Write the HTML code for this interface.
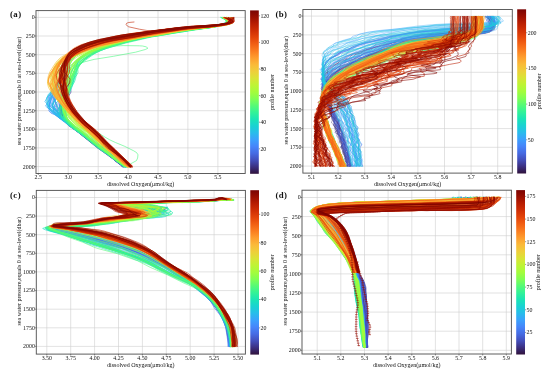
<!DOCTYPE html>
<html><head><meta charset="utf-8"><title>Dissolved oxygen profiles</title>
<style>
html,body{margin:0;padding:0;background:#fff}
body{width:550px;height:376px;overflow:hidden}
svg{display:block}
text{font-family:"Liberation Serif",serif;font-size:5.9px;fill:#111}
text.al{font-size:6px}
text.lt{font-size:8.8px;font-weight:bold;fill:#111;letter-spacing:.4px}
</style></head><body>
<svg width="550" height="376" viewBox="0 0 550 376">
<defs><linearGradient id="tb" x1="0" y1="0" x2="0" y2="1"><stop offset="0.000" stop-color="#7a0403"/><stop offset="0.042" stop-color="#9b0f01"/><stop offset="0.083" stop-color="#b91e02"/><stop offset="0.125" stop-color="#d02f05"/><stop offset="0.167" stop-color="#e4450a"/><stop offset="0.208" stop-color="#f26014"/><stop offset="0.250" stop-color="#fb7e21"/><stop offset="0.292" stop-color="#fe9e2f"/><stop offset="0.333" stop-color="#faba39"/><stop offset="0.375" stop-color="#eecf3a"/><stop offset="0.417" stop-color="#d9e436"/><stop offset="0.458" stop-color="#bef434"/><stop offset="0.500" stop-color="#a4fc3c"/><stop offset="0.542" stop-color="#80ff53"/><stop offset="0.583" stop-color="#55fa76"/><stop offset="0.625" stop-color="#32f298"/><stop offset="0.667" stop-color="#1ae4b6"/><stop offset="0.708" stop-color="#1ad2d2"/><stop offset="0.750" stop-color="#28bceb"/><stop offset="0.792" stop-color="#3ba0fd"/><stop offset="0.833" stop-color="#4685fa"/><stop offset="0.875" stop-color="#466be3"/><stop offset="0.917" stop-color="#434eba"/><stop offset="0.958" stop-color="#3b2f80"/><stop offset="1.000" stop-color="#30123b"/></linearGradient>
<clipPath id="ca"><rect x="36.0" y="10.6" width="209.2" height="162.9"/></clipPath>
<clipPath id="cb"><rect x="302.9" y="9.5" width="209.4" height="163.6"/></clipPath>
<clipPath id="cc"><rect x="36.3" y="190.4" width="209.1" height="163.7"/></clipPath>
<clipPath id="cd"><rect x="302.0" y="190.2" width="209.4" height="163.8"/></clipPath>
</defs>
<rect width="550" height="376" fill="#fff"/>
<path d="M38.3 10.6V173.5M68.2 10.6V173.5M98.2 10.6V173.5M128.1 10.6V173.5M158.0 10.6V173.5M187.9 10.6V173.5M217.9 10.6V173.5M36.0 17.4H245.2M36.0 36.0H245.2M36.0 54.7H245.2M36.0 73.3H245.2M36.0 92.0H245.2M36.0 110.7H245.2M36.0 129.3H245.2M36.0 147.9H245.2M36.0 166.6H245.2" stroke="#cfcfcf" stroke-width=".6" fill="none"/>
<g clip-path="url(#ca)" fill="none" stroke-width=".7" stroke-linejoin="round" stroke-linecap="round">
<path d="M229.3 17.7l-.7 3.9l-3.2 2.2l-3.9 1l-11.3 1.6l-19 1.2l-32 4.1l-23 4.2l-15.7 2.2l-8 1.6l-7.8 1.9l-10.9 3.2l-7.1 2.4l-11.4 4.8l-3.7 2.2l-3 2.5l-2.4 3.1l-1.3 3.6l-1.2 19.1l.9 3.7l1.5 3.6l.7 3.6l-2.8 7.2l-1.1 3.9l-.4 4.1l.4 4.1l1 3.9l2.2 3.5l5.7 5.5l9.1 6.5l16 13.2l12.4 8.9l8.7 7.7l5.4 5.2" stroke="#30123b"/>
<path d="M227.4 17.9l1.5 3.8l-2.7 2.5l-4 1.1l-7.9 1.1l-23.4 2.2l-22.9 3.4l-19.5 2.5l-35 6.4l-7.7 1.8l-18.4 5.9l-7.4 3.2l-6.6 4.2l-6.3 5.5l-3 3.2l-1.7 3.4l0 3.7l1.5 3.8l.9 3.8l.6 3.8l1.9 7.4l-.6 3.6l-2.5 3.5l-1.7 3.7l-1 3.9l-.1 4l.6 3.9l1.1 3.5l2.4 3.2l5.8 5.4l6.2 4.8l9.3 7.8l6.7 4.9l10.1 6.5l2.9 2.5l7.7 8.1l2.8 2.4l3.2 2.1l3.7 1.8" stroke="#33184a"/>
<path d="M229.7 17.8l-.5 3.6l-2.6 2.5l-3.6 1.2l-8.3 1.5l-24 2.3l-35 4.4l-23 4.6l-19.6 3.4l-7.6 1.7l-14.5 4.7l-11.3 4.7l-6.9 3.9l-3 2.4l-2.5 3l-2 3.3l-3.6 7.1l-.4 3.6l1.2 3.7l2 3.8l1.7 3.9l.9 3.9l-.3 3.8l-1.8 3.6l-2.5 7.1l-.5 3.7l.3 3.9l1 3.8l2.3 3.5l5.9 5.8l9.3 6.8l14.9 12.7l28.2 20.6" stroke="#351e58"/>
<path d="M224.5 17.9l4.8 2.3l.5 2l-4.2 1.7l-3.9 1l-8 1.4l-20 1.6l-12 1.8l-15 1.6l-36.6 5.7l-7.4 1.3l-28.3 6.9l-6.9 2.3l-3.2 1.4l-6.4 3.4l-3.2 2.1l-3.1 2.4l-2.8 2.9l-2.6 3.3l-3.9 7.1l-.9 3.6l.1 3.6l1.3 3.7l4.4 7.9l.6 4l-3.4 7.5l-.8 3.8l-.2 3.9l.4 4l.5 3.8l1.5 3.5l2.6 3.1l2.8 2.7l9.6 6.9l12.1 10.3l12.9 9.6l12.7 10.2l6.2 4.5" stroke="#372466"/>
<path d="M224.3 18.3l4.9 1.9l1.5 1.6l-2.9 1.6l-4.6 1l-11.2 1.6l-19.9 1.6l-32.6 4.8l-19.8 2.5l-16.4 2.7l-14.8 3.3l-19.5 5.6l-8 2.9l-7.2 3.9l-3.2 2.3l-3.1 2.8l-3 3.3l-2.1 3.5l-1.3 3.7l-.1 7.7l.5 3.9l1.5 4l2 3.9l.9 3.8l-1.7 3.7l-2.3 3.8l-1.2 3.9l-.4 4l.5 4l1.1 4l2 3.4l5.6 6l2.7 2.6l9.4 7.5l10.4 7.9l12.8 9.1l12.1 9.7l6.8 4.4" stroke="#392a73"/>
<path d="M226.3 17.4l1.3 3.8l-2.6 2.5l-7.2 2l-7.5 1.2l-3.8 .3l-15.9 .8l-15.8 2.7l-27.1 3.4l-27.5 4.8l-22 5.3l-12.3 3.7l-7.3 3.2l-3.2 1.9l-2.9 2.1l-2.5 2.5l-2.3 3l-5.2 10.7l-1.2 3.7l.2 3.8l1.6 3.8l2.2 3.9l1.7 3.8l.1 3.7l-1.9 3.7l-1.4 3.8l-.9 3.9l-.2 3.9l.8 7.4l1.8 3.1l3 2.9l3.3 2.7l7.6 4.9l3.2 2.5l7.8 7.4l3 2.4l10.3 7l3 2.4l8 7.8l2.8 2.4l3.3 2.2l3.9 2.1" stroke="#3b2f80"/>
<path d="M230.9 17.5l-2.5 3.9l-3.4 2.1l-3.5 1l-6.5 .9l-19.8 1.4l-19.6 2.9l-27.5 3.3l-26.5 4.1l-21.1 4.6l-7.5 2l-7.3 2.6l-11.1 4.9l-3.5 2.1l-2.8 2.4l-2.2 3.1l-4.7 11.1l-.8 4l1.6 3.9l3 3.9l2.5 3.9l.9 3.7l-.3 3.7l-4 7.3l-1 4l-.4 4l.3 4.2l.7 3.9l1.9 3.4l3 3.1l3.2 2.7l7 4.4l2.9 2.2l7.2 7.5l3.1 2.6l14.3 9.6l11.2 9.7l7.6 4.8" stroke="#3d358b"/>
<path d="M228.8 18.1l-.3 3.7l-2.8 2.1l-3.6 .9l-7.5 1.1l-51.8 5.6l-26.5 3.9l-15.7 2.9l-23.8 5.5l-3.9 1.1l-6.9 2.5l-10.2 5.2l-3.2 2.2l-2.7 2.4l-2.5 3.1l-1.8 3.3l-1.3 3.5l-.7 3.8l.5 3.9l3.4 7.8l1 3.8l-.1 3.9l-1.1 3.7l-2.3 3.5l-1.4 3.7l-.5 3.9l.1 3.9l1.3 7.7l1.7 3.4l4.8 5.8l2.7 2.3l16.6 11.9l11.6 9.7l22.2 16.4" stroke="#3f3b97"/>
<path d="M225.4 17.6l4.6 2.8l.4 2.1l-4.1 1.5l-8.1 1.3l-39.2 4l-12.9 1.7l-30.5 5.5l-24.5 3.8l-7.1 1.6l-14.6 4.9l-11.2 4.6l-3.5 1.8l-3.1 2.1l-2.7 2.7l-2.4 3.3l-1.7 3.7l-1 3.9l-.2 4l1.2 4l4.5 7.8l1.5 3.8l.1 3.7l-4.2 7.2l-1 3.7l-.4 3.9l.1 3.9l.4 3.9l1 3.4l2.3 3.2l2.7 2.8l3 2.5l6.8 4.8l15.5 13.1l12.8 9.3l15.6 12.8" stroke="#4040a2"/>
<path d="M230.4 17.9l1.7 3.8l-2.3 1.7l-4.7 1l-12.1 1.6l-24.5 2.4l-35.2 4.5l-11.9 2.1l-35.9 7.4l-13.7 4.2l-11.7 4.3l-3.6 1.7l-3.2 2l-2.9 2.3l-2.6 3l-2.4 3.4l-1.8 3.7l-1.2 3.8l.1 3.7l.5 3.7l2.6 11.5l-.5 3.8l-2.5 3.6l-1.8 3.7l-.8 3.9l-.1 3.9l1.1 7.9l1.9 3.4l5.7 5.8l10.1 7l18 14.7l10.2 7l7 5.1l6.1 5.2l2.4 2.5" stroke="#4146ac"/>
<path d="M230.4 18.2l1.3 3.7l-2.6 1.5l-12.7 1.7l-23.7 1.8l-43.4 5.9l-26.7 4.5l-23.6 5l-11.5 3.5l-11 5l-3.5 2.1l-2.9 2.4l-2.5 3.2l-1.7 3.7l-2.1 7.7l-.4 3.7l1.6 3.6l2.4 3.6l1.4 3.7l.2 3.9l-.4 3.8l-3.4 7.3l-1 3.8l-.5 3.9l.2 4.1l.8 4.1l1.5 3.6l5.1 6l2.8 2.3l9.4 6.9l16 12.9l9.7 7l14.9 12.3" stroke="#424bb5"/>
<path d="M222.8 17.6l5.3 2.3l.9 2.2l-4 2l-3.9 .9l-12.2 1.5l-16 .7l-27.7 3.5l-19.4 3.5l-32.4 5.1l-7.5 1.6l-19.3 5.8l-8 2.9l-3.6 1.8l-3.3 2.1l-2.7 2.5l-2.4 3.2l-1.7 3.6l-3.7 11.1l-.2 3.6l.7 3.8l3 8l.4 4l-3.1 7.4l-.8 3.8l-.3 3.8l1 8l1.7 3.6l2.7 3.2l2.9 2.7l9.9 6.8l18.1 14.9l16.6 12.2l10 6.9" stroke="#4451bf"/>
<path d="M226.8 18.0l2.7 3.2l-2.2 2l-8 1.8l-12.2 1.6l-15.6 1l-7.7 .7l-39.3 5.4l-19.8 3.1l-19.8 4.3l-10.4 3.1l-19.3 7.6l-4 2l-3.2 2.5l-2.6 3.2l-1.9 3.6l-3.2 7.9l-.4 3.8l2.1 3.8l2.8 3.8l1.7 3.8l.4 3.7l0 3.8l-1.7 3.5l-3.2 3.5l-1.5 3.5l2.9 8.6l.6 3.8l1.8 3.4l2.7 3l2.9 2.5l9.9 6.8l15.1 12.6l16.2 12l6 4.9l4.8 4.6" stroke="#4456c7"/>
<path d="M227.9 18.1l1.4 3.8l-2.5 2l-3.9 .9l-7.9 1.2l-24.7 2.1l-23.6 2.6l-15.2 2.5l-16 2.3l-22.9 4.4l-8.5 2l-18.8 5.8l-7.1 2.8l-3.8 1.9l-3.5 2.3l-3.1 2.6l-2.8 3.2l-2.2 3.5l-1.3 3.7l0 3.9l2.2 7.9l2.2 11.8l-2.7 7.8l-.7 4l-.7 7.6l-.6 3.1l1 3.1l2.7 3.2l2.9 2.7l10.7 7l3.2 2.5l8.5 7.6l6 5l29.5 21.4" stroke="#455ed3"/>
<path d="M224.1 17.9l5.3 2.3l1.6 2l-3 1.9l-4.6 1.2l-8.1 1.1l-32.1 3l-19.9 3.7l-23.8 3.3l-11 2.1l-13.1 1.9l-4.3 .8l-7.5 2.1l-18.9 7.3l-7.2 3.3l-3.2 1.9l-2.9 2.2l-2.7 2.8l-5 6.8l-2.1 3.8l-.1 3.9l3.5 7.9l.6 3.9l-.9 3.8l-3.6 3.6l-4.3 3.2l-1.9 3.7l1.8 5.8l.6 3.7l.2 2.6l2.9 3.5l3.5 3l6.6 4.7l8.6 7.8l19.8 14.8l17.5 14.4l7.3 5" stroke="#4664da"/>
<path d="M224.6 17.6l4.9 2.7l.2 2.1l-4.4 1.6l-8.3 1.4l-27.8 2.8l-35.4 4.8l-28.3 4.3l-4 .7l-26.9 6.7l-3.9 1.4l-7.4 3.1l-7 3.5l-3.3 2l-2.8 2.4l-2.8 3.2l-2.5 3.7l-1.6 3.8l-.1 4l1.9 3.9l2.8 3.9l1.2 3.8l-1.4 3.9l-5.8 7.4l-1.7 6.7l-.8 4.7l-.5 4.8l1.1 3.4l5.7 5.3l6.3 4.8l10 8.1l19.1 14.4l24.3 20" stroke="#4669e0"/>
<path d="M230.7 17.9l-.9 3.5l-2.8 2.1l-3.7 .9l-8.3 1.1l-21.1 2l-23.7 2.7l-27.3 3.8l-15.2 2.6l-31.3 6.7l-3.7 1.2l-7.8 3.1l-7.7 3.7l-3.4 2l-2.9 2.3l-5 6l-4.4 7.4l-.9 4l.3 4.1l1.9 8.2l.1 3.7l-2.2 3.4l-1 3.6l-.3 2.3l-.9 2l-.8 6.3l.2 4.8l3.3 5.7l2.5 2.7l17.4 12.7l8.9 7.2l12.8 9.4l22 17" stroke="#476ee6"/>
<path d="M229.7 17.6l0 4l-3 2l-4.1 1.1l-10.6 1.6l-37.3 4.1l-31.6 5.3l-18.7 3.6l-16.7 2.8l-7.9 1.7l-3.8 1.1l-7.4 2.9l-10.6 5.4l-3.5 2l-3.1 2.3l-2.8 2.7l-2.6 3.2l-1.9 3.6l-.8 3.8l.7 7.9l-1.4 3.9l-3.6 7.4l-2.1 3.2l-2.8 2.9l.4 3.9l2.4 5l-3.9 3.4l1 3.3l3.8 3.5l2.8 3l9.3 7.5l19.6 14.3l12.2 9.4l13.8 9.7l6.2 5.1l2.5 2.6" stroke="#4773eb"/>
<path d="M227.7 17.8l1.9 4l-2.7 2.3l-4.3 1.1l-8.2 1l-35.7 3.5l-18.6 3.4l-37.3 5.1l-7.4 1.4l-7.7 1.9l-12.1 3.5l-11.5 4.5l-7 3.5l-3.3 2l-2.9 2.2l-2.4 2.9l-2 3.4l-1.3 3.7l-.8 4l-.8 7.9l-.8 3.9l-1.4 3.6l-6 6.5l-1.8 3.9l-.9 4.7l.2 4.6l3.1 3.4l2 2.7l1.1 2.6l8.7 7.8l12.7 9.3l9.3 7.7l6.4 4.9l20.1 13.8l5.7 5l2.4 2.8" stroke="#4778f0"/>
<path d="M223.3 17.7l4.9 2.2l.8 2l-4 2l-3.9 .9l-8 1.2l-21 1.7l-11.4 2.1l-16.1 1.8l-15.5 2.6l-12.9 1.8l-7.3 1.3l-31.6 7l-7.8 2.4l-11.4 5.1l-3.6 1.9l-3 2.3l-2.4 2.8l-1.7 3.6l-1.2 8l-2 8l-.7 3.8l-1.1 3.6l-5.5 6.3l-1.6 3.9l-1.1 4.8l-2.2 4.5l1.1 3.1l3.4 2.8l8.2 7.9l3.1 2.6l10.3 7.6l12.7 10.4l13.5 8.7l7 5.1l6.6 5.5l8.5 7.7" stroke="#467df4"/>
<path d="M229.5 18.0l2.1 3.4l-2.4 1.9l-5 1.2l-12.2 1.8l-19.3 1.2l-16.4 2.9l-20.9 3l-35.7 6.2l-11.9 2.4l-7.8 2l-12.2 4.2l-11.4 5.2l-3.5 2l-3 2.3l-2.9 2.9l-2.5 3.5l-2.1 3.8l-1.5 4l-2.8 11.3l-3.7 6.9l-1.5 3.7l-2.6 8.2l-1.2 4.4l2.2 3.7l2.6 2.9l9 7.2l13.7 9l16 12.4l14.3 9.5l19.7 15.5" stroke="#4682f8"/>
<path d="M225.3 17.6l4.3 2.8l-.2 2.3l-4.8 1.8l-8.6 1.2l-19.8 1.7l-41.4 5.6l-19.4 3.6l-20.2 3.3l-13 3l-18.5 6.4l-4 1.6l-3.6 2l-3.1 2.4l-2.4 2.7l-2.3 3.1l-2 3.3l-3.7 7.4l-2.4 3.8l-1.7 3.9l-.8 3.9l-1.5 3.7l-2.4 3.5l-5.4 6.1l1.1 9.4l-.6 4.8l2.1 2.2l4 1.7l9.4 7.3l20.5 14.6l12.3 9.7l3.4 2.5l15.2 9.6l3.3 2.6l2.7 2.6l2 2.7" stroke="#4687fb"/>
<path d="M229.5 17.8l-.1 3.8l-3 2.1l-8.1 1.9l-12.3 1.7l-16 1l-15.9 2.4l-24.5 3.2l-31 5.5l-23.3 5.9l-7.4 2.9l-14.7 7.8l-3 2.2l-2.5 3l-1.7 3.5l-2.1 8.1l-1.5 4l-1.9 3.7l-2.2 3.5l-4.6 6.3l-1.4 3.1l.2 3.1l-3.3 9l4.7 3.5l3 3.4l2 3l8.7 7.3l23.1 16.8l22 16.6l13.1 10.6" stroke="#458cfd"/>
<path d="M225.9 17.9l2.6 3.7l-2.3 2.5l-4 1l-7.6 .8l-17.1 1.3l-40.1 4.7l-39.5 6.6l-12.4 2.5l-7.6 1.9l-7.6 2.3l-8 2.9l-7.7 3.9l-3.4 2.4l-2.8 2.8l-2.6 3.4l-1.8 3.6l-1.8 7.6l-3 7.6l-2.2 7.5l-1.9 3.6l-4.2 6.4l-1.7 3.9l.6 4l4.9 3.7l2.8 3l1.7 2.7l2.5 2.6l8.8 7.9l6.5 5l13.5 8.9l13.3 10.7l13 8.5l6.5 5.5l3.2 3.7" stroke="#4391fe"/>
<path d="M226.8 17.9l4.1 2.6l0 2l-4.6 1.4l-12.5 2l-20 1.8l-25.1 2.8l-16 2.9l-3.9 .5l-12.3 .9l-8 1.5l-31.7 7.1l-12 3.8l-7.6 3.7l-3.5 2.4l-3 2.8l-2.6 3.2l-2.1 3.6l-.9 3.6l-.7 3.9l-1.3 3.9l-2.3 4.1l-3 4.1l-2.3 3.8l-1.3 3.5l-.6 3.4l-1.7 3.2l1.7 2.8l2.6 3.3l-2.6 4.9l0 3.7l3.7 2.6l9.6 8.1l14.6 9.8l15 12.2l20.8 14.8l6 5.3l2.2 2.7" stroke="#4196ff"/>
<path d="M224.7 17.5l5.5 2.1l2 1.8l-2.3 1.7l-5.1 1.3l-4.1 .8l-8 .9l-15.8 .9l-16.5 2.5l-37.5 5l-20.8 4l-16.3 2.7l-8.2 2l-3.9 1.3l-7.3 2.9l-11.1 5.7l-3.6 2.5l-3.2 2.9l-3 3.5l-2.3 3.8l-1.2 4.1l-.8 8l-1.3 3.9l-6.8 10.9l-2.5 5.9l-3.8 5l1 4.3l17.6 13.5l10.8 7.2l12.9 10l13 9.4l6.5 5.1l16.1 13.7" stroke="#3d9efe"/>
<path d="M229.9 17.9l1.3 3.5l-2.8 1.6l-8.8 2l-12.4 2l-15.6 .6l-29 3.8l-16.3 3.2l-11.9 1.3l-8.5 1.4l-23.3 5l-8.4 2l-7.7 2.9l-10.6 5.7l-3.6 2.4l-3.3 2.7l-2.8 3.2l-1.6 3.4l-.3 7.6l-.8 3.9l-1.9 3.8l-2.8 3.8l-6.4 6.9l-2 3.5l-1 3.7l1 3.3l-.3 3.1l-1.1 4.6l2.5 3.7l4.5 2.7l10 7.2l19.6 14.8l26.8 18.9l6.1 5.2l5 5.1" stroke="#3aa3fc"/>
<path d="M222.7 17.9l6 2.1l2.2 1.8l-2.3 1.7l-4.7 1.2l-12 1.7l-20.9 1.7l-24.7 3.2l-40.4 6.5l-16.7 3.1l-11.9 2.7l-3.8 1.2l-7.5 3l-11.4 5.5l-3.5 2.3l-3.1 2.9l-2.7 3.6l-1.8 3.9l-1.6 8.2l-1.2 3.7l-6.4 10.3l-3.4 7.4l-.2 4.7l1.1 4.9l2.2 3l1.1 2.8l1.7 3l3.2 2.9l10.4 6.9l31.9 24.9l17.1 12.3l6.7 5.8" stroke="#37a8fa"/>
<path d="M226.6 17.5l4.1 3l0 2.2l-4.4 1.6l-4.1 .8l-24.8 3.4l-19.2 1.6l-24.3 4.2l-20.7 2.5l-31.4 7.2l-11.3 3.6l-8.3 3.4l-3.9 1.9l-3.5 2.2l-2.9 2.3l-2.4 2.8l-2.1 3.4l-1.4 3.6l-1.8 7.8l-1.4 3.9l-2 3.8l-4.6 6.7l-2 3.5l-1.3 3.9l1.1 8.2l2 4.3l1 2.8l1.6 2.2l6 4.9l21 14.9l25.4 19.4l9.9 8.4l5.2 5" stroke="#33adf7"/>
<path d="M229.8 18.1l1.9 3.9l-2.9 1.7l-4.7 .8l-17.9 1.5l-15.1 2l-21.6 2.1l-19.3 3.4l-16.2 2.1l-16.3 3.2l-12.9 2.1l-7.4 2.2l-19.3 7.7l-3.4 1.9l-2.8 2.2l-2.3 2.5l-2.3 3.2l-1.8 3.6l-3.1 7.9l-2 3.8l-1.5 3.8l-.9 3.6l-1.3 3.5l-5.5 6.7l-3.2 8.8l-2.4 3.8l13.2 11.4l43.8 31l6.2 4.7l6 5l9.5 8.9" stroke="#2fb2f4"/>
<path d="M222.8 18.3l5.9 2l1.5 1.9l-4 2l-4.6 .9l-8.9 1.1l-31 2.8l-38.2 5.5l-8.1 1.4l-15.7 3.3l-12.7 2l-7.5 1.8l-11.4 4.1l-11.7 5.3l-3.4 2l-2.9 2.2l-2.6 2.9l-2.5 3.5l-1.8 3.7l-.5 4.1l.4 4l-.6 4l-3.1 3.8l-3.9 3.5l-2.5 3.3l-1.4 3.5l-4.2 4.2l-2.5 4.5l3.7 3.7l3.9 3.4l1.6 3.1l1.9 2.8l2.6 2.6l23.5 17.4l20.7 14.2l14.8 12.3l7.7 5.7" stroke="#2cb7f0"/>
<path d="M222.5 17.8l4.6 2.4l.4 2.1l-4.1 1.8l-3.6 .8l-7.3 1.2l-11.7 1.4l-26.2 2.2l-23.1 3.9l-20.9 2.6l-20.4 3.7l-8.5 1.9l-7.7 2.4l-7.6 3l-11.4 5.2l-3.5 2.2l-3 2.6l-2.6 3.1l-1.6 3.5l-1.3 7.8l-1.5 3.9l-2.3 3.9l-12.1 18.4l-.4 4.6l1.1 3.6l3 4.8l3.5 3.4l24.1 17.7l13.9 9.7l18.8 14.3l13 10.6" stroke="#28bceb"/>
<path d="M223.1 17.7l5.3 2.8l.7 2.3l-4.3 1.9l-4 .8l-8.4 1l-20.3 1.2l-12.1 1.2l-16.1 2.9l-16.8 1.7l-20.1 4l-16.8 2.4l-7.6 1.6l-14.8 5.2l-7.7 3.1l-4 1.9l-3.8 2.3l-3.4 2.6l-2.8 3.2l-1.8 3.6l-.8 7.9l-3.6 8l-6.1 14.7l-3.1 4.2l-1.8 3.8l-.5 2.4l.1 2.5l4.1 4l5.3 3.8l18 14.6l13.9 9.5l13.5 10.3l12.9 9.1l6.2 5.2l3.1 3.1" stroke="#25c0e7"/>
<path d="M225.3 17.3l2.8 3.9l-2 2.9l-3.7 1.4l-3.6 .8l-7.8 1l-17.1 1.4l-14.8 2.4l-20.9 2.5l-40.5 7.2l-15 3.6l-11.4 3.8l-7.6 3.1l-3.6 1.8l-3.4 2.1l-3 2.4l-2.8 2.6l-2.5 3.1l-2 3.4l-2.8 7.3l-2 3.7l-10 13.6l-3.2 2.9l-1.4 3.4l.5 4.8l1.4 4.8l8.3 7.8l12 10.7l16.1 11.7l17.3 11.3l6.3 5.2l8.7 8l6.7 4.8" stroke="#22c5e2"/>
<path d="M226.5 18.0l4.1 2.3l.2 1.6l-4.2 1.4l-8.2 1.9l-7.9 1.2l-16.2 1.1l-11.7 1.8l-20.9 2.4l-27.7 4.4l-27.6 5.5l-8.4 1.9l-7.8 2.7l-10.8 5.3l-3.7 2.1l-3.4 2.4l-2.5 2.9l-1.7 3.8l-.9 8l-1.9 3.9l-2.3 3.6l-1 3.5l-.5 3.4l-1.3 3.4l-1.8 3.5l-5.9 13.9l1.3 3.4l2.6 2.2l1.8 2.6l2.8 2.8l10.7 7.4l18.4 15.4l22.8 16.3l6.2 5.1l6.4 5.8" stroke="#1fc9dd"/>
<path d="M229.3 18.0l-1.2 3.5l-3.3 2.2l-7.6 1.9l-11.6 1.9l-16 .9l-23.4 2.6l-19.5 4.1l-12 1.6l-7.2 1.3l-23.4 5.2l-10.5 3.6l-12 5.4l-7.1 4.3l-2.7 2.5l-2.2 3.1l-1.6 3.6l-1.8 7.8l-3.5 11l-1.3 3.3l-2.2 3.3l-1.7 3.8l-1.3 4.1l-2.6 3.1l-1.6 2.9l3.5 4.1l2.8 4.1l1.5 3.2l2.6 2.4l5.7 4.6l9.9 7.2l11.5 9.9l13.6 8.9l6.3 4.9l9.1 7.6l6.6 4.7" stroke="#1ccdd8"/>
<path d="M224.6 17.5l2.2 3.2l-2.1 2.3l-7.4 2l-7.2 1.2l-15.8 1.4l-15.6 2.3l-14.9 1.7l-23.3 3.7l-7.5 1.5l-12 3l-12.2 2.3l-3.8 1l-17.4 6.4l-7.2 3.5l-3.6 2.4l-3 2.8l-2.2 3.2l-1.9 3.6l-1.4 3.5l-.4 3.7l.3 3.8l-.3 3.8l-1.6 3.8l-4.5 7.2l-1.7 3.4l-.3 3.5l.5 3.4l-.1 3.7l-1.9 4.2l-.5 3.2l2.2 3.1l2.9 2.9l25.1 19.4l12.8 9.4l14.2 11.9l6.7 4.9l4.2 2.4" stroke="#1ad2d2"/>
<path d="M227.1 18.2l.1 3.9l-2.7 2.4l-7.2 2l-7.2 1.2l-15.3 .9l-19 3.3l-15.8 1.7l-7.4 1.4l-13.8 3.3l-12.7 1.8l-7.9 1.7l-20.9 6.8l-7.3 3.1l-3.4 1.8l-6.6 4.1l-3.3 2.6l-3 2.8l-2.7 3.4l-2.1 3.7l-1.4 3.8l-.8 3.7l-.1 7.1l-.5 3.4l-1.9 3.3l-2.7 3.6l-.7 4.7l.6 3.8l-.6 2.7l-1.8 4.2l.7 3.6l5.1 5.4l9.2 6.8l11.7 9.9l6 4.6l12.5 8.9l14.5 12l6.8 5" stroke="#18d7ca"/>
<path d="M221.4 17.4l5.9 2.2l2.9 1.9l-.3 1.4l-4.1 1.3l-7.9 1.3l-36.1 4.5l-46.6 7.8l-8.2 1.7l-13.8 4.4l-15.2 4.1l-7.6 3l-7.3 4.2l-3.3 2.6l-2.7 2.8l-2.1 3.1l-9.4 21.9l-1.3 7.1l-.9 3.1l-7.6 7.4l3.9 7.7l.4 3.6l2.4 3.4l2.8 3.2l11.8 10l13.3 9.4l10.8 9.3l16.8 11.1l3.3 2.6l3.1 3" stroke="#18dbc5"/>
<path d="M227.9 17.3l-1.3 3.9l-2.4 2.8l-3.3 1.5l-7.1 1.2l-11.3 1.3l-34.1 5.3l-36.2 6.7l-11.1 2.5l-10.8 3l-10.9 3.8l-6.8 3.4l-9.2 5.9l-2.9 2.5l-2.6 2.8l-1.8 3.2l-4.6 11.1l-5.3 10.3l-3.8 10.4l-.8 3.6l-.3 3.7l1.3 7.4l1.2 3.3l4.3 5.9l2.5 2.4l8.9 6.6l11.7 9.6l15.4 10.9l17.1 14.7" stroke="#18dec0"/>
<path d="M224.8 18.0l2.2 3.7l-1.7 2.2l-3.7 1.2l-11.7 2.1l-19.6 1.7l-21.4 3.5l-15.6 1.8l-32.8 7.3l-7.1 1.9l-18.1 6.3l-7.2 3.2l-3.1 1.9l-2.7 2.1l-2.5 2.5l-2 3l-2.9 7.1l-3.5 7.6l-1 3.7l-.2 3.5l-.5 3.4l-1.4 3.4l-3.4 6.9l-.9 3.6l-.6 3.6l.1 3.7l1.2 7.5l1.6 3.3l4.8 5.7l2.9 2.3l6.4 4.3l6 4.5l17.5 14.1l10.9 9.4l6.4 4.3l3.7 2.1" stroke="#19e2bb"/>
<path d="M222.1 18.3l5.6 1.8l2.1 1.7l-1.7 1.5l-4.7 1.2l-11.6 1.9l-14.6 1.4l-12.1 1.9l-19.7 2.2l-18.6 3.9l-19.5 3.6l-7.7 2l-20 6.4l-8 3l-3.7 1.8l-3.1 2.1l-2.9 2.5l-2.7 2.9l-2 3.1l-3.5 11l-.7 3.9l0 3.8l-.5 3.8l-1.6 3.7l-4.1 7.1l-1.6 3.5l-1 3.5l-.7 3.6l.1 3.7l.5 3.7l1 3.4l2.3 3.2l5.4 5.4l6.3 4.5l15.2 12.1l16.3 11.5l14.7 12.1" stroke="#1ae4b6"/>
<path d="M225.5 18.1l2.5 2.9l-1.3 1.8l-11.9 3.3l-7.8 1.7l-14.6 2.2l-10.8 2l-22 2.7l-7.5 1.3l-32.3 7.6l-11.8 3.3l-10.7 4.3l-6.5 3.7l-6 4.3l-2.9 2.6l-2.6 2.9l-2 3.1l-1.3 3.4l-2.9 10.1l-1.7 3.3l-4.3 6.9l-3.6 7.4l-.9 3.7l-.5 3.5l.3 3.4l1.6 6.9l1.7 3.3l4.8 5.7l11.8 8.7l11.6 10.3l15.6 10.9l14.7 11.3" stroke="#1de7b2"/>
<path d="M225.1 17.7l2 3.3l-1.6 2.4l-3.9 1.6l-3.5 1l-10.9 2.2l-14.6 1.4l-7.4 1l-18.7 3.5l-15.6 2.5l-24.6 5.7l-21 6.6l-7.2 2.6l-6.8 3.5l-5.8 4.2l-2.8 2.6l-2.6 2.9l-2 3.1l-1.2 3.4l-1.3 7.2l-1.2 3.6l-6.2 10.2l-3.2 6.7l-2 7.3l-.4 3.8l.3 3.7l.9 3.3l2.3 2.8l12.1 9.5l19.4 17l18.3 13.2l9.4 7.5" stroke="#20eaac"/>
<path d="M221.9 17.9l4.5 2.2l1.4 1.9l-2.7 1.9l-7.2 2.2l-7.2 1.3l-15.6 2l-48.6 8.2l-26 5.6l-7.7 2.1l-16.8 7.2l-6.9 3.7l-6.3 4.5l-2.9 2.8l-2.1 3l-1.2 3.4l-1.7 7.3l-1.3 3.6l-1.8 3.6l-6.7 10l-1.8 3.3l-1.2 3.5l-1 3.8l-.2 3.9l.5 3.9l1 3.7l2.1 3.2l8.5 7.6l18.4 14l23.7 18.7l8.9 6.4" stroke="#25eca7"/>
<path d="M220.5 17.3l5.4 2.1l2.8 1.8l.2 1.6l-3.5 1.5l-7 1.6l-20.8 2.8l-10.1 2l-15 2l-23.9 3.9l-32.1 7.8l-11.5 3.4l-7.1 2.7l-6.7 3.5l-2.8 2l-2.5 2.2l-8.6 8.9l-2.2 3.6l-.7 3.8l-.1 3.7l-1 3.7l-2.8 7.2l-1 3.6l-2.9 7.1l-.8 3.6l-.3 3.7l.3 3.8l1.2 7.1l2 3.2l2.6 2.8l3.1 2.5l7.1 4.5l3.1 2.3l13.3 12.1l12.6 9.4l15 12" stroke="#2aefa1"/>
<path d="M224.9 17.4l3 3.4l-.7 2.3l-4.1 1.6l-3.6 .9l-7 1.4l-48.9 7.1l-18.3 3.2l-18.2 4.1l-14.7 3.9l-7.3 2.2l-7 3l-16.4 9.7l-3.4 2.6l-3.2 3.1l-2.6 3.5l-1.7 3.8l-.5 3.8l.3 3.7l-.1 3.6l-.9 3.4l-5.1 10.2l-1.2 3.5l-.8 3.6l-.1 3.6l.6 3.8l.7 3.6l1.6 3.2l5.3 5.8l3.1 2.3l6.9 4.4l2.9 2.3l10.7 9.5l12.8 9.2l11 9.3l6 4.5" stroke="#2ff19b"/>
<path d="M223.4 18.1l3.1 3.3l-1.1 2.6l-3.6 1.6l-7.7 1.5l-33.7 5.1l-29 4.8l-24.9 5.8l-19.3 5.4l-6.5 2.3l-6.4 3.3l-13.2 9.5l-2.6 2.9l-.7 3.1l.2 3.2l-1.7 3.3l-3.5 3.3l-2.9 3.4l-1.8 6.6l-1.6 3.4l-4 7l-1.9 7.2l-.1 3.6l.5 3.7l1 3.5l2.3 3.3l5.5 5.4l11.5 8.1l17.6 14.6l20.2 12.8l2.9 2.3l2.3 2.3" stroke="#35f394"/>
<path d="M224.6 18.1l2.1 3.3l-1.3 2l-4 1.2l-9.6 1.8l-34.3 4.4l-15.7 2.6l-21.6 4.5l-14.9 2.8l-10.4 2.7l-25 9.3l-3.3 1.9l-2.9 2.3l-5.8 5.9l-2.1 3.4l-1.5 3.7l-.8 3.7l-1.1 7.4l-1.2 3.5l-6.4 9.8l-1.6 3.3l-.9 3.4l-.4 3.7l.2 3.7l1.4 7.6l1.5 3.4l4.7 5.9l2.9 2.4l9.4 6.5l11.5 9.6l20.9 15.8l9.8 6.5" stroke="#3cf58e"/>
<path d="M224.0 18.0l3.8 2.7l.7 2.1l-3.3 1.6l-4.1 1.1l-10.3 2l-41.7 5.5l-26.4 4.9l-26.2 6.3l-14.1 4.6l-7.1 2.8l-3.4 1.7l-3.1 2l-2.6 2.3l-8.1 8.7l-2.8 3.4l-2.4 3.6l-1.5 3.4l-1 7l-.9 3.3l-5.2 10.3l-1.3 3.7l-.7 3.8l0 3.9l.6 3.9l.8 3.6l1.5 3.1l4.8 5.4l2.7 2.3l18.4 14.1l8.9 7.3l11.6 9.1l6.2 4.5l6.9 4.5" stroke="#43f787"/>
<path d="M223.5 17.9l4.5 2l1.6 1.8l-2.2 1.6l-8.3 2.5l-7.1 1.6l-19 2l-18.5 2.8l-15.2 3.1l-14.9 2.1l-7.4 1.8l-33.2 9.4l-3.7 1.4l-7.1 3.3l-5.9 3.7l-4.8 4.7l-4.6 6.5l-4.4 7.3l-1.5 3.6l-2.2 6.9l-4.8 10.7l-1.3 3.6l-.6 3.8l-.1 3.8l1.4 7.4l1.3 3.3l4.9 5.7l2.9 2.5l6.3 4.7l14.6 12l12 8.9l11.6 9.5l6.2 4.3" stroke="#4ef97d"/>
<path d="M221.5 17.6l5.4 2.1l1.9 2l-2.2 1.8l-4.3 1.4l-7.6 1.7l-7.8 1.4l-26 3.5l-18.5 3.8l-18.4 2.2l-7.8 1.7l-18.5 4.6l-14.3 4.9l-10.3 4.4l-6.9 4l-3.2 2.3l-2.8 2.8l-1.8 3.1l-2.5 7l-3.9 7.4l-1.2 3.7l-2.2 10.3l-2.1 6.9l-.8 3.6l-.5 3.7l.2 3.9l.6 3.7l1.4 3.3l5.3 5.7l8.8 6.8l10.8 9.8l15.6 11.4l11 9.6l6.6 4.2" stroke="#55fa76"/>
<path d="M225.1 17.5l2.4 3.2l-1.5 2.4l-4 1.6l-3.6 1l-7.6 1.7l-3.8 .5l-10.9 .8l-3.8 .5l-12 2.4l-14 1.4l-15.2 3l-11.5 1.7l-25.3 6.3l-7.2 2.3l-13.7 5.6l-6.2 3.7l-5.3 4.6l-5 6l-2.4 3.5l-1.8 3.7l-.7 3.7l-.3 3.8l-.6 3.7l-1.3 3.4l-5 9.9l-1 3.5l-.6 3.8l0 3.8l.8 4l1.1 3.6l2 3.1l5.4 5.4l8.9 6.6l11.3 10.2l14.2 10.2l11.6 10l6.3 4" stroke="#5dfc6f"/>
<path d="M222.3 17.6l3.8 2.6l.8 2.2l-3.3 1.8l-6.1 1.7l-7 1.2l-24.7 2.5l-18.3 3.4l-14.3 1.8l-24 4.6l-3.6 .9l-9.3 3.1l-11.7 2.5l-3.8 1.2l-3.5 1.5l-3.4 1.8l-13.1 8.1l-3 2.5l-2.2 2.8l-4.9 10.7l-1 3.8l.1 7.5l-.9 3.8l-2.6 7.4l-.7 3.7l-.6 7.3l.2 3.6l.6 3.6l1.2 3.1l2.2 3l2.6 2.6l2.9 2.4l6.7 4.6l3 2.5l8.2 7.8l2.9 2.3l12.3 8.5l11.6 10.2l6.3 4.3" stroke="#65fd69"/>
<path d="M225.2 18.0l1.8 3.2l-1.9 2.3l-7.5 2.3l-11.2 2.1l-25.8 2.9l-30.5 4.9l-32.9 7.2l-7.1 1.8l-10.1 3.7l-6.8 3.2l-10.3 5.9l-3.4 2.4l-2.7 2.8l-1.4 3l-1.4 7l-3.3 7.2l-1.7 7.1l-4.6 10.9l-.8 3.7l-.3 7l1.6 7.2l1.6 3.3l4.9 6l2.8 2.3l9.3 6.3l14.7 12.6l26.6 20.4" stroke="#6dfe62"/>
<path d="M224.0 24.0l-69.7 10.3l-22.1 3.9l-12.5 2.9l-7.5 2.7l-6 2.7l16.9-.9l16.2 .2l3.2 .2l3.6 .8l1.8 1.4l-2.6 1.3l-9.8 2.7l-22.1 4.1l-19.3 3.1l-9.1 2.3l-2.9 1l-5.8 3.4l-2.5 2l-4 4.7l-1.8 2.9l-1.4 3.1l-.6 3.1l0 12.8l.4 3l1.1 2.9l1.8 2.9l5.8 8l6.3 7.2l7.2 6.5l7.5 6l8 5.4l5.6 3.2l5.7 2.7l9 3.7l9.3 4.6l2.9 1.8l1.4 2.2l-.4 3.2l-1.1 2.6l-5.8 3.2l-1.7 2.8" stroke="#4af880" stroke-width="0.6"/>
<path d="M228.0 17.6l.4 4.3l-2.4 2.1l-4.2 1.2l-7.1 1.1l-34.2 3.7l-7.5 1.1l-32.6 5.8l-11.2 2.3l-11.1 2.7l-22.3 7.1l-7 2.8l-3.2 1.7l-2.9 2l-2.9 2.5l-2.6 2.8l-2 3l-3 7.1l-1.2 3.7l-.5 3.9l.3 4l-.4 3.8l-1.9 3.6l-4.2 7.1l-.8 3.6l0 7.3l.8 3.8l1.2 3.6l1.6 3.3l2.3 3.1l2.6 2.7l2.6 2.3l12.3 9l14.6 12.2l23.8 18.5" stroke="#75fe5c"/>
<path d="M226.9 18.2l4.5 3l0 2l-4.3 1.4l-8.6 1.5l-26.7 3l-53.2 9l-11.4 2.6l-25.3 7.1l-7.2 2.8l-3.6 1.7l-6.6 3.8l-3.2 2.3l-3 2.5l-2 2.7l-1.6 6.4l-1.9 3.5l-5.4 7.6l-1.6 3.8l-.3 3.6l.3 3.6l-1.4 14.8l.1 3.8l1 3.7l1.4 3.2l2.4 3l2.7 2.8l12 9.4l8.7 7.9l15 11.5l8.3 7.5l3 2.4l7 4.2" stroke="#7dff56"/>
<path d="M223.8 17.5l4.8 2.1l2.1 1.8l-.8 1.6l-4.2 1.4l-11.5 2l-23.5 2.5l-41.9 6.7l-29.2 6.3l-7.7 2.1l-15.2 5l-7 2.8l-3.2 1.6l-2.9 1.8l-3.1 2.3l-3.2 2.9l-2.8 3.2l-2.2 3.6l-1.4 3.8l-.6 11l-3.5 14.7l-.6 4l-.7 8l.8 3.9l1.6 3.6l2.3 3.2l5.4 5.8l2.9 2.4l15.6 12l22.8 20.1l3.1 2.4l7.2 4.8" stroke="#84ff51"/>
<path d="M230.6 17.7l-.2 4l-2.6 1.9l-4.7 1.2l-7.3 1.4l-14 2.1l-23.6 2.7l-10.7 2.1l-22.1 3.7l-26.2 5.7l-7.4 2l-18.4 6.5l-6.8 3.2l-3.2 2l-3 2.4l-8.4 8.5l-2.3 3.2l-1.2 3.3l-.5 7.1l-.7 3.7l-3.3 11.5l-1.1 11.1l.2 3.6l1.3 3.7l2.1 3.4l2.9 3.2l5.9 5.4l11.6 9.1l14.7 12.4l24.5 19.3" stroke="#8bff4b"/>
<path d="M227.5 17.4l1.1 4.1l-2.1 2.3l-4 1.4l-6.7 1.2l-19.7 2.3l-44.6 6.8l-15.4 3l-21.9 5l-7.5 2l-14.3 5.1l-7 3.4l-3.3 2l-6.6 5.1l-3.3 2.7l-3 3l-1.8 3.3l-.1 3.4l1 3.6l.5 3.8l-1.1 3.8l-3.9 7.5l-1.1 3.8l-.4 3.8l.4 7.6l.8 3.7l1.5 3.5l2 3.2l2.6 2.9l8.1 7.9l15 11.7l23.1 19.6l6.4 4.3l3.4 1.9" stroke="#92ff47"/>
<path d="M224.2 17.9l3.9 2.1l.8 1.9l-3.1 1.8l-3.8 1.1l-10.5 2.1l-31 4.1l-22.6 4.2l-18.7 2.9l-15.2 3.4l-21.5 5.8l-11.1 4l-6.8 3.2l-3.2 1.9l-3.2 2.3l-2.9 2.6l-2.4 2.9l-2.2 3.4l-1.9 3.8l-1.1 3.9l.3 8l-.4 3.8l-1.5 7.3l-.5 3.7l-.2 3.9l.5 7.7l1.2 3.8l1.7 3.3l2.4 3.1l2.9 2.8l3 2.5l9.7 6.9l13.6 12.9l15.1 11.5l6 5l5.6 5.4" stroke="#99fe42"/>
<path d="M225.1 17.9l3.5 2.7l-.2 2.3l-3.9 1.7l-6.8 1.4l-35.3 4.9l-29.9 4.6l-26.3 5.2l-21.7 5.7l-10.9 3.7l-7.1 2.9l-3.3 1.7l-3.2 2l-2.9 2.4l-2.4 2.7l-1.8 3.1l-5.2 10.9l-1 3.8l-1.7 15.1l-.4 3.6l.2 3.6l.6 3.7l.8 3.6l3.2 7.3l2.1 3.3l4.9 5.4l8.6 6.5l12.6 11.2l12.3 9.1l11 10l6.3 4.4" stroke="#9ffd3f"/>
<path d="M224.9 17.9l3.3 2.7l-.8 2.3l-4.1 1.5l-3.4 .8l-11.1 1.7l-20 1.5l-22.4 3.4l-15.4 1.9l-7.4 1.3l-33.8 7.2l-18.8 5.9l-6.7 2.6l-6.8 3.8l-3.2 2.4l-2.3 2.8l-1.6 3.4l-4.1 11.4l-.8 3.9l-.1 3.8l1.1 11.3l.2 11.4l.4 3.7l1.2 3.7l1.9 3.4l2.3 3.2l5.3 5.8l2.7 2.4l9.4 6.9l6.3 5.1l8 7.5l12.2 9.8l5.9 5.1l4.9 4.9" stroke="#a7fc3a"/>
<path d="M222.9 18.0l5.1 1.9l1.9 1.8l-2.3 1.6l-4.2 1.2l-11.1 1.9l-27.5 2.8l-31.3 4.9l-18.5 3.3l-11.9 2.4l-30.1 8.4l-7.5 2.6l-3.4 1.5l-3.5 1.8l-3.4 2.3l-3 2.6l-2.4 3l-4.7 7.3l-1.9 3.7l-.5 3.8l.3 3.8l-.4 11.7l.5 4l.7 4l1.4 3.9l1.5 3.7l3.8 6.7l4.3 6l4.9 5.4l18.6 15.1l23.1 21.2l6.4 4.5" stroke="#acfb38"/>
<path d="M223.4 17.8l5.5 1.6l2.3 1.6l-1.5 1.7l-8.2 2.6l-7.4 1.4l-15.2 1.3l-16.3 2.7l-15.8 2l-19 2.9l-7.8 1.6l-15.5 4l-16.1 3.1l-7.9 1.8l-3.6 1.3l-6.9 3l-10 4.8l-3.4 2l-3.2 2.3l-2.7 2.6l-2.1 3.2l-3 7.1l-5 7.7l-.5 3.9l2.5 7.8l.4 4l.1 3.9l.7 4l1.1 3.7l1.9 3.6l2.7 3.3l2.9 3.1l13.9 12.7l8.2 8.6l3.1 2.8l12.6 9.7l10.9 10.1l6.9 5.2" stroke="#b1f936"/>
<path d="M226.5 17.6l2.7 3.2l-1.9 2.4l-4.1 1.3l-3.8 .8l-11.5 1.7l-23.5 2.4l-30.7 4.5l-15.6 3.5l-15.2 2.3l-11 2.7l-18.9 5.4l-6.9 2.4l-7.5 3.5l-3.8 2.2l-3.5 2.4l-2.6 2.6l-1.8 3.1l-1 3.3l-.6 3.5l-1.2 3.6l-4.5 7.5l-1.2 3.8l.5 3.8l2.9 11.5l3 7.1l2.1 3.3l2.5 3l11.3 11.6l17.4 15.3l15.3 12.4l14.2 13" stroke="#b7f735"/>
<path d="M230.1 17.9l-.8 3.7l-3 2l-7.3 1.8l-11.7 1.6l-16.6 1.2l-7.9 1.1l-18.7 3.2l-27.8 3.2l-15 3.5l-11.7 2.4l-7.3 2l-19.4 6.2l-6.9 3.2l-3 1.8l-2.7 2.2l-2.5 2.6l-8 10.1l-2.5 3.9l-.9 3.9l.6 11.9l.8 3.9l1.2 3.7l1.7 3.5l9.6 16.7l2.6 3.2l3.1 2.9l10.3 7.2l2.6 2.5l7.4 8.2l2.9 2.6l12.5 9.9l15.6 12.9" stroke="#bcf534"/>
<path d="M231.4 18.1l1.4 3.9l-2.4 1.5l-13.2 2l-23.7 2l-31.6 4.1l-23.2 3.7l-24.6 4.6l-7.6 1.7l-17.9 5.7l-15 5.7l-3.7 2l-3.3 2.5l-2.8 3.3l-2.1 3.7l-.9 3.7l-1.6 19.2l.7 4.1l1.2 4l1.5 3.7l5.6 10.4l4.2 6.3l2.5 2.9l3.1 2.6l10.4 7.3l3.1 2.7l8.4 8.9l11.3 10.6l7.7 8.1l5.8 4.9l3.4 2.1" stroke="#c1f334"/>
<path d="M227.4 18.1l3.5 3.3l-1.2 2.3l-4.5 1.5l-12.3 1.9l-32 3.2l-15 3.1l-16.4 2.6l-27.6 5.2l-22.7 5.2l-11.4 4l-7.2 3.2l-7 3.6l-6.6 4l-3.1 2.5l-2.8 2.8l-1.9 3.2l-1.3 3.7l-1 8l-2.2 7.9l.3 3.8l1.2 3.6l2.3 3.6l12.5 15.9l5.1 5.8l9.2 8l11.6 10.8l12.5 10.3l10.9 10.1l7.1 5.6" stroke="#c6f034"/>
<path d="M224.3 17.3l5.8 2.2l1.5 2l-3.7 1.7l-4.6 1.1l-12.3 2.2l-19.2 1.5l-8.7 1l-32.5 4.7l-23.8 4.7l-16.3 2.8l-11.3 2.8l-12 3.7l-3.9 1.5l-7.1 3.1l-10.1 5.7l-3.3 2.5l-2.7 3l-1.3 3.4l-1 3.8l-4.2 8.2l-.5 4.1l1.5 3.9l1.9 3.9l2.2 7.3l1.9 3.4l2.4 3.3l12.2 12.4l6.9 8.5l3 2.6l10.6 7.9l2.9 2.8l7.6 8.2l3 2.8l20 16.6" stroke="#cbed34"/>
<path d="M231.6 17.8l.9 3.6l-2.9 1.6l-8.8 2l-11.6 2l-16.3 1.4l-11.8 1.5l-47.7 7.6l-7.7 1.5l-15.6 3.9l-15.7 3.6l-18.9 6.7l-7.5 3.2l-3.2 2l-3.1 2.8l-2.5 3.3l-1.6 3.5l-2.9 8.2l-.7 4.1l.3 3.9l1.4 3.8l3.2 7.2l2.1 3.4l15.9 18.6l5.4 5.7l32.4 30l8.7 8.5l6.1 5.1" stroke="#d0ea34"/>
<path d="M230.6 17.7l2.7 4.2l-2 1.9l-4.6 1.1l-8.5 1.3l-25.4 2.2l-23.4 4l-17 2.3l-15.3 3.3l-16.1 3l-27.4 6.2l-22.9 8.6l-3.7 1.7l-3.7 2l-3.6 2.7l-3 3l-1.8 3.3l-1.2 3.8l-2 12l.4 4l1.5 3.8l1.9 3.5l2.6 3.2l5.6 6.2l9.4 8.9l10.5 11.4l12.3 11l11.3 11.3l21.1 19.2" stroke="#d4e735"/>
<path d="M231.4 17.9l1.8 3.9l-2.3 1.9l-4.9 1.2l-12.1 2l-19.6 2l-8.8 1.3l-59.5 10.3l-31 7.7l-11.3 4.1l-14.9 6.5l-3.5 1.9l-3.3 2.4l-2.8 2.7l-2.1 3l-2 3.5l-1.4 3.9l-.6 4l0 4.2l1.2 4.1l3.3 7.4l2.1 3.2l5 6.2l8.8 8.9l9.7 11.6l2.9 2.6l10 7.8l10.7 11.5l16.4 14l5.5 5.5" stroke="#d9e436"/>
<path d="M226.2 17.9l5.1 2.3l1.4 1.9l-3.2 1.4l-12.9 2l-32 3.4l-33.5 5.2l-41.3 7.8l-11.5 2.7l-23.2 7.8l-7.4 3l-3.6 2.1l-3.7 2.7l-3.3 3.2l-2.4 3.4l-1.8 3.6l-1 3.9l-1.5 8.1l-.4 4.1l1.5 3.9l2.4 3.7l8.9 9.6l9.4 12.6l2.9 3.1l12.8 11.3l8.6 8.4l12.8 11l12.2 11.4l6.1 5.3" stroke="#dde037"/>
<path d="M226.9 17.2l4.7 2.4l1.4 2l-3.2 1.6l-8.3 2l-7.5 1l-17 .7l-17.4 3l-16.2 1.9l-20.2 2.9l-20.2 4.2l-15.8 2.9l-16.5 4.2l-16.2 5.2l-7.3 3.2l-3.1 2.2l-2.9 2.7l-2.7 3.2l-2.3 3.4l-2 3.7l-1 3.9l.2 3.9l-1 8.5l1.1 4.1l2.2 3.8l2.6 3.3l16.6 18.3l11.8 11.5l8.3 9l3.1 2.8l10 7.9l5.8 5.5l8.1 9l3.2 2.9l3.7 2.8" stroke="#e3db38"/>
<path d="M232.4 17.7l-.9 3.9l-3.3 1.8l-4.5 1.1l-11.5 1.9l-20.7 2.1l-31.6 5l-31.9 5.6l-11.9 2.4l-26.6 7.1l-12.1 3.9l-7.2 3.3l-6.5 3.9l-3.1 2.6l-2.4 2.9l-1.2 3.2l-.4 3.8l.1 3.9l-.5 4.1l-1.4 4.1l-.3 3.9l1.1 3.7l1.8 3.5l7.5 9.4l16.9 17.2l8.6 8.3l11.7 11.9l15 13.3l11.7 11.2" stroke="#e7d739"/>
<path d="M222.9 17.4l6 2.1l2.1 1.9l-2.7 1.8l-4.4 1.2l-12 1.8l-16.8 1.5l-12.5 1.5l-60.6 9.5l-12.8 2.6l-39 12.6l-4 1.7l-3.6 2l-3.4 2.6l-2.7 3.1l-2.2 7.2l-2.4 4.1l-2.9 4l-1.1 4.1l1.8 3.9l2.8 3.8l4.2 7.2l5.8 6.8l12.3 11.6l7.3 8.7l2.9 2.9l27.5 24.9l14.4 13.7" stroke="#ebd339"/>
<path d="M231.3 17.8l.4 4l-3.1 1.5l-8.6 1.3l-44.5 5.2l-11.5 2.1l-11.1 1.6l-15.9 2.9l-16.9 2.5l-23.5 5.5l-11.3 3.8l-15.6 6.2l-3.9 1.8l-3.5 2.1l-3.4 2.7l-2.9 3.1l-2.1 3.3l-1.3 3.8l.9 4l1.5 4.1l.1 4.2l-.5 4.2l.8 4.1l2.1 3.6l11.2 12.2l6.8 9l4.9 5.8l2.9 2.8l13.4 11.2l14.2 13.8l12.2 11.2l6.3 5.4" stroke="#eecf3a"/>
<path d="M230.6 18.1l-.3 3.8l-3.5 2.1l-4.1 1.1l-11.8 2l-19.5 1.9l-24.8 3.4l-31.7 5.3l-27.8 5.8l-14.1 4.4l-8.3 2.2l-4.2 1.3l-3.8 1.6l-7.1 3.9l-5.8 4.2l-9.9 8.1l-3.7 3.8l-.2 4l2.1 4.3l2.7 8l1.5 3.7l1.8 3.2l2.5 3l10.6 11.5l10.7 12.6l2.7 2.7l11.8 9.9l11.7 11.9l11.8 10.4l8.5 8.3" stroke="#f1cb3a"/>
<path d="M224.5 17.7l5.4 1.9l1.6 1.8l-3.1 1.7l-4.5 1.1l-11.7 1.9l-15.9 1.5l-17.2 2.9l-13.2 1.3l-7.9 1.1l-36.4 6.3l-12.5 2.5l-11.7 2.7l-7.9 2.3l-8.1 2.7l-11.1 4.8l-6.9 4l-3.3 2.6l-2.8 3l-3.7 6.8l-4.9 8l-.7 4.2l1.8 4.1l6.2 11.1l5.5 6.2l14.7 14.7l15 14.1l10.2 11.6l2.9 2.8l17.2 14l5.6 5.5" stroke="#f4c73a"/>
<path d="M228.7 17.6l3 3.6l-1.9 1.9l-5.1 1.1l-8.4 1.2l-20.4 1.7l-14.9 2.3l-25.5 3l-19.8 3.8l-16.8 2.7l-23.4 5.2l-7.9 2.5l-15.9 5.6l-4.2 1.6l-3.9 1.9l-3.4 2.3l-3 2.9l-2.5 3.3l-4.6 7.3l-1.6 3.8l-.8 4.1l-.2 4.1l1.1 4.1l4.6 7.7l8 9.7l5.6 6l9 8.8l9.2 8.3l11.1 11.2l21.8 20.1l6.5 5.1l3.4 2" stroke="#f6c33a"/>
<path d="M231.3 17.9l-1.6 3.5l-3.3 2.3l-3.9 1.1l-12 2l-19.6 2.2l-12.7 1.8l-26.1 4.9l-18.3 1.9l-4 .8l-10.8 3.2l-18.7 3.8l-7.7 2.5l-22.7 8.9l-3.5 1.7l-3.3 2.1l-3.1 2.5l-2.5 2.9l-1.9 3.2l-1.5 3.6l-1.7 8l-.2 4l1.3 4l2.1 3.8l2 3.5l4.5 6.5l5.1 6.1l16 17.1l12.5 10.7l8.2 8.8l2.9 2.8l16.6 13l6 5.9" stroke="#f8be39"/>
<path d="M228.8 17.6l.2 3.7l-3.3 2.3l-7.6 2.1l-11.6 1.9l-16.2 1.4l-18.7 3.4l-24.9 3.8l-43.5 8.7l-8 1.9l-3.9 1.2l-7.3 2.8l-15 6.3l-3.8 1.9l-3.6 2.2l-3.3 2.5l-2 2.9l-.4 3.3l-.2 3.6l-1 3.8l-2.3 4.1l-1.6 4l1 3.8l4.6 7.1l7.8 9.3l19.1 19.8l12.7 11.6l10.4 10.6l21.9 18.6" stroke="#faba39"/>
<path d="M224.4 18.0l5.7 1.8l2.5 1.6l-1.2 1.5l-4.6 1.4l-12 2.1l-41.5 5.1l-16.5 3.5l-20.3 3l-13 2.8l-11.1 2.1l-11.8 3.1l-16.6 5.3l-7.6 3l-7.2 3.3l-7 3.9l-3.1 2.5l-2.2 2.9l-3.5 7.3l-2.9 8.4l-.1 4.1l1.6 3.9l2.1 3.6l7.6 9.7l16.6 18.5l34.4 30.4l14.5 13.9" stroke="#fbb637"/>
<path d="M230.8 17.9l-1.6 3.9l-3.1 2.6l-3.6 1l-3.7 .5l-16.3 1.4l-28 3.9l-36.3 5.8l-18.8 3.9l-11.6 2l-8.1 2l-8 2.5l-22.9 8.4l-3.6 1.7l-3.1 2.2l-2.5 2.6l-1.7 3.1l-3 7.4l-1.5 4.1l-1.1 4.1l.2 4l5.8 11l2 3.2l4.8 6.3l15.8 17.3l15.5 13.7l11.7 11.4l21.4 18.6" stroke="#fcb136"/>
<path d="M225.9 18.0l4.6 2l1.6 1.8l-2.4 1.4l-4.8 1.2l-11.3 1.7l-41.4 5.3l-16.8 3.3l-19.7 3.2l-19.9 3.8l-8.4 1.9l-7.9 2.3l-23.6 7.5l-7.6 3.2l-3.5 2l-6.9 5.4l-3.2 3.1l-2.5 3.5l-.5 3.8l.9 3.9l-.5 4.1l-1.5 4l.4 4l2.1 3.6l18.9 22.3l5.7 5.9l16.2 13.9l32.9 30.7" stroke="#fdac34"/>
<path d="M225.2 18.1l3.3 3l-1.5 2.4l-4.1 1.2l-19.4 1.8l-35.9 5.5l-16.1 2.9l-19.9 3.1l-20.7 3.7l-7.4 1.7l-7.3 2.2l-20.4 7.1l-7.2 3l-3.1 1.8l-2.9 2.3l-2.6 2.7l-8.1 9.8l-2.5 3.8l-1.3 3.9l.8 4.1l5.3 8l4.1 6.7l4.5 6.1l14.4 15.3l13.9 13.6l6.4 5.7l9.9 8l2.9 2.8l10.4 11.6l2.8 2.4l3.3 2" stroke="#fea732"/>
<path d="M229.6 17.8l2.6 3.6l-1.8 1.9l-4.7 1.2l-11.6 2l-40.5 4.7l-8.1 1.2l-15.8 3.2l-15.7 2.4l-8 1.6l-31.7 7.9l-11.8 3.7l-10.8 4.5l-7.1 3.9l-3.6 2.6l-2.9 2.9l-1.3 3.2l-1.9 11.2l-.9 4.1l.1 4.1l1.5 4.1l1.7 3.6l2.4 3.2l12.9 15.5l5.4 5.8l12.3 10.6l8.8 8.8l11.6 10.7l11.4 11.6l6 4.8" stroke="#fe9e2f"/>
<path d="M223.7 17.8l5.2 2.3l2.3 1.7l-1.4 1.4l-4.4 .9l-24.6 3.2l-20 2.2l-17 2.5l-48.4 8.4l-16.4 3.6l-12 3.2l-7.5 2.8l-7.4 3.4l-7.2 4l-3.6 2.5l-3.3 2.9l-2.5 3.1l-5 7.5l-1.8 4.1l.1 4.4l4 8.6l1.2 3.8l1.6 3.2l16.5 18.6l5.9 6.2l21.3 19.9l28.2 24.2" stroke="#fe992c"/>
<path d="M229.9 17.8l2.3 3.7l-2.4 1.7l-4.7 1l-12.1 1.8l-28.2 2.5l-8.4 1l-11.4 2l-16.3 2.4l-22.5 4.8l-16.8 2.2l-7.9 1.6l-14.7 4.7l-15.6 5.9l-3.7 1.8l-3.2 2.2l-2.9 2.9l-2.1 3.4l-2.6 7.5l-.9 4.1l-.5 4.1l.1 4.2l1 4l3.5 7.6l2.2 3.2l4.8 6.1l22.4 23l10.9 11.9l15.4 13.5l8.4 8l6.9 5.6" stroke="#fe932a"/>
<path d="M229.3 18.0l1.1 3.7l-3 2.3l-3.9 1l-8.2 1.2l-24.5 2.7l-39.3 5.5l-15.5 3.4l-19.8 3.2l-19.4 4.7l-11.3 3.9l-15 6.3l-3.3 1.9l-3 2.3l-2.9 2.7l-2.4 3.1l-2.2 3.3l-1.2 3.7l1.4 7.7l-.2 8.1l.7 3.8l1.7 3.6l4.4 6.5l7.4 9.2l11.3 12.1l14.8 12.6l11.2 11.1l20.3 19.3" stroke="#fd8d27"/>
<path d="M225.2 17.9l4 3l-.5 2.4l-4.3 1.4l-23.2 2.1l-20.4 2.8l-26.7 3.1l-28.7 4.9l-27.4 5.7l-7.8 2.2l-18.7 7.4l-3.5 1.9l-2.9 2.4l-2.9 3.1l-2 3.5l-1 3.6l-.3 3.9l0 3.9l-.9 7.9l.4 4l1.6 3.9l1.9 3.8l4.4 7.1l2.2 3.2l4.7 6.1l10.4 11.6l15 13.2l22.2 22.3l9.8 8.6" stroke="#fc8725"/>
<path d="M232.4 18.2l.9 3.6l-2.9 1.3l-12.5 1.7l-17.3 1.9l-23.3 1.2l-39.4 6.5l-15.6 2.2l-24.3 4.8l-12.4 3.6l-11.4 4.3l-3.4 1.7l-3.1 2.1l-3.1 2.8l-2.9 3.4l-2.2 3.7l-1.7 3.7l-2.9 7.4l-1 3.7l.3 3.9l3.6 8.1l1.1 4l1.6 4l2.1 3.8l4.9 6.9l7.6 8.8l5.7 5.4l9.5 8.3l14.2 14.4l15.5 13.3l8.3 7.8" stroke="#fb8122"/>
<path d="M225.5 17.8l5.9 1.8l2.4 1.7l-1.7 1.6l-5 1.4l-15.7 2.6l-24.1 2.3l-17.2 2.2l-39.2 7.4l-13.7 3.2l-17.5 3.4l-7.5 2.5l-11 4.5l-7.8 3.8l-3.5 2.3l-3.2 2.6l-2.7 3l-1.6 3.2l-1.8 7.1l-1.6 3.8l-2.2 4.1l-1.2 4l.8 4l8 14.4l2.5 3.2l9.3 9.4l7.7 8.8l12.4 10.2l11.7 11.5l20.9 19.1" stroke="#fa7b1f"/>
<path d="M225.1 17.7l5 2.2l1.3 1.9l-3.3 1.7l-3.9 1l-7.5 1l-20.9 1.6l-15.1 2.7l-27 3.2l-21.1 3.6l-33.8 7l-11.4 3.8l-11.1 5.3l-3.4 2.1l-3 2.2l-2.7 2.7l-2.3 3.2l-1.7 3.4l-1.5 3.9l-.4 4l.3 4.1l3.5 19.5l1.3 3.4l3.7 6.9l4.8 6.7l5.4 6l2.8 2.6l12.8 10.2l34.7 33.2" stroke="#f9751d"/>
<path d="M233.3 17.5l-.4 4l-3 1.8l-4.3 1l-12.1 1.6l-27 2.1l-8.3 1.1l-16.4 2.9l-41.4 6.6l-8.4 1.7l-11.8 2.8l-10.5 3l-7.1 2.8l-3.8 1.8l-3.8 2.1l-3.5 2.4l-3.1 2.6l-2.7 3.1l-1.9 3.4l-.8 3.6l-.2 3.9l-.9 4l-1.3 4.1l-.2 3.9l2.7 7.7l2.1 7.3l1.4 3.4l1.8 3.4l4 6.3l2.4 3.1l5.7 6l12.6 10.7l13.1 13.6l16.4 12.9l2.9 2.7l2.6 2.9l2.2 3.1" stroke="#f76f1a"/>
<path d="M232.4 17.4l.2 3.9l-2.9 1.6l-4.5 .9l-10.8 1.4l-16.4 1.1l-8.3 .8l-66.1 9.4l-8.4 1.5l-7.7 1.7l-17.5 4.9l-7.5 2.8l-7.6 3.8l-3.2 2.4l-2.3 2.8l-3 6.9l-4.9 7.7l-.8 3.8l1.6 8l.3 7.9l1 3.8l3.5 7.1l6.3 10.3l2.4 3.2l2.6 3l3 2.7l9.7 7.2l3 2.8l8.2 8.9l11.2 10.4l10.7 11.5l6 5.2" stroke="#f56918"/>
<path d="M228.0 18.3l.8 3.4l-3.2 1.8l-3.7 .7l-10.7 1.5l-19.4 .7l-15.4 2.1l-16.4 1.8l-23 3.6l-15.2 1.8l-24.3 5.1l-3.7 .9l-7 2.4l-10.3 5.1l-3.5 2.2l-2.8 2.5l-2.5 3.1l-2.3 3.4l-1.8 3.6l-1.1 3.8l-.2 3.9l.2 4l-.4 3.9l-2.3 7.6l.6 3.9l4.1 7.6l3 7.4l1.9 3.3l2.2 3l5.4 5.8l6.2 5.6l9.3 7.6l14.2 14.2l15.4 12.4l5.3 5.6l2.4 3.3" stroke="#f36315"/>
<path d="M232.8 18.2l-1.9 3.7l-3.8 1.7l-8 .9l-43.8 3.3l-42.7 5.5l-18.8 3.2l-23.6 5.7l-8 2.2l-3.7 1.5l-3.6 1.8l-3.3 2.2l-2.6 2.6l-2 3.2l-1.6 3.7l-2.5 7.6l-1.9 4l-1.5 4l-.3 4.1l1 4.1l3.1 8.1l2.2 7.3l1.5 3.4l1.9 3.2l4.6 6.6l8.1 9.1l11.5 10.2l13.6 14.2l15.4 12.6l2.9 2.8l2.6 2.9l2.2 3.2" stroke="#f15d13"/>
<path d="M232.2 18.1l0 4l-2.9 2.2l-4.1 1.1l-7.9 1l-23.3 1.8l-20.1 2.7l-34.7 5.5l-10.9 2.5l-16.4 2.3l-8.1 1.8l-10.6 3.6l-14.2 6.4l-3.9 2.1l-3.5 2.3l-3 2.6l-2.9 2.9l-1.5 3.2l.4 6.9l-2.5 3.7l-3.9 3.9l-1 3.8l5.2 7.8l5.3 11l5.6 9.9l4.3 5.8l2.5 2.8l2.9 2.5l13.3 10.2l3 2.7l10 10.9l15.1 13.3l5.4 5.5" stroke="#ed5510"/>
<path d="M232.1 17.9l.3 3.8l-2.7 1.9l-4.3 .9l-23.3 2.4l-35.7 4.3l-42.1 7.5l-27.3 5.9l-10.6 3.6l-6.9 3.3l-3.3 2.1l-2.9 2.4l-2.5 2.8l-2.1 3.2l-1.3 3.3l-.2 3.6l.3 3.6l-.7 3.7l-1.7 3.8l-1.2 4l.2 4l1.6 8l2.5 7.2l1.6 3.4l3.7 6.2l2.2 2.9l2.6 2.7l12.5 10.4l7.6 9.3l2.8 2.8l9.7 7.3l6.2 5.1l5.6 5.4l7.7 8.4" stroke="#eb500e"/>
<path d="M233.0 18.1l-1.5 3.3l-3 2.1l-3.8 1l-11.6 1.9l-19 1.3l-16.8 1.8l-29.9 4.6l-16.1 2.2l-7.4 1.4l-14 3.7l-12 2.3l-7.8 2.1l-7.3 2.8l-7 3.8l-3.1 2.3l-2.6 2.7l-2 3.2l-1.6 3.4l-4.6 7.6l-1.2 4l.3 4.2l2.2 8.2l1.4 7.7l1.1 3.5l1.5 3.3l6.5 9.7l5.3 6.1l3 2.7l9.8 7.4l3 2.8l10 11.8l2.5 2.5l15.5 13l5.5 5.6l2.1 2.9" stroke="#e84b0c"/>
<path d="M228.1 17.8l2.4 3.3l-2.4 2.2l-7.9 1.7l-11.6 1.5l-19.7 1l-23.3 2.8l-12.7 1.8l-13.9 2.7l-20.4 2.7l-11.7 2.4l-22.2 6.8l-3.5 1.5l-3.3 1.7l-3.2 2.2l-6.2 5.6l-3.4 3.6l-2.7 3.6l-1.2 3.7l.5 3.6l.9 3.6l.4 3.7l-.4 12l.3 3.8l.9 3.7l1.3 3.4l1.9 3.2l5.1 6.5l17.2 17l8.1 8.4l11.8 10.2l13.9 13.8l3.3 2.7l3.6 2.6" stroke="#e5470b"/>
<path d="M231.0 17.9l-.5 3.7l-3 2.1l-3.7 .8l-11.5 1.8l-32 2.7l-15.4 1.9l-26.3 4.2l-42.4 8.2l-6.8 2.2l-10.6 4.6l-3.8 2.1l-3.2 2.4l-2.2 2.9l-3.3 7.2l-4.9 7.7l.1 3.8l1.8 3.8l1.3 3.9l.5 3.8l1 3.9l5.6 14.4l2 3.3l2.4 3.1l5.5 5.8l5.5 5.4l11.7 10.1l2.7 2.8l6.6 8.4l2.6 2.7l15.9 13.5l2.8 2.8l2.3 2.8" stroke="#e2430a"/>
<path d="M232.8 18.1l.1 3.8l-2.8 1.8l-4.6 1l-8.1 1.2l-15.5 1.6l-18.8 1.6l-15.9 2.4l-15.8 1.9l-34.5 6.2l-7.4 1.7l-19.1 5.8l-7.8 2.9l-6.7 3.7l-3 2.3l-2.5 2.6l-8.5 13.7l-.8 3.8l.4 3.9l2 7.8l.6 7.7l.8 3.7l1.3 3.6l1.9 3.4l4.5 6.5l5.4 5.9l3 2.7l12.6 10.2l15.7 16.5l15.6 13.3l5.3 5.2" stroke="#df3f08"/>
<path d="M223.4 17.5l5.6 2.5l1.5 2.1l-3.5 2l-3.4 .7l-7.5 1l-21.5 1.3l-7.7 .7l-18.7 3l-19.9 2.2l-34.6 6.1l-15.4 3.5l-11 3.5l-7.1 3.1l-3.8 2l-3.5 2.2l-2.7 2.6l-2 3.3l-.6 3.7l.3 3.7l-.1 4l-1.7 3.9l-2.6 4l-1.3 4l1.2 4l5.3 11.3l1.9 3.4l4.1 6.8l3.6 6.6l2.2 3.1l2.8 2.7l9.8 7.3l3 2.7l10.8 11.6l25.7 24" stroke="#dc3b07"/>
<path d="M228.3 17.8l4.4 2.3l.8 1.9l-3.8 1.5l-4.7 .9l-11.6 1.6l-15.2 1.2l-31.8 3.4l-24.1 3.8l-14.7 3.1l-15.5 2.7l-11.6 2.8l-11.8 3.8l-7.1 2.7l-3.6 1.7l-3.4 2.1l-3.2 2.5l-2.9 3.2l-2.6 3.7l-1.9 3.8l-1.2 4l.3 3.8l2.1 7.7l1.8 11.5l1.1 4l1.4 3.8l1.8 3.7l2.1 3.4l2.1 3l4.9 5.5l5.5 5.5l8.7 8l11 11.6l26.5 24.1" stroke="#d83706"/>
<path d="M230.2 17.5l.9 3.8l-3.1 1.8l-3.8 .7l-11.8 1.5l-24.2 1.2l-24.5 3.3l-14.7 1.4l-27.4 3.8l-23.9 4.8l-7.5 2.2l-14.7 6.6l-3.7 2.2l-3 2.3l-2.3 3l-3.1 6.9l-2.4 3.9l-3 4.2l-1.7 4.2l.9 4.2l5.3 7.9l1.9 3.7l2.7 10.9l1.5 3.4l1.9 3.4l4.7 6.4l5.7 5.8l12.6 10.2l5.6 5.5l7 8.1l2.7 2.6l16.4 13.5l5.3 5.7" stroke="#d43305"/>
<path d="M230.6 18.0l2.2 3.5l-1.8 1.4l-8.6 1.2l-23.1 2.2l-30.7 2.5l-16.5 2.5l-19.8 2.6l-24.3 4.3l-14.2 3.6l-11.9 4l-7.5 3.5l-3.3 2.3l-2.5 2.7l-1.9 3.4l-.8 3.7l-.2 3.8l.1 4.1l1.3 8.1l-.1 4.2l-1.8 8.1l-.5 3.9l.6 3.7l1.3 3.5l2 3.4l2.6 3.4l13.9 15.4l11.9 10.3l2.9 2.9l7.6 8.7l2.7 2.7l15.4 13.1l2.7 2.8l2.2 3" stroke="#d02f05"/>
<path d="M228.6 17.7l3.9 2.9l-.6 1.8l-4.8 1.1l-12.4 1.6l-20.1 1.3l-22.8 2.3l-29.1 3.7l-30.2 5.1l-19.4 4.4l-8.2 2.3l-3.7 1.3l-6.6 3.5l-2.9 2.2l-2.5 2.7l-2.4 3.5l-1.6 3.8l-.7 4l-.3 4.3l-1.1 4.3l-1.7 4.2l-.3 4l3.6 7.6l2.2 7.5l1.6 3.7l1.9 3.6l4.3 6.7l5 6l11.9 10.7l10.5 11.9l11.6 10l11.2 11.4l6 5.5" stroke="#cc2b04"/>
<path d="M134.0 22.0l-5.4 .5l-2 .8l-.5 1.1l1.2 1.6l1.4 .8l10.7 2.4l10.6 1.8" stroke="#c32503" stroke-width="0.6"/>
<path d="M224.8 17.9l6.7 1.8l2.8 1.7l-1.2 1.6l-4.9 1.4l-13 1.9l-19.4 1.2l-7.2 .7l-15.4 2.9l-16.9 2l-11.8 1.7l-34.5 6.2l-8.2 1.7l-11.9 3.8l-10.6 4.5l-3.4 2l-3 2.5l-2.3 2.9l-1.5 3.6l.1 3.7l.6 3.8l-.8 3.9l-2.4 4l-1.5 4l.8 4.1l1.6 4l1.7 7.7l1.1 3.5l1.5 3.5l1.9 3.4l4.6 6.4l5.2 5.9l11.8 10.3l11.4 11.3l8.8 8.2l11.2 11.6l5.6 5.3" stroke="#c82803"/>
<path d="M233.2 17.5l-1 4.1l-3.3 1.7l-4.4 .8l-27.5 2.7l-15.6 1l-15.1 2.2l-20.5 2.3l-11.3 1.7l-31.1 5.7l-7.8 1.7l-11.8 3.7l-7.4 3.2l-3.5 2.1l-2.9 2.4l-2.5 3.1l-2 3.7l-1 3.8l-.4 7.9l-2.3 3.8l-2.8 3.9l.1 3.9l6.4 7.8l2.3 7.6l1.4 3.6l1.9 3.5l4.4 6.4l2.4 3l7.6 8.5l12.2 10.5l15.8 16.2l18.5 16.7" stroke="#c12302"/>
<path d="M226.1 18.2l5.8 1.9l1.8 1.6l-3.1 1.4l-4.9 .9l-8.5 1.1l-19.9 1l-11.3 1.4l-17 1.3l-15.2 2.4l-16.4 2l-39.8 7.2l-7.9 2.2l-3.8 1.3l-7 3.1l-3.5 2.1l-3.2 2.3l-2.8 2.6l-2.6 3.3l-1.8 3.6l-.2 3.8l.9 4l0 4l-1.9 4.1l-2.5 4l-1.1 4l.6 4l1.3 4l3.5 7.8l1.9 3.7l4.9 7l5.4 6.2l5.7 5.3l8.9 7.7l13.7 14.4l18.1 15.9l6 5.7" stroke="#bc2002"/>
<path d="M233.6 17.7l-1.6 3.1l-3 2.5l-3.9 1.3l-4.1 .8l-8.6 1.3l-8.1 .7l-11 .5l-15.5 1.9l-43 6.9l-23.2 4.2l-11.1 2.5l-10.8 3.5l-7.2 2.9l-3.7 1.8l-3.5 2.1l-3.2 2.4l-2.7 2.7l-2.3 3.1l-1.3 3.4l-.4 3.6l.8 7.7l-2.5 11.7l0 3.8l.9 3.7l1.3 3.7l3.6 7l4.4 6.5l5 5.8l2.8 2.8l8.9 7.4l13 13.6l18.5 15.5l5.2 5.3l2.3 2.7" stroke="#b71d02"/>
<path d="M233.9 17.3l.4 3.8l-2.9 1.4l-17.7 2.8l-22.4 1.7l-16.3 1.8l-24 3.7l-23.1 2.6l-12.5 2.3l-17.7 4l-11.6 3.7l-7.7 3.3l-3.7 2.2l-3.3 2.4l-3 2.8l-3 3.4l-2.5 3.6l-1.6 3.7l-.5 3.9l.3 3.8l1 4l3.7 8l.7 4l-.1 3.9l.3 3.7l1.1 3.6l1.7 3.4l2.2 3.5l5 6.5l7.7 8.4l11.9 10.6l7.8 8.5l5.5 5.3l13.8 10.9l3 2.7l2.6 2.7l1.8 2.7" stroke="#b21a01"/>
<path d="M228.3 17.7l4.5 3.1l.1 2l-4.4 1.2l-8.4 1l-27.6 2l-11.5 1.3l-16.2 2.6l-19.2 2.5l-15.5 2.4l-19.9 3.6l-11.8 2.7l-10.8 3.6l-9.9 4.8l-3.4 2.2l-3.1 2.6l-3.3 3.3l-2.7 3.7l-1.5 3.7l-.2 3.9l1.1 7.6l-1.4 8l.5 4.1l1.5 3.8l5.1 10.7l4.2 6.9l2.4 3.4l5.3 6.2l2.9 2.7l12.6 10.2l11.3 11.4l17.7 16.5l5.1 5.4" stroke="#ac1701"/>
<path d="M224.5 17.5l5.7 2.8l1.3 2.1l-4.1 1.6l-8.1 1l-28.5 1.7l-31.8 3.4l-7.8 1.1l-16 3l-22.5 3.5l-12.2 2.6l-8.2 2.1l-11.4 3.8l-6.8 3.5l-3 2.3l-2.3 2.8l-3.6 7.4l-5.4 7.8l-.3 3.9l4.6 7.9l-.1 8.1l.4 3.8l1.2 3.8l3.4 7l4.5 7l5.4 6.4l5.9 5.3l9.6 7.4l2.9 2.9l10.1 11.5l2.8 2.6l12.5 10.5l5.7 5.7l2.2 3" stroke="#a71401"/>
<path d="M226.9 18.1l4.9 2.5l.2 1.7l-4.5 1.1l-12.9 1.6l-22.7 1.2l-8.6 .8l-54.4 7.3l-7.7 1.3l-20.3 4.3l-10.9 2.8l-11.2 4.2l-4.1 1.9l-3.5 2.3l-2.3 2.6l-1.5 3.4l-.5 3.8l.6 8.2l-.9 4.2l-1.6 4.2l-.6 3.9l2.3 7.6l.8 7.5l1.6 3.7l2.2 3.7l5.1 7l7.6 9.1l5.1 5l6.1 4.9l6 5.6l7.9 8.7l14 13.8l5.2 5.9l2.2 3.1" stroke="#a11201"/>
<path d="M228.7 17.6l2.6 3.3l-1.5 2.2l-4.5 1.4l-3.6 .7l-14.9 2l-24.3 1.9l-26.8 3.8l-21.9 4.5l-19.9 2.7l-6.9 1.5l-14.9 4.5l-8.1 2.9l-3.8 1.7l-3.6 1.9l-3.2 2.3l-2.6 2.7l-2.1 3.2l-7.3 14.9l-1.3 4l.2 3.9l3.6 8l2.8 7.6l1.6 3.5l1.9 3.3l4.6 6.2l8.1 8.7l15 13l12.7 13.5l15.9 13.8l5.8 5.6" stroke="#9b0f01"/>
<path d="M225.8 17.9l4.3 2.5l0 2.1l-4 1.6l-3.5 .8l-11.2 1.6l-21 1.2l-19.4 2.9l-14.9 1.2l-3.8 .6l-15.4 3.5l-11.4 1.4l-19.4 3.4l-12 2.9l-8.3 2.8l-3.4 1.5l-5.7 3.2l-2.8 2.2l-2.8 2.7l-3 3.5l-2.8 3.9l-1.9 3.8l.1 3.9l6.5 7.8l-.3 4l-3 4.1l-1.5 4l.9 3.9l5 10.3l2.1 3.3l4.7 6.4l2.7 3.1l3 2.8l9.5 7.7l3 2.8l10.3 11.1l17.9 16l5 5.4l1.9 2.4" stroke="#950d01"/>
<path d="M232.7 17.7l-2.2 3.3l-3.2 2.3l-3.6 1l-11.4 1.4l-21 1.6l-9.9 1.5l-20.6 2.1l-22.3 3.4l-15.7 3.1l-16 2.6l-7.7 1.6l-11.3 3.7l-10.6 4.7l-3.3 2l-2.9 2.3l-2.6 3l-2.3 3.5l-4.3 7.5l-1.7 3.8l-.4 3.9l1.3 11.7l.9 3.9l4.5 10.8l1.8 3.4l4.5 6.7l8 9.2l2.8 2.7l9.1 7.4l5.9 5.2l10.8 11.1l15.2 13.2l5.1 5.9" stroke="#8e0a01"/>
<path d="M231.6 17.6l-2.2 3.6l-3.3 2.1l-6.9 1.5l-6.9 .9l-19.9 1.3l-11.6 1.7l-15.3 1.1l-19.9 3.5l-34.4 5.4l-11.5 2.4l-10.6 3.3l-11.2 4.8l-4 2.1l-3.4 2.5l-2.4 3l-1.4 3.5l-.7 3.6l-1.4 3.8l-2.4 3.9l-1.9 3.9l-.7 4l.4 3.9l1.4 4l4.7 11.2l3.5 6.8l4.5 6.4l5.5 5.9l12.4 10.5l2.7 2.6l7.7 8.5l11.7 11.1l17 16.8" stroke="#880802"/>
<path d="M227.4 17.9l2 2.9l-2.5 2l-14.2 3.3l-7.9 .6l-12.7 .1l-7.8 .8l-19 2.8l-23.4 2.8l-36 6.1l-18.8 5.4l-7.2 2.9l-3.4 2l-3.3 2.3l-2.8 2.5l-5.2 6.1l-2 3.4l-1.6 3.7l-.3 4.1l2.7 8.2l-.4 4l-1.5 3.8l-.5 3.7l.9 3.8l4.1 7.7l2.3 3.6l4.6 6.2l9.9 11.2l15 13.5l6.7 8.2l2.8 2.6l14.4 10l3.3 2.6l2.6 2.9l1.7 3" stroke="#810602"/>
<path d="M233.7 18.2l-1.3 3.8l-3.3 1.4l-4.2 .6l-15.6 1.1l-10.8 1.1l-21.3 1.4l-11.2 1.8l-16.2 1.6l-11.7 2l-15.8 1.9l-23.1 4.6l-11.3 3.1l-7.1 2.8l-7.2 4l-3.2 2.4l-2.5 3l-2.1 3.7l-1.1 3.7l-.4 3.9l.5 12l-1.4 8.1l0 4l.8 3.9l1.5 3.7l2 3.6l4.9 6.6l15.5 17.3l12.3 11.1l8.5 8.6l11.2 10.7l5.3 5.5l4.8 5.6" stroke="#7a0403"/>
</g>
<g class="t">
<rect x="36.0" y="10.6" width="209.2" height="162.9" fill="none" stroke="#555" stroke-width=".95"/>
<path d="M38.3 173.5v1.5M68.2 173.5v1.5M98.2 173.5v1.5M128.1 173.5v1.5M158.0 173.5v1.5M187.9 173.5v1.5M217.9 173.5v1.5M36.0 17.4h-1.5M36.0 36.0h-1.5M36.0 54.7h-1.5M36.0 73.3h-1.5M36.0 92.0h-1.5M36.0 110.7h-1.5M36.0 129.3h-1.5M36.0 147.9h-1.5M36.0 166.6h-1.5M258.8 15.8h1.2M258.8 42.4h1.2M258.8 69.0h1.2M258.8 95.6h1.2M258.8 122.2h1.2M258.8 148.8h1.2" stroke="#333" stroke-width=".5" fill="none"/>
<text x="38.3" y="179.2" text-anchor="middle">2.5</text>
<text x="68.2" y="179.2" text-anchor="middle">3.0</text>
<text x="98.2" y="179.2" text-anchor="middle">3.5</text>
<text x="128.1" y="179.2" text-anchor="middle">4.0</text>
<text x="158.0" y="179.2" text-anchor="middle">4.5</text>
<text x="187.9" y="179.2" text-anchor="middle">5.0</text>
<text x="217.9" y="179.2" text-anchor="middle">5.5</text>
<text x="34.6" y="19.3" text-anchor="end">0</text>
<text x="34.6" y="37.9" text-anchor="end">250</text>
<text x="34.6" y="56.6" text-anchor="end">500</text>
<text x="34.6" y="75.2" text-anchor="end">750</text>
<text x="34.6" y="93.9" text-anchor="end">1000</text>
<text x="34.6" y="112.6" text-anchor="end">1250</text>
<text x="34.6" y="131.2" text-anchor="end">1500</text>
<text x="34.6" y="149.8" text-anchor="end">1750</text>
<text x="34.6" y="168.5" text-anchor="end">2000</text>
<text x="260.4" y="17.7">120</text>
<text x="260.4" y="44.3">100</text>
<text x="260.4" y="70.9">80</text>
<text x="260.4" y="97.5">60</text>
<text x="260.4" y="124.1">40</text>
<text x="260.4" y="150.7">20</text>
<rect x="250.1" y="10.4" width="8.7" height="163.4" fill="url(#tb)"/>
<text class="al" x="140.6" y="186.0" text-anchor="middle">dissolved Oxygen(μmol/kg)</text>
<text class="al" transform="translate(20.8 91.0) rotate(-90)" text-anchor="middle">sea water pressure,equals 0 at sea-level(dbar)</text>
<text class="al" transform="translate(274.1 92.1) rotate(-90)" text-anchor="middle">profile number</text>
<text x="10.0" y="16.5" class="lt">(a)</text>
</g>
<path d="M311.5 9.5V173.1M338.1 9.5V173.1M364.7 9.5V173.1M391.3 9.5V173.1M417.9 9.5V173.1M444.5 9.5V173.1M471.1 9.5V173.1M497.7 9.5V173.1M302.9 16.1H512.3M302.9 34.9H512.3M302.9 53.6H512.3M302.9 72.3H512.3M302.9 91.1H512.3M302.9 109.8H512.3M302.9 128.6H512.3M302.9 147.3H512.3M302.9 166.1H512.3" stroke="#cfcfcf" stroke-width=".6" fill="none"/>
<g clip-path="url(#cb)" fill="none" stroke-width=".7" stroke-linejoin="round" stroke-linecap="round">
<path d="M490.4 16.5l-.1 .4l.3 .7l2.2 2.8l.6 4l1.1 2.8l.1 1.4l-.2 .8l-2.1 1l-3.9 1.1l-4 .4l-40.4 2.1l-12.6 1.1l-3.9 .7l-4.1 1.8l-5.2 1.4l-15.8 2.9l-2.9 1l-7.7 1.8l-1 .7l.3 1.5l-1.2 .7l-8.2 2.1l-6.5 2.9l-8.5 2.5l-4.1 2.1l-5.1 1.5l-6.5 2.5l-4 2.5l-9 3.5l-2.7 2.5l-3.9 2.5l-1.1 1.1l-3.2 3.6l-1.6 2.5l-.6 2.8l-2.7 3.6l0 1.1l1.1 2.1l-.8 2.5l1.4 2.2l-.6 2.5l1.3 2.5l-.3 2.5l3 2.8l.5 1.8l1.3 2.5l.3 2.2l2.1 2.5l0 2.1l.6 1.4l2.1 3.3l2.7 2.1l.5 .7l-.2 .7l-1.1 1.5l-.2 .7l1.4 2.1l.3 2.9l1.5 2.1l.3 1.8l1.2 2.9l.1 2.1l2.3 2.1l.6 1.1l0 1.4l-1.8 2.2l-.2 .7l.4 .7l2.3 1.8l.6 1.1l-.1 1.1l-1.2 1.7l-.2 1.1l1.9 2.5l1 4.3l1.8 2.9l-.2 1l-1 1.1" stroke="#30123b" stroke-width="0.4"/>
<path d="M492.0 16.5l1.2 1.4l-.3 2.2l.1 1l1.7 2.2l.3 1.1l-1.7 2.8l-2.7 2.2l-1.5 .7l-1.3 .3l-4.7 .4l-25.2 1.4l-23.2 2.2l-4 .7l-2.2 1.1l-1.7 .3l-18.8 2.9l-5.4 1l-8.3 2.5l-.4 .4l.4 1.1l-.7 .3l-9.7 2.5l-8.8 3.6l-10.9 2.5l-2.9 2.1l-5 1.8l-2.9 2.2l-8.5 2.5l-3.6 1.4l-1 .7l.2 1.4l-2.2 1.5l-1.8 1.8l-9.1 3.5l-.3 .8l1.1 1.4l-.1 1.1l-1 1l-3.9 2.2l-.8 .7l0 .7l1 1.8l-.2 2.1l1 2.2l-.3 .7l-1.4 1.4l-.2 .7l1.4 2.2l1.8 3.9l.6 3.6l2.9 2.8l.7 1.1l.1 .7l-.6 1.8l0 .7l3.2 2.9l-.5 2.1l.2 .7l3.4 3.6l.9 3.2l1.8 2.2l1 2.1l.3 2.9l-.1 3.2l.4 1.1l2.3 2.5l1 1.7l.8 5.4l1.3 2.9l-.4 4.2l2.2 2.9l.6 2.5l.9 1.8l-.6 4.3l1.8 3.6l.1 3.2l.6 1.4" stroke="#321543" stroke-width="0.4"/>
<path d="M489.9 16.5l-.7 1.1l0 .7l.3 .7l2.4 2.5l.4 2.1l-1 3.3l.2 2.8l-.7 1.4l-1 .8l-4.6 1l-33.1 2.2l-10.3 1.1l-12.4 2.5l-2.8 1.4l-1.5 .3l-9.8 1.5l-6.8 1.4l-6.9 2.5l-8.2 1.8l-6 2.5l-4.5 2.5l-6.9 2.8l-8.7 2.9l-2 1.1l-3.3 2.5l-9.5 3.2l-3 2.1l-4.9 2.5l-3.2 2.2l-6.8 2.1l-2.4 2.2l-.8 1.8l-1.9 1.7l-1.4 2.9l-2.8 3.2l-.2 .7l.4 2.2l-1.7 3.2l-.3 4.3l1.9 2.5l.8 1.8l1.3 1.7l.9 2.2l.9 3.2l2.6 2.9l0 1l-1 2.5l-.1 1.1l.7 1.1l2.6 1.8l.5 .7l.5 5.3l.8 1.1l2.8 1.8l.5 .7l-.3 .7l-1.8 1.8l-.2 1.1l1.2 2.5l2.7 3.9l.2 3.2l1.7 2.9l.6 3.9l1.5 2.9l-.1 3.6l1.4 2.5l-.3 2.1l2.4 2.9l-.1 .7l-1.3 2.5l.2 .7l1 .7" stroke="#33184a" stroke-width="0.4"/>
<path d="M485.8 16.5l.9 .4l2.1 2.1l1.6 2.5l-.1 2.5l.4 2.9l-.1 1.4l-.6 1.4l-1.9 1.1l-6 1.8l-8.2 1l-10.5 1.8l-39.2 3.6l-7.9 1.1l-4.6 1.1l-19.5 6.7l-7.6 2.2l-9.5 4.3l-7 2.5l-2.4 1.8l-5.1 2.5l-4.7 1.4l-1.9 1.4l-8.3 2.9l-2.7 1.8l-1.9 2.5l-5.9 3.5l-1.3 2.5l-5 2.5l-2.8 2.2l-1.5 3.9l.1 2.9l-2.3 2.8l2.9 3.2l.2 1.1l-.5 1.8l.1 .7l2.3 2.5l.6 3.2l2.3 2.9l1.6 3.2l-.3 2.9l2.8 2.5l-.7 2.5l2.3 2.5l.5 2.1l2.7 2.2l.4 .7l-.3 5l.2 1.8l1.9 2.1l.4 2.5l3.1 2.5l-.4 .7l-2.3 1.4l-.4 .8l2.2 1.7l.5 .8l-1.1 1.4l-.2 .7l3.6 2.5l-1 2.2l.4 .7l2 1.8l-.1 .7l-.8 1.8l1.9 2.5l-.2 2.5l1.6 3.2l-.2 .7l-.6 .7" stroke="#341b51" stroke-width="0.4"/>
<path d="M488.5 16.5l1.5 .7l.5 .7l-.2 1.1l-1.3 2.1l-.2 1.1l.6 1.1l1.9 2.5l.2 1.4l-1 2.2l-4.5 2.1l-3.6 1.1l-3.1 .3l-52.7 4.3l-1.6 .4l-.4 1.1l-10.3 1.4l-1.8 .3l-3.7 1.5l-7.4 1.4l-10.2 3.9l-6.4 3.2l-8.6 2.5l-3.1 1.5l-4.2 1.4l-10.7 5l-6.5 2.1l-2.8 2.2l-7.9 3.9l-2.8 2.9l-6.5 4.3l-.6 .7l-.6 1.8l-.7 .7l-5 3.2l-.8 1.4l.2 2.5l-1.7 2.2l-.2 .7l.2 .7l2 2.1l.5 1.1l-.7 2.5l.2 1.4l.5 .8l3.5 2.8l.1 .7l-.6 1.8l.2 .7l2.2 3.6l1.7 4.7l.5 .7l2.5 1.8l.4 .7l.1 2.8l1.6 2.2l.2 2.1l1.1 2.5l-.3 2.5l2.8 2.5l.1 2.5l1.6 1.8l0 .7l-.9 1.8l-.1 .7l3 4.7l.5 4.2l1 2.6l-.2 2.5l1.5 1.7l.3 .8l-1.5 2.5l.4 .7l2.3 1.8l.8 1l1.3 6.1" stroke="#351e58" stroke-width="0.4"/>
<path d="M490.8 16.5l1.3 2.1l-.2 2.2l.4 2.1l-1.4 2.9l1.5 2.5l-.4 .7l-1.4 .7l-5.6 1.4l-39.7 4l-3.8 .7l-2.9 1.1l-3.6 .7l-22.4 2.5l-7.3 1.1l-3 .7l-7.1 2.8l-.8 .7l-.4 1.1l-1 .7l-9.7 2.5l-5.7 2.5l-7.5 2.2l-2 1.4l-2.7 1.1l-2.5 1.4l-6.5 2.1l-4.7 2.5l-11.6 5l-.9 .8l-.6 1l-1.2 1.1l-1 1.4l-3.6 1.8l-2.7 2.2l-3.5 1.8l-.9 .7l-.3 1l.7 2.2l-2.5 2.1l-.3 .7l.1 .8l1.3 2.1l.1 .7l-.4 .7l-2.1 1.8l-.4 1.1l1.7 2.1l-.5 2.2l1.4 2.5l-.1 2.5l3.1 2.8l1.1 2.5l2.1 2.5l.6 1.8l-.4 2.9l.2 1.1l.4 .7l2.8 2.5l0 .7l-.9 1.4l-.1 .7l1.3 2.5l.4 2.5l1.9 4l.1 3.2l4.2 5l-.1 4.3l.7 1.7l.5 2.9l1.3 2.5l-.4 2.5l1.5 2.5l.3 3.6l1.7 3.9l.7 4.3" stroke="#36215f" stroke-width="0.4"/>
<path d="M488.1 16.5l4.7 5l.5 1.1l.1 1l-1.7 4l-1 1.4l-3.5 2.5l-1.3 .4l-4.1 .3l-18.4 1.1l-10.6 1.4l-17.4 1.5l-8 1.4l-14.3 1.8l-10.4 2.1l-2.4 1.4l-5.5 1.8l-1.2 1.1l-1.5 .7l-11.4 3.6l-2 1.4l-4 1.4l-2 1.1l-7 1.8l-1.5 1.1l-5.2 1.8l-2.1 1.4l-6.1 2.8l-6.7 2.5l-4.5 2.5l-.2 .4l.6 1.1l-.2 .3l-8.7 4l-2.3 1.8l-1.7 2.1l-.9 3.2l-2.9 3.6l.3 2.5l-.5 3.9l-1.6 2.9l1.3 2.8l-.5 2.2l.4 .7l4.2 3.6l1.3 2.5l-.2 2.8l.9 2.9l2.9 4.6l-.4 2.2l.9 2.5l-.7 1.8l0 .7l2.9 2.8l.5 1.1l.1 2.1l2.7 3.3l0 .7l-1 1.8l0 1l.6 1.1l2.4 2.5l0 .7l-.5 2.2l2.2 2.8l1.2 2.5l0 4.3l3 3.6l.1 1.1l-1.1 1.7l-.3 1.1l.5 1.1l1.9 2.1l.9 1.5l.1 1l-.7 1.1" stroke="#372466" stroke-width="0.4"/>
<path d="M488.3 16.5l2.6 2.1l2.2 4.3l.4 1.8l.1 1.8l-.2 .7l-.9 .7l-4.9 1.1l-18.2 1.4l-9.7 1.5l-33.9 2.5l-2.6 .3l-4.4 1.5l-11 1.4l-3.4 .7l-5.5 1.8l-6.8 2.8l-16.7 4.3l-3.2 1.5l-5.7 1.7l-4.9 2.2l-5.8 1.8l-1.2 .7l-.7 1.4l-1.2 .7l-4.3 1.5l-2.2 1l-6.8 2.2l-5.5 3.9l-1.9 1.8l-4.1 2.1l-.3 .7l.4 1.1l-.2 .7l-2.8 1.8l-.6 .7l.8 2.5l-1.9 2.2l-.5 1.4l-.2 5.4l1.4 4.6l.8 5l0 1.8l.7 1.1l3 1.8l.7 .7l-.1 1l-1.1 1.8l0 .7l4.3 3.3l0 .7l-.7 1.8l.1 .7l3.4 2.1l.9 1.1l.7 3.2l1.5 2.9l-.7 2.1l-.1 .7l3.3 4.7l1.2 4.3l.9 1.7l-.2 5.4l2.7 2.5l.4 1.1l-.1 2.1l3.1 4l-.1 .7l-.9 1.8l1 2.8l-.4 2.2l1.9 2.5l.1 3.5l1.3 3.6" stroke="#38276d" stroke-width="0.4"/>
<path d="M488.6 16.5l.3 1.8l2.1 3.6l.7 3.5l-.7 4.3l-.7 1.8l-.8 .7l-3.8 1.1l-2.7 .3l-35.9 2.6l-29 3.2l-6 1l-2 1.5l-2.6 1l-1.1 1.5l-9.2 2.5l-10.7 3.9l-2.9 1.8l-3.5 1.4l-1.7 1.4l-6.8 1.8l-2.5 1.8l-5.7 2.2l-2.2 1.4l-6.3 2.8l-6.5 2.5l-5.4 3.3l-3.5 2.8l-4.6 2.9l-2.1 2.5l-4.4 2.1l-.5 .7l-.2 2.2l-2.5 2.1l-.7 2.2l-1.4 2.8l0 1.8l.9 2.9l-.7 1.8l.1 .7l.9 1.8l2.7 2.8l.5 2.5l3 2.2l-.2 .7l-1.6 1.4l0 .7l3.3 1.8l.8 .7l-.4 .7l-1.1 1.1l-.2 .7l2.3 2.5l.6 1.1l.7 2.5l-.8 2.9l.1 .7l2.2 2.5l1 2.8l2 4l.6 2.1l1.1 1.8l.1 1.1l-.8 2.1l1.9 2.1l.2 .8l-1.4 2.1l.4 .7l1.9 1.5l.5 .7l0 .7l-1 2.1l.1 1.1l2.8 2.5l.4 .7l-.1 2.2l1.3 1.7l.1 .8l-1.5 2.1l-.2 1.1l.3 .7l1 .7" stroke="#392a73" stroke-width="0.4"/>
<path d="M485.8 16.5l.4 .7l4.1 2.9l.9 1l-.3 .8l-1.7 2.1l.7 2.9l-.9 3.2l-1.1 1l-1.6 .8l-3.4 1l-2.2 .4l-9.8 1.1l-25 1.4l-13.4 1.1l-4.8 .7l-4.5 1.1l-10.1 1.4l-1.2 .3l-1.1 1.1l-9.3 1.8l-11 3.6l-6.5 3.5l-12.7 4.3l-2 1.1l-2.1 1.8l-2.1 1.1l-12.2 3.5l-1.3 .7l-.3 1.1l-.4 .4l-4.6 2.5l-7.7 3.2l-2.6 2.1l-5.2 2.5l-.4 .8l0 1.7l-.3 .8l-1.6 1.4l-1 2.1l-2.8 2.5l-1.2 1.8l-.2 1.1l.3 1.8l-1.4 2.5l.9 2.5l-.5 2.1l.4 .7l2.3 2.2l.9 2.1l2.5 2.5l.2 .7l-.1 2.9l.4 1.4l1.3 2.2l0 2.1l3.3 3.6l1.4 3.6l1.8 2.5l-.1 .7l-1.3 1.8l-.1 .7l3.2 2.8l.3 1.5l-.3 2.5l3.4 2.5l-.1 .7l-1.3 1.4l.4 .7l2.2 1.4l.8 1.1l-1 2.5l1.2 2.2l0 2.1l1.3 2.2l-.1 .7l-.8 1.8l.8 2.5l-.6 2.1l.5 .7l2.5 2.2l-.4 2.8l2.3 2.9l.2 .7l-.4 .7" stroke="#3a2d79" stroke-width="0.4"/>
<path d="M490.0 16.5l1.3 .7l3 3.2l.8 1.5l.2 1l-.2 .7l-1.7 1.8l-1.6 2.2l-1.8 1l-2.4 .8l-3 .3l-26.6 1.8l-12 1.8l-24.5 1.8l-5 .7l-13.7 3.2l-9.2 3.6l-7.4 1.8l-4 1.4l-8.3 1.8l-9 2.5l-2.5 1.1l-1 1.4l-1.3 .7l-11.4 2.9l-2.5 1.7l-.3 .8l.1 1l-.3 .4l-4.6 2.5l-4.2 1.4l-1.9 1.4l-2.8 1.5l-1 1.4l-2.7 2.9l-4.6 3.2l-.3 .7l1 1.8l-2.1 2.1l-.2 .7l.7 2.2l-.4 2.1l.5 2.5l-.3 2.2l.8 2.5l-1.3 2.1l-.1 .7l1.8 2.5l0 2.2l.7 1.8l-.2 2.1l.8 1.1l3 2.5l.6 2.1l1.3 2.5l.1 2.5l.9 2.5l1.5 2.9l1.3 3.6l2 2.1l.1 .7l-1.2 1.8l.1 .7l3 2.2l-.5 .7l-2.5 1.4l-.1 .7l3.9 2.2l.2 .7l-.6 1l0 .8l2.6 1.7l.5 .8l-1.6 2.1l.3 .7l1.8 1.4l.4 .8l-1.1 2.5l0 1.4l.7 1.1l2.1 1.8l.8 1l.2 1.1l-.9 2.5l.6 .7l2.6 1.8l.1 .7l-1.3 1.4l-.2 .8l2.5 2.8l-.1 .7l-.4 .4l-1.8 .7" stroke="#3c3286" stroke-width="0.4"/>
<path d="M488.2 16.5l2.2 3.9l2 5.4l-.9 3.6l-1.2 1l-5.1 1.8l-3.3 .7l-21.8 1.8l-15.5 2.2l-16.7 1.8l-22.6 3.9l-6.1 1.4l-5.8 2.2l-5.1 2.5l-4.2 1.4l-2.3 1.4l-5.8 1.4l-2.6 1.5l-4.3 1.4l-4.4 2.5l-5.5 1.8l-1.1 1.1l-2.9 1.4l-3.1 2.1l-9.4 3.6l-3.5 2.1l-.3 .8l.1 1l-.4 .4l-4.2 1.8l-1 .7l-2.6 3.9l-4.8 2.5l-.5 1.1l.6 2.1l-2 2.2l-.7 1.4l.4 3.6l-.6 3.6l.6 .7l3.5 1.8l.9 .7l.1 .7l-.5 1.4l.1 .7l2.5 2.2l.7 1.8l.2 2.1l.3 1.1l2.9 4.3l2.2 2.5l-.4 2.1l2.2 2.9l.1 .7l-.4 1.8l.2 1l3.9 8.3l1.6 2.5l.2 1l-.3 3.2l2.2 2.5l.3 .8l-.3 2.8l1.3 4.7l.1 1.8l-.3 2.1l1.8 3.6l.3 3.9l1.8 3.6l0 .7l-.3 .7" stroke="#3d358b" stroke-width="0.4"/>
<path d="M487.8 16.5l1.3 .4l.8 .7l0 .7l-.6 2.1l.1 .7l2.4 2.5l-.3 .8l-1.6 1.4l-.3 1.4l-1.7 .7l-5.2 1.1l-18.7 1.4l-1.8 .4l-.2 .3l.3 .4l-.2 .4l-1.6 .3l-30.4 2.5l-21.2 2.9l-12.5 2.5l-.9 .3l-.9 1.1l-1.7 .7l-11.6 2.9l-18.5 6.1l-9.5 2.5l-1.1 .7l-.8 1.4l-2.5 2.1l-8.4 2.5l-3.4 3.3l-4.6 2.1l-3.9 2.5l-.7 1.1l-.4 2.1l-4.3 6.5l-.8 3.2l.9 2.5l0 1l-1.8 2.9l-.3 1.1l1.9 2.8l-.4 2.9l.3 2.1l3.3 5.4l1.1 2.8l.1 1.1l-1 1.4l-.1 .8l.4 .7l2.6 2.1l.8 2.5l2.2 2.9l.3 3.6l1.6 2.8l-.6 2.9l1.4 2.5l0 2.5l1.2 2.5l3 3.9l.2 .7l-.4 2.2l.2 .7l3.2 2.8l.4 .7l-.2 .8l-1.8 1.7l-.2 .8l1.9 2.5l.9 2.1l2.8 4.7l0 2.1l-.6 5l.5 1.4l.8 1.1" stroke="#3e3891" stroke-width="0.4"/>
<path d="M488.4 16.5l1.3 .4l1.7 1.7l.1 2.5l1.3 2.5l-.8 2.5l1.5 2.5l-1.5 1.8l-1.1 .7l-5.5 1.5l-14.7 1l-20.2 2.2l-31.2 4.3l-13.5 2.8l-2.2 .8l-1.9 1.4l-2.7 1.1l-16.6 3.9l-.8 .3l-2.1 1.8l-9.2 4.7l-3.4 2.5l-14.3 4.6l-2 1.4l-4 2.2l-2.2 2.1l-7.7 3.6l-3.7 2.9l-3.6 4.6l-3.7 2.9l-.5 .7l-.6 2.1l-1.9 2.5l1 2.9l-.1 2.8l.9 1.1l3.8 3.2l.2 4.3l.8 1.1l2.5 1.8l-.1 1.8l.6 2.1l2.3 2.9l-.6 1.8l.1 .7l1.4 2.1l.7 2.5l2.1 2.5l.1 .7l-.6 1.8l.2 .7l3 4l.1 2.8l.6 1.8l2.5 2.5l0 .7l-1.1 1.8l.4 .7l1.7 1.4l.3 .8l-1.1 2.1l-.2 1.1l.9 1.8l2.6 3.5l0 .8l-.7 2.8l1.3 3.9l.3 2.9l1.5 3.6l-.1 1.4" stroke="#3f3b97" stroke-width="0.4"/>
<path d="M489.3 16.5l1.3 .4l1.4 1l.1 4l1.7 3.2l0 1l-.4 .8l-2.8 1.4l-3.2 2.1l-2.6 .7l-10.3 1.1l-9.7 1.4l-27.2 2.2l-17.9 2.5l-3.5 .7l-2.7 1.4l-9.9 2.2l-4.9 1.8l-9 2.1l-1.5 .7l-1.1 1.1l-.9 .4l-7 1.4l-1 .3l-2.1 1.5l-6.9 2.1l-.4 .4l.5 1l-.2 .4l-3.8 1.4l-2 1.1l-13.4 4.3l-.4 .3l0 1.1l-.3 .4l-10.6 5.3l-1.8 1.8l-5.5 4l-6.7 6l-.4 .7l0 1.5l-.7 1.8l0 3.2l-.6 1.4l.4 1.4l1.5 3.2l.1 3.3l2.5 3.2l.4 2.1l1.5 3.2l2.8 2.5l.7 1.1l-.3 2.9l1.3 3.2l1.1 1.1l4.1 2.1l.8 .7l-.1 .7l-1.5 1.5l-.2 .7l1.4 2.1l.1 2.5l3.6 4.3l0 .7l-.8 1.8l1.9 2.9l-.9 2.5l1.7 2.1l-.7 2.5l1.9 2.5l.2 2.5l1.3 2.2l-.5 2.8l1.9 2.9l.1 4.6l.6 4.3" stroke="#3f3e9c" stroke-width="0.4"/>
<path d="M493.0 16.5l1 .7l.5 1.1l-.1 2.8l.4 2.2l-.4 1.8l.2 1l-.9 1.1l-2.5 1.1l-5.9 .7l-37.2 2.1l-7.3 .8l-7.5 1.4l-12.1 1.4l-4.5 1.5l-13 1.7l-3 .8l-3.3 1.4l-11.2 1.8l-2.9 1l-8.3 1.8l-1.1 1.8l-2.3 1.1l-13.8 5l-9.9 2.8l-6.8 2.9l-1.8 1.1l-3.1 3.5l-6.2 3.3l-1.6 1l-3.2 5l-2.1 2.2l-.3 .7l.1 1.1l1.5 2.8l-1.2 2.9l.3 2.5l-1.7 2.5l-.4 1.4l.3 2.5l1.9 2.2l.3 .7l-1 2.1l-.2 1.4l.9 1.5l3.1 2.1l0 3.6l2 3.2l.7 2.1l.1 2.2l2.4 3.9l.2 2.2l1.8 3.9l.1 1.1l-.3 2.1l1.8 2.5l.8 2.9l1.9 2.1l.4 2.9l1.5 2.5l1.4 3.2l.5 2.5l-.4 1.8l0 1l.4 .8l1.9 2.1l-.9 1.8l0 .7l2.8 1.8l.6 .7l-1 2.2l.8 2.1l-.9 2.9l3.1 2.8l.3 1.1l-.4 .7" stroke="#4040a2" stroke-width="0.4"/>
<path d="M487.6 16.5l-.5 .4l.3 .7l2.9 2.8l.7 1.1l-.5 2.1l.6 2.2l-.1 .7l-1.3 1.8l-3.2 1.8l-3.4 1l-4.4 .8l-.4 .3l1 .7l-6.4 .7l-26 1.5l-12.8 1.8l-3.8 .7l-1.9 1.1l-2.3 .7l-9.5 2.1l-14.9 2.5l-9.7 2.5l-2.9 1.1l-11.3 5l-9.3 2.5l-1.1 .7l-.3 1.1l-1.3 .7l-6.6 1.8l-3 1l-4.8 3.3l-4 1.7l-1.9 1.5l-4.5 1.8l-1.2 1l-3 1.8l-2.6 2.2l-2.9 1.4l-1.3 1.4l-2.9 2.2l-1.3 2.1l-.5 2.5l.2 1.4l-.2 .8l-.8 1l-2.3 2.2l-.2 1l2.8 5l.3 3.3l3.3 2.8l0 .7l-.8 1.8l2.3 2.5l0 1.8l1.5 2.9l-.4 1.8l.2 .7l4.3 2.8l.1 .7l-.7 2.2l.1 1.1l2.8 2.1l.8 1.1l.1 1l-.4 1.5l.5 3.5l.9 1.5l2.3 2.1l.5 8.2l1.8 2.5l1.1 2.5l-.1 1.1l-1 1.8l.1 1.1l1.7 2.1l1 1.8l2.7 2.1l.3 .8l-.3 .7l-2.4 2.1l-.5 1.1l.4 1.1l2.7 2.1l.8 1.1l-.1 .7l-.9 .7" stroke="#4143a7" stroke-width="0.4"/>
<path d="M489.6 16.5l-.4 .4l3.2 2.1l1.3 1.4l.4 1.1l-.2 2.1l1.3 2.2l-.4 1.1l-2 1.7l-1 1.5l-.7 .3l-3.7 .7l-33.2 1.5l-10.3 .7l-1.6 .3l-.8 .8l-1.2 .3l-11.9 1.5l-6.9 1.4l-16.2 1.8l-8.2 1.8l-4.3 1.4l-12.4 5.3l-14.9 4.7l-2.2 1.4l-5.2 1.8l-2.3 1.4l-10.4 2.9l-.3 .3l.1 1.1l-.3 .7l-1.2 .7l-5.3 1.8l-1.3 .7l-1.2 1.5l-3 1.8l-.3 2.1l-.6 .7l-4.8 2.5l-1.3 1.1l-2.5 2.9l-.3 .7l.1 .7l1.1 2.5l-1.6 2.8l-.3 4.3l1.7 4.3l2.6 2.5l0 .7l-1.3 1.5l0 .7l3.4 2.5l.1 .7l-.5 1.4l.1 .7l5.6 8.3l.8 2.1l.1 3.2l2.9 2.9l.8 2.1l1.2 1.8l.7 5l2.2 2.5l0 .7l-1 2.2l.7 .7l3 1.8l0 .7l-1.8 1.8l-.1 1l.5 1.1l2.3 2.5l.9 2.1l1.4 5.4l.2 4.3l1.1 3.2l-.1 4.3l.9 1.4l1.5 1.1" stroke="#4146ac" stroke-width="0.4"/>
<path d="M488.1 16.5l-.1 .4l1.6 1.7l.6 1.1l0 3.9l1.5 2.2l.1 .7l-.8 1.8l0 1.1l-3.5 2.8l-5 1.4l-7.5 1.1l-3 1.1l-2.6 .4l-25.3 1.7l-29.1 3.3l-10.1 1.7l-2.5 1.1l-2.7 2.9l-2.1 1l-8.7 2.2l-9.9 2.8l-1.3 1.5l-4.2 1.4l-.6 1.4l-1.2 .7l-4.6 1.8l-5.4 2.5l-10.1 2.9l-1.1 .7l.4 1.1l-.2 .7l-4.2 2.8l-1.5 .8l-8.9 2.8l-2.6 1.5l-.6 1.4l-.9 1.1l-1 1.7l-1.6 1.8l-3.1 2.5l-.1 .7l.7 1.8l-2.4 2.9l-.3 1.8l.1 .7l-.2 1.8l1.7 2.5l.5 2.1l1.8 2.5l.3 .7l-.2 1.8l2.9 2.5l.3 .7l.3 2.2l3.5 5.3l.2 1.1l-.5 2.2l0 .7l3.2 2.1l.5 .7l-.3 3.2l.6 2.9l3.5 7.5l.2 2.9l2.2 3.2l.3 1.4l-.4 2.1l3 2.9l-.2 .7l-1 1.8l1.5 3.2l.1 2.5l.5 1.8l1.6 2.9l.5 1.4l0 1.1l-1 2.5l.3 1.4" stroke="#4249b1" stroke-width="0.4"/>
<path d="M485.4 16.5l.5 2.5l2.5 4.3l.5 2.1l-.3 1.1l-1.5 2.5l-.4 1.4l-1.3 .7l-7.2 1.8l-26.1 1.8l-25.1 2.9l-3.5 .7l-5.2 1.8l-7.7 1.4l-4.5 1.4l-8.8 1.8l-7.6 2.2l-4 1.8l-6.4 1.7l-.6 .8l.8 1l.1 .4l-.5 .3l-8.2 2.2l-4.1 1.8l-6.3 1.8l-2.8 1.4l-4.9 1.8l-2.1 1.4l-2.5 2.1l-4.7 1.8l-6.1 3.2l-2 1.8l-3.3 2.2l-3.5 3.6l-.9 1.4l-2.2 1.8l-1.2 1.8l-.1 .7l2 2.1l.2 .7l-.3 .7l-2.3 1.8l-.8 1.1l-.1 1.1l1.2 2.5l-.7 2.1l0 .7l.7 1.1l2.1 2.1l.4 1.5l-.3 2.1l2.8 3.6l.8 2.1l1.3 1.8l1.6 3.6l1.6 2.5l.5 2.1l2.3 4l.3 2.1l-.1 2.2l1.7 2.5l.3 2.5l1.4 2.8l-.3 3.2l.7 1.1l2.2 1.8l.5 .7l0 1.1l-1 2.1l-.2 1.1l.5 1.1l2.2 2.5l.3 1l0 3.6l2.6 4.3l0 .7l-.7 2.2l1.3 3.2l-.3 1.4" stroke="#434eba" stroke-width="0.4"/>
<path d="M488.0 16.5l.6 1.1l2.9 2.5l.7 1l-.5 2.9l.5 3.9l-.5 .7l-4.4 2.5l-1.7 1.8l-4.9 .7l-44.6 2.6l-9.6 1l-1.8 .7l-.2 .8l-.9 .7l-5.4 1.8l-4.7 1l-12.4 2.2l-5.9 2.1l-8.1 2.2l-4.7 1.7l-2.4 1.1l-2.2 1.4l-5.7 1.8l-5.4 2.9l-19.1 7.1l-.9 .7l1 1.8l-.6 .7l-11.3 4l-4.7 2.8l-.1 .8l1 1l0 .7l-6 3.6l-1.5 2.5l-.9 3.2l-.2 2.5l-1 2.5l.1 1.1l.4 1.1l1.5 2.1l.6 2.5l3 2.9l0 .7l-1 1.8l.6 1l3.2 3.3l-.3 2.8l3.1 3.2l-.1 3.6l.3 .7l1.7 1.8l0 .7l-.8 1.8l1.6 2.5l.2 2.9l2.8 3.9l.4 2.9l1.7 2.5l-.4 1.7l.1 .8l2.6 2.5l0 .7l-.9 1.8l-.2 1l.6 1.1l2.5 2.5l.1 .7l-.4 1.8l1.2 2.2l.2 2.5l1.1 3.5l-.4 4l.4 1l.9 1.1" stroke="#4451bf" stroke-width="0.4"/>
<path d="M488.9 16.5l.9 .4l1.2 1.4l.3 .7l.2 1.8l1.2 2.1l0 .7l-1.5 1.8l-.2 .7l2 2.5l-1.1 1.1l-3.2 1.8l-4.1 1.1l-9 .7l-9.7 1.4l-21 1.5l-25.3 2.8l-19.8 5.4l-3.8 1.8l-16.6 6l-4.7 2.2l-11.8 3.9l-3 1.8l-6.7 2.5l-3.7 2.8l-10.1 4.3l-1.2 1.1l-.9 2.5l-.7 .7l-6.9 3.2l-1.7 1.1l-1 2.5l0 1.8l-.3 1.1l-.9 1l-2.5 2.2l-.6 1.1l.1 1l1.4 2.2l-.6 2.8l2.6 4l-.4 2.5l.3 1l2.2 2.5l1 2.9l2.4 2.5l1 1.4l-.2 2.2l1.6 2.5l0 2.5l2.5 2.8l.3 2.2l.8 2.1l-.2 2.2l1.8 2.5l-.1 2.5l2.4 2.1l.5 .7l-.7 2.5l1.3 2.5l.7 2.2l1.3 2.1l.2 2.5l1 2.2l-.5 2.5l2.2 2.5l-.1 .7l-.8 1.8l.3 .7l1.4 1.8l.5 2.8l1.3 2.2l0 1l-.7 1.1" stroke="#4454c3" stroke-width="0.4"/>
<path d="M488.0 16.5l.5 .4l-.4 2.1l.4 2.5l1.2 2.5l.1 1.1l-1.4 3.2l.3 1.8l-1 .7l-4.5 1.1l-10.1 1.4l-28.6 2.5l-9 1.8l-11.5 1.4l-15.1 2.9l-8.1 2.1l-7.4 1.4l-1.5 .8l.4 1l-.7 .4l-10.5 2.5l-1.9 .7l-2.2 1.8l-2.3 1.1l-15.1 4.2l-.9 .8l-.2 1l-.7 .7l-5 2.5l-5.9 3.6l-8.4 4.3l-5.9 3.6l-.5 1.1l0 1.7l-.4 .8l-4 2.1l-1.3 1.1l-.7 1l-1.7 4l-.9 3.9l.1 1.4l.6 2.2l-.8 2.1l.8 .7l3.5 1.8l.2 .7l-1 1.8l3.3 2.9l.1 2.1l1.9 2.5l.1 2.2l1.1 1.4l2 3.9l1.1 1.5l.7 1.7l2 3.3l0 .7l-1 1.8l0 .7l2.6 2.8l1.2 2.5l.3 1.5l-.8 2.5l.3 .7l1.5 1.8l.3 2.1l1 2.1l-.2 .8l-1 1.4l-.1 .7l3.2 2.5l-.2 .7l-1 1.1l0 .7l3.4 2.2l.4 .7l-.8 2.1l-.1 1.1l1.5 3.6l-.1 5l.9 2.1" stroke="#4456c7" stroke-width="0.4"/>
<path d="M486.5 16.5l.6 1.4l2.9 2.5l.5 .7l.2 .8l-.7 1.7l-.1 2.5l-1.7 3.6l-1.3 1.1l-4.1 1.1l-38.6 3.9l-2 .4l-3.1 1l-4.6 .7l-21.7 2.2l-3.7 .7l-4.8 1.8l-9.3 2.5l-9.8 3.6l-4.5 3.9l-1.5 .7l-10.5 2.5l-9.4 2.9l-1.6 1.4l-3.4 2.1l-5.6 2.2l-3.2 1.8l-1 .7l-.9 1.8l-5.5 2.5l-.8 1l-3.3 1.8l-.9 1.1l-2.5 1.4l-1.3 1.5l-1.9 1.4l-.4 2.1l-1.6 2.2l-1.9 4.3l-.3 4.2l.8 3.3l-1.7 2.5l1 1l3.9 1.8l1 .7l.1 .7l-1 1.8l.2 1.5l3.3 2.8l-.9 2.2l2.7 2.1l.4 .7l-.3 2.2l1.7 2.5l0 2.5l1.1 1.8l1.1 2.8l1.4 2.2l1.2 5l-.3 1.7l3.3 3.6l0 .7l-.8 1.8l1 3.2l.2 3.2l1.1 2.6l0 2.1l2.3 3.2l.1 2.2l1 1.7l.1 .8l-.5 2.5l.5 1.4l1.2 2.1l-.3 1.1" stroke="#4559cb" stroke-width="0.4"/>
<path d="M488.0 16.5l.2 .4l-.8 1l.1 1.5l.7 1.4l2.2 3.2l.3 1.4l-.5 1.1l-2.4 1.4l-7.7 1.8l-12.2 1.8l-23.8 1.8l.1 .3l3.6 .8l.7 .3l-1.7 .4l-19.1 2.5l-20.8 2.1l-4.3 .7l-1.7 .8l-1.1 1l-1.3 .7l-9.7 2.5l-8.8 3.3l-5.5 2.5l-7.5 1.7l-3.4 1.1l-2.2 1.1l-4.4 2.8l-5 1.8l-3.1 1.5l-5.4 1.7l-5.7 4.7l-5.2 1.8l-1.1 .7l-.5 1.4l-3.5 3.6l.2 1.4l-.3 .7l-3.6 2.5l-.9 1.1l-.2 .7l.8 2.5l-1.4 3.6l.3 4.6l-.7 3.3l.4 .7l4 2.5l0 .7l-.9 1.8l.2 1.4l1 1.4l3.6 3.6l.1 .7l-1.2 2.2l.1 .7l2.6 2.1l1 1.8l.1 2.9l1.6 2.5l-.1 2.5l2.2 3.5l1.5 3.6l.4 2.2l-.1 1.7l1.3 2.9l-.3 2.5l3.9 2.1l.6 .8l-.2 .7l-1.3 1.8l0 .7l1.9 3.6l1.3 3.5l.2 1.8l-.5 4.3l2.3 3.2l-.3 2.9l.8 1.4" stroke="#455ccf" stroke-width="0.4"/>
<path d="M491.5 16.5l.8 .4l.3 .7l.3 2.1l-.2 1.8l1 2.1l.3 1.8l-1.3 1.5l0 1.7l-2.3 1.1l-5.9 .7l-41.8 2.2l-18.9 1.4l-8.8 1.1l-15.7 5l-9.1 1.8l-7.7 2.1l-3.9 1.8l-13.8 2.9l-2.1 1.4l-1.6 .7l-7.9 2.1l-2.4 1.5l-4.1 1.8l-3.3 3.2l-7.1 2.1l-4.8 2.5l-1.6 4.3l-4.4 3.2l-1.3 1.5l-.4 1.4l.5 2.1l-.1 .7l-1.6 2.2l-.4 1.1l-.1 1l.8 2.5l-.7 2.9l.5 1.8l.2 2.8l2.2 4.3l-1.2 3.6l.7 1.1l4.2 2.8l.1 .7l-1 2.2l.8 2.1l.3 1.8l3 3.6l.3 1.4l.1 2.9l1.5 2.1l.6 2.2l3.3 3.2l-.2 2.1l.4 2.2l0 2.5l.6 1.4l1.9 2.5l1 3.2l1.4 2.5l.2 2.5l1.9 3.9l-.5 3.3l2.4 2.8l-.2 2.2l1.2 2.5l-1 2.1l0 1.4l1.6 3.6" stroke="#455ed3" stroke-width="0.4"/>
<path d="M490.2 16.5l1.6 .4l1.7 1.4l.4 1.1l.1 1.7l1.1 2.9l-.5 1.4l-1.1 1.8l-2.1 2.2l-1.4 .7l-2.9 .7l-45.2 3.9l-23.2 2.5l-3.2 .7l-4 1.5l-18.8 3.5l-3 1.5l-7.9 1.8l-6.1 2.1l-1 .7l-.2 1.4l-1.1 .8l-9.2 1.7l-2 .8l-.7 .7l-.4 1.4l-1 .7l-12.8 4.7l-1.6 1l-1.5 2.5l-1.5 .7l-6.1 1.8l-3.2 1.5l-1.5 1l-.9 1.8l-.6 .7l-4.1 1.8l-1.1 .7l-.4 .8l0 1.4l-1.4 4.6l-1.9 2.5l.3 .7l1.8 1.8l.3 .7l-.7 4l.3 2.5l-.3 2.1l2.7 2.5l.5 2.9l2.5 2.1l1.4 2.5l.1 1.4l-.9 2.9l.2 .7l1.7 1.8l3.7 2.5l.4 .7l.2 2.2l1.6 1.8l-.1 .7l-2.1 1.8l-.2 .7l3.3 2.8l.2 .7l-.5 2.2l.1 1.4l.6 1.1l3.3 3.9l.4 1.1l-.2 2.5l.4 1.8l2.6 3.5l0 .8l-1 2.1l.3 .7l1.9 2.2l.7 1.4l0 .7l-.7 2.2l2.3 2.5l0 .7l-.6 1.8l1.6 2.8l.3 4.3" stroke="#4661d6" stroke-width="0.4"/>
<path d="M493.1 16.5l.8 .4l.9 1.4l-.3 2.8l.7 2.5l-.1 .8l-2.1 1l-3.1 .7l-7.5 .8l-40.5 2.1l-17.5 1.4l-17.1 2.5l-8.7 2.5l-15.3 2.2l-12.6 2.5l-9.3 3.9l-6.9 1.8l-4.4 2.5l-9.5 3.2l-1 .7l-1.4 1.8l-1.4 1.1l-7 2.8l-.6 1.8l-3 1.8l-.8 1.4l-.2 2.2l-2 2.1l-.8 1.8l1.2 5.4l1.2 2.5l-1.1 3.2l.1 1.4l.7 1.8l2 3.2l3 1.5l2.3 1.4l4 1.8l.7 .7l.3 1.1l.6 .7l7 3.2l2.5 1.8l.1 2.5l1.7 2.1l.2 2.5l1.4 2.2l0 .7l-.9 1.8l.2 1l4.3 4.7l.8 1.4l0 1.4l-.6 2.9l.7 2.1l2.1 2.9l.3 1.1l-.4 2.1l1.5 3.2l-.6 2.9l0 1.4l1.2 3.9l2.6 2.9l-.1 1.1l-1.1 1.8l-.3 1.4l.9 3.6l-.4 4.3l.5 2.5l.1 2.5l1.4 3.5l.1 1.1" stroke="#4664da" stroke-width="0.4"/>
<path d="M491.6 16.5l2.6 2.1l-.1 2.2l1.6 2.5l-.1 .7l-1.3 .7l-7.6 1.4l-20.7 2.2l-31.1 2.1l-24.6 2.5l-4.8 .7l-25 5.1l-5.9 2.1l-8.7 2.1l-.7 .4l-1 1.4l-1.7 .7l-19 4.7l-.8 .3l-2.5 2.2l-.6 1.8l-7.7 3.2l-3 1.8l-.4 .7l0 1.4l-3.1 2.9l-1.5 1.8l-1.3 3.2l-.2 2.1l1.2 2.9l.2 1.1l-.5 1l-2.3 1.8l-.5 .7l.4 .7l2.3 1.5l.4 .7l-2.4 2.1l-.2 .7l2.8 3.3l.4 1l.2 2.9l4 5.7l.1 .7l-.7 1.8l0 .7l.5 .7l2.5 2.2l.1 4.6l.9 1.1l2.7 2.1l2.4 2.9l.1 2.5l.6 1.1l2.2 2.1l.2 2.5l1.4 2.5l.3 2.2l1.8 2.5l-.8 1.7l0 1.1l3.1 3.6l.1 1.1l-1.1 2.1l.3 .7l1.6 1.8l-.1 .7l-.9 1.8l.3 .7l2 2.2l.4 1l-1 5.4l2.5 3.2l.1 2.5l.8 1.8l.7 3.6l.9 1.4" stroke="#4669e0" stroke-width="0.4"/>
<path d="M493.1 16.5l1 .4l1.4 1l1.3 1.8l.6 1.4l.2 1.5l-.3 1l-1.9 1.1l-6.2 1.1l-18.1 1.1l-22.8 2.1l-22.6 2.5l-9.2 1.8l-17.1 1.8l-8.7 1.8l-2.3 .7l-1.4 1.1l-1.3 .3l-7.9 1.4l-6.7 1.8l-12.1 2.5l-7.2 4l-7.9 2.1l-6.1 2.9l-1.1 .7l-1 1.4l-4.7 2.1l-4.6 3.3l-.6 1l-1.2 4.3l-1.7 3.2l.3 2.2l0 4.6l-1.1 2.9l.2 .7l1.8 2.5l.4 1.1l-1.1 2.1l0 .7l.6 .7l3.7 2.2l.9 1.4l1.2 1.1l.5 1.8l2.6 1.8l.7 .7l.1 1l-.7 1.5l.3 1l2.6 3.6l.7 1.8l4.1 3.2l.2 .7l-.3 1.8l1.2 4l.4 .7l2.2 1.8l.4 .7l-.1 3.2l.2 1.8l1.1 2.1l1.6 2.2l-.1 2.5l2.1 2.8l-.5 2.5l.3 1.8l.8 2.1l1.9 2.5l-.1 .8l-1.1 2.1l.3 .7l1.5 1.4l.3 .8l-.1 5.3l1.6 4.7l0 3.2l.7 3.6l-.1 1l-.6 1.1" stroke="#466be3" stroke-width="0.4"/>
<path d="M490.9 16.5l1.5 1.4l2 2.5l-.1 1.1l-1 3.2l-.9 .7l-3.5 1.1l-1.4 .7l-4.2 .7l-4.9 .4l-36.4 1.8l-19.1 1.4l-13.7 1.4l-10.2 1.8l-10.4 1.5l-1.2 .3l-2.4 1.4l-4.3 1.5l-10.3 2.1l-10.9 2.9l-7.1 2.5l-1.4 .7l-.8 1.1l-3.3 2.1l-7.1 2.5l-2.8 2.1l-3 1.5l-5.6 3.5l-2.7 3.6l.1 2.9l-2.8 2.5l0 .7l1.1 1.4l.1 .7l-2 2.2l-.2 2.5l-1.1 2.1l.6 1.1l2.5 2.1l.4 1.1l-.5 1.1l-1.5 1.8l-.1 1l2.8 3.6l-.2 2.5l.4 .7l3.4 2.5l.9 1.1l.3 1.1l.2 2.5l.7 1.8l1.5 2.1l2.3 2.5l.1 .7l-.5 1.8l.3 1.1l3.8 3.6l0 .7l-1.2 1.8l-.2 .7l.7 .7l3.6 2.1l1.4 1.5l.1 .7l-1.1 1.8l.3 .7l1.7 1.4l.4 .7l-.7 2.5l1.7 3.2l.2 2.9l-.5 2.8l.6 .8l3.4 1.7l.5 .8l-2.3 2.1l-.1 .7l3.5 4l-.3 2.5l.5 2.1l-1.1 2.9l1.5 2.8l-.2 2.9l.3 1.4l.8 1.4l1.2 1.1" stroke="#476ee6" stroke-width="0.4"/>
<path d="M490.2 16.5l2.9 .7l1.1 .7l.3 .7l-.2 2.5l1 2.5l-.7 1.1l-2.1 .7l-4.6 .7l-5.3 .4l-31.9 1.4l-8.2 .7l-8 1.8l-21.4 2.2l-9.3 2.5l-10.4 1.8l-9.7 2.1l-12.9 2.2l-5.7 1.4l-4.3 1.8l-9.2 2.8l-1.5 1.1l-.7 1.4l-1 .7l-9.1 2.5l-4.3 2.2l-2.3 2.1l-7.1 4.7l-.4 .7l.1 1.8l-1.4 2.8l.5 2.5l-1.4 2.9l.1 1.1l1.1 2.1l0 .7l-2.3 2.5l-.1 1.1l2.4 3.6l2 5.3l5 2.5l.9 1.5l.4 1.7l3.6 2.2l1.8 2.1l.3 2.2l3.3 2.5l0 .7l-1.2 2.1l-.3 1.1l.6 1.1l2.7 2.1l1.3 2.2l.9 5.3l.6 1.5l1.6 2.5l0 .7l-1 1.4l-.1 .7l.7 .7l2.9 1.8l.9 1.1l-.5 3.6l1.5 2.1l.3 1.1l-.8 3.5l.5 1.1l1.9 2.2l.3 1l-.1 1.5l-.8 2.5l.1 3.2l.5 1.1l2.5 2.5l-.1 .7l-.7 1l-.1 .8l2.4 1.7l.4 .8l-2.6 2.5l.2 1l1.9 2.2l0 .7l-.9 .7" stroke="#4771e9" stroke-width="0.4"/>
<path d="M491.8 16.5l2.2 2.5l1.2 2.5l0 2.9l.5 2.1l0 .4l-1.8 1l-.9 1.1l-.9 .4l-14.7 2.5l-25.4 1.4l-31.5 2.9l-4.2 .7l-24.4 6l-7 2.2l-11.8 2.8l-1.4 .8l-.1 1l-1.1 .7l-9.3 2.5l-1.1 1.5l-1.1 .7l-10.2 3.9l-8.5 3.9l-6.9 5.4l-5.3 3.6l-.9 2.5l-3.9 2.8l.1 1.1l1.3 3.2l-.1 2.5l1 2.5l2 2.2l3.7 2.5l2 2.5l4.2 2.5l.3 .7l.4 2.8l.7 1.1l3.6 2.2l.7 .7l0 .7l-.6 1.1l0 .7l2.2 2.5l.4 1.8l1.1 1.4l.8 1.8l0 2.1l.3 1.1l1.8 2.9l.6 1.4l.1 1.4l-1.1 1.8l0 1.1l.8 1.4l2.8 2.5l.6 1.1l.1 2.1l-.8 4.3l.2 1.4l.7 1.1l2.4 1.8l.8 1.1l-.5 2.1l.5 2.5l-1.5 2.2l-.3 1l1.4 3.6l-.2 2.9l1.4 2.5l-.6 2.5l1.9 3.2l-.1 .7l-.7 .7" stroke="#4773eb" stroke-width="0.4"/>
<path d="M491.4 16.5l1.8 1.8l0 2.8l1.7 2.2l.2 .7l-.5 2.1l.6 2.2l-.8 .7l-1.8 .7l-5.6 1.8l-2.1 .4l-40.2 2.5l-11.2 1.8l-20.3 2.1l-7.5 1.4l-14.4 5.7l-5.9 1.8l-7.5 2.9l-9.9 2.8l-4.3 2.5l-5.9 1.8l-3.2 1.8l-8.1 2.9l-1.4 .7l-.6 1.4l-.6 .7l-10.4 5l-3.8 2.5l-.8 2.9l-4.6 6.1l.1 1.4l.9 2.1l1.4 1.8l1.6 1.5l4.5 2.5l2 1.7l3.8 1.8l4.1 3.6l1.8 2.5l-.1 2.5l.4 1.1l1.9 2.1l1.4 2.2l2.2 2.1l.6 1.1l-.7 3.6l.1 1.4l1.5 3.2l1.8 2.9l-.2 2.8l1.7 2.5l-.8 2.2l.1 .7l2.9 3.5l-.3 1.1l-1.7 1.4l-.4 .8l.4 .7l2.1 1.8l.4 .7l0 1.8l.8 2.5l0 4.6l.8 3.2l-.1 3.2l1.7 3.3l-.2 5.3l-1.1 1.8" stroke="#4776ee" stroke-width="0.4"/>
<path d="M491.7 16.5l.1 1.4l2.3 2.9l-.1 .7l-1.1 2.1l.2 .8l1.2 1.7l.1 .8l-.3 1.7l-1.4 1.8l-1.4 .7l-4.2 1.1l-3 .4l-19 1.4l-17.3 2.5l-31.6 3.6l-14.7 2.8l-4.3 1.1l-9.6 4.3l-2.6 1.8l-16.6 4.6l-3.7 2.2l-4.9 1.8l-4.4 2.5l-2.4 1.7l-2.8 1.1l-4.1 2.2l-8 2.8l-6.1 5l-.2 .7l0 1.8l-1 1.5l-4.8 2.8l-2.5 1.8l.1 .4l1.5 1.7l4.1 2.5l3.1 4.3l4.5 2.2l4.4 2.5l1.2 1l1 1.5l-.1 1.4l.2 .7l3.3 3.6l.5 2.5l.7 1.4l1.6 2.2l.4 2.1l2.7 2.5l.1 1.1l-.8 2.5l.1 1.8l1.4 3.5l2.5 3.6l-.3 2.5l.8 2.9l-.2 3.9l.9 2.5l-.5 2.5l2 2.5l.3 .7l-.2 1.8l.1 2.2l-.6 2.8l.8 2.2l-.1 2.5l1 2.5l-.2 2.8l.9 2.9l.2 1.4" stroke="#4778f0" stroke-width="0.4"/>
<path d="M491.2 16.5l.2 .4l1.7 1l.6 1.1l.6 2.1l-.2 2.9l-.1 .4l-.7 .3l-4.3 1.1l-5.5 .7l-36.5 2.5l-6.6 1.4l-22.5 1.8l-8.7 1.1l-7.4 1.4l-8.6 2.5l-9.5 1.8l-3.5 1.1l-6.9 1.4l-5.2 1.8l-6.9 1.4l-3 1.1l-5.9 3.2l-8.9 2.9l-4.5 2.5l-6.1 2.8l-1.8 1.1l-2.9 2.5l-1.4 1.8l-1.7 1.4l-.4 .7l-.2 1.5l.6 1.7l-.1 .8l-2.7 2.8l-.3 .7l1.5 2.5l0 2.9l.8 8.2l.7 1.1l2.8 2.1l.4 2.2l3.8 2.5l1.1 1l1.8 4.3l4.4 5.7l.3 1.1l-.8 2.2l.1 .7l2 3.9l2.5 2.9l.7 2.8l1.6 2.5l.7 2.2l1.4 1.8l.1 .7l-.6 2.8l.7 1.8l.5 2.5l2.2 5l.5 4.3l-.2 2.1l1.6 2.5l.3 1.1l-.2 3.6l1.7 5l2.1 3.6l-.2 1.4l-1.7 3.2l.1 1.1l.6 .7" stroke="#477bf2" stroke-width="0.4"/>
<path d="M484.0 16.5l2.4 1.1l.7 1l-1.1 3.3l.8 2.8l.7 5.4l-.6 1l-2.1 1.1l-3.9 1.1l-2.9 .3l-38.1 3.6l-1.7 .4l-.8 .3l-.4 .8l-.5 .3l-1.3 .4l-26.8 4.3l-7.7 2.1l-7.1 1.4l-1.9 .7l-3.5 2.2l-5.9 2.5l-1.7 1.8l-1.3 .7l-7.8 2.5l-3.2 2.5l-9.6 3.2l-6 3.9l-7.2 2.5l-8.5 3.6l-2.5 1.4l-2.7 2.2l-2.7 3.9l-.2 1.4l-.5 .8l-3 2.1l-1.1 1.4l5.3 2.5l.6 .7l.4 1.5l.4 .7l6.5 4.3l1.5 2.5l.1 2.1l2.2 3.6l.5 1.4l2 2.2l.3 2.1l3.8 2.9l-.2 .7l-1.7 1.4l-.4 .7l.4 .7l2.6 2.2l2.8 5.7l0 .7l-.9 1.8l0 .7l1.8 1.8l.3 .7l-2 1.8l-.2 .7l.5 .7l2.9 2.2l1.1 2.8l0 1.1l-1.4 2.5l1 2.5l-.4 2.5l1.3 2.5l-.1 2.5l1.6 2.2l-.5 2.5l1.5 2.8l-.6 2.9l.2 1.4l.7 1.4l1.1 1.1" stroke="#467df4" stroke-width="0.4"/>
<path d="M488.6 16.5l1.8 .7l1.3 1.1l.2 2.8l1.7 1.8l.4 .7l-.4 .8l-2.9 2.5l-1.9 .7l-3.9 .7l-10.4 .7l-13.7 1.4l-24.8 1.5l-2.6 .3l-1.2 .4l-1.2 .7l-2.6 .7l-27 3.6l-5.4 1.1l-4.9 1.4l-10.2 1.8l-14.9 3.9l-5.2 2.1l-13.1 4.7l-1.3 .7l-1.2 1.1l-4.8 2.5l-3.2 1.4l-2.4 1.4l-5.8 2.5l-.4 .7l.5 1.8l-.2 .7l-1.6 1.5l-3.5 2.1l-.6 .7l1.1 2.2l-2.7 2.5l.3 .7l1.5 1.8l-.2 .7l-1.2 1.4l-.1 .7l1.6 1.8l.5 1.1l-.3 3.9l.7 1.5l1.8 1.4l5.4 2.5l1 1.8l3.9 2.5l0 2.5l2.9 2.1l.2 .7l-1.2 1.8l2.9 3.2l.1 .7l-.2 1.8l2 3.6l.1 3.9l.9 1.1l2.5 1.8l.8 1.1l.1 1l-1.2 2.2l-.1 1.1l2.3 2.8l-.3 2.9l2.5 3.5l2.2 5.4l-.1 3.9l1 4.7l-.2 2.8l.3 .8l1.8 1.7l.4 .8l-1.5 2.5l1.8 2.5l-1 2.5l1.2 2.1l.2 .7l-1 1.1l-2 .7" stroke="#4682f8" stroke-width="0.4"/>
<path d="M489.7 16.5l.9 .4l.8 1l.1 1.1l-.5 1.4l0 .7l2 2.5l.2 1.1l-.2 .7l-4.2 2.5l-2.8 .7l-16.4 1.8l-28.4 2.2l-29 3.6l-8.5 1.7l-6.2 2.5l-15.7 2.5l-5.1 1.1l-3.7 1.4l-1.9 1.8l-4.2 2.9l-8 2.5l-8.4 1.8l-.6 .3l-.5 1.1l-4 2.1l-9.9 3.3l-1.4 1l-.5 1.1l.3 .7l1.1 1.1l-.1 .3l-7.9 3.6l-2 1.4l-.7 1.1l-.4 1.8l.4 3.2l-2.2 2.5l.3 .7l2.5 2.2l-.1 .7l-.7 1.1l0 .7l2 2.1l.6 1.5l2.5 2.5l6.2 4.6l1.3 1.8l-.1 1.4l.3 .7l2.9 1.8l.1 .4l-1 1.4l-.1 .7l2.8 2.9l.9 3.9l2 2.9l0 .7l-.6 1.4l-.1 .7l2.8 2.9l.9 1.4l.3 1.8l-.2 2.9l2.3 4.2l-.3 3.3l2.3 2.1l.4 .7l-1 3.2l1.6 3.6l.2 2.9l1.5 3.9l-.3 2.9l1.2 2.5l.3 2.5l1 2.1l-1.5 2.9l.4 1l1.4 2.2l.1 .7l-.4 .7" stroke="#4685fa" stroke-width="0.4"/>
<path d="M486.1 16.5l1.2 .7l.6 1.1l.1 5l-.3 2.5l2.2 2.5l-.5 .7l-.7 .4l-6.9 1.7l-14.8 2.2l-33.1 3.9l-18.5 1.8l-7.2 1.1l-5.6 1.4l-4 1.4l-.9 1.1l-1.6 .7l-7.6 1.8l-2 .7l-.9 .7l-.8 1.5l-1.5 .7l-9.8 2.1l-3.5 1.1l-5 2.1l-1.3 1.5l-.7 .3l-4.5 1.5l-1.3 1.4l-1.1 .7l-9.4 3.2l-1.6 1.1l-1.2 1.8l-.9 .7l-6.6 2.8l-6.4 4.3l-.5 .8l-.2 1.4l-3.4 2.5l-.4 .7l-.3 2.9l.3 1l-.8 1.8l.1 .7l2.2 1.8l2.8 2.9l6.8 3.2l.6 .7l.1 2.1l.6 1.1l4.6 2.2l1.1 1l-1.4 2.5l-.1 1.1l.3 .7l2.1 2.2l.6 2.8l1.9 2.2l-.9 1.8l0 .7l3.1 2.5l0 .7l-1.1 1.8l-.1 .7l1.4 1.8l.3 2.5l.5 1l2.9 3.6l0 .7l-1.2 2.2l0 1l1.5 3.3l.6 2.1l1.2 2.5l-.5 3.6l.5 1l2.8 2.6l-.1 .7l-2.1 2.1l.7 2.2l-.7 2.1l.3 .7l1.8 2.2l-1 2.1l.2 .7l2.6 2.9l-.1 .7l-.8 .7" stroke="#4687fb" stroke-width="0.4"/>
<path d="M491.5 16.5l1.7 1.4l-.1 .7l-1.2 1.8l0 .7l2.1 2.5l0 1.1l-.8 1.1l-1.1 .7l-4.3 1.4l-4.2 .7l-39 1.8l-8.1 .7l-12.5 2.2l-13.7 1.8l-11.2 2.5l-17.7 2.8l-14.1 4.7l-6.7 2.8l-11.3 2.5l-1.8 2.2l-2.4 1.8l-11.4 4.3l-2.1 1l-.8 .7l-.4 .8l0 2.1l-.2 .7l-3.2 2.5l-2.9 2.9l-.3 .7l.2 1.8l-1.5 2.5l.7 3.6l-1.3 6l.7 2.5l.2 4l.6 1l2.6 2.2l0 2.5l2 4.3l2.5 3.2l.5 2.5l.5 1l3.2 4.3l1 5.8l3.4 2.5l.5 .7l-.4 2.1l2.4 2.9l.8 6l2.5 3.3l-.1 .7l-1.2 1.8l1.2 2.5l.3 2.1l1.3 2.1l.1 2.9l1.2 2.2l-.3 2.5l2.2 2.8l.9 4.3l-.2 2.9l2.5 3.2l.4 .7l-.1 .7" stroke="#458afc" stroke-width="0.4"/>
<path d="M490.3 16.5l-.9 .7l0 .7l2.7 3.6l.6 3.9l-.3 1.1l-1.9 1.1l-4.9 1l-4.2 .4l-26.6 1.4l-18.6 2.5l-1.6 .4l-.1 .3l.5 .4l0 .4l-1.6 .3l-19.8 1.8l-7.6 1.8l-12.9 2.1l-9.9 2.2l-2.1 .7l-1.6 1.1l-5.8 1.4l-.7 .4l-.3 .7l-.5 .3l-9.3 2.2l-2.2 1l-2.8 2.2l-1.5 .7l-12.5 3.9l-1.2 .7l-.8 1.5l-.7 .7l-7.4 2.5l-.5 .7l.1 1.1l-.6 .7l-4.5 2.1l-2.2 2.9l-2.6 5.7l0 1.4l.7 1.8l.2 2.2l1.5 3.5l1 1.1l3 2.2l4.1 2.5l3.6 1.7l3 2.2l3.3 1.8l.8 2.1l3 2.5l1.1 2.9l2.3 2.5l0 1.8l1 2.1l.3 1.8l-.1 1.1l-.7 1.8l2.4 3.9l1.4 2.8l.7 3.6l1.6 1.8l.3 .7l-.3 .7l-1.7 1.8l-.1 1.4l2.3 3.3l.1 2.5l1.5 4.2l2.2 2.5l-.1 .8l-2.8 2.1l-.4 .7l.2 .7l1.7 2.9l-.1 1.1l-.8 1.8l.1 1l2.5 4l-1.1 3.2l1.2 3.9" stroke="#458cfd" stroke-width="0.4"/>
<path d="M487.8 16.5l1.7 1.4l1.1 1.8l.2 1.4l-.6 2.9l1.4 3.6l.1 1l-3.4 2.2l-2 1.8l-1.6 .7l-6.2 .7l-30.2 2.2l-6 .7l-3.2 .7l-3.2 1.4l-2.6 .7l-17.2 2.2l-12.4 2.1l-3.1 .7l-2.9 1.1l-6.8 1.4l-.7 .4l-.1 .3l.6 .8l-.1 .7l-1.6 1l-13.4 5l-5.1 2.9l-9.6 3.2l-7.4 2.9l-1.9 1l-1.4 1.5l-2.7 1.4l-.8 1.1l-1 .7l-7 2.5l-4.1 2.1l-.3 .4l.1 1.4l-.3 .4l-2.8 1.8l-1.8 1.8l-.6 2.1l-.6 1.1l-3.5 2.5l-1.1 1l-.3 .8l.4 2.5l1.6 2.8l0 2.5l1.4 2.5l-.1 .7l-.8 1.5l.7 .7l3 1.4l.9 .7l.1 .7l-.8 1.5l.1 .7l3 2.8l.2 3.3l.3 .7l4 3.9l.3 .7l.1 2.9l4.3 8.2l.2 1.4l-.7 2.9l1.7 3.9l-.8 2.9l.5 1l1.7 1.8l.9 1.8l.7 4.7l2.3 2.8l.1 2.2l1 2.5l-.3 2.5l.7 2.5l0 2.1l1.2 2.5" stroke="#448ffe" stroke-width="0.4"/>
<path d="M488.0 16.5l2.8 .7l.7 .4l.5 .7l-.4 .7l-2 1.8l0 .7l2 1.8l.3 .7l-1.4 2.1l.3 2.2l-.6 .7l-.9 .4l-4.5 1l-4.6 .7l-26.3 2.2l-16.6 2.5l-26.2 2.9l-9.5 1.4l-8.9 1.8l-2.8 1l-2.9 2.5l-4.5 1.8l-1.5 1.5l-.8 .3l-7.1 2.2l-8.4 2.1l-3.3 1.8l-6.8 2.1l-11.1 5l-.7 .7l.2 1.1l-.3 .4l-10.1 5.3l-1.9 2.2l-3.7 3.2l-.7 1.1l-.2 2.5l-3.4 3.2l-.4 1.4l2.8 3.2l-.2 3.6l.3 .7l5.7 3.6l1.4 1.4l-.2 2.2l.5 3.2l2.3 2.5l1.2 1.8l.9 1.7l.7 2.9l2.9 3.9l.6 2.5l.1 2.5l2.7 6.1l1.5 2.5l.7 2.2l2.2 2.5l-.4 2.5l1.2 2.1l-.3 .7l-1.2 1.8l-.1 .7l.7 1.4l2.6 2.5l-.1 .8l-1.1 1.4l-.2 .7l2.9 2.9l-.3 2.8l.7 3.6l-.6 3.6l1.4 4.6l.3 1.8" stroke="#4391fe" stroke-width="0.4"/>
<path d="M489.7 16.5l-.6 .4l2.2 1.4l.9 1.1l.1 2.1l-.3 1.8l.8 1.8l-.9 .7l-2.3 .7l-6 .7l-15.6 1.1l-41.1 3.6l-2.1 .3l-3.7 1.4l-5.6 1.5l-8.9 1.8l-14.6 2.1l-16.2 3.9l-4 1.8l-10.9 3.2l-1.7 .8l-2.1 1.4l-8.3 2.8l-1.9 1.1l-1.5 1.8l-2.7 1.8l-8.7 3.2l-4.9 4.3l-1.1 1.8l-1.8 1.4l-2.3 2.5l-.5 1.4l.4 2.5l-1.3 2.2l-.2 1.1l.4 1l1.9 2.5l.1 1.8l.3 .7l3.6 2.5l-.2 1.5l.5 .7l6.1 3.2l3.9 2.5l1.8 1.8l2.4 1.8l1.4 2.8l2.2 2.5l.8 1.4l.3 1.1l-.2 2.2l.3 .7l2 1.8l.7 1l.8 3.3l-.1 3.2l2.3 2.8l.5 1.5l0 1.4l-.9 3.6l2.2 4.2l2.4 4l.1 3.2l-.7 3.2l1.4 2.1l.3 1.1l-.6 3.6l-.8 2.5l.4 .7l2.2 2.2l-.2 .7l-1.4 1.4l0 .7l2.7 2.5l.6 1.4l-.3 1.1l-1.9 2.9l0 1.4" stroke="#4294ff" stroke-width="0.4"/>
<path d="M491.7 16.5l.9 .4l.3 .7l1.6 1.4l.9 2.1l-.2 1.8l-1.3 .7l-1.5 .4l-12.5 1.1l-8.3 1l-44.5 2.2l-18 1.4l-22.9 3.2l-7.5 2.2l-17 3.6l-13.3 3.9l-2.3 1.1l-2.8 2.1l-5 2.5l-6.3 2.1l-3.7 2.2l-.6 .7l.1 1.1l-.4 .7l-3.9 2.8l-.7 1.5l-.7 3.5l.1 1.5l.7 1.8l0 .7l-2.4 2.1l-.3 .7l.4 .7l2.5 2.2l1 1.4l.3 4l-.3 3.5l.3 .7l2.3 2.2l.2 3.6l.6 .7l1.3 .7l9.7 3.9l6.8 7.2l1.2 3.9l1.6 2.1l-.1 1.1l-.7 1.8l.1 1.1l.7 1l2.4 1.8l.8 1.1l.3 1.1l-.4 2.8l2.4 3.6l-.1 .7l-1.9 1.8l-.2 .7l1 .7l3.6 1.5l.8 .7l-.1 .7l-1.3 2.1l0 2.9l-.7 2.5l.8 1.1l3.5 1.7l.7 .8l-2.5 2.5l1.5 2.5l-1.1 2.8l1.8 4l-1 2.8l1 2.5l.1 2.5l1.1 3.6l0 1.4l-.7 1.8" stroke="#4196ff" stroke-width="0.4"/>
<path d="M491.3 16.5l1.5 .7l1.1 1.1l.9 1.8l.8 2.8l0 .7l-.7 1.1l.2 1.4l-1.8 .8l-5.4 .7l-58.7 2.8l-6.8 .7l-14.6 2.5l-32.7 3.6l-2.8 .7l-7.3 3.6l-15.8 4.3l-4.4 2.5l-.4 .4l-.4 1l-.8 .7l-6.7 2.5l-7 2.2l-1.3 .7l-.4 1.4l-2.6 2.2l-1.2 1.8l-.4 1l-.1 5l-1.3 4l.7 2.8l-.6 2.2l.2 .7l2.1 1.8l.3 .7l-1.9 1.8l-.2 .7l.7 .7l3.3 2.1l.6 2.2l2.3 2.1l1.1 1.8l3.2 2.5l3.1 1.8l3 2.9l2.9 4.2l.9 3.6l2.3 2.5l1.3 1.8l-.3 2.9l2.1 2.8l.2 1.1l-.1 2.9l2.9 5l-.1 1.7l-1 2.5l0 .8l3.1 2.8l.9 1.4l-1.1 3.6l.4 1.1l1.6 2.1l.1 .7l-1.8 2.2l-.3 .7l.5 .7l2.6 1.8l.5 .7l0 2.9l1.3 3.2l-.3 .7l-1.5 1.8l-.1 .7l.4 .7l2.4 2.2l.5 1l-.7 1.1l-3.6 2.5l.1 .7l.4 .4l1.9 .7" stroke="#4099ff" stroke-width="0.4"/>
<path d="M494.0 16.5l0 .7l3 1.8l1.1 1.1l.5 1l-.2 1.1l-2.9 .7l-3.2 .4l-46.4 1.8l-35 2.5l-30.4 2.8l-19.1 3.2l-8.3 2.6l-1 .7l-.9 1.4l-.7 .4l-15.4 4.6l-1.4 1.1l-.6 2.1l-.8 .7l-5.4 2.2l-2.6 1.4l-.6 1.4l.7 2.9l-1.2 2.5l.5 2.5l-1.5 3.6l0 1l.6 2.2l-1 2.8l1.1 2.5l-.6 2.9l.4 3.6l-.7 2.5l.3 .7l2.3 2.1l-1.3 2.5l2.2 2.5l-.8 1.5l0 .7l4.6 2.8l.2 2.2l2.5 3.2l2.1 3.9l1.5 4.3l2.4 3.2l.9 3.2l1.2 1.8l1.1 2.9l.7 3.2l2.7 2.9l-.1 .7l-1.2 1.4l0 .7l3.1 2.5l-.9 2.5l1.9 2.5l.4 3.9l1.1 2.9l1.6 2.5l-.8 2.5l.9 2.2l-.2 2.5l2.8 2.8l-.3 2.5l.5 3.2l-1.3 2.9l-.2 1.1l.5 1l1.5 1.1" stroke="#3d9efe" stroke-width="0.4"/>
<path d="M487.8 16.5l1.6 1.4l.7 1.1l.3 1.8l-.4 2.5l1.8 2.1l.3 1.1l-.6 .7l-4.4 1.8l-2 1.4l-3.4 .7l-58.2 5.8l-8.2 1.8l-9.9 3.2l-12.5 2.5l-22.8 7.1l-4.2 2.5l-7.1 2.5l-4 2.5l-4.6 1.8l-6.8 2.1l-3.9 1.8l-1.6 1.1l-1.3 2.5l-3.1 2.5l-1.1 1.4l-3.3 2.2l-3.3 2.8l-2.5 4.3l1 1.8l2.9 2.5l1.5 2.2l4.7 2.8l.5 .7l-.1 1.1l.4 .7l1.4 .7l6.1 1.8l2 1.1l.2 .7l-.3 1.1l.3 .7l3.5 4.3l1.4 3.2l2.2 3.2l-.2 1.1l-1.9 1.8l-.2 .7l.8 1.1l3.5 2.5l.9 1l0 .7l-.8 2.5l.2 1.8l1.7 3.6l1.9 2.9l-.7 2.5l.8 2.5l-.7 2.1l.4 .7l2.3 1.8l.4 .7l0 .7l-1.6 5.7l4.1 8.3l-.1 1.4l-1.5 2.1l-.4 1.1l.2 2.2l-.3 2.8l.5 1.1l.7 .7" stroke="#3ba0fd" stroke-width="0.4"/>
<path d="M492.4 16.5l-.2 .7l2.3 2.5l.9 3.6l-.6 3.6l-1.1 1l-1.4 .7l-2.9 .8l-3.9 .3l-18.9 1.1l-42.6 3.6l-5 .7l-7.3 1.8l-19.6 3.9l-15.6 4.3l-4.3 2.1l-10.4 2.5l-5.3 1.8l-1.3 .7l-2.4 2.2l-8.3 2.8l-.4 .7l.9 1.5l-.6 .7l-8 2.1l-2.7 1.1l-2.2 1.8l-2.8 1.8l-1.3 2.5l-3.2 2.1l-.2 .7l1.7 1.8l.1 .7l-1 1.1l-2.6 1.8l-.4 .7l-.1 .7l3.6 3.2l.6 2.2l1.2 1.8l0 2.5l.8 1.4l1 .7l4.5 1.8l3.2 1.8l1.2 1.1l1.4 2.1l1.5 1.4l1 3.2l3.3 3.3l.1 .7l-.6 1.8l.1 .7l2.6 3.6l0 2.8l2.1 2.2l0 .7l-1.2 1.8l0 .7l3.2 2.5l-1.1 2.5l1.5 2.1l.3 2.5l1.4 2.5l0 2.5l.5 1.8l1.1 2.1l1.8 2.5l-.1 .8l-1.3 1.7l-.3 1.1l.9 2.9l-.2 5l.8 2.5l1.8 3.2l-1 4.3l.9 3.2" stroke="#3aa3fc" stroke-width="0.4"/>
<path d="M495.5 16.5l1.2 1.4l-.5 2.9l1.8 2.5l.3 1.1l-1.4 4.6l-.9 .7l-1.8 .7l-4.3 1.5l-5.1 1l-52.5 3.6l-8.2 1.1l-14.3 2.8l-12.2 3.6l-2.1 1.4l-1.7 .8l-8.9 2.1l-8.7 2.9l-8.2 3.5l-3.8 2.2l-6.2 2.8l-9.3 3.2l-10.4 5.4l-2.8 2.5l-4 1.8l-3 2.1l-.2 .8l.3 1.4l-2.2 2.5l1.1 2.1l-.1 .7l-2.5 2.5l-.5 1.1l-.1 1.8l.5 3.6l.7 1l4.5 4l.3 .7l.4 1.8l2.5 2.1l1.3 1.8l.3 1.1l-.2 2.1l1.4 2.2l.2 2.5l2.7 2.1l.5 .7l-.5 2.5l1.2 1.8l.3 3.2l1.3 1.8l.6 2.2l3.1 2.5l.9 1l-.1 1.1l-1.4 2.5l-.1 .7l2.7 4.3l.8 2.5l-.4 1.8l.1 .7l2.6 2.5l-.2 2.5l1.9 2.2l-.4 .7l-2.8 1.8l-.3 .7l.4 .7l2.4 2.1l1.1 1.5l.2 4.2l-.4 3.3l.3 1l1.2 1.1" stroke="#38a5fb" stroke-width="0.4"/>
<path d="M496.1 16.5l1.2 .4l1.9 1.4l1.2 1.1l.5 1l-.2 2.5l-3.3 .7l-5.8 .4l-44.9 1.1l-11 .7l-40.8 4.6l-17.8 2.9l-16.5 3.9l-3.1 1.8l-7.1 2.5l-10.4 2.9l-6.8 3.2l-3.2 2.5l-1.2 1.4l-2.9 1.8l-.6 2.1l-1.8 2.5l-.6 1.5l.1 .7l1 2.5l-.8 2.1l.2 2.5l-1.2 1.8l-.2 .7l1.5 2.5l-.6 2.9l0 5.4l1.5 3.9l2.3 2.1l.6 1.5l3.3 1.7l5.1 3.6l.2 1.4l1.7 1.8l2.7 4.7l.3 2.1l2.2 2.2l-.3 2.8l.8 .7l3.4 1.8l1 1.1l-.2 1.1l-1.9 2.5l.4 .7l2.9 2.1l.4 1.8l1 2.2l.5 2.8l1.4 2.2l0 .7l-1.2 2.5l.3 1l1.8 2.5l.5 1.5l.1 1.4l-.8 2.1l0 .8l2.3 2.5l.5 1l-.7 3.6l1.8 4.3l-.3 .7l-1.9 2.2l1.8 2.8l-.1 2.2l.9 2.5l-.8 3.2l.3 1.4" stroke="#37a8fa" stroke-width="0.4"/>
<path d="M498.0 16.5l1.6 .4l2.7 2.5l1.1 1.7l-1.6 .8l-2.4 .3l-49.4 1.4l-18 1.1l-14.9 1.4l-25.8 3.6l-15.9 1.4l-7.7 1.1l-8.3 2.2l-1.6 .7l-1.4 1.4l-1.6 .7l-10.8 2.9l-9.1 3.2l-6.1 3.9l-1.1 1.8l-1.6 1.8l-3.2 2.5l-1 1.8l1.4 2.8l-.3 2.2l.1 2.1l-1.3 2.5l.9 2.5l-.9 2.5l1.3 2.9l-.2 3.6l.7 2.8l-.3 2.5l.6 1.1l3.9 5l1.8 1.4l1.6 1.8l3.2 2.2l1.2 2.5l1.4 2.1l4 2.5l.3 .7l-1.1 1.8l0 .7l3 3.9l.8 1.5l1.9 1.8l-.3 .7l-1.9 1.4l-.3 .7l2 2.2l.3 1.8l.4 .7l2.6 1.8l.8 1l-.3 2.2l1.5 2.8l.7 4.3l.9 3.6l-1 3.2l.4 .7l2.4 2.5l.2 5.7l.4 1.1l1.7 2.5l-.1 .7l-1.2 2.2l-.1 1l3.1 5l-.4 1.1l-1.5 1.8l-.3 .7l1 2.9l-.3 1.4" stroke="#35abf8" stroke-width="0.4"/>
<path d="M493.5 16.5l2.4 2.9l.6 1.4l-.9 2.5l.2 1.1l-1.2 .7l-3.4 .7l-29.7 1.4l-9 .7l-17.4 3.2l-22.2 2.2l-19.2 2.9l-4.2 1.4l-7.6 1.4l-5.2 1.4l-11.7 2.5l-9 2.9l-.9 1.4l-.8 .4l-16.6 4.6l-2 1.1l-1 2.1l-.9 1.1l-4 3.2l-2.3 1.5l-.9 1.4l-2.1 2.1l-1 1.8l-.1 2.9l-.7 2.8l.2 2.5l-.5 2.5l.1 1.5l2.1 4.3l.6 3.2l3.9 2.8l.1 1.5l.5 .7l6.3 2.8l1.7 1.1l.5 .7l.1 1.4l.3 .8l4.5 5l.5 1.4l0 2.5l.3 .7l3.7 2.9l-.1 .7l-1.7 1.8l-.1 .7l1.9 2.5l1.2 2.1l.2 1.1l-.4 2.1l.1 1.1l2.2 4.3l1.5 5l1.9 2.9l-.4 2.5l0 1.7l1.5 2.9l.6 1.8l-1.1 3.2l.7 2.5l0 2.2l.3 1l1.8 2.9l.1 1.1l-.6 2.1l1.4 2.9l-1.6 3.2l.1 .7l.7 .7" stroke="#33adf7" stroke-width="0.4"/>
<path d="M492.0 16.5l-.4 .4l1.8 1l.6 1.1l-1.3 3.9l.7 3.2l-.3 .8l-1.6 1.7l-2.2 1.1l-2.9 .7l-18.3 1.8l-31.4 2.2l-16.4 1.4l-9.4 1.1l-8 1.4l-6.7 2.5l-8.1 2.1l-2.9 1.5l-6.4 2.1l-1.9 1.4l-1.5 .8l-11.8 2.5l-.7 .3l-1.3 1.4l-3.7 1.5l-4.4 2.5l-12.4 5l-4.5 3.2l-2.2 2.1l-5.8 2.9l-.4 .7l.2 2.2l-.6 1.4l-3.3 2.5l-1.2 1.8l.1 1.4l1.4 2.5l-.5 3.6l1.5 1.8l.4 1.7l.9 1.5l.8 .7l3.5 1.8l.3 .7l-.2 1.4l3.7 2.5l.3 3.2l1.8 2.5l-.2 1.8l.3 .7l3.6 4l.6 1l.3 1.5l-.5 2.1l.2 .7l1.9 2.2l.8 2.1l2.1 2.5l0 .7l-.6 1.8l.1 1.1l.7 1.8l.7 3.2l2.2 3.2l-.8 2.5l.4 .7l2.6 2.5l.4 2.5l.1 3.6l2.4 2.9l-.3 .7l-2 1.8l-.4 1l.5 1.1l3.1 2.5l-.2 .7l-2.2 2.2l.2 .7l1.8 2.1l0 1.1l-.8 2.1l.1 1.1" stroke="#31aff5" stroke-width="0.4"/>
<path d="M493.8 16.5l2.1 1.1l.6 .7l.3 1.1l-.6 4.6l-.5 .7l-1.6 .7l-3.3 .7l-47.6 2.5l-21.5 1.8l-12.5 2.5l-11.5 1.8l-9 2.2l-17.1 2.5l-2.7 .7l-3.2 1.4l-5.3 1.4l-2.9 1.5l-5.5 1.4l-3.5 1.4l-6.8 2.2l-3.9 1.8l-1.7 1l-1.9 1.8l0 1.4l-.4 .4l-6 2.5l-1.7 1.1l-.3 .7l.8 1.8l-.7 1l-2.5 2.5l-.2 1.1l.5 3.6l-1.8 3.9l.2 1.1l1.3 2.9l.4 3.9l1.3 2.5l1.2 2.8l3.6 4.3l1.9 1.5l5.5 2.8l0 .7l-1.1 1.1l-.2 .7l.6 .7l2.7 1.5l.8 .7l.2 1l-.6 2.2l.2 .7l3.2 3.2l.8 1.4l0 .8l-1.1 1.8l0 .7l.8 1l2.6 2.2l.8 1.1l.1 .7l-.6 2.1l.1 .7l3 3.6l.4 1.1l-.1 1l-.8 2.5l.5 5l.7 1.1l2.5 2.2l.1 .7l-.5 2.1l1.2 3.2l-.3 3.2l2.6 2.9l-.5 2.2l1 1.7l.1 .8l-1.9 2.5l.2 .7l1.7 1.8l.5 1l-.2 1.5l-1.3 2.8l.2 1.1l.4 .7" stroke="#2fb2f4" stroke-width="0.4"/>
<path d="M491.4 16.5l1.9 1.8l.7 2.5l2.3 2.1l.4 .7l-.2 .8l-1.5 1.7l-.2 1.8l-1.4 .7l-5.7 1.5l-5.6 .7l-16.8 1.8l-26.6 2.1l-23.7 2.5l-4.3 .7l-7.3 1.8l-1.9 .7l-1.4 1.5l-5.9 2.5l-20.3 4.3l-3.3 1l-3 1.5l0 .3l2 1.4l-1.4 .8l-16.8 3.9l-2.3 2.1l-4.1 1.8l-2.8 2.2l-2.7 1.4l-1.5 1.8l-4.3 1.4l-2.3 1.1l-.9 1l.1 1.8l-.5 .8l-4.8 3.2l-.7 1l.2 2.2l-.6 .7l-.7 1.8l1.6 3.9l1.1 1.1l4.4 2.1l2.2 1.8l2 1.1l1.3 1.4l2.2 1.4l1.4 1.8l4.7 3.6l.7 1.1l-.3 1.8l.2 .7l3.2 3.2l.7 1.1l.2 2.5l-1.2 2.1l-.1 .7l1.7 2.2l.9 2.5l2 2.1l.1 .7l-.5 1.8l1.9 3.2l.2 2.2l1.1 3.2l-.2 3.2l2.5 2.9l-.5 2.5l1.3 2.5l-2.2 3.5l.5 1.1l2.4 1.8l.3 .7l-1.7 2.5l1.4 2.9l-.3 2.1l.6 3.6l-.6 4.3l.1 1.4" stroke="#2cb7f0" stroke-width="0.4"/>
<path d="M487.5 16.5l2.6 2.1l1 1.8l.2 2.2l-.4 2.8l.3 1.8l-1 1.1l-4.4 2.1l-3.3 .7l-16.1 1.5l-25.2 1.4l-8.3 .7l-6.2 1.5l-13.2 1.4l-2.4 1.4l-13.2 2.5l-11.3 1.8l-2.1 .7l-1 .7l-.7 .7l-.4 1.5l-.8 .7l-4.2 1.8l-8.9 2.1l-10.1 2.9l-.4 1l-.6 .4l-4.7 1.4l-2.7 2.2l-4.9 1.8l-2.3 1.4l-4.2 1.8l-3.8 3.5l-4.6 1.8l-1.1 .7l-.3 .8l.2 1.4l-3.8 3.9l-1.9 3.2l-.2 1.5l4.1 2.8l.5 .7l.3 1.8l3 2.2l1.7 2.5l8.5 4.6l3.5 2.5l.6 .7l.9 2.2l2.4 2.8l1.6 4l-.3 2.8l.2 1.8l2.4 2.9l-1 2.5l1.9 2.5l-.2 3.5l.3 1.1l1.6 2.5l-.1 3.2l2.4 3.2l.2 1.1l-.2 2.2l1.4 2.5l-.9 2.1l1.1 2.5l-.9 2.1l.3 .8l1.6 1.4l.2 .7l-2 1.8l-.4 .7l.4 .7l2 1.8l.5 1.1l-.4 1.1l-1.7 1.7l-.5 1.1l1.2 2.5l.2 2.9l1 1.4" stroke="#2ab9ee" stroke-width="0.4"/>
<path d="M493.5 16.5l2.3 .4l1.1 .7l1 1.8l.2 1l-1.2 2.2l-5.4 1.8l-2.5 .3l-8.8 .4l-36.4 1l-10.3 .8l-12.8 1.7l-18.7 2.2l-10.1 2.1l-5 1.5l-14.4 1.8l-5.5 1l-5.3 1.5l-6.1 2.5l-9 2.1l-4.8 2.5l-7.2 2.1l-1 .8l-1.1 1.7l-4 2.5l-1.7 1.5l-.8 1l-.6 1.5l.2 2.5l-.3 .7l-2.7 2.1l-.4 .7l.7 2.5l-.7 4.3l.8 6.1l-1.2 3.2l1.8 2.9l-.8 2.5l1.2 1.4l3.6 2.5l1.7 3.2l4.7 4.7l1.7 2.5l2.2 4.6l1.8 2.2l.3 3.2l1.6 1.8l1.4 2.1l.2 1.1l-.4 2.5l.4 1.4l2.7 2.5l.4 .7l1.4 4.7l.4 3.9l2.3 2.9l.5 1l.5 4l-.5 2.5l1.1 2.5l-.4 3.2l2.2 4.6l.7 3.6l-.2 2.5l2.1 2.5l-.2 .7l-1.3 1.4l-.3 .8l.4 .7l2 1.8l.4 .7l-.4 .7l-1.4 .7" stroke="#28bceb" stroke-width="0.4"/>
<path d="M493.9 16.5l.6 .4l-1 .7l.5 .7l4.2 1.8l.9 .7l0 .3l-1.1 .8l-4.2 .7l-3.4 .3l-52.8 1.8l-3.6 .4l-7.1 1.4l-42.5 4.3l-20.1 3.6l-2.5 .7l-1.7 1.8l-1.6 .7l-7.9 2.5l-7.4 1.8l-8.2 3.2l-2 1.1l-5.2 3.9l-.8 1.8l-2.5 2.8l-.5 2.9l-1.9 2.5l1.2 2.1l.1 .7l-2 6.1l.1 .7l1.2 2.2l-.7 2.5l1.7 2.8l.1 1.1l-.5 1.8l.1 1.1l.9 1l2.3 1.8l.5 1.1l-.4 1.1l-2.1 2.5l.5 .7l5.7 2.5l4.2 3.9l1.4 2.9l1.7 2.1l-.1 .7l-1.3 1.8l.2 .7l4.5 3.6l1.1 3.2l1.7 2.5l.8 5l2.2 3.2l-.1 1.1l-.9 1.8l.1 .7l3 2.5l-.9 2.5l2.3 2.5l.1 2.9l1.6 3.9l-.8 2.9l1.9 2.5l-.4 2.5l.9 3.2l.3 4.3l1.2 3.5l-.4 2.9l2.1 3.6l-.1 .7l-.7 .7" stroke="#27bee9" stroke-width="0.4"/>
<path d="M493.0 16.5l-.6 .4l4.8 2.8l1 1.1l0 .7l-2.7 3.2l-4 1.4l-4.5 .8l-56.6 3.5l-6.3 .7l-19.5 3.3l-13.9 1.8l-1.8 .7l-.8 1l-1.4 .8l-7.7 2.1l-3.3 .7l-10.9 1.4l-4.7 1.1l-7.2 3.6l-15 5l-1.6 1.1l-1.1 2.5l-1 1l-6.2 2.9l-.5 2.5l-2.9 2.5l-1.9 3.9l.1 .7l1.4 2.2l-.3 .7l-1.7 2.1l1 2.5l.3 2.5l1 2.5l1.3 2.5l2 1.8l.6 1.1l7.7 3.6l1.2 1l.1 1.5l.7 .7l5.2 2.1l1.2 .7l3.2 3.6l.2 2.5l2.4 2.2l.8 1l.6 4.3l1.6 2.9l-.7 2.1l.1 .7l2.6 4l-.1 4.3l3 2.8l-1.1 3.2l2.1 3.6l-.1 .7l-1.4 1.8l-.1 .7l2.6 4.3l-.7 3.6l.6 3.6l.3 4.2l.9 2.9l-.1 2.5l1.5 2.9l-1.3 3.2l.4 .7l1 .7" stroke="#25c0e7" stroke-width="0.4"/>
<path d="M498.4 16.5l1.1 .4l.9 1l-.1 .7l-1 2.2l.2 .7l1.3 1.4l.1 .4l-1.6 .7l-1.7 .4l-2.4 .3l-38.6 1.4l-18.2 1.1l-8.8 1.1l-6.8 1.8l-2.3 .3l-18.3 1.8l-21 2.9l-5.7 1.1l-2.2 .7l-3.3 1.8l-3.2 1l-16.5 3.6l-8 4.3l-7.6 2.8l-4.7 3.6l-3.4 1.8l-1.1 2.1l-.6 2.2l-1.9 2.5l-.5 1.1l.4 3.2l-.9 2.5l1.8 2.8l-1 2.2l-.1 1.1l1.3 3.2l-.1 2.8l.9 2.2l-.3 .7l-1.5 1.4l-.3 .7l2.7 2.5l.4 2.5l.9 1.5l2.3 2.1l1.2 3.9l2 3.6l2.8 2.9l0 .7l-1 1.8l.2 1l1.7 2.2l.9 2.1l2.5 2.5l1.8 4.3l2.3 2.5l-.8 4.7l.6 1l1.8 1.8l1.6 2.9l.4 1.8l-.7 2.1l0 .7l2.7 7.2l.1 3.9l.5 1.1l2.1 2.1l.5 1.1l0 1.1l-.8 2.5l-.1 2.1l.8 7.5" stroke="#23c3e4" stroke-width="0.4"/>
<path d="M491.9 16.5l1.8 1.4l1.6 2.2l1.5 3.5l-1.3 1.1l-3.1 1.1l-4.6 .7l-43.5 1.8l-27.5 1.8l-5.7 .7l-9 1.8l-26.3 3.6l-10.3 2.5l-1.5 .7l-.7 1l-1.7 .8l-7.8 2.1l-5.1 2.1l-15.5 5l-1.3 .8l-1.1 1l-.4 1.8l-.6 .7l-4.8 2.2l-1 .7l.1 .7l1.3 1.8l-2.2 2.5l-.1 1.1l.3 3.2l1.2 2.8l-1.6 2.9l-.3 1.4l.6 3.2l.1 4.3l1.1 2.5l-.1 2.2l3.1 2.5l0 2.8l5.2 2.5l.8 1.5l.2 1.7l.4 .8l3.9 3.2l1 1.8l.5 4.6l1 2.1l5.3 5.8l.1 .7l-.7 2.5l1.7 3.6l-.3 2.1l.2 .7l2.4 2.5l-.5 2.5l1.1 2.9l-.3 2.5l.1 .7l1.5 3.6l.7 3.9l2.3 2.8l.4 1.1l-.9 4l1.2 2.5l-.5 2.5l2 3.2l-.7 4.3l.3 2.1" stroke="#22c5e2" stroke-width="0.4"/>
<path d="M489.1 16.5l1.5 3.9l2 2.2l.3 1l-2.9 4l-1.2 .7l-3.9 1.1l-15.5 2.1l-31.6 1.8l-21 2.5l-10.4 2.5l-1.9 .7l-1.6 1.1l-1.4 .3l-8.2 1.5l-10.6 2.5l-1.5 .7l-.7 1.4l-1.8 1.1l-5.5 2.1l-7.7 1.8l-2.8 1.4l-5.1 1.5l-7.3 3.2l-1 .7l-1.2 1.4l-6.5 2.2l-3.6 2.5l-5.1 2.5l-.6 .7l.2 1.8l-.8 .7l-5.3 2.1l-1 .8l-.7 1.4l.1 2.5l-1 1.8l-.1 1l1.4 2.2l.6 1.8l1.1 1.8l.2 2.8l1.4 2.2l5.6 1.7l4.4 2.5l.4 2.5l4.2 4l.3 .7l.1 2.1l1.7 2.2l2.2 3.5l.3 1.1l-.9 2.2l.2 .7l2.2 2.5l.7 2.8l.5 1.1l2.8 2.9l.1 .7l-1.2 5.7l2.4 2.9l.1 2.8l1.4 2.2l-.3 2.5l1.1 2.1l-1.1 2.9l1.2 3.2l-.2 3.6l1.4 2.8l-.4 2.5l.4 2.2l-.1 2.5l.6 2.8l-.3 1.1l-.7 .7" stroke="#20c7df" stroke-width="0.4"/>
<path d="M497.4 16.5l1.9 .4l.2 .3l-.3 2.9l.2 2.1l-.5 .7l-3.7 .7l-58.6 1.5l-29.7 3.2l-8.9 1.8l-3.1 .3l-21.7 1.8l-2.5 .7l-2.5 1.8l-2 .7l-26.9 6.8l-1.6 1.1l-.4 1.4l-.8 .7l-9 2.5l-.4 .4l-.3 1.4l-.3 .4l-3 1.8l-.5 1l1.1 1.8l.2 .7l-1 2.2l0 2.5l-.5 2.1l1.1 2.5l-.2 2.5l.2 1.8l-.4 .7l-2.5 1.8l-.5 .7l.3 .8l1.5 1.7l1.7 4l-.3 .7l-2.1 1.4l-.5 .7l.6 .7l4.2 2.2l.1 .7l-.6 1.1l.1 .7l2.5 2.1l1 2.9l2.6 2.1l1.6 2.9l2.9 2.8l.5 1.1l-.1 1.8l.3 .7l4 2.9l.8 2.8l-1.1 2.9l0 .7l.8 .7l2.7 1.5l.6 .7l-.3 .7l-1.2 1.4l0 .7l2 2.5l.7 2.9l2.4 3.6l.9 1.7l.9 2.9l-.7 2.1l.1 .8l2.8 2.8l.4 1.4l-.4 2.5l2.4 2.9l-.4 .7l-2 1.8l-.2 .7l1 2.5l.6 3.6l1.9 3.6l-.4 3.9l1.9 3.6l-.3 .7l-.8 .7" stroke="#1fc9dd" stroke-width="0.4"/>
<path d="M491.5 16.5l2 .7l.5 .7l-2.6 3.2l.2 .8l1.7 1.7l.1 .8l-2 2.1l-1.6 .7l-3.6 .7l-33.8 1.8l-8.5 .7l-10.9 2.2l-24.2 2.5l-14.5 2.1l-3.5 1.1l-1 .7l-.6 1.1l-.8 .3l-13.3 2.9l-8.3 2.5l-2.9 1.4l-5.6 1.5l-4.4 2.1l-6 1.8l-.8 .3l-.3 1.1l-.4 .4l-4.3 1.4l-5.4 2.5l-4.6 3.2l-4.4 2.5l-2.6 3.2l-1 2.5l-.2 2.5l-.9 2.2l1 2.5l-1 2.8l1.2 4l0 6.8l.7 1.4l2.1 1.8l.6 2.5l2 2.1l.3 2.9l1.6 2.1l.4 2.5l3.1 2.9l2 2.8l.4 1.5l-.1 2.5l2.5 2.5l-1.1 1.8l0 .7l2.3 2.1l.1 .7l-.6 1.8l2.1 2.5l-.2 2.2l.1 .7l1.6 2.1l.3 2.2l2.6 2.8l.8 1.4l-.1 2.9l.7 2.9l.2 3.9l.7 3.2l-.3 2.9l.6 1.4l1.8 2.1l.3 .8l-.6 2.5l1.5 3.2l-.2 .7l-.6 .7" stroke="#1ccdd8" stroke-width="0.4"/>
<path d="M496.8 16.5l1.3 .4l.5 1l-.1 1.1l-.9 2.1l.7 2.2l-3.4 1.4l-4.2 1.1l-68.7 5l-34.8 4.6l-7.2 1.5l-4.9 2.1l-22.5 6.4l-6.8 2.9l-2.7 1.8l-4.9 1.4l-.8 1.4l-4.7 2.2l-1.3 2.1l-2.3 1.5l-7 5.7l-.2 .3l.2 .7l1.9 1.8l.6 1.1l-.1 1.1l-1.6 3.6l.8 5l-.8 2.8l.3 1.1l4.1 3.9l4.3 2.5l.9 2.5l.7 .7l7.5 3.2l6.9 5.8l1.7 5.3l-.8 1.8l.1 .7l2.6 1.8l.6 .7l-.4 .7l-1.2 1.1l-.1 .7l3.5 2.2l.5 .7l-.2 1.8l.2 1.8l-.7 2.1l.1 .7l1.8 2.5l-.1 1.8l.2 .7l1.7 1.4l.4 .8l-.6 .7l-1.7 1l-.6 .8l.4 .7l2.5 1.8l-.1 .7l-1.4 1.4l-.1 .7l2.6 2.2l-.1 2.1l1.5 2.5l-.2 .7l-1.1 1.8l.4 2.5l-.8 2.2l.1 .7l1.7 2.1l.4 1.1l.2 2.1l-.6 4l1.4 4.6" stroke="#1bd0d5" stroke-width="0.4"/>
<path d="M487.1 16.5l-.7 .4l0 .7l4 3.2l.5 1.1l.3 2.5l-1.4 1.4l-3.1 1.4l-3.1 .7l-3.7 .4l-61.2 4.6l-5.5 .7l-7.3 1.8l-11.5 2.2l-2.5 .7l-4 1.8l-8.7 1.8l-13.9 3.5l-5.3 2.5l-8.7 2.2l-8.3 3.2l-1.2 .7l-.1 .4l.6 1l-.4 .8l-7 2.5l-4.8 2.1l-1.1 .7l-4.6 4.7l-.7 1l-.3 1.1l.4 2.9l-.5 .7l-2 1.8l-.3 .7l3 2.5l-.2 .7l-1.5 1.4l-.3 .7l1.3 2.5l.9 3.3l-.2 1l-.9 1.8l0 .7l3.3 4.3l.4 1.8l1.5 3.6l-.1 2.1l2.7 3.6l.1 1.8l1.1 1.4l1.2 2.1l2.9 3.3l.3 2.5l1 1.8l-.2 1.7l.3 .8l.6 .7l3.4 2.1l-.1 .7l-1.3 1.8l1.6 2.5l-.5 2.5l.3 .7l1.5 1.8l-.1 2.5l.2 .7l4.1 5.7l-.4 3.3l1.2 3.2l.1 3.6l2.3 5l-.2 3.9l.9 3.9l.9 1.8" stroke="#1ad2d2" stroke-width="0.4"/>
<path d="M490.8 16.5l1.2 2.9l.6 3.2l1.6 2.5l.3 1l-.4 .8l-2.7 1.4l-2.7 3.2l-1 .4l-3.4 .3l-16.6 1.1l-7.3 1.4l-17.2 1.5l-23.9 2.5l-4.4 .7l-14.8 3.5l-21 7.2l-1.4 .7l-2.2 1.8l-5.1 1.4l-.8 .4l-.2 .3l.9 1.1l-.1 .4l-2.4 1.4l-2.6 .7l-10.4 1.8l-4.2 1.8l-1.1 .7l.6 1.4l-1 .7l-8.5 2.2l-1.7 .7l-3.3 3.6l-2.1 2.8l-5.5 3.2l-1.9 1.5l-.5 .7l-.2 1.8l-.9 2.1l.7 3.2l2.3 2.5l3.6 1.8l.9 .7l.1 .7l-.5 1.5l.6 1.4l2.8 2.5l1 1.4l2.3 1.5l1 1l.9 3.6l-.7 2.5l.6 1.4l1 1.1l3.7 2.2l1 1l-.1 .7l-.6 1.5l1.4 2.5l-1.1 1.8l-.2 .7l2.1 2.5l.4 2.1l2.2 2.2l.3 .7l-1.2 2.1l1.6 3.9l-.3 .8l-1.2 1.4l-.2 .7l.6 .7l2.7 1.4l.7 .8l-.3 .7l-1.3 1l-.4 .8l1.7 2.1l-.2 2.5l1.4 3.2l.2 3.6l2.2 2.5l0 .7l-1.6 1.8l-.2 .7l2.2 3.9l.1 1.5l-.5 1.4" stroke="#1ad4d0" stroke-width="0.4"/>
<path d="M494.7 16.5l2.5 1.4l1.8 2.5l-.1 1.1l-1.1 2.1l.4 2.2l-2.6 1.4l-1.8 1.4l-1.9 .8l-2.6 .3l-31.9 1.4l-16.7 1.1l-20.1 2.2l-16.9 2.8l-4.6 1.8l-11.9 2.2l-.9 .3l-1.1 1.4l-.9 .4l-6.1 1.4l-12.7 3.6l-.9 .7l-.2 1.1l-5.7 2.5l-12.1 2.8l-.9 .8l-.1 .7l-.5 .7l-3.5 2.1l-5.5 2.2l-.9 .7l-.9 1.4l-1 .7l-5.3 1.8l-1.3 .7l0 .7l1.2 1.1l.4 .7l-2.6 2.5l-2.1 4.7l0 .7l1.6 4.6l.4 2.2l2.5 3.6l3.3 2.1l2 1.8l3.7 2.1l1.2 1.5l1.2 2.5l3.9 2.8l.6 2.5l1.5 2.2l-.1 2.8l.6 1.4l2.1 3.3l.9 2.1l3.4 2.9l-.1 .7l-1.2 1.8l1.5 2.5l.2 2.5l1 2.5l-.2 2.1l1.8 3.6l-.1 1.1l-.8 1.7l0 .8l2.4 2.8l-.1 1.4l-1.1 2.9l.4 1.4l2.4 4l.2 1.4l-.5 2.9l1.7 3.2l-.2 1l-1.7 2.5l-.3 1.1l.3 1.1l1.6 3.2" stroke="#19d5cd" stroke-width="0.4"/>
<path d="M491.7 16.5l.8 .7l.2 .7l-.3 3.2l2.4 2.9l.4 .7l-.3 .4l-3.3 .7l-11.6 1.4l-7.1 1.4l-5.3 1.5l-39.6 2.8l-25.9 3.3l-10.1 2.1l-2.7 .7l-10.3 3.9l-8.3 2.2l-4.3 2.1l-12.5 2.9l-7.6 2.5l-1.8 1.1l-.9 2.1l-2 2.1l-1.9 .8l-5.6 1.4l-7.6 5l-.1 2.1l-2.2 2.2l-.7 1.4l-.4 3.2l1 4.7l-.1 .7l-1.1 2.1l.1 .7l2.5 4l5.3 2.5l2.7 1.8l1.1 1.4l3.7 1.8l.9 1l1.9 1.5l.6 2.5l2.3 2.1l1.8 2.5l2.9 2.2l.6 .7l-.4 2.1l1.4 2.2l-.9 1.8l0 .7l3.2 2.1l.6 .7l-.1 .7l-1.6 2.5l0 1.5l4.2 6.4l-.5 3.2l1.6 2.5l-.1 2.2l.4 2.5l.1 2.5l1.8 3.5l.3 1.1l-1.1 4.3l.5 .7l2.5 1.8l.4 .7l-1.5 2.2l.3 2.5l-1.7 2.1l.3 .7l1.7 1.4l.3 .8l-.4 .7l-2 2.1l.2 .7l.5 .4l2 .7" stroke="#18d7ca" stroke-width="0.4"/>
<path d="M476.5 16.5l-.4 1.8l1 3.9l-.2 5.4l-1.8 2.8l-.6 2.5l-1.1 1.1l-1.8 1.1l-10.6 2.8l-10.4 3.3l-7.8 1.4l-15.3 1.8l-6.9 1l-12 3.6l-16.6 3.9l-3.4 1.5l-5.3 2.8l-3.9 3.2l-1.7 1.1l-3.6 1.4l-12.4 4l-20.3 10l-1.7 1.1l-3.2 2.8l-5.1 3.2l-1.8 1.5l-1.5 3.2l-3.4 3.2l-1.3 1.8l-.3 3.5l-2 5l.2 3.3l-.4 2.8l.1 1.8l1.9 5.7l1.8 3.6l.2 2.1l.8 2.9l-.9 2.5l.2 1.1l.7 1l3.1 2.9l.7 1.1l.1 3.2l1.7 3.6l.8 3.5l.6 1.1l2.7 2.9l1.2 2.1l1.1 2.9l.3 3.2l.4 1.8l1.2 2.5l2.8 4.3l.3 1l0 1.1" stroke="#18d9c8" stroke-width="0.6"/>
<path d="M478.8 16.5l.3 1.8l-.6 4.3l.7 5l0 1.8l-1.2 1.4l-2.8 2.1l-1.5 2.2l-1.1 .7l-4.2 1.4l-12.5 2.9l-12.3 3.9l-6.7 1.1l-19 2.1l-6.6 1.1l-3.5 1.1l-9.3 3.9l-15.1 4.6l-4.1 1.8l-10.7 5.7l-10.2 4l-12.4 5.3l-4.9 4.3l-7.9 5l-1.1 1.1l-1.2 2.1l-.9 1.1l-4.8 2.9l-.6 1l.1 2.2l-1.7 2.8l-.5 2.5l-1.7 4.7l0 1.4l.8 4.3l2.5 5.4l2.7 2.8l.7 1.1l.2 2.9l1.6 5l2.4 5l2.4 6l.8 2.9l1.5 2.8l.7 3.3l3.7 6.8l4.2 12.1" stroke="#18dbc5" stroke-width="0.6"/>
<path d="M478.2 16.5l-.2 1.4l.4 4l-.5 3.5l.1 4l-1.3 2.5l-2.6 1.7l-2.1 .8l-11.9 2.5l-6.5 2.5l-7.1 1.8l-6.7 1l-24 2.5l-5.8 1.1l-4.4 1.4l-13.5 5l-7.1 3.2l-21.7 9l-6.3 3.9l-9.5 4.3l-11.2 6.4l-1.8 1.5l-2 2.5l-5.1 3.9l-2.3 4.3l-2.5 3.2l-.5 3.9l-1.2 3.9l.1 3.6l-.9 3.9l.8 1.5l3.8 3.2l2.2 3.6l.4 1.4l.2 2.5l1.1 2.9l.2 2.1l1.7 3.2l-.4 2.5l.1 .7l2.2 2.9l1 2.5l1.7 2.8l.6 1.8l.4 2.9l2.4 3.6l.9 3.2l3.1 4.3l.2 3.5l2.2 3.6l.3 1.1l-.2 .7" stroke="#18ddc2" stroke-width="0.6"/>
<path d="M479.0 16.5l-.6 1.8l.7 5.3l-.8 5l-.6 1.1l-1 1.1l-3.8 2.5l-3.4 1.1l-25.2 6l-8 1.5l-25.1 3.5l-9.6 2.2l-7.2 2.1l-12.3 5.4l-7.4 3.9l-9.5 4.3l-5.2 2.9l-8.7 3.5l-6.9 3.6l-2.3 1.4l-3.5 3.3l-13.2 10l-1.4 2.1l-1.2 3.9l-1.2 6.8l-.1 6.1l-1.2 3.2l-.1 1.1l.8 1.4l2.5 2.5l.9 1.4l.4 3.3l1.5 4.2l.2 3.6l2 3.2l1.4 5.7l2.9 4.7l1.3 5l2.6 4.3l.8 4.6l3.1 4.7l1.3 4.6l1.1 1.8" stroke="#18e0bd" stroke-width="0.6"/>
<path d="M476.3 16.5l.6 .7l.4 1.1l-.9 3.9l.6 3.2l-.2 2.9l-1.4 2.1l-4.6 4.3l-4.3 1.5l-10.2 2.1l-17.4 4.3l-8.9 1.4l-21 2.5l-7 1.4l-3.5 1.1l-6.8 3.6l-12.2 4.6l-7.3 3.2l-6.1 3.3l-8.9 3.5l-5.2 2.5l-6.9 4.7l-5.9 3.2l-2.1 1.4l-10 9.7l-1.3 1.8l-1.6 3.5l-1.3 2.2l-.4 1l-.1 2.5l-1.7 2.5l0 .8l.6 2.1l-1.1 2.9l0 1.4l1 3.9l1.9 3.2l.8 2.2l.6 2.5l.7 4.3l1.2 3.9l2.6 5.4l.8 3.5l2.3 3.6l.8 3.9l3.1 4l.3 2.5l1.8 3.5l1.5 6.1l.9 2.2l1.3 2.1" stroke="#19e2bb" stroke-width="0.6"/>
<path d="M475.2 16.5l.6 .7l.3 1.1l-1.3 3.9l.9 6.8l-.1 1.1l-3.8 5l-1.9 1.4l-14.5 3.9l-2.6 1.1l-5.5 2.9l-4.6 1.4l-6.9 1.1l-24.1 2.8l-10.9 2.5l-10 2.9l-3.3 1.4l-4.2 2.9l-2.7 1.4l-4 1.4l-9.9 2.9l-3.4 1.4l-4.5 3.6l-19.8 10l-1.8 1.4l-3.1 3.6l-5.3 2.9l-1.4 1l-.9 3.2l-1.7 2.9l-3.2 7.1l-.8 4.3l.1 1.1l2.5 4.7l.5 3.9l2.6 2.5l.4 .7l.1 2.5l1.9 3.2l.2 4.7l2.2 6l3.4 5l.2 1.1l-.2 2.1l.4 1.1l2.9 3.6l1.1 1.8l2.9 8.2l2.8 5l.2 1.4l-.4 1.1" stroke="#19e3b9" stroke-width="0.6"/>
<path d="M479.5 16.5l-.6 1.1l-.2 1l.3 3.3l-.4 2.8l0 2.5l-.9 1.1l-4.2 3.6l-4.8 1l-16.9 2.2l-38.2 5.7l-6.7 1.4l-7 2.2l-14.8 5.7l-9.9 4.6l-9.7 3.2l-5.7 2.9l-6.7 2.9l-1.7 1l-3.6 2.9l-7.4 4.3l-3.6 2.8l-3.9 2.5l-5.9 5.8l-3.4 5.7l-2.4 5l.1 3.2l-1.1 3.6l.5 1.4l1.5 2.8l-.2 .8l-1.6 2.1l0 .7l2.3 2.5l.1 .7l-.4 1.8l.3 1.1l3 3.2l.9 1.4l1 3.3l1.7 4.2l.2 3.6l.5 1.8l1.9 3.6l1.1 2.8l2 2.9l-.5 2.1l.1 .7l3.4 3.6l.8 3.6l1.3 3.9l2.4 5l2.9 4l.1 1l-.6 1.1" stroke="#1ae4b6" stroke-width="0.6"/>
<path d="M477.5 16.5l1.1 1.1l.3 1l-1.3 3.6l.3 3.2l-.4 3.2l-1.8 2.9l-2.7 2.1l-3.4 1.1l-11.1 2.5l-15.3 4.3l-8.6 1.4l-22 2.9l-11.6 2.5l-6.1 1.8l-11.7 5.7l-26 10.7l-8.9 4.7l-4.8 3.2l-7.5 3.9l-1.7 1.4l-2.7 3.3l-2.9 2.5l-.9 1l-1.2 2.5l-2.7 3.6l-.7 1.4l-.3 3.6l-1.8 5l0 3.2l-1.1 6.8l0 1.8l.6 1.8l2 2.8l0 2.9l.3 1.1l2.4 3.9l-.3 3.2l1.8 2.9l-.5 2.8l2.1 2.9l.4 2.8l3.1 4l1.8 6.1l3.4 3.5l.1 2.9l1.6 3.2l.4 3.6l.5 1.4" stroke="#1ce6b4" stroke-width="0.6"/>
<path d="M476.9 16.5l.5 .7l.3 1.1l-.9 3.9l.3 2.5l-.2 2.5l.4 2.5l-1.2 1.4l-5.3 3.3l-4.4 1.4l-12.3 2.9l-17.1 4.6l-7.9 1.4l-18.7 2.5l-8.1 1.8l-5.9 1.8l-6.9 2.9l-8.2 3.9l-10.2 3.9l-18.9 9.3l-1.9 1.1l-3.1 2.5l-9 3.6l-2.9 2.5l-4.3 2.8l-1.1 2.5l-3.6 3.2l-1.2 4l-3.2 5.7l-.9 6l.6 2.9l-.1 2.9l2.4 5.7l3.6 5l.7 4.6l1.4 4.3l1.2 2.5l1.1 3.2l1.5 2.9l.7 4.3l.6 1l2.5 2.2l.7 1.1l.4 2.5l1.9 3.2l1.3 3.6l.8 3.9l2 3.6l.1 1l-.4 1.1" stroke="#1de7b2" stroke-width="0.6"/>
<path d="M482.8 16.5l-.5 1.8l-.4 5.7l.3 3.9l-.9 1.5l-2 1l-4 1.1l-19.7 2.1l-14.1 2.6l-25.8 3.9l-6 1.4l-18.6 5.7l-4.5 1.8l-6.1 3.9l-13.8 4.7l-16 7.8l-7.4 4.3l-13.2 9.7l-2.4 2.1l-3.4 4.3l-.6 2.9l-1.2 2.5l-.1 2.8l-1.6 2.9l.1 2.8l-.6 2.9l.6 3.9l-.8 4l2 3.2l1.8 4.6l.5 1.8l.4 4.3l3.9 7.9l1.2 4.6l2.9 4.3l.8 3.6l3.8 7.1l.3 3.9l3.6 7.5l1.8 2.9" stroke="#1fe9af" stroke-width="0.6"/>
<path d="M477.9 16.5l0 7.9l-.7 4.6l-.8 1.1l-2.5 1.4l-3.3 1.1l-11 2.1l-17.7 4.3l-31.6 4.7l-8.8 2.1l-9 2.9l-9.7 4.2l-10.1 3.6l-7.9 4.7l-10.1 3.5l-3.4 1.5l-4.4 3.2l-5.8 3.2l-4.9 3.2l-1.7 1.4l-2.9 3.3l-4.8 3.9l-2.1 3.2l-.9 3.6l-1.7 3.5l-.2 4l-1.5 4.6l-.3 3.6l.7 5.7l1.7 3.6l.2 3.2l1.6 2.5l.6 2.5l1.3 2.5l.1 1.1l-.3 1.8l.3 1l2.7 4l.3 1l.1 2.5l2.4 3.2l.7 2.9l1.9 4.7l2.1 3.5l1 4l2.6 3.5l.2 1.1l-.7 2.1l.1 1.1l.9 1.1l1.4 .7" stroke="#20eaac" stroke-width="0.6"/>
<path d="M477.3 16.5l-.1 1.8l.9 3.6l-.2 2.8l.4 3.2l-1 2.5l-.8 3.6l-1.3 1.4l-2.7 1.8l-9.7 3.6l-15.1 5l-5.2 1.4l-32.9 6.1l-10.3 2.1l-6.3 1.8l-11.1 5.4l-15.8 6.8l-9.7 5l-7.7 3.2l-9.1 4.3l-2 1.4l-1.4 2.5l-4.4 2.9l-1.2 1l-7.3 9l-.3 1l0 2.9l-1.6 3.2l-.2 3.2l.7 1.8l.7 3.6l2.6 4.3l.3 3.2l1.4 3.2l.2 1.4l-.5 2.5l.2 1.1l3.1 3.6l.8 3.6l3.7 8.2l2.3 4.3l.8 4.6l2.4 3.6l1.1 2.8l2 3.6l.4 1.8" stroke="#22ebaa" stroke-width="0.6"/>
<path d="M475.2 16.5l.3 .7l.1 1.1l-1.3 3.6l1 3.2l-.1 4.3l-.6 1l-1 1.1l-4.6 3.6l-4.2 1.4l-21.8 5.4l-31.8 4.6l-9 2.5l-16.2 5.7l-13.4 5.7l-6.9 3.6l-7.1 2.9l-19.6 10l-1.9 1.4l-2 2.2l-3.3 2.8l-2.1 2.5l-3.4 2.9l-.9 1.4l-.9 3.9l-3.8 9.7l.1 6l.7 4.3l-.1 4l.6 1.4l1.9 2.5l.4 3.9l2.4 4l-.3 3.5l1.8 2.9l.9 2.5l2.4 5l2.1 2.8l.3 3.3l1.1 2.5l.6 2.1l3.2 4.3l.5 1.4l.5 4l1.6 2.1" stroke="#25eca7" stroke-width="0.6"/>
<path d="M476.4 16.5l-.3 2.1l1 7.5l-.3 2.9l-1.3 1.4l-3.5 2.2l-2.9 2.1l-4.1 1.5l-16.1 3.5l-13 4l-6.4 1l-18.6 2.2l-8 1.4l-5.3 1.4l-7.1 3.6l-19 7.5l-12.9 5.7l-8.9 4.3l-2.3 1.4l-3.2 2.5l-5 2.9l-2.9 2.9l-5.5 3.9l-2.5 2.5l-2.4 2.8l-1.3 2.2l-2.3 7.5l-1.2 2.8l-1.1 5.4l.4 .7l2.2 2.5l.6 3.6l4.7 7.1l.4 3.3l1.5 2.8l.8 3.6l1.3 3.6l0 3.2l.4 .7l3 2.5l.2 .7l-.4 2.1l3.1 3.6l.6 2.9l2 3.9l1 3.6l3.2 5l.4 1.8l-.3 1.4" stroke="#2aefa1" stroke-width="0.6"/>
<path d="M482.0 16.5l-.4 3.2l.3 4.3l.6 3.2l-.3 .7l-1.2 1.1l-3.9 2.1l-4.6 1.1l-16.3 2.5l-5.3 1.5l-6.6 2.5l-4.3 1l-7.3 1.1l-20.4 2.1l-9.5 1.8l-5.1 1.5l-6.8 2.8l-11.9 4.3l-7.2 4.3l-12.3 4.3l-2.5 1.4l-3.5 2.9l-5.9 2.8l-5 3.2l-6.3 2.9l-3 2.1l-2.4 3.3l-4 4.2l-1.9 3.6l-2.7 3.9l-.3 1.5l.1 3.2l-1.5 3.2l.1 2.9l-.6 2.8l0 1.4l.5 1.8l2.8 5l.8 5l2.9 4.7l.7 3.6l1.4 2.8l.2 2.9l1.8 2.8l.8 2.9l2.3 4.6l2 3.2l.4 3.6l5.3 9.3l.5 1.4l.6 3.6l1 1.8" stroke="#2cf09e" stroke-width="0.6"/>
<path d="M478.2 16.5l-.8 1.8l.6 3.9l-.4 3.2l-.1 4.7l-.7 1.4l-2.2 2.9l-2.3 1.8l-14.5 3.9l-9.1 3.6l-5.2 1.4l-6.3 1.1l-25.8 3.2l-7.9 1.8l-6.1 1.7l-13.4 5.4l-15.6 8.2l-12.5 4.3l-5.9 2.5l-2.4 1.4l-10.2 7.9l-5.6 3.2l-2.6 2.2l-1.5 2.1l-1.4 3.6l-3.2 2.8l-.7 1.1l-.4 7.1l-1.4 3.3l0 1.4l.6 1.4l2.3 3.2l2.1 4.7l2 2.8l-.1 3.6l2.8 4.3l.2 3.6l2.3 2.8l.5 3.2l3.1 5l.4 1.8l-.3 2.5l.1 1.1l3.3 3.9l1.2 4.3l2.1 3.2l.1 3.6l1.1 1.8" stroke="#2ff19b" stroke-width="0.6"/>
<path d="M481.5 16.5l-.1 1.4l-1 3.6l.9 3.6l-.4 5.7l-2.7 4.6l-1.4 1.5l-1.1 .7l-5.3 1.8l-14.4 3.2l-19.3 5.7l-6.5 1.1l-19.7 2.5l-6.4 1.4l-5.7 1.8l-24.2 10.7l-8.4 3.2l-13.9 6.8l-12.1 6.8l-2.4 1.8l-4.2 3.9l-5.2 3.2l-1.8 1.5l-.6 1l-.3 2.9l-2.5 3.2l-.4 3.9l-1.5 3.6l-.1 1.4l1.7 4.3l2.9 3.6l1.2 3.2l2.1 3.9l.5 5.4l3.1 8.6l1.6 3.2l.8 3.2l5.6 8.9l1.1 4.3l2 3.2l1 3.6l1.2 1.8" stroke="#32f298" stroke-width="0.6"/>
<path d="M477.5 16.5l.6 1.1l.3 1.4l-.7 4.6l.5 3.6l-.2 1.8l-1.5 3.2l-1.3 1.1l-2.6 1.4l-14.4 3.6l-6 2.1l-5.6 2.9l-3.3 1.1l-7.1 1l-22.5 2.2l-7.6 1.4l-3.2 1.1l-7.5 3.2l-13.9 4.3l-2.3 1.1l-4.8 3.2l-5.1 2.5l-13.3 4.6l-3.9 1.8l-5.3 3.6l-7.1 3.6l-2 1.7l-1.2 2.2l-1 1.1l-5 2.8l-1.8 1.4l-1.6 2.5l-1.6 4.3l-3.4 4.3l-.9 1.8l-.2 2.1l.9 4.7l-.5 3.2l.6 1.1l2.6 2.5l1.2 1.8l.5 3.2l1.7 3.2l0 2.9l1.9 3.5l1.4 6.1l.9 1.4l2.2 2.5l.2 1.1l-.2 1.8l.3 1.1l1.9 4.6l2.1 3.6l1 3.9l3.1 3.9l.6 2.9l1.4 3.2l-.1 1.8" stroke="#35f394" stroke-width="0.6"/>
<path d="M482.5 16.5l-.2 1.8l.8 3.6l-.3 2.5l1 2.5l0 .7l-.5 .7l-3 2.1l-1.8 2.5l-1 .7l-4.8 1.1l-15.4 2.5l-5.5 1.5l-6.1 2.1l-3.4 .7l-31.6 3.6l-6.5 1.4l-5.9 1.8l-3.4 1.4l-9.4 5l-17.8 6.8l-12.2 6.8l-9.6 3.9l-8.2 5.8l-4.4 4.2l-4.6 3.6l-.9 1.4l-1.1 3.3l-1.1 1l-3.1 2.2l-.6 .7l0 2.8l-.6 2.5l.2 2.5l-1.1 2.9l1.5 2.9l0 2.8l.4 1.5l3.3 6.4l2 3.2l.5 2.9l.9 2.5l.7 3.2l1.5 2.5l1.2 3.2l1.9 3.6l1 3.9l2.4 3.2l.8 4.3l2.5 3.6l0 3.2l2.2 3.6l1.3 4.6" stroke="#38f491" stroke-width="0.6"/>
<path d="M475.7 16.5l0 1.4l-.8 4l.2 3.2l-1 5.3l-1.4 2.2l-2.6 1.8l-9.2 2.8l-6 3.2l-4.6 1.5l-7.6 1.4l-21.5 2.5l-9.3 1.4l-9.3 2.5l-7.6 2.5l-13 5l-6.5 3.6l-8.5 2.9l-4.8 3.2l-6.5 2.5l-11.4 5l-1.6 1.1l-3.3 3.2l-10 7.1l-1.6 3.2l-3.3 4.3l-2.8 5l-.1 1.4l.7 2.9l-.9 2.5l-.2 2.5l-.9 2.1l-.1 1.1l.6 1.1l2.4 2.5l.9 1.4l-.1 3.2l1.9 2.5l.3 .8l-.4 2.1l.1 .7l2.4 3.9l1.5 5.8l3.8 6l3.3 7.5l.4 1.5l0 3.2l5.2 9.3l.8 2.1l.1 1.8" stroke="#3cf58e" stroke-width="0.6"/>
<path d="M478.0 16.5l.2 4.3l.7 3.6l-1.2 3.2l.4 1.8l-.1 .7l-1.5 1.4l-5.2 2.9l-6.8 2.5l-10.2 2.1l-12.8 1.8l-28.2 2.9l-5.4 1l-6.4 1.8l-3.6 1.4l-8.7 4.3l-12.3 4.3l-2 1.1l-2.5 2.5l-1.7 1.1l-9.6 3.5l-12.1 5.4l-4.9 2.9l-5.6 4.2l-6.3 3.6l-2.2 1.8l-1.5 3.2l-3.4 2.9l-1.3 2.1l-1.5 7.9l-1.8 3.5l.6 2.9l-1 2.9l.7 2.8l-1.2 2.2l-.1 1l2.7 4l.7 3.5l1.2 2.5l0 .8l-1.1 1.7l0 .8l.5 .7l3.2 2.5l.4 2.5l2 2.8l.2 2.9l2 3.2l1.3 4.3l1.9 3.2l1.1 2.9l1.5 2.8l.6 2.9l1.1 2.8l.6 3.3l1.3 2.1" stroke="#3ff68a" stroke-width="0.6"/>
<path d="M480.2 16.5l-1.2 4.3l.1 1.1l1 2.8l-1.5 2.9l0 2.5l-1.4 1.4l-3.9 2.1l-11 2.9l-8.2 2.9l-12.9 3.2l-24.3 3.6l-7.1 1.4l-21.7 6.8l-5.5 2.1l-7 3.2l-6.6 4.3l-11 3.9l-2.1 1.1l-4.4 2.9l-7.9 3.2l-9.4 6.1l-2.3 1.8l-2 3.2l-3.8 4.6l-3.3 5.7l-1.7 5.4l.6 3.2l-1.2 2.9l-.1 1l1.4 3.6l3.1 3.6l-.4 2.8l2.6 3.6l.2 1.1l0 3.2l1.4 3.2l.4 2.9l2.6 3.5l1 4.7l2.6 3.9l2.9 6.8l1.7 3.2l.9 3.2l2.9 6.1l1.1 1.8" stroke="#43f787" stroke-width="0.6"/>
<path d="M477.4 16.5l.7 .7l.2 1.1l-2 4.3l.8 5l-.1 1l-1.6 2.2l-3.4 2.5l-11.3 3.6l-7.2 3.2l-4.8 1.4l-5.8 1.1l-22.5 2.5l-8.7 1.4l-6.8 2.2l-10 3.9l-10.5 3.2l-13.4 5.7l-25 11.8l-5.3 3.9l-5.7 3.6l-3.3 3.6l-3.9 3.6l-.7 1l-1.4 2.9l-2.8 3.6l-.7 1.4l-.1 2.8l-.8 3.3l.4 4.2l-.9 2.5l0 1.1l.8 1.5l3.2 3.2l1.2 1.8l1 3.9l-.8 2.5l.1 1.1l2.6 3.2l.6 3.9l2.3 3.9l3.6 9l2.8 5.3l1.3 3.6l.7 3.6l2.6 3.9l.8 3.6l.7 1.4" stroke="#4af880" stroke-width="0.6"/>
<path d="M480.7 16.5l-.5 .7l-.1 1.1l.8 3.6l-1.1 3.2l.6 2.5l-.2 1l-.9 1.5l-1.1 1l-4.2 2.9l-5.2 1.4l-25.8 5l-30.1 4.3l-6 1.5l-7 2.1l-22.4 7.9l-9.5 5.3l-15.8 6.8l-2.2 1.4l-3.6 3.3l-8.3 4.2l-3.9 3.3l-4.2 2.8l-1.7 2.9l-2.7 3.2l-1.6 3.2l-2.4 6.8l-1 5.7l.1 2.1l1.9 3.6l.3 2.9l3.1 4.3l2.5 5.7l.4 1.1l.1 2.5l1.3 3.2l.9 3.9l3 5l2.4 6.8l1.9 3.2l1.3 3.2l2.5 4.3l.6 4.3l2.2 5" stroke="#4ef97d" stroke-width="0.6"/>
<path d="M476.0 16.5l.8 1.1l0 1l-2 3.6l-.3 1.4l.3 1.1l1.6 2.2l.1 1l-1.7 2.5l-.8 2.2l-2 1.4l-12.7 3.2l-2.7 1.1l-3.7 2.1l-3.8 1.1l-6.7 1.1l-22.4 2.1l-7.2 1.1l-2.7 .7l-6.9 2.5l-12.9 3.6l-3.1 1.4l-3.4 2.5l-2.6 1.4l-8.1 3.3l-7.7 3.9l-9.6 3.6l-4 1.7l-6.6 4l-6.2 3.2l-8.2 6.1l-2.7 4.6l-5 5l-.6 1.1l.1 3.9l-1.3 5.4l0 3.5l-.5 3.3l.5 1l2.3 3.3l1.4 4.6l2.3 5l1.9 3.2l.5 3.9l1.4 4l0 2.1l.2 1.1l3.6 4.6l1 3.6l2.6 3.6l.7 1.4l.6 4.3l.5 1.4l2.1 3.2l1.4 3.6l1.8 1.8" stroke="#52fa7a" stroke-width="0.6"/>
<path d="M477.6 16.5l-.7 1.8l.5 3.6l-.6 2.8l.1 3.6l-2.4 3.6l-2.3 1.7l-11.4 3.3l-6.1 2.8l-3.4 1.1l-8.2 1.4l-22.8 2.2l-8 1l-3.8 1.1l-6.6 2.9l-11.4 3.2l-2.6 1.1l-5.2 2.8l-3.9 1.8l-20.7 7.9l-4.4 3.2l-8.2 3.9l-4.4 2.5l-2 1.4l-3.3 3.3l-4.8 3.2l-2.1 1.8l-1.5 2.1l-1.7 3.6l-2.9 3.2l-1 1.8l-.2 1.4l.3 4.3l-1.5 4.3l0 3.5l2.6 9l2.4 3.6l.1 1l-.6 2.9l.2 1.1l2.4 3.5l1.7 4l.4 1.4l.2 3.2l.4 1.1l4.1 3.5l.1 .8l-.7 1.7l.1 1.1l5.2 9.3l.3 1.1l0 2.8l1.9 4l.2 1.4" stroke="#55fa76" stroke-width="0.6"/>
<path d="M475.8 16.5l.1 1.8l-.6 3.9l.1 5.7l-2.6 4.7l-2.4 2.1l-25.1 7.2l-8.8 1.4l-23.3 2.9l-10.2 2.1l-5.1 1.4l-2.6 1.1l-17.8 8.9l-15.1 6.1l-6.3 3.6l-8.6 3.9l-11 6.4l-8.9 7.2l-.9 1.4l-.8 2.9l-2.6 3.2l-.2 2.8l-1.5 4.3l-.1 3.6l-1 3.2l1.5 7.9l-.2 3.2l.5 1.4l2.2 3.6l.8 3.6l1.8 3.9l.3 4.3l3.4 5.3l.7 5l3.2 4.3l1 1.8l1.2 5.4l2.3 3.6l.9 1.7l.3 1.5l-.1 1.4" stroke="#59fb73" stroke-width="0.6"/>
<path d="M476.8 16.5l-.5 1.4l1.2 3.6l-1.6 3.2l1.7 2.5l0 1.1l-.7 1.1l-2.6 2.5l-1.9 1.4l-4.1 1.1l-27.6 5.7l-29.4 4.6l-9.6 2.2l-5.7 1.8l-7.7 3.2l-9.2 4.6l-13.1 4.3l-5.3 3.6l-8.9 3.2l-3.1 1.4l-2.5 1.8l-1.7 2.5l-.9 .7l-6.8 3.2l-1.6 1.1l-1.1 1.1l-2.8 3.9l-5.9 4.7l-.9 1.4l-.5 3.6l-1.8 3.9l-1.9 7.1l-.1 2.2l.4 4.3l-.1 2.8l.7 2.9l.2 2.8l1.6 6.1l3.1 7.2l.6 3.2l2.1 2.8l.9 4l4.1 7.1l1.3 5l2 3.6l.3 2.8l2.8 4l.3 1.4" stroke="#5dfc6f" stroke-width="0.6"/>
<path d="M480.1 16.5l-.2 1.8l1.1 4.6l-.1 2.2l-1.5 4.3l-1.4 1.4l-2.2 1.4l-2.7 .7l-17.5 2.9l-5.2 1.4l-6.4 2.5l-2.7 .7l-7.2 1.1l-23 2.5l-5.3 1.1l-4.7 1.4l-13.1 5.7l-22.6 8.2l-4.1 3.3l-8.9 3.5l-10.5 5.8l-8.4 5.7l-7.3 6.8l-.6 1l-.4 2.5l-2.2 3.2l-1.6 3.6l-.1 1.1l.6 1.8l0 1l-1.6 2.5l-.3 1.1l.5 4.3l1.2 2.9l-1.3 2.5l0 .7l2.9 3.9l.2 1.4l-.3 2.5l.2 1.1l1.8 4.3l2.1 3.2l.5 4.3l.9 2.1l2.4 4.3l.2 3.2l3.1 3.6l1.6 4.3l1.6 3.2l.8 4.7l2.5 4.6l.2 1.8" stroke="#61fc6c" stroke-width="0.6"/>
<path d="M482.2 16.5l.6 1.4l-.5 3.6l1.5 3.2l-1.9 2.9l.8 2.8l-.9 1.1l-2.7 2.1l-1.9 2.6l-1.2 .7l-4.5 1.4l-14.7 3.2l-19.5 5.4l-8.2 1.4l-19.4 2.5l-5.5 1.1l-3.8 1l-4.9 2.9l-10.5 4.3l-14.3 4.6l-1.4 1.1l-1.3 2.5l-1.7 1.1l-11.4 3.6l-2.6 1l-4.7 3.2l-8.7 4l-1.2 1l-2.7 3.3l-5.8 3.5l-1.4 2.9l-1.5 2.1l-1.1 2.5l-3.4 3.6l-.4 1.8l.8 2.8l-.3 .8l-1.7 1.7l-.3 .8l.3 .7l2 2.1l.2 2.5l.4 .7l2.6 2.5l.7 1.1l.2 1.4l-.6 2.5l2.2 3.3l.3 3.2l1.5 2.8l1.4 4l1.8 3.2l.9 3.2l3 3.9l.7 4.7l1.5 2.5l1 2.8l1.8 2.9l1.2 4.3l2.5 3.9" stroke="#65fd69" stroke-width="0.6"/>
<path d="M479.4 16.5l.2 1.8l-.7 5l.8 3.9l-.9 1.1l-2.8 1.4l-2.7 1.1l-13.6 2.5l-9.9 2.9l-6.5 1.4l-31.9 3.9l-9.1 1.8l-5.1 1.4l-2.7 1.5l-.7 .7l-.8 1.8l-1.6 1l-12.9 4l-7.8 2.8l-8.8 4.7l-10.2 4.6l-4.1 2.5l-2.7 2.9l-1.4 1l-7.4 3.6l-6 3.6l-1.8 1.4l-2.7 4.7l-2.3 3.2l0 2.8l-1.3 2.9l-.5 2.5l-.9 2.5l.1 2.8l-.5 3.3l1.2 2.5l.5 2.8l.4 1.1l2 3.6l2.4 3.2l.2 3.2l2.4 3.9l.4 4.3l.5 1.8l2.5 3.9l.5 2.5l1.6 2.9l.6 2.5l2.2 2.8l.1 3.3l3.2 4.3l.9 3.5l1.5 3.2l.6 3.6l1 1.8" stroke="#69fd66" stroke-width="0.6"/>
<path d="M478.6 16.5l-.5 1.1l-.1 1l.6 3.3l.1 3.5l.5 2.9l-.2 2.1l-.6 1.5l-.9 1l-3.7 2.5l-4.9 1.5l-23.9 5.3l-25.5 3.2l-6.6 1.1l-18.6 4.7l-4.7 1.4l-2.9 1.4l-3.1 2.9l-3 1.8l-12.4 4.6l-7.7 4.3l-10.3 3.9l-3 1.5l-9.3 6.7l-3.3 3.3l-4.7 3.2l-3 2.8l-1.6 2.2l-1.4 3.9l-2.2 3.6l-.3 1l.3 2.5l-1.5 2.5l-.1 .8l1.5 2.5l.5 2.8l1.7 2.5l.2 3.2l2.8 3.3l1 1.7l.3 4.7l2.5 3.9l-.8 2.5l.1 1.1l3.1 3.9l1.4 4.7l3.6 6l1.7 4.3l1 5.4l3.1 5.3l.5 1.5l.2 1.4" stroke="#71fe5f" stroke-width="0.6"/>
<path d="M477.0 16.5l.8 .7l.4 1.1l-1.4 3.6l1.8 3.9l-.5 5.7l-1.5 2.1l-3.6 2.9l-2.3 2.5l-2.3 1.4l-3.9 1.5l-20.9 6l-5.7 1.1l-25.2 3.6l-4.1 1.1l-13.6 4.6l-17.6 7.1l-6.9 4l-7.7 2.8l-13.6 5.8l-2.9 1.7l-4.1 3.3l-5.9 3.9l-9.2 7.8l-1 1.5l-1.3 3.9l-2.9 5l-.9 4.6l0 3.3l2.9 4.3l.6 4.2l1.7 3.3l2.1 5.3l2.7 8.9l3.2 5l2.8 5.4l.9 4.7l2.6 3.9l.3 2.8l.5 1.5l3 3.9" stroke="#75fe5c" stroke-width="0.6"/>
<path d="M473.7 16.5l.9 1.4l.4 1.8l-.3 1.8l-1.5 3.6l.1 1.4l.7 2.5l-.2 1.1l-5.1 5.7l-1.8 1.1l-13.3 4.3l-12.7 3.2l-29.7 4.6l-9.9 2.2l-5.2 1.4l-8.9 4.3l-34.7 14.3l-1.7 1l-2.7 2.5l-6.3 3.3l-2.9 2.1l-4.4 2.5l-1.6 1.4l-2.4 3.6l-3.7 3.9l-3.4 5l-.6 3.2l-1.4 2.9l-1.5 5.4l.3 1l1.7 3.3l1.1 3.5l2.5 3.2l.5 2.9l2.6 2.9l.1 1l-.7 2.5l.3 1.8l2.5 4.7l2.7 5.7l.7 3.5l2.5 3.3l.6 2.5l1.6 2.8l.6 3.2l2.1 4.7l.9 3.6l1.4 2.1" stroke="#79fe59" stroke-width="0.6"/>
<path d="M472.1 16.5l-.6 1.8l1.3 4.6l-.2 4l.2 2.8l-.5 1.1l-1 1.1l-4.5 3.5l-10.4 4l-7.6 2.1l-9.1 1.8l-17.2 2.1l-9 1.5l-20.6 6l-9.4 4.3l-9.2 3.6l-7.2 4.3l-10.6 3.6l-3.3 1.4l-9.6 6.4l-9.1 5.4l-7.6 6.4l-.7 1.1l-.6 2.5l-1.8 3.2l-1.5 3.9l-.6 2.5l0 3.2l-1.3 3.3l0 1.4l2.2 3.9l-.3 2.9l1.7 2.8l-.6 3.3l1.6 2.8l.8 2.9l2.4 3.9l.2 1.1l-.1 2.5l.9 1l2.3 1.8l.8 1.1l1.8 7.1l1.8 3.3l.8 2.5l1.3 2.8l.8 2.9l1.9 3.2l1.5 5" stroke="#7dff56" stroke-width="0.6"/>
<path d="M476.6 16.5l.5 2.1l-.2 5l-1.1 4l.4 2.8l-.1 1.5l-1.3 2.1l-3.6 2.9l-18.3 6.8l-3.7 1l-7.5 1.5l-18.6 2.1l-6.4 1.1l-3.5 1l-5.7 2.5l-12.9 3.3l-4.4 1.4l-7.1 3.6l-10.5 3.9l-6.8 3.6l-9.8 3.9l-14.8 7.1l-4.1 2.9l-5.7 6.4l-5.3 4.3l-1.9 2.9l-.7 3.5l-2.1 2.9l-.1 1.1l.3 3.2l-.4 3.6l1.5 3.2l.4 2.8l1.5 3.6l1.1 5l2.9 4.7l.4 3.2l2.4 3.9l.2 1.1l-.2 2.1l.1 1.1l2.6 2.8l.8 2.9l2 3.2l1.3 4.3l2.8 3.9l1.6 7.9" stroke="#80ff53" stroke-width="0.6"/>
<path d="M475.4 16.5l1.4 .7l.7 1.1l-.2 1.1l-1.5 2.5l.1 1l.8 2.2l-.6 3.2l-.6 1.4l-1.2 1.4l-3.8 2.5l-13.2 3.3l-10.7 3.5l-5.5 1.5l-8.8 1.4l-22.2 2.9l-6.6 1.4l-4.7 1.4l-15.6 6.8l-14.3 5.4l-7.6 4.2l-12.6 4.7l-3 1.8l-7.1 5l-3.3 3.2l-4.8 2.9l-.5 .7l-.5 2.1l-3.7 3.2l-2.8 4.7l-.8 2.1l-.5 3.2l-1.5 2.5l-.2 1.1l1.4 2.9l-.4 2.8l1 4.3l.5 1.1l2.6 3.2l.6 2.1l1.2 2.5l0 2.9l2.4 3.2l-.1 3.2l1.2 4l1.1 1.7l3.1 4l.4 1l.3 2.5l2.2 2.9l.1 2.9l1.3 4.3l.6 1l2.7 2.9l.1 3.2l1.6 3.6l-.2 1.4" stroke="#84ff51" stroke-width="0.6"/>
<path d="M474.5 16.5l1 3.6l-.6 4.6l.5 3.9l-.6 1.5l-1.4 1.8l-3.6 2.8l-9.6 2.9l-8.1 3.2l-4.4 1.1l-6.7 1l-25.4 2.5l-4.8 .8l-5.3 1.4l-7.6 3.6l-14.8 5.3l-1.9 1.1l-4 2.8l-2.2 1.1l-15.1 5l-9.6 5l-10.7 6.5l-5.9 4.2l-1.6 1.5l-3.1 3.9l-4.2 3.2l-.7 1.1l0 2.5l-1.4 2.5l-.4 2.8l-1.2 2.5l0 2.9l-1 2.5l0 1.1l2.7 4.6l.3 3.2l1.9 4l0 4.3l3.2 7.5l.3 3.2l2.1 2.8l.2 3.2l3.1 4l.6 4.3l3 4.6l1.7 4.7l3.4 4.6l0 .7l-.3 .7l-1.4 1.1" stroke="#88ff4e" stroke-width="0.6"/>
<path d="M474.6 16.5l0 1.8l1.3 3.9l-.5 4.3l0 2.1l-1.1 1.5l-1.9 1l-3.6 1.5l-10.3 2.5l-16.8 5.3l-6.2 1.1l-20.6 2.5l-5.3 1.1l-7.6 2.8l-21.3 7.2l-7 3.6l-13.9 6.4l-17.4 7.1l-2.4 1.8l-3 3.6l-2.5 2.5l-7 5.4l-1.5 3.5l-2.8 4l-.3 1l-.1 2.9l-2.1 3.2l.3 7.1l-.8 3.3l0 1.4l1.7 6.1l2.7 3.9l.1 2.9l.7 2.5l.6 3.9l3.1 5l1.8 4.6l1.9 2.9l.7 4.3l2.4 4.3l2.2 5l.3 3.2l2.9 3.6l.1 1l-1.2 1.1" stroke="#8bff4b" stroke-width="0.6"/>
<path d="M478.3 16.5l-.8 1.1l-.3 1.4l.7 4.3l.1 3.2l-.8 1.4l-1.5 1.8l-3.3 2.2l-4.3 1l-14.2 2.2l-28.6 5.3l-13.6 2.2l-7.9 1.8l-4.8 1.4l-7.9 3.2l-9 4.7l-6.2 2.8l-12.2 4.3l-13.3 5.7l-15.7 9.3l-2.6 1.8l-1.8 1.8l-4.6 5.7l-3.1 8.6l-1.5 2.8l-.2 1.1l.8 3.9l-1.3 4l.1 2.1l1.4 7.9l1.7 3.9l.1 3.9l.3 1.5l3.9 8.9l1.8 5l2.5 5l1.7 4.6l2.1 4l1.1 2.8l1.7 2.9l.3 1.4l.2 3.9l1 1.5l2.2 1.4" stroke="#8fff49" stroke-width="0.6"/>
<path d="M480.1 16.5l.8 2.5l.2 2.1l-.7 5.4l0 3.2l-1.3 2.2l-3.6 2.8l-2.5 .7l-13.3 2.5l-8.6 2.9l-4.6 1.1l-23 2.8l-5.8 1.1l-16.5 4.6l-12.2 4l-4.3 1.8l-4.4 3.2l-2.6 1.4l-11.6 4.3l-6.5 3.6l-8.9 3.5l-9.3 4.7l-9.9 7.1l-3.5 3.2l-1.1 1.5l-1.1 2.5l-1.8 2.5l-.4 3.2l-2.5 2.8l-.1 .8l.6 2.1l-.7 2.9l-.3 4.6l1.4 3.6l-1 2.8l0 1.5l2.3 3.9l0 2.9l1.3 2.5l.5 2.5l2.1 2.8l.1 .7l-.4 1.8l.2 .7l3 3.2l.3 2.9l1.9 4.3l.6 3.2l2.4 4.3l2.3 6.8l2.2 3.9l.5 1.8" stroke="#96fe44" stroke-width="0.6"/>
<path d="M473.6 16.5l.2 2.1l-.8 4.7l1.1 3.9l0 1.1l-.6 1.1l-1.6 1.7l-4.6 3.6l-14.6 5.4l-5.4 1.4l-8.7 1.4l-26.4 3.3l-8.1 1.7l-5.9 1.8l-8.8 4.3l-17.2 6.1l-2 1.1l-3.5 2.8l-2.2 1.1l-9.5 3.2l-3.4 1.4l-12.3 7.5l-3.5 2.9l-4.1 2.9l-2.5 2.8l-2.9 2.5l-.7 1.1l-.9 3.9l-3.7 3.9l-.1 1.1l.6 2.5l.1 1.1l-1.5 2.8l-.1 1.1l2.2 7.2l1.8 3.2l.6 2.8l1.7 3.3l1.4 5.7l.8 4.6l2.3 3.6l3.7 8.9l3 4.3l.8 3.2l1.9 3.6l.9 3.9l2.9 4l-.1 1l-1.1 1.1" stroke="#99fe42" stroke-width="0.6"/>
<path d="M475.5 16.5l-.1 1.8l1.3 4.6l-.6 4l-1.9 2.5l-2.6 1.7l-4.4 1.5l-23.6 5.3l-8.6 1.5l-24.6 3.2l-9.2 2.1l-7.1 2.2l-5.2 2.1l-6.8 4.3l-13.2 4.6l-4.9 2.9l-6.7 2.9l-4.1 2.5l-7.8 3.2l-1.8 1l-4.4 3.6l-8.8 5.7l-2.1 1.8l-1.5 2.5l-1.2 4l-2.9 3.5l-.2 2.5l-1.1 2.5l0 .7l.9 2.5l-1.4 3.6l-.1 12.2l.4 1l1.9 2.5l.5 1.1l1.2 4.3l-.1 3.6l3.1 6l.5 4.3l2.3 3.2l.2 2.9l.5 1.4l3.1 3.6l-.6 2.9l2.9 2.5l.5 .7l-.3 2.8l2.6 4.3l1 3.6" stroke="#9cfe40" stroke-width="0.6"/>
<path d="M476.1 16.5l.1 1.4l-.8 3.6l.7 3.2l-1.1 2.9l-.3 1.8l-1.3 1.7l-2.5 2.2l-1.9 1.1l-6 2.1l-16.8 4.3l-6.6 1.1l-26.6 2.8l-6.4 1.5l-5.3 1.7l-10.6 4.3l-6.3 3.6l-3.1 1.4l-15.4 5.4l-17 8.9l-12 7.2l-4.6 3.9l-3.1 3.9l-3.7 3.6l-1.6 2.1l-1.7 3.6l-.7 3.6l-1.6 2.8l0 .8l.8 2.1l-.5 3.2l.8 2.9l.4 4.3l-.4 3.5l2 4l.2 4.3l2.4 3.5l1 4.3l1.8 3.2l.5 2.5l3 2.9l.7 1.1l.5 4.3l4.3 12.5l1.4 2.5l2 2.1" stroke="#9ffd3f" stroke-width="0.6"/>
<path d="M483.0 16.5l-.6 1.4l1 4l-.6 3.2l0 3.5l-1.5 1.8l-4.2 2.5l-3.6 1.1l-13.3 2.5l-13.1 2.9l-33.7 5l-11.4 2.5l-6 1.8l-11.9 5.7l-11.2 4.6l-12.3 6.4l-9.1 3.3l-3.2 1.4l-5.2 3.9l-6.8 3.6l-3.7 4.6l-5.7 4l-3.7 6.4l-1.4 3.6l-.5 3.5l-1.1 2.5l.1 1.5l1.6 3.5l-.2 1.1l-1.1 2.2l0 .7l1.5 3.6l.1 3.9l.4 1.8l.6 1l2.7 2.9l.2 .7l-.2 2.2l2 3.2l.2 2.8l2.3 4.3l.5 3.6l2.6 3.2l1 1.8l.8 3.2l1.2 2.5l.2 2.9l2.7 3.2l-.1 2.8l2.2 3.6l.3 1.1l-.3 .7" stroke="#a1fd3d" stroke-width="0.6"/>
<path d="M481.5 16.5l-.4 1.8l.5 4.3l-1.1 4.3l-.1 2.8l-.8 1.1l-5.4 4.6l-2.1 .8l-3.7 .7l-11.3 1.4l-15.8 2.5l-22.3 2.9l-5.4 1l-3.8 1.1l-25.6 9.3l-14.6 6.8l-13.7 4.6l-5.1 3.2l-10.2 5.4l-2.2 1.8l-6.6 6.4l-4.1 4.7l-1.7 3.2l-2.9 3.2l-.3 2.8l-1.8 4.3l0 1.5l.9 3.9l-1.2 3.6l.6 1l2.6 2.5l.8 1.5l.2 4.3l1.9 4.2l1.1 4.3l2.1 4.7l0 3.5l.5 1.8l3.8 5l3.8 6.5l1.8 4.6l-.2 3.2l2.6 3.2l-.1 2.9l.4 1.1l1.9 1.4" stroke="#a4fc3c" stroke-width="0.6"/>
<path d="M479.9 16.5l-.6 .7l-.2 .7l1.6 4l-.9 2.8l.9 2.5l0 1.1l-3.1 4.6l-3.3 2.5l-4.3 1.5l-24 6.4l-23 3.9l-8.5 1.8l-29.4 8.2l-2.3 1.1l-2.8 2.5l-1.9 1.1l-25.2 10l-3 1.4l-9.6 5.7l-5.4 5.4l-6.9 5.3l-1.2 1.8l-6 11.5l-.2 1.7l.5 3.3l-.4 2.5l.8 3.5l-.1 4.3l.4 1.1l1.9 2.9l1.7 4.6l2.1 3.6l1.2 6l2.3 4.3l.9 2.9l1.9 2.8l-.4 2.6l.2 .7l2.3 2.5l.7 1l1.1 4.3l.4 2.9l2.8 3.9l.2 1.1l-.2 .7" stroke="#a7fc3a" stroke-width="0.6"/>
<path d="M477.1 16.5l-.5 1.8l.7 4.3l-.3 4.3l-.7 1l-3.9 4.3l-1.3 .7l-3.6 1.1l-24.4 5.4l-30.2 4.6l-14.4 2.9l-6.6 1.8l-2.4 1l-4.3 2.9l-11.3 3.9l-6.4 3.9l-12.7 4.7l-1.6 1.1l-2.5 2.8l-1.9 1.4l-10.3 5.1l-5.7 3.9l-1.6 1.4l-2.4 3.6l-4 4.3l-2.1 5.3l-.3 2.9l-1.4 3.6l-.5 2.5l.1 2.1l1 2.9l-.2 2.5l.5 2.8l-.6 2.5l.3 .7l2.6 2.9l.1 3.2l2.4 7.2l-.4 2.5l.2 .7l2.3 2.5l.2 .7l-.2 1.8l.4 .7l2.7 2.1l.8 1.1l-.1 3.2l.5 1.8l2.2 4.3l2.5 3.6l.4 3.5l1.3 2.5l1.3 3.6l1.6 1.8" stroke="#a9fb39" stroke-width="0.6"/>
<path d="M475.4 16.5l.4 1.8l-.1 3.6l.4 3.9l-.3 3.2l-1.5 1.8l-4.4 3.2l-6.7 2.5l-14.7 3.6l-7.9 1.4l-29.4 4.3l-11 2.9l-8.4 2.8l-6 2.5l-7.9 3.9l-7.7 3.3l-6.4 3.2l-9.2 3.9l-4.4 2.1l-5.4 3.6l-5.8 3.2l-3.3 3.6l-9.8 7.5l-1.1 2.9l-1.9 2.8l.2 2.9l-1.5 3.2l.1 2.5l-.7 3.2l-.2 3.9l.6 1.5l1.8 2.1l.8 1.5l.2 1l-.3 2.9l2.5 3.2l-.6 2.9l1.8 3.2l2.8 9.3l2.7 3.9l.5 3.2l2.9 4.7l2.5 8.2l1.3 2.5l2.6 3.9l.5 1.4l0 1.1" stroke="#acfb38" stroke-width="0.6"/>
<path d="M482.5 16.5l0 5l.6 3.2l-1.1 4.7l-1.1 1.4l-4 2.8l-4.4 1.1l-12.9 2.2l-17.8 4.3l-21 2.8l-6.1 1.1l-30.3 10l-8.6 3.6l-16 7.5l-5.4 2.8l-10.2 4l-2.1 1.4l-2.7 3.2l-6.8 4.3l-3.3 2.8l-2.5 3.6l-2.2 2.5l-.3 .7l-.2 2.5l-2.4 2.9l-.1 .7l.5 2.5l-1.1 3.2l-.2 4.3l2.1 3.6l1.4 3.9l2.3 3.6l-.5 3.2l2 2.5l.4 1.1l-.7 3.5l.3 1.8l.9 1.5l3.1 3.5l.7 3.2l3.3 7.2l.5 3.2l3.8 5.4l4 11.4" stroke="#affa37" stroke-width="0.6"/>
<path d="M474.9 16.5l.7 .7l.5 1.1l-.8 3.9l1 3.2l0 1.8l-2 3.2l-.9 2.5l-1 1.1l-1.9 1.4l-2.5 1.1l-11.1 3.6l-5.2 1.4l-9.9 1.8l-14.3 1.8l-8.5 1.4l-19.8 4.7l-9.3 2.8l-2.8 1.4l-3 2.5l-8.5 3.3l-7.4 3.9l-6.2 2.5l-11.6 3.9l-3 1.5l-1.6 1l-3.4 3.2l-5.2 3.6l-6.9 7.2l-6.2 5.3l-.5 1.4l.1 2.9l-2.2 5l-.5 2.1l0 1.1l.8 2.5l.4 4l.8 1.4l2.2 2.1l.7 1.1l.5 2.5l1 2.5l.3 3.6l.9 1.4l2.1 2.1l.6 1.1l-.1 .7l-1.3 2.2l.1 1l.9 1.5l2.4 2.5l.5 1l.5 2.5l3.5 4.7l1.2 5.4l2.2 3.5l1 2.9l1.5 2.5l.5 3.9l1.3 1.8" stroke="#b4f836" stroke-width="0.6"/>
<path d="M474.8 16.5l-.8 .7l-.4 1.1l1.2 3.2l-.1 1.1l-.8 2.1l1.2 2.9l-.1 .7l-1.6 1.8l-5.4 3.9l-5.3 1.8l-10.8 2.5l-10 1.8l-16.9 2.5l-10.8 2.1l-25 7.9l-5.3 2.1l-3.7 2.5l-2.2 1.1l-7 2.5l-6.1 2.9l-7.6 2.8l-6.5 4.7l-12.2 5.7l-8.9 6.1l-1.1 2.8l-3.5 3.2l-1.3 2.2l-.2 3.2l-1.4 3.9l-.6 3.6l-1.2 3.2l1 6.4l.7 1.8l2.9 3.2l.8 3.6l2.4 3.9l.3 1.1l0 3.2l2.1 4.3l.3 3.2l2.9 3.6l1.2 2.1l.6 1.8l.4 3.2l2.2 2.9l.9 2.9l1.8 2.8l-.3 2.9l.3 1.4l4.1 5l0 1.1l-.5 .7" stroke="#b7f735" stroke-width="0.6"/>
<path d="M473.1 16.5l.9 2.9l-.2 5l.9 2.5l0 .7l-1.2 1.8l-4.3 3.9l-1.2 .7l-7.3 2.5l-18.3 4.7l-9.6 1.7l-21 3.3l-7.7 1.7l-6 1.8l-11.7 5l-9.4 5.4l-11.8 3.6l-3.7 1.4l-5.7 3.2l-8.1 3.6l-1.6 1.1l-2.9 2.8l-7.9 3.9l-3 2.2l-2.4 3.6l-3.4 3.5l-1.4 2.2l-2.1 5.3l-.5 3.2l-1.5 2.9l0 2.5l-.5 2.5l.5 1.1l1.7 2.1l.7 3.2l2.9 3.3l.8 1.4l.6 2.1l.6 4.3l2.3 5.4l1.3 6l.7 1.5l2.3 3.2l.1 2.5l.4 1.1l3.2 3.9l1.3 2.1l.4 1.5l0 3.2l3.4 6.4l1.4 4.3" stroke="#b9f635" stroke-width="0.6"/>
<path d="M476.8 16.5l.8 1.4l-1.2 4l1.1 3.2l-.2 1.8l-.6 1.4l-2.5 3.6l-1.5 1.4l-5.9 1.8l-16.2 3.6l-39.4 6.7l-9.6 2.2l-6.5 1.8l-3.6 1.4l-14 6.8l-12.6 5l-13.3 6.4l-3.2 1.8l-5.1 3.6l-7.2 3.9l-2.8 2.2l-2.2 2.1l-5.3 6.8l-1.1 1.8l-1 2.5l-1.8 2.5l-.2 1l.6 1.8l-.2 .7l-2.3 2.9l.1 .7l1.3 2.2l.3 1l-.1 1.5l-.8 2.8l.3 4.7l.3 1l1.7 2.5l.1 2.9l1.1 2.9l-.2 2.8l1.4 2.9l.6 2.5l3.4 7.5l.7 3.2l2.6 3.2l2.3 5l.7 4.3l3.8 5l.6 5" stroke="#bcf534" stroke-width="0.6"/>
<path d="M482.1 16.5l.4 4.6l-.7 3.6l.6 2.5l0 1.1l-1 1.4l-2.6 2.9l-4.1 3.2l-4.5 1.4l-12.5 2.5l-14.1 4l-29.5 4.6l-19 5.7l-15.4 7.2l-8.6 3.2l-10.8 3.5l-3.4 1.5l-5 3.2l-7.1 3.6l-3.6 2.1l-2.8 2.2l-4.9 4.2l-5.4 3.6l-1.7 1.4l-1 1.5l-1.2 3.9l-2.9 3.9l0 1.1l1.1 2.1l-.1 .8l-1.5 2.5l.6 2.5l-.2 2.5l.6 1l2.7 3.3l2.6 5.3l1.6 6.4l3 4l.2 1.4l-.4 2.9l.2 1l1.4 2.5l.9 2.9l2.5 2.5l.7 1.1l1.9 7.8l2.8 5.4l3.5 8.2" stroke="#bef434" stroke-width="0.6"/>
<path d="M477.5 16.5l.4 1.8l1.5 3.9l0 2.2l-3 5.3l-1.1 1.1l-2.2 1.4l-4.7 1.4l-20.7 5.1l-8.1 1.4l-25.8 3.6l-13.5 3.2l-7.3 2.1l-13.3 6.1l-6.7 3.6l-20.9 8.5l-11.4 7.2l-5.4 2.8l-5.8 5.4l-1.7 2.9l-3.4 3.9l-1.1 4.3l-1.5 2.8l0 3.2l-1.2 3.3l.2 2.8l-.7 7.5l2.2 4l1.1 4.2l1.8 2.9l.1 1.1l-.3 1.8l.2 1l3.3 4.3l.1 .7l-.8 2.2l.1 .7l3.4 4.6l1 4l.7 1.4l3.9 5.4l.2 1l-.7 1.8l.1 1.1l2 2.5l1.1 2.8l2.2 3.3l.4 1l-.2 1.1" stroke="#c1f334" stroke-width="0.6"/>
<path d="M478.8 16.5l.7 1.4l.4 1.5l-.3 4.6l.6 3.2l-.2 1.8l-3.6 6.4l-1.5 1.5l-1.2 .7l-3.4 1.4l-4.6 1.4l-22.4 5.4l-23.4 2.9l-7.9 1.4l-4.1 1.4l-7.6 3.6l-11.4 3.2l-4.1 1.4l-3.8 1.8l-4.5 3.2l-2 1.1l-11.4 3.9l-5 2.2l-11.3 6.8l-8.3 4.3l-6.7 5.3l-2.3 3.2l-4.6 4l-.8 1.4l.5 2.1l-.2 .7l-2.2 2.2l-.6 1.1l.5 2.5l-1.1 2.5l-.4 1.7l1.2 5.1l.6 1.4l2.1 2.8l.2 2.5l2.1 3.3l.8 4.2l2.5 3.6l-.6 3.2l2 2.9l.8 2.8l2.1 2.9l1.5 6.1l2.9 4.3l.4 3.2l2 2.5l.1 .7l-.6 2.1l.1 1.1l1.1 1.1l1.5 .7" stroke="#c3f134" stroke-width="0.6"/>
<path d="M478.5 16.5l-.2 7.9l-.8 3.2l.1 2.5l-1.4 1.8l-4.9 3.2l-8 2.8l-10.9 2.9l-10.3 2.1l-15.9 2.2l-7.9 1.4l-25.2 7.2l-5 2.1l-8.7 4.6l-3.9 1.5l-11.7 3.5l-7.1 3.6l-6.6 2.9l-5 3.9l-8.8 5.4l-6.2 4.3l-.6 1l-1 2.9l-1.4 1.4l-3.7 2.9l-1.2 1.8l-.1 1l.6 2.9l-2.1 3.2l.9 2.9l-.5 2.5l.7 2.5l-.9 3.2l0 1.1l2 6.4l.8 3.6l2.9 7.1l2.1 3.9l1.8 5l.4 2.9l2.7 3.6l.5 4.6l2.2 3.2l1.4 3.6l3.1 5.7l1.3 1.8" stroke="#c6f034" stroke-width="0.6"/>
<path d="M477.4 16.5l1.4 4.6l-.1 1.1l-.8 2.9l.8 2.8l-.1 1.1l-.4 1.1l-1.1 1l-3.1 1.8l-4.1 1.1l-12.9 2.2l-8.3 2.8l-5.6 1.4l-30 4l-4.8 1l-6.9 2.2l-21.5 7.8l-2.8 1.5l-3.3 2.5l-1.9 1l-13.1 4.7l-6.8 4.6l-15.5 7.5l-3.1 2.9l-4.6 3.2l-1.5 2.5l-2.1 2.5l-.8 1.4l-.8 4l-1.4 3.2l-.3 3.9l-1.5 5l-.1 1.8l1.3 3.2l.3 4l1.9 4.2l.5 4.7l1.5 3.6l.6 3.2l1.4 3.9l2.1 3.9l1.4 3.6l4.4 7.9l3.5 10.3l2 4.3l.3 1.8" stroke="#c8ef34" stroke-width="0.6"/>
<path d="M473.2 16.5l.8 1.4l.4 1.8l-.6 5.4l0 4.3l-.8 1.4l-1.7 1.8l-2.7 2.5l-1.7 1.1l-6 1.7l-18.9 4l-30.5 5l-20.8 5.7l-2.1 1.1l-3.1 2.5l-2.5 1.4l-21.4 7.8l-3.2 1.5l-3.2 2.1l-5.6 2.9l-4.5 2.8l-7 3.6l-1.8 1.4l-3.4 3.6l-5.4 4.7l-1.3 1.7l-1.4 4l-2.4 4.3l-.2 1.4l.3 3.2l-1.7 3.6l-.2 2.5l1.2 5l3.8 5.7l.3 1.4l0 3.6l1.2 2.9l.4 2.1l.7 1.1l2.7 2.5l0 1l-1.1 2.5l.1 1.1l.8 1.1l2.6 2.1l.8 1.1l0 3.2l.3 1.4l4.3 8.6l1 2.5l1.9 3.2l1.1 4l.8 1.4" stroke="#cdec34" stroke-width="0.6"/>
<path d="M481.4 16.5l-.6 1.8l1.1 3.9l-.4 3.2l.5 3.2l-.1 1.1l-1.2 1.8l-4.7 3.9l-3.8 1.1l-12.3 2.5l-13.5 3.6l-29.9 4.3l-21.4 5.3l-2.5 1.1l-4.2 2.5l-8.4 2.9l-10 3.9l-2 1.1l-3.9 2.8l-7.3 2.9l-9.1 4.6l-4.3 3.2l-8 3.6l-6.3 5.4l-1.1 1.8l-1.4 3.5l-2.8 3.2l-1 1.8l-.7 3.6l-1.8 5l0 3.9l.6 1.8l1.7 2.9l.8 3.9l1.8 3.9l.7 3.3l1.9 3.5l.2 1.5l0 2.8l2.5 2.9l.2 .7l-.2 2.5l2 2.5l1 3.2l2.2 3.6l1.2 4.3l1.6 3.2l1.2 4.6l3.1 6.1" stroke="#d0ea34" stroke-width="0.6"/>
<path d="M479.6 16.5l-.5 .7l-.1 1.1l1.3 3.6l-1.1 3.2l.3 3.5l-.6 1.5l-1 1.4l-2.5 1.8l-3.9 1.1l-15.6 2.8l-24.6 6.1l-8.2 1.4l-13 1.8l-10 1.8l-5.7 1.4l-1.7 .7l-4.2 2.5l-10.2 4l-10.7 5.7l-10.8 3.9l-6.8 3.9l-8.5 4l-3.6 3.2l-3.7 2.9l-3.5 3.9l-4.8 4.3l-1.3 1.8l-1 3.2l-2.1 3.5l.2 3.6l-1.4 3.9l1.7 3.3l-.6 2.1l.1 .7l2.7 3.2l.4 2.5l1.3 2.9l.7 4.6l2.4 5.4l.2 3.2l3.6 4.3l1 4.6l1.9 4.3l.9 3.3l2.4 3.5l1 2.9l2.1 4.6l1.9 3.6l.3 1.4l-.5 1.1" stroke="#d2e935" stroke-width="0.6"/>
<path d="M477.4 16.5l-.4 1.8l0 3.6l-.4 2.8l.1 2.5l-.4 1.8l-1.6 3.2l-1 1.1l-1.8 1.1l-14.5 3.5l-8.3 3.3l-5.1 1.4l-10.4 1.8l-21.9 2.8l-8.8 1.8l-6.1 1.8l-14.4 6.8l-9.4 3.6l-6.6 3.5l-13.7 6.1l-6.2 3.6l-7.3 3.6l-3.2 2.1l-2.7 3.2l-3.7 3.2l-3.1 3.2l-1.9 2.9l-.9 3.2l-1.5 3.6l-.4 2.8l-1.2 2.5l-.1 1.1l.8 2.2l-.5 2.5l.3 .7l2.1 2.5l.2 3.2l3.8 7.1l.1 1.1l-.3 1.8l0 1.1l3.5 6l.7 4.3l3.9 4.3l.3 1.1l-.2 2.5l.2 1.1l1.6 2.5l.8 2.5l2.1 5l2.7 3.2l.2 .7l-.5 2.1l.1 1.1l1.1 1.1l1.5 .7" stroke="#d4e735" stroke-width="0.6"/>
<path d="M477.7 16.5l-1.2 1.1l-.4 1l.1 1.1l1.4 3.9l-.1 1.1l-.7 2.5l.1 2.5l-1.2 1.4l-5.4 3.3l-17.6 5.3l-11.1 2.9l-8.9 1.4l-22.6 2.9l-8 1.8l-4.3 1.4l-13 5.3l-5 3.3l-3 1.4l-11.8 4.3l-10.4 4.6l-12.6 7.9l-6.6 3.6l-1.2 1l-3 4l-4 3.2l-1.7 2.5l-2.5 2.5l-.6 1l.1 4l-1.6 4.3l.3 2.8l-.2 4.3l.9 1.8l2.9 3.6l1.3 2.1l1.2 4.3l1.9 4.3l0 3.6l.3 1l3 5l2.3 7.5l2.3 3.2l1.3 3.3l1.9 2.8l.7 3.2l.8 2.2l1.2 2.5l2.3 3.6l.6 2.1" stroke="#d7e535" stroke-width="0.6"/>
<path d="M476.2 16.5l1.6 4.6l-.3 1.1l-1.5 2.5l1 2.5l0 .7l-1.5 2.5l-.2 2.9l-4.8 4.6l-2.8 1.1l-9.1 2.5l-11.4 3.9l-5.1 1.5l-31.5 4.6l-6.9 1.8l-6.6 2.1l-16.5 6.5l-8 3.9l-8.9 3.6l-6.3 3.2l-9.4 4.3l-8.8 5.3l-4.1 4l-5.7 3.5l-2.2 1.8l-2.9 5.4l-.6 3.6l-2 4.2l-.1 2.9l-1 2.1l-.2 1.1l.7 1.5l2.5 3.2l1.1 3.5l1.9 2.5l0 3.3l1.8 2.8l-.4 2.5l2.7 3.6l.3 1.1l.2 3.5l2.8 4l2.2 4.6l.8 3.2l1.4 4l2.5 3.9l.7 2.8l1.3 3.3l0 1l-.6 1.1" stroke="#d9e436" stroke-width="0.6"/>
<path d="M473.3 16.5l-.6 1.8l.2 3.9l-1.2 3.9l.2 2.9l-.2 1.8l-1.2 1.8l-3.3 2.1l-5.5 1.8l-11.6 2.9l-39.5 7.5l-28.2 8.9l-10.6 4.6l-6.4 3.3l-10.4 3.9l-4.4 2.1l-8.6 5.4l-3.9 2.9l-4.3 3.5l-3 3.6l-3.6 2.5l-1.6 1.4l-3.9 6.8l-.1 1.1l.5 2.5l-1.5 2.5l-.1 .7l1 2.1l0 .8l-1.3 2.5l0 1l.8 2.2l.9 4.3l4.7 11.4l.7 2.9l1.9 3.2l0 3.5l.5 2.2l2 3.9l3 3.6l.8 1.4l.9 4.3l1.3 3.2l.5 2.9l1.8 3.2l1.8 5" stroke="#dbe236" stroke-width="0.6"/>
<path d="M476.3 16.5l-1.2 10.4l.2 3.2l-1.3 1.8l-3.7 2.8l-11.4 3.2l-1.4 .8l-2.8 2.1l-3.1 1.1l-10 1.8l-18.8 2.1l-9.2 1.4l-13.1 3.6l-7.7 2.5l-18.7 8.6l-12.3 4.3l-4.5 3.2l-5.4 2.5l-5.3 2.8l-5.6 2.5l-2.4 1.8l-2.9 3.6l-4.9 3.2l-1.6 1.4l-2.5 3.6l-3 2.9l-.6 1l-.3 2.9l-1.5 5.7l-.1 7.9l2.5 11.1l.8 5.3l2.8 4.7l1.9 5l2.8 5l.9 4.2l1.4 2.9l.6 2.9l3.1 3.5l.3 1.1l-.4 2.9l.2 1l3.2 3.6l.4 1.1l-.1 .7" stroke="#dde037" stroke-width="0.6"/>
<path d="M478.5 16.5l-.4 1.8l.9 4.6l-.9 4.3l0 2.5l-1 1.4l-5.2 4.7l-3.2 1.1l-14.7 3.2l-11.6 3.6l-5.9 1l-25.2 3.6l-15.9 4.6l-18.7 7.5l-2.7 1.5l-5.2 3.5l-10.8 4l-8.9 4.6l-5.1 3.2l-8 4.3l-8.7 8.2l-1.1 1.5l-1 2.8l-2.4 2.9l-.8 1.4l-.2 1.4l.4 3.3l-1.7 5.3l0 2.2l1.6 5.7l1.7 3.9l.6 4.3l1.4 3.2l.5 3.9l3.1 4l.2 .7l-.4 2.1l.2 1.1l3.7 5.7l1.7 5.7l1.6 4l1.8 2.8l1 3.2l2.2 4l.5 1.4" stroke="#dfdf37" stroke-width="0.6"/>
<path d="M473.5 16.5l-.7 1.8l.8 4.3l-.7 5.3l-1.5 1.8l-4.2 2.9l-10.3 3.2l-12.9 2.9l-9.1 1.4l-20.5 2.5l-5.4 1.1l-6.7 2.1l-5.2 2.9l-2.7 1l-16.3 5l-12.9 5.7l-4.7 3.3l-6.9 2.5l-2.2 1l-3 2.2l-4.6 2.5l-3.8 2.5l-6.1 3.2l-1.6 1.4l-2.5 3.2l-3.7 2.9l-.5 1.1l.2 2.1l-.2 .7l-3.4 3.6l-.8 1.4l.4 2.9l-1.2 3.6l-.6 10l2.4 3.9l1.6 7.1l2.2 3.3l-.3 2.8l.3 1.4l3 4.3l.6 2.9l1.8 5.7l2.5 3.9l1.5 3.3l2.1 2.8l.2 1.1l-.3 2.5l2 3.2l1.9 3.9l.7 1.8l.2 1.8" stroke="#e3db38" stroke-width="0.6"/>
<path d="M479.9 16.5l-1.2 1.4l-.3 1.5l.1 1.4l1.3 3.2l-.2 1.1l-1.1 2.1l.7 2.5l-.9 1.1l-2.1 1.1l-2.7 1l-2.7 .7l-10.8 1.8l-6.7 1.5l-13.7 3.9l-28.4 3.9l-23.7 7.2l-3.5 1.4l-6.8 3.9l-12.3 4.7l-4.9 2.1l-11.5 6.1l-4.5 2.9l-4.5 3.5l-6.6 3.2l-2.1 1.5l-1.8 3.9l-5.8 7.1l-.8 1.5l.6 3.5l-2 3.3l-.5 1.7l1.1 5l-.4 3.3l.4 1l2.7 3.3l1.6 2.8l1 3.6l1.4 2.8l0 .8l-.7 2.1l.1 .7l2.4 2.9l.3 3.9l3.1 4.6l3.6 7.5l1.1 5.1l2.8 3.5l.2 3.2l2.7 4.7l1.1 3.2" stroke="#e5d938" stroke-width="0.6"/>
<path d="M472.0 16.5l-.2 1.4l1.5 4l-.3 1.4l-1.7 3.2l0 1.1l.4 1.8l-.1 1l-1.8 1.8l-3.8 2.2l-9.4 4.3l-4.4 1.4l-11.3 2.1l-18.7 2.2l-8.8 1.4l-16.5 4.6l-13 4.7l-19.1 9.3l-9.8 3.9l-1.8 1.1l-4.3 3.2l-9.4 4.3l-6.8 5.3l-1 1.1l-1.5 2.5l-4 2.9l-1.2 2.8l-1.9 2.5l-.5 1.1l-1.7 8.6l.5 3.5l-.8 3.3l.5 1l3.3 3.3l2.9 5l.6 1.7l.2 3.6l2.9 5.7l.7 4.7l2.2 3.5l1.7 3.3l1.3 4.6l1.3 2.5l.9 2.9l1.7 2.8l1 3.6l3.6 5.4l.5 2.1" stroke="#e7d739" stroke-width="0.6"/>
<path d="M480.2 16.5l1.2 10.7l-.5 1.1l-2.9 3.9l-2 1.4l-2.6 .8l-16.4 2.5l-10.1 2.8l-6.5 1.5l-26.7 3.9l-2.9 .7l-9.3 3.2l-12.4 3.6l-4.7 1.8l-7.1 3.5l-7.4 2.9l-5.6 2.9l-6.9 2.8l-4.8 2.9l-9.2 3.9l-2.4 1.4l-9.4 7.2l-2.6 3.9l-3.2 3.6l-3.3 6.4l-1.4 8.9l-.9 3.3l.2 4.6l.4 1.1l2.1 2.8l-.3 4l.6 1.4l2.3 3.6l0 3.9l.5 1.1l1.8 2.5l.1 2.8l.3 1.5l1.5 3.2l3 3.5l.6 2.9l1.8 2.9l.4 4.3l2.8 4.2l1.3 5.4l.8 1.4l1.1 1.1" stroke="#e9d539" stroke-width="0.6"/>
<path d="M477.8 16.5l-.2 2.1l.9 4.3l.9 7.2l-.4 1l-2.8 4l-3.1 2.1l-20 6.8l-6.4 1.8l-6.9 1.4l-27.6 4l-7.2 1.7l-6.8 2.2l-18.2 7.5l-9 4.3l-19.2 6.8l-1.6 1l-1.6 2.2l-.8 .7l-6.2 3.2l-4.7 3.6l-5.5 3.2l-1.9 1.4l-1.2 2.9l-2.4 3.2l-1.7 3.9l-2.7 3.6l.4 3.9l-.9 4l0 1.4l.7 1.4l2.9 2.9l.1 .7l-.6 2.9l2.2 5l.8 5l1.2 2.8l.4 2.5l3 3.2l.1 .7l-.5 2.2l2.8 2.8l.3 .8l0 2.1l.4 1.4l1.8 3.3l2.5 3.2l.4 3.2l1.9 3.2l.7 3.6l.7 1.4" stroke="#ebd339" stroke-width="0.6"/>
<path d="M480.9 16.5l-.9 4.3l.4 4.3l-.4 2.8l-1.6 2.5l-2.8 2.2l-2.8 .7l-15.9 2.5l-4.2 1.1l-7.6 2.5l-4.5 1l-28.9 4.3l-10.9 2.9l-14.7 5.3l-12.3 6.5l-9.7 3.9l-6.3 3.6l-8.1 3.2l-6 2.9l-3.2 2.1l-4.9 5l-5 3.2l-2.1 1.8l-1.9 3.6l-2.6 2.8l-1 2.9l-1.5 2.5l-.4 1.1l0 1.4l.6 2.8l-1.1 4.3l.4 4l.8 3.2l.2 3.2l.9 3.2l2.3 4.3l.1 2.9l1.5 2.8l-.1 3.2l1.8 3.2l1.2 4l3.6 3.5l-.2 2.9l2.8 3.2l.3 1.1l.3 3.6l2.2 3.2l.6 2.8l2.5 3.6l.4 1.1l0 .7" stroke="#ecd13a" stroke-width="0.6"/>
<path d="M478.8 16.5l.7 .7l.5 1.1l-.2 3.6l.4 2.5l-1.5 3.2l0 2.1l-1.3 1.4l-3.9 2.2l-15.5 3.6l-11.7 3.5l-7.2 1.8l-8.9 1.5l-19.6 2.5l-9.1 2.1l-8.9 3.9l-11.7 4l-8.7 4.2l-4.8 2.9l-9.1 3.6l-7.4 4.6l-12 5.7l-8.4 6.8l-5.5 6.5l-.5 1l-.2 2.5l-2.4 3.2l-.3 5.8l-.5 3.5l0 2.5l.8 4.3l2.7 5l.1 3.6l2 3.6l.8 3.9l2 3.6l.6 3.5l2.6 4.3l.4 3.6l3 4.7l1 3.2l1.4 2.5l.3 3.2l2.7 3.9l1.5 4.3" stroke="#eecf3a" stroke-width="0.6"/>
<path d="M476.8 16.5l.4 4.3l-.9 4.3l.1 3.9l-1.4 2.1l-3.7 4l-1 .7l-3.2 1.1l-25.6 5.7l-30.6 5.3l-11.7 2.9l-4.6 1.4l-2.2 1.1l-4.4 2.9l-14.9 5.3l-2.9 1.4l-3 2.2l-2 1.1l-9.2 3.2l-3.1 1.4l-17 10.7l-1.8 1.5l-2.1 2.5l-4.8 3.2l-.4 .7l-.5 2.1l-2.3 3.2l-1.3 4.3l-2.2 3.6l.9 4.6l-.3 8.3l.5 1l2.4 2.9l.3 2.5l1 2.9l.1 2.8l2.1 3.2l1.6 4.7l.4 2.8l3 4l.5 1.4l.6 3.6l2.9 4.6l.3 3.2l2.9 5l1.7 6.1" stroke="#efcd3a" stroke-width="0.6"/>
<path d="M481.0 16.5l.7 1.1l.2 1l-.4 3.3l.3 3.2l-.6 2.8l-.6 1.5l-1.1 1.4l-1.7 1.4l-1.8 1.1l-15.9 3.6l-8.2 2.8l-10.4 2.9l-9.2 1.8l-20.9 3.2l-12.7 2.8l-7.3 2.2l-3.4 1.4l-7.6 3.9l-10.7 4.3l-7.5 4l-8.1 3.2l-10.1 4.6l-1.8 1.1l-2.7 2.5l-3.9 2.5l-2.8 2.5l-4.5 2.9l-.5 .7l0 2.5l-3.7 3.5l-2.5 6.5l-.4 3.5l-1.1 2.9l1.2 3.6l-.7 4.3l.5 1l2.6 3.3l1.2 2.8l.7 4.3l.8 2.9l-.1 2.8l2.2 3.2l.6 4l3.5 4.2l2.1 4l.5 1.4l.2 2.5l2.2 3.2l1 2.9l1.4 2.8l1.4 5.4l.9 1.4l1.3 1.1" stroke="#f1cb3a" stroke-width="0.6"/>
<path d="M475.8 16.5l.6 1.1l.1 1.4l-.6 5.4l-.7 2.5l-.1 2.8l-1.5 1.4l-4.9 2.9l-5.2 1.8l-6.1 1.4l-46.7 8.6l-11.5 2.9l-2.4 1l-4.2 2.5l-14.3 4.3l-18.2 8.2l-6.1 4.3l-9.8 4l-1.4 1l-2.5 2.9l-7.4 4.3l-2.5 2.1l-4.6 5.4l-2.6 4.6l-.4 1.4l-.3 3.6l-2 5l0 2.2l1.1 5l1.1 2.8l-.1 4.3l1 1.4l2.4 2.2l.8 1.1l.2 1l-.3 2.9l.4 1.8l4.2 10.3l2 2.9l.3 3.2l.5 1.4l3.2 4l.5 2.8l1.8 2.9l.9 2.8l2 4.3l.8 3.6" stroke="#f4c73a" stroke-width="0.6"/>
<path d="M476.3 16.5l-.6 1.4l-.2 1.5l.1 5l.7 3.5l0 2.5l-.6 1.1l-1.4 1.4l-5.1 3.3l-2.7 1l-8.3 2.5l-10.1 4l-4.7 1.4l-9 1.4l-22.5 2.5l-10.9 2.2l-7.6 2.1l-3.9 1.8l-5.4 3.6l-3.4 1.7l-5.1 2.2l-10.2 3.6l-5.4 3.2l-8.5 3.9l-15.1 8.6l-1.2 1.1l-2 2.5l-5.9 3.9l-.8 1.1l-1.4 3.5l-3.4 5l-.1 1.1l.4 2.5l-1.3 3.6l.4 3.2l.5 1.4l2.2 3.6l3.9 11.8l3 3.9l.1 1.1l-.2 2.5l.4 1.8l3 5.3l.7 4l2.7 3.9l1.3 2.5l.8 3.6l1.8 3.2l.9 2.8l1.3 3.3l0 2.1" stroke="#f5c53a" stroke-width="0.6"/>
<path d="M476.7 16.5l.7 .7l.3 1.1l-1.1 3.9l.5 2.5l-.3 2.9l.3 2.1l-.8 1.1l-3.4 2.1l-2.2 2.5l-1.7 1.1l-26 6.8l-30.9 5l-7.1 1.8l-6.5 2.1l-9.5 4l-13.5 4.6l-12.5 5.4l-4.6 3.2l-8 3.6l-9.5 5.3l-5 3.6l-3.7 3.6l-5 3.9l-3.2 4.3l-.8 1.4l-1.3 7.5l-1.8 5l0 1.4l1.2 2.9l3 4.6l.7 5l1.6 3.3l.8 2.5l1.7 2.8l0 2.9l.3 1.4l3.9 6.4l-.2 2.9l.1 .7l1.8 2.5l1.1 2.9l2.7 5l2.6 3.5l1.4 5.8l-.1 2.1" stroke="#f6c33a" stroke-width="0.6"/>
<path d="M478.4 16.5l1.2 3.2l.4 1.8l-.1 1.8l-1.2 3.6l.6 3.2l-1.1 1.8l-2.9 2.1l-4.5 1.4l-14.9 2.9l-10.9 2.5l-2.2 1.1l-1.4 1.8l-3.2 1l-8.1 1.1l-18.6 1.8l-4.4 .7l-7.2 1.8l-11.9 3.9l-3.4 1.4l-5 3.6l-5.1 2.5l-16.1 6.4l-11 4l-1.8 1.4l-1.1 2.5l-1.3 1.4l-9.9 5.8l-2.3 1.7l-2.6 2.5l-2.1 2.9l-1.2 3.9l-2.9 3.2l-.2 2.5l-.8 2.5l.4 2.9l-1.2 2.1l-.1 1.1l1.7 2.5l.3 2.9l1.7 2.8l.7 2.5l1.5 2.9l1.9 5l.9 3.6l2 3.9l.3 1.1l-.5 2.8l3 3.2l1.1 2.5l1.3 2.2l.9 3.6l1.6 2.5l.9 2.8l2 2.9l0 2.8l3.3 4l.1 .7l-.3 .7" stroke="#f7c13a" stroke-width="0.6"/>
<path d="M479.6 16.5l1.1 4.6l-1.1 4.3l.2 3.2l-.4 1.1l-.7 .7l-2.3 1.5l-4.3 1l-17 2.5l-7.2 1.8l-7 2.5l-3.9 1.1l-8.1 1.4l-17.8 2.5l-10 2.2l-7.5 2.1l-8.1 3.2l-11.8 5.7l-13.6 5l-3.2 1.5l-6.3 4.6l-15 8.2l-5.5 5l-2.2 3.6l-4.3 5l-1.2 2.2l-.5 1.7l-.3 5.8l-1.3 3.9l0 1.8l1.9 6.1l1.8 3.9l.6 3.9l2.3 3.9l.1 .8l-.7 2.1l0 .7l2.5 3.2l2.3 4.7l1.5 5.7l2.3 4.3l1.3 3.9l1.9 2.9l-.1 2.5l.3 1l1 1.5l3.1 3.2l.4 1.1l0 2.8l.6 1.1l.9 .7" stroke="#f8be39" stroke-width="0.6"/>
<path d="M480.9 16.5l0 1.8l-.8 4.6l.1 4l-.2 1.4l-1.9 4.3l-2.8 2.1l-2.2 .7l-13.3 2.9l-16.8 4.3l-19.1 3.2l-8.6 1.8l-19.9 5l-9.5 3.2l-4.8 2.1l-3 2.5l-1.8 1.1l-12 4.7l-11.2 5l-2.6 1.4l-4.5 3.2l-8.8 3.9l-1.3 1.1l-1.2 2.5l-3.8 2.9l-4.6 4.6l-1.4 3.2l-2 2.2l-.6 1l.1 2.5l-.5 2.5l.6 2.2l-.1 .7l-2.6 2.5l-.4 .7l.2 1.1l1.5 2.1l.4 1.1l-.2 1.1l-1.2 2.5l.3 .7l1.7 1.8l.6 1.1l.1 2.5l.8 4.2l1.7 3.6l.3 3.6l3.1 6.8l3.1 3.5l.2 2.9l2.7 4.7l3.4 11l1 1.8l1.5 1.8" stroke="#f9bc39" stroke-width="0.6"/>
<path d="M477.5 16.5l-.6 2.1l-.3 2.2l1.3 7.5l-.2 1.4l-1.1 1.4l-5.2 3.6l-12.4 3.6l-7 2.9l-4.8 1.4l-8.9 1.8l-25.9 3.5l-16 4.3l-7.8 2.5l-3.1 1.5l-4.9 2.8l-6.8 3.2l-16.3 6.5l-5.3 3.2l-5.2 2.5l-1.7 1.1l-2.3 2.1l-4.5 2.9l-3.5 2.8l-5.4 3.6l-1.7 1.4l-1.5 3.2l-2.6 2.9l-.1 2.8l-2.6 6.5l-.7 2.8l.1 1.5l1.2 3.2l.7 5l4.3 6.1l.5 4.6l1.2 3.2l.5 2.2l3 3.5l-.5 2.9l.2 1.1l5.1 9.6l2.2 3.2l1.3 6.1l3.6 7.5" stroke="#faba39" stroke-width="0.6"/>
<path d="M481.4 16.5l.1 1.4l.9 3.2l-.2 1.1l-1.3 2.9l.8 3.5l0 1.5l-.6 1l-1.1 1.1l-3.9 2.5l-3.8 1.1l-12.9 2.1l-6.4 1.5l-4.3 1.4l-5.4 2.9l-4.1 1l-26.6 2.9l-6.5 1.1l-5.5 1.4l-7.4 3.2l-12.3 4.6l-30.7 14l-2.9 1.8l-4.1 3.2l-6.4 3.6l-3.1 3.2l-4.2 3.2l-2.3 2.1l-1.6 2.2l-2 5l-2.6 4.3l-.2 1.7l.5 3.6l-.8 3.9l0 1.8l1.3 6.1l1.9 3.9l.9 3.3l1.5 2.8l1.5 7.2l2.3 3.9l1.1 3.9l2.4 4.3l1.4 4.7l2.1 3.5l1 4.7l2.6 4.6l0 1.1l-.2 .7" stroke="#fbb838" stroke-width="0.6"/>
<path d="M484.6 16.5l-.2 1.8l-1.2 5l.2 1.4l1 2.5l0 .7l-1.1 1.5l-3.8 3.2l-4.3 1l-17.1 2.6l-13.7 2.8l-24.8 2.9l-7 1l-14.9 4l-24.1 10l-9.3 5l-16.5 6.8l-2.3 1.4l-4.5 4.3l-7.7 4.6l-1.8 1.5l-1.8 2.8l-2.8 3.2l-4 6.1l-1.4 7.1l-.2 10.8l.5 1.4l2.2 4.3l1.2 4.6l2.1 5l1 5l2.8 4.3l.1 .7l-.9 2.2l.1 .7l2.7 2.5l.7 1.1l.8 3.2l1.1 2.8l2.8 4.7l1.8 5.3l3.2 5.4l.3 1.4l-.2 1.1" stroke="#fbb637" stroke-width="0.6"/>
<path d="M480.9 16.5l.8 .7l.5 1.1l-.3 3.6l1 3.5l0 1.8l-.4 1.1l-1 1.4l-3 3.6l-2 1.8l-3.8 1.1l-11.3 1.7l-6.3 1.5l-4.4 1.4l-5.2 2.9l-3.4 1l-6.6 1.1l-24.5 2.9l-8 1.7l-5.8 1.8l-4.9 2.2l-5.2 3.2l-2.8 1.4l-16 6.1l-17.1 7.9l-16.6 10.3l-3.7 2.9l-3.3 3.2l-1.7 2.1l-1.2 2.9l-2.1 3.6l-.9 2.5l-.2 4.2l-1 3.6l.7 2.5l.1 2.9l.5 2.5l.1 2.1l.4 1.1l1.6 2.5l0 2.9l1.8 3.9l1 5.3l1.8 4l2.9 5l.4 3.9l2 2.5l.6 3.2l3.4 5.4l.6 2.8l1.4 3.3l0 1l-.5 1.1" stroke="#fcb336" stroke-width="0.6"/>
<path d="M478.3 16.5l-1.5 1.4l-.6 1.8l.8 4.3l-.5 3.6l.9 2.1l-.2 .7l-1.1 1.1l-5.6 3.6l-20.2 7.1l-4.9 1.5l-5.8 1l-28.8 3.6l-5.6 1.4l-6.6 2.2l-9.3 3.9l-11.4 4.3l-8.4 5l-11.4 4.3l-11.9 5.3l-2.8 1.8l-3.5 3.6l-5.4 3.2l-6.2 5l-1.8 3.2l-2.2 2.9l-1.1 3.6l-2.3 4.2l.2 3.3l-.5 2.5l.5 2.8l-.2 3.2l1.9 5l.7 2.5l1.2 2.5l.4 3.3l2.5 3.2l.1 1l-.5 2.5l.2 1.5l5.1 6.4l.4 1.4l-.3 2.5l.2 1.1l2.1 3.2l2.8 5.7l.2 1.5l-.3 2.1l.1 1.1l.9 1.1l3.2 2.8l.3 1.1l-.4 .7" stroke="#fdae35" stroke-width="0.6"/>
<path d="M476.5 16.5l1 7.9l-.1 3.5l-.7 1.1l-1.2 1.1l-3.6 2.1l-4.1 1.1l-22.3 4.6l-21.2 2.9l-8.3 1.4l-17.5 5l-10.5 3.6l-4.5 1.8l-4.4 2.8l-9.4 5l-9.3 3.6l-13.1 7.2l-9.5 3.9l-1.5 1.1l-3.3 3.2l-5.1 3.9l-3.3 5l.1 2.5l-.3 .7l-2.5 2.9l.1 2.5l-1.1 3.2l-.3 5l.9 2.9l.3 3.2l.9 3.2l3.7 6.8l.1 3.2l1.5 3.2l-.1 2.9l1.7 3.2l1.3 3.9l3.1 3.6l-.1 2.8l2.2 3.3l.8 3.5l2.4 4.3l.8 2.9l1.7 3.2l1.4 5" stroke="#fdac34" stroke-width="0.6"/>
<path d="M477.8 16.5l-.3 5l.5 3.6l-.8 4.6l-1.5 2.9l-3.1 2.5l-18.2 5.3l-7.6 1.8l-6.9 1.1l-19.1 2.1l-8 1.5l-16.3 4.6l-6.6 2.2l-3.3 1.4l-4.6 2.5l-8.3 3.2l-5.5 2.9l-6.1 2.5l-5.4 2.8l-7.6 3.2l-4.7 3.3l-6.8 3.5l-2.8 1.8l-1.6 1.8l-1.8 3.2l-4.8 3.9l-.8 1.5l-.6 2.5l-3.2 2.8l-.7 1.1l.6 4.3l-1.5 3.6l.6 2.5l.1 2.5l2.4 3.5l2.5 6.1l.9 3.2l.3 3.6l1.2 3.2l.4 2.9l3.5 5.3l2.3 2.9l.3 2.8l1.8 2.9l.2 3.2l3 4.7l.7 3.2l2.2 3.6l1.3 4.6" stroke="#fea933" stroke-width="0.6"/>
<path d="M476.7 16.5l.8 1.1l.3 1l-.1 1.5l-1.1 3.9l.2 1.1l1 2.1l0 1.1l-.4 .7l-1.1 1.1l-4 2.5l-15.3 5l-9.9 2.5l-8.2 1.4l-24.8 3.2l-7.2 1.5l-4 1l-16.1 5.4l-12.6 7.1l-13.1 4.7l-13.1 6.8l-4.6 3.9l-5.8 3.2l-2.5 1.8l-2.3 2.1l-2.1 3.3l-5.2 3.5l-.8 1.5l-.9 3.2l-1.9 3.2l-.3 2.8l-1.1 2.5l-.3 1.5l1 3.9l-1.9 2.5l-.2 .7l2.4 2.9l-.6 2.1l.3 .7l2.9 2.2l.8 1.1l0 2.8l1.5 4.7l-.1 2.8l1.3 2.9l.5 2.1l2.6 3.6l.5 2.8l1.3 2.5l.9 2.9l1.8 2.9l.9 3.5l2.1 5l4 7.9" stroke="#fea732" stroke-width="0.6"/>
<path d="M480.7 16.5l-.7 4.3l.5 3.9l-1.2 3.9l-1.4 1.8l-3.9 2.2l-5.4 1.4l-26.6 5.7l-32.5 5l-9.3 2.2l-6 1.8l-6.6 2.8l-6.1 3.6l-11.7 4.3l-16.7 7.5l-3.7 2.1l-11 7.9l-5.5 3.6l-1.7 1.4l-6.4 8.2l-2.1 3.6l-2 8.9l.5 5l-.1 3.2l.8 2.2l2.9 3.5l.8 1.5l.4 1.8l.2 4.2l2.2 3.3l-.6 2.8l3.2 3.9l.7 4l1.6 3.2l.6 2.8l2 3.3l1.3 4.6l2.5 3.6l1.9 5.3l.9 3.6l1 1.8" stroke="#fea431" stroke-width="0.6"/>
<path d="M475.0 16.5l-.5 4.3l.2 3.2l.7 3.2l-.1 1.4l-2.5 2.5l-3.9 2.9l-2 1.1l-9.2 3.9l-5.9 1.8l-9 1.8l-24.4 3.2l-4.7 1.1l-21.5 6l-2.3 1.1l-5.6 3.2l-11.2 4l-14.9 7.1l-9.5 3.9l-10.5 6.8l-10.7 7.9l-1 1.4l-.4 2.9l-2.5 3.2l-.7 3.2l-1.9 3.9l-.1 1.1l.7 2.9l-.8 2.8l.4 3.2l-.5 4.3l2.2 3.2l.1 3.6l1.5 5l3.5 7.5l.4 3.6l3.2 4.3l.5 3.9l.5 1.4l3.8 6.1l.8 3.6l2.2 3.9l.4 1.8l-.1 2.5" stroke="#fea130" stroke-width="0.6"/>
<path d="M474.8 16.5l-.9 1.1l-.5 1.4l-.4 5.7l.1 2.9l-.2 .7l-2.4 2.5l-2.1 1.8l-1.9 1l-4.8 1.8l-6.9 1.8l-12.2 2.2l-16.8 2.1l-11.2 1.8l-10.3 2.5l-7.2 2.1l-3.2 1.5l-4.2 2.8l-2.8 1.5l-4.1 1.4l-9.5 2.5l-2.9 1.1l-4.4 2.8l-8.1 3.9l-5.5 3.6l-11.5 5l-1.6 1.1l-2.2 2.5l-5.4 3.9l-3.8 4l-3.3 4.6l-1.8 3.6l-.4 5l-1.4 3.9l.3 2.5l-.6 3.2l.1 1.4l.9 2.2l3.2 3.9l.8 1.5l.6 4.6l2.7 3.6l.8 1.8l.1 1.4l-.4 3.2l.1 1.1l.9 1.4l3 3.6l.2 3.5l1.7 2.5l1.2 2.5l1.6 2.6l.2 1l-.2 1.8l.3 1.1l5.4 8.9l.5 2.2l0 2.1" stroke="#fe9e2f" stroke-width="0.6"/>
<path d="M474.8 16.5l-1 1.1l-.3 1l1.5 4.7l-.7 5.3l-1.6 2.2l-4.5 3.2l-9.8 3.2l-6.5 2.9l-3.8 1.1l-9.3 1.4l-25.9 2.5l-7.1 1.4l-5.5 1.8l-18.1 8.2l-13.6 4.3l-1.9 1.1l-2.7 2.1l-9.3 4.3l-7.6 4.7l-9.7 3.9l-1.5 1.1l-.4 2.5l-.8 1l-6.7 5l-5.5 7.5l0 2.9l-.4 2.5l.1 2.5l-.6 1.1l-1.8 1.7l-.3 .8l1 2.5l-.2 2.5l2 3.2l-.2 3.2l1.2 4.6l3.7 8.3l.6 3.5l1.4 3.2l1.2 4l3 6l2.6 2.9l.2 .7l0 2.9l1.8 3.2l1.7 4.3l2.6 3.9l.5 1.8" stroke="#fe9b2d" stroke-width="0.6"/>
<path d="M478.2 16.5l-.8 1.1l-.5 1.4l.1 1.4l1.1 3.6l-.2 1.1l-.8 2.1l.3 2.5l-1.4 1.4l-6.2 3.3l-6.1 2.1l-13.6 2.9l-9.1 1.4l-21.4 2.5l-6.4 1.1l-3.9 1l-9 3.6l-11.6 3.6l-12.5 5l-4.7 3.2l-2.1 1.1l-10.4 3.9l-4.9 2.1l-7.5 5.1l-9.1 4.2l-3.1 2.9l-4.6 3.2l-1.5 2.2l-2.5 2.5l-.9 1.4l-.4 4.3l-2.2 2.8l-.6 1.1l-.1 4.3l-1 2.8l0 1.1l1 3.2l2.1 4l2.4 3.2l.9 2.8l1.1 2.2l0 1.1l-.7 1.7l-.1 1.1l3.2 4.3l.2 1.1l-.4 2.5l.4 1l4 6.5l2.1 5.3l2.3 3.3l.2 3.2l2.4 3.2l.3 2.5l1.3 2.8l.5 3.6l.8 1.8" stroke="#fe992c" stroke-width="0.6"/>
<path d="M479.9 16.5l-.9 4.3l.7 3.6l-.2 1.4l-1 2.5l-2.1 3.2l-1.3 1.4l-1.2 .7l-15.8 3.6l-13.6 3.6l-7.3 1.1l-22.1 2.5l-6.2 1.4l-7.3 3.2l-12 3.9l-8.1 3.3l-3.6 1.7l-3.3 2.5l-2.6 1.5l-13.4 4.6l-6.4 3.2l-8.6 3.6l-2.2 1.4l-1.4 2.2l-1.1 1.1l-3 2.1l-3.2 2.9l-3.8 2.8l-1.3 2.9l-2.9 2.8l-.9 1.5l-1.5 5l-.4 3.9l-1.6 3.2l.6 2.9l-.1 2.5l1.7 3.2l-.5 2.8l.5 4.7l2.4 4.6l.1 4l.4 1.4l3 4.6l1 2.9l1.5 2.8l1.4 4.3l2.3 4l2.1 7.5l3 4.3l1.7 4.6" stroke="#fe932a" stroke-width="0.6"/>
<path d="M474.6 16.5l0 1.8l1.4 4.3l-.5 3.9l-1.7 1.8l-2.9 1.4l-1.9 .7l-11.2 2.2l-10.7 2.8l-5.1 1.1l-28.6 3.2l-7.5 1.8l-9.2 3.6l-12.6 3.9l-7.3 4.3l-17.9 7.1l-5.3 3.6l-8.6 3.6l-3.4 1.8l-10.7 8.2l-2.4 3.9l-4.2 4.7l-2.8 5l-.2 3.9l-.8 4.3l.4 3.2l-.3 2.5l.3 3.2l-.2 4.7l1.3 5.3l1.9 3.6l-.4 2.9l.5 2.5l.1 2.5l.7 1l2.7 2.5l.7 1.1l.2 1.1l-.1 3.2l2.2 5l1.9 2.8l-.1 2.9l2.6 2.9l.4 .7l.2 2.5l3.1 4.3l.2 1l-.8 2.5l0 1.1l.9 1.1l1.2 .7" stroke="#fe9029" stroke-width="0.6"/>
<path d="M475.0 16.5l-.8 .7l-.3 1.1l1.9 3.6l0 .7l-.8 2.5l.2 2.8l-.6 1.1l-1.1 1.1l-4.2 2.8l-4.9 1.5l-18.8 4.3l-33.5 5.7l-11.2 2.8l-6.7 2.2l-5.8 2.5l-9.6 5l-14.1 4.3l-5.3 3.2l-8 3.5l-1.8 1.1l-3.4 2.9l-5.2 2.8l-3.5 2.9l-4.4 2.5l-2.3 2.9l-4 3.2l-1.6 4.3l-2.5 3.2l-.7 1.4l-.8 4.3l1 3.2l-1.8 4.3l-.5 2.1l0 1.5l2.4 4.6l.9 3.6l1.2 2.8l-.1 3.3l2 3.2l1.7 4.6l.7 3.2l1.7 3.2l1.4 6.1l.8 1.4l2.9 2.9l.3 2.9l2.3 3.2l.3 2.8l2.5 3.6l1.9 4.3" stroke="#fd8d27" stroke-width="0.6"/>
<path d="M482.3 16.5l1.1 4.3l-.1 1.4l-.7 2.5l.3 2.9l-2 2.8l-1.1 2.5l-1.2 1.1l-4.4 1.1l-15.6 2.5l-16.6 4.6l-9.2 1.5l-20.5 2.5l-8.7 1.7l-6.2 1.8l-4.1 1.8l-7 3.6l-9.7 3.6l-9.6 4.2l-5.6 2.9l-10 4.3l-5.6 3.6l-9.4 5.3l-1.5 1.5l-1.5 2.8l-6.1 4.7l-2.9 3.5l-2.3 5l-1 8.6l-.7 2.5l1.3 5l-1 3.9l2.4 5l3.7 10.8l2.3 3.2l0 .7l-.7 2.1l.1 .7l1.5 2.5l1.2 2.9l2.8 4.3l3.5 8.6l2.1 3.2l.3 1.1l-.2 3.2l.7 1.4" stroke="#fd8a26" stroke-width="0.6"/>
<path d="M479.0 16.5l-.5 2.5l1 5l-.4 3.2l.2 2.5l-.9 1.1l-3.5 2.1l-1.6 1.8l-1.3 .7l-3.5 1.1l-11 2.5l-8.6 2.9l-7.1 1.8l-6.6 1l-23.5 2.9l-6.6 1.4l-6 1.8l-4.2 1.8l-7.4 3.9l-15 5.4l-12.4 5.3l-12.4 6.8l-4.8 3.6l-9.5 5.7l-3.4 2.9l-4.4 5l-3.2 6.8l-1 3.9l-.2 5.7l.8 3.2l.2 3.2l2.2 4.7l-.3 3.2l.3 1.8l2.5 4.3l.9 4.6l2 3.6l.4 2.8l.4 1.5l3.2 4.3l2 4.3l2.2 2.8l.2 .7l-.7 2.2l0 .7l1.6 2.5l.7 3.6l2 3.2l.6 1.4" stroke="#fc8725" stroke-width="0.6"/>
<path d="M476.9 16.5l.7 2.9l-.1 4.6l.3 3.2l-.2 1.4l-1.9 4.7l-4 3.6l-1.1 .7l-4.1 1.4l-10.2 2.5l-15.3 4.3l-10.8 2.1l-19.7 2.9l-11.2 2.5l-8.5 2.5l-3.7 1.8l-2.1 2.5l-1 .7l-13.9 4.6l-17.6 8.3l-10.6 5.7l-4 2.5l-4.6 4.3l-5.7 4.6l-.6 1.1l-.4 2.1l-2.9 3.2l-.3 4.3l-2.2 3.6l0 1.4l.8 2.5l.2 3.3l.6 1.4l2.2 2.5l.3 2.8l.3 .8l2.9 3.9l.8 3.6l1.1 2.8l.5 3.2l.6 1.8l2.2 3.6l3.1 6.4l3 4.3l.1 3.2l1.5 2.9l1.3 4.6l2.4 4.3l.4 1.8" stroke="#fc8423" stroke-width="0.6"/>
<path d="M481.7 16.5l-.6 6.8l.6 3.6l-.1 1l-1.3 2.5l-.9 2.9l-1.3 1.4l-2 1.5l-3.2 1l-14.7 3.2l-9.4 3.6l-5.3 1.4l-32.1 4.3l-7.3 1.8l-6.7 2.2l-6.2 2.5l-11 5.3l-11.4 4.3l-6.8 3.9l-12.1 5l-15.5 10l-3.1 2.5l-2.6 3.6l-2.9 2.5l-.9 1.1l-.3 2.5l-2 3.2l-.8 4.3l-2.1 3.2l-.1 1.1l.7 2.5l.3 2.5l1 2.8l.2 2.5l.9 2.9l.2 2.5l1.2 2.9l.4 2.1l2.5 3.6l.3 3.2l.4 1.4l1.3 2.5l2.5 3.6l1.3 4.3l2 3.9l1 3.2l2.2 4l1.1 3.5l.3 3.6" stroke="#fb8122" stroke-width="0.6"/>
<path d="M479.6 16.5l.6 3.6l-.7 8.2l-2.5 4.3l-1.7 1.8l-1.1 .7l-4.7 1.4l-10.3 2.2l-14.2 3.5l-18.5 3.2l-15.9 3.3l-13.8 2.8l-6.2 1.8l-3.1 1.4l-12.7 7.2l-5.9 2.5l-12.3 4.6l-10.3 5.7l-9.4 5.8l-5 4.6l-2.5 2.9l-4.8 3.5l-.6 1.1l-.8 2.9l-1.6 3.5l.2 3.2l-.7 2.9l.2 2.9l-1.3 3.5l0 1.5l.5 1l2 2.5l2.5 5l.1 4l2.1 4.3l-.7 2.5l0 .7l3 3.5l1 3.3l2.8 6.4l2.8 3.2l.1 1.1l-.4 1.8l.2 1l2.1 3.6l2.6 3.6l0 1.1l-.5 2.1l.1 .7l.9 1.1l1.3 .7" stroke="#fb7e21" stroke-width="0.6"/>
<path d="M482.8 16.5l.4 1.8l-.8 3.6l.3 3.2l-.4 2.8l-1.5 2.2l-3.6 2.8l-3.1 1.1l-4.4 1.1l-25.1 5l-27.5 3.2l-7.4 1.4l-2.4 1.1l-3.1 2.1l-2.2 1.1l-15.2 4.3l-7.2 2.5l-4.3 1.8l-7.1 3.6l-17.8 7.5l-1.9 1l-3.8 2.9l-6.4 3.6l-1.2 1l-2.2 3.3l-5.3 3.2l-1.7 1.4l-1.2 1.8l-3.2 6.8l-2.4 3.2l.8 3.9l-.2 1.1l-1.5 2.8l-.1 2.2l1.1 3.2l2.2 5l2.5 3.6l.9 2.8l2 2.9l.1 1.1l-.6 2.5l1 4.6l2.7 4.3l.4 1.4l.3 2.5l2.2 3.2l.7 2.5l2.8 3.3l.4 2.5l1.6 2.8l.2 2.9l3.2 5l.6 1.8l0 1.4" stroke="#fa7b1f" stroke-width="0.6"/>
<path d="M475.2 16.5l.4 7.5l-.4 2.9l-1.8 3.5l-1.1 1.1l-1.7 1.1l-4.4 1l-45.9 7.9l-7.8 1.8l-18 5l-12.3 5l-11.8 3.9l-7.7 4.3l-15.3 6.8l-1.7 1.1l-2.9 2.8l-6.3 3.6l-6.4 5l-2.6 2.5l-1.2 1.8l-1.1 3.2l-2.5 3.2l-.3 2.5l-1.1 2.5l-.1 .7l.9 2.5l-1.3 3.6l.3 10l2.8 5.4l.4 2.8l1.3 2.9l0 2.9l2.1 2.8l.7 2.9l2.5 3.5l.7 5.4l4 5.4l.5 1.4l.9 4.6l2.7 6.8l2 3.6l2.2 2.5" stroke="#f9751d" stroke-width="0.6"/>
<path d="M482.9 16.5l-.8 .7l-.4 1.1l1.5 3.2l.2 1.1l-.6 2.5l-.3 3.9l-.6 2.5l-.4 1.1l-.9 1l-3.4 2.2l-4.5 1.1l-14.1 2.5l-14.5 3.5l-30.4 4l-5 1l-5.9 1.8l-5.5 2.2l-8.1 3.9l-16.5 5.4l-2.9 1.4l-6.2 3.9l-14.3 5.7l-3 1.8l-6.9 5.7l-7.6 5l-2.9 2.5l-1.7 2.2l-2.1 3.9l-2.8 3.6l-2.3 11.1l0 1l.8 1.5l3 2.8l.2 .7l-.5 1.8l0 .7l2.7 3.3l1.8 3.9l.6 3.9l1.1 2.5l.7 3.2l1.4 3.6l2.8 4.6l.9 4.3l2.3 4l1.2 3.5l2.2 4.3l1.1 3.2l2.5 4l.6 1.4" stroke="#f8721c" stroke-width="0.6"/>
<path d="M480.8 16.5l0 3.6l1.2 3.9l-.1 1.1l-1 2.1l-.4 1.8l-.6 1.1l-1.7 1.4l-3 1.8l-5.2 1.8l-4.8 1.1l-23.3 3.9l-26.6 3.2l-6.6 1.4l-7.4 3.2l-18.5 6.8l-8.1 2.5l-3.6 1.5l-6 3.5l-9.6 4.7l-16.3 8.9l-3.9 2.9l-3.3 3.9l-4.9 3.2l-.6 .7l-.6 2.2l-1.2 2.5l-.7 2.5l-2.8 2.5l-.7 1l.1 1.1l.8 2.5l-.8 3.9l.8 2.9l-1.1 2.9l.3 .7l2.6 2.1l.4 .7l-.3 3.3l1.3 3.5l1 5l2.2 4l.6 3.2l1.7 2.8l.8 2.5l2 2.9l.6 2.8l1.7 2.9l.4 2.9l2.1 2.8l1.2 4l2.7 3.9l.3 1.4l.1 2.9l.6 1.4" stroke="#f76f1a" stroke-width="0.6"/>
<path d="M475.9 16.5l.9 1.8l.3 2.1l0 4.3l-.7 3.2l-.7 1.5l-1.4 1.4l-2.4 2.1l-1.2 .7l-12.6 3.6l-2.9 1.1l-5 2.5l-3.6 1.1l-5.8 1l-22.8 2.5l-7.2 1.1l-5.4 1.4l-11.6 4l-20.4 8.2l-7.6 4.3l-10.5 3.5l-4.4 1.8l-3.1 1.8l-4.3 3.2l-7.7 4l-2.7 2.1l-5.2 6.8l-1.8 3.9l-2.6 2.9l-1.1 1.8l-.6 3.5l-1.1 2.9l.1 5l.7 3.2l.1 3.2l1.8 5.4l.6 2.9l.3 5l3.5 5.7l1.7 5.3l4.4 10.8l3.2 3.2l.2 .7l-.3 2.5l1.9 3.9l.8 5l1.3 1.8" stroke="#f66c19" stroke-width="0.6"/>
<path d="M478.2 16.5l0 1.4l-1.3 3.6l1.4 3.6l-.7 3.5l-1.4 2.2l-3.1 2.1l-3.5 1.1l-11.4 2.2l-17.3 3.9l-28.6 4.3l-18.7 6l-13.4 5.4l-13.9 6.8l-12.2 4.6l-6 4l-7 3.5l-3.7 2.9l-3.9 2.5l-1 1.1l-1.7 2.8l-5 4.3l-1.6 2.2l-.9 3.9l-1.6 2.8l-.6 1.5l0 1l.5 2.5l-1 2.9l.8 2.9l-1.3 2.5l0 1l1.5 3.3l.4 3.9l2.4 3.6l.1 1.4l-.4 2.8l.5 1.1l1.9 2.5l0 2.9l2.1 2.8l1.4 2.5l2 2.5l.2 .7l-.3 2.9l1.7 2.9l1.4 4.3l2.3 3.9l1.9 4.3l.1 1l-.5 2.2l0 1.1l.9 1l1.9 1.1" stroke="#f56918" stroke-width="0.6"/>
<path d="M475.1 16.5l.6 2.1l-.6 3.3l0 3.2l-.7 3.2l-2.1 3.9l-1.4 1.4l-1.7 1.1l-6.7 2.2l-17.3 3.9l-32.8 5l-9 2.5l-10.8 3.6l-22.8 9.3l-8.7 4.6l-7.6 3.2l-4.9 3.2l-7 3.3l-2.2 1.4l-3.5 3.2l-4 2.9l-1.8 2.8l-3.9 3.2l-.8 1.5l-.7 3.2l-3.4 3.2l0 .7l.8 2.1l-1.5 2.9l-.1 2.5l-1 2.5l.1 .7l1.6 2.9l-.8 3.2l0 1.4l2.6 5.4l.1 3.2l1.9 3.2l.4 3.9l3.2 4.7l.2 4.3l.7 1l2.3 2.5l.5 3.3l2.9 3.9l.2 1.1l-.3 2.1l.2 1.1l3.2 3.9l1.4 2.5l.4 2.2l-.3 2.1" stroke="#f46617" stroke-width="0.6"/>
<path d="M476.2 16.5l-.6 1.8l.8 3.6l-.5 3.2l.1 4.3l-.8 1.7l-2 2.9l-1.3 1.4l-1.1 .8l-21.5 6l-7.5 1.5l-30.7 4.6l-9.9 2.1l-8.2 2.5l-6 2.5l-7.5 4.3l-4.4 2.2l-7.4 2.8l-11.3 4l-4.8 2.1l-5.3 3.6l-5.2 2.8l-.9 1.1l-.8 1.8l-1 1.1l-5.9 3.5l-1.8 1.5l-2.1 2.8l-4.1 4.3l-1.5 2.5l-.6 3.6l-1.2 2.8l.1 2.9l-.8 2.5l.1 .7l1.1 2.5l-.8 2.5l.3 .7l1.9 2.2l.2 .7l-.4 2.1l.2 1.1l2.7 4.3l-.6 3.6l1.5 3.9l.8 3.9l1.2 1.8l3.9 3.6l.2 .7l-.5 1.8l0 1.1l3.3 4.6l.9 1.8l.1 1.1l-.5 1.8l0 1l3.4 4l1.8 3.2l.3 2.1l-1 1.8" stroke="#f36315" stroke-width="0.6"/>
<path d="M481.8 16.5l.3 1.8l-.2 3.6l.5 3.2l-.8 3.5l-1 2.5l-.8 1.1l-1.3 1.1l-2 1.1l-16.9 3.9l-16 4.6l-31.6 4.7l-15.1 3.6l-7 2.1l-3.3 1.4l-5.7 3.2l-9.6 4l-20.3 9.6l-4.4 2.9l-7 3.9l-11.3 9.7l-1.7 2.1l-1.5 3.6l-2.2 3.5l-.3 2.9l-1.3 3.2l-.9 3.6l.3 3.9l-.6 2.9l.7 2.5l.3 2.5l2.7 2.8l.6 1.1l.2 6.1l.4 2.1l.9 1.8l2.6 3.2l1.5 4.3l3 5l2.8 10l4.4 7.9l.5 1.8l-.1 1.4" stroke="#f26014" stroke-width="0.6"/>
<path d="M480.0 16.5l.9 5.4l-1.1 6l-.9 1.5l-2.9 2.8l-1.4 1.8l-1.5 1.1l-4.3 1.4l-15.2 3.2l-10 3.2l-3.3 .8l-7.7 1l-21 2.2l-8 1.4l-4.1 1.1l-2.6 1l-5.2 2.9l-12.1 4.6l-11.1 5l-9.9 5.4l-11.5 4.7l-1.6 1l-3.8 3.2l-9.4 5.8l-2.6 2.1l-2.1 3.6l-3 3.9l-1.7 3.9l-1 5.4l-1.4 3.6l1 4.6l-.1 2.5l.4 1.1l2.3 2.1l.7 1.1l.3 2.9l2.5 5l2.3 7.1l.4 3.6l2.3 3.2l.4 3.2l.6 1.4l2.2 3.2l1.1 2.9l2.2 3.2l1.2 5.4l2.5 5.7l.8 2.5" stroke="#f15d13" stroke-width="0.6"/>
<path d="M452.6 16.5l-.2 1.4l.4 2.9l-.3 2.8l.2 6.5l-.3 2.5l.4 2.5l-1.6 2.1l-2.2 2.2l0 .7l1 1.8l-.5 .7l-1.9 1.4l-.1 .4l1 1.4l-1.3 .7l-3.4 1.1l-.8 .7l2.2 1.8l-1.2 1.4l.5 1.1l-.2 .3l-2.3 1.5l-.2 1.8l-1.2 1.4l-4.3 2.5l.2 1.1l-.3 .3l-4.4 1.1l-12.8 1.4l-3.9 1.1l-16.5 2.1l-1 .4l-.7 .7l0 .7l.3 .4l2.9 1.4l4.8 1.4l.5 .4l-.4 .4l-6.4 1.4l-13.2 2.1l-16.2 3.2l-1 1.1l-3.2 1.8l.5 .7l1.6 1.1l.1 .3l-.9 .8l-5.7 2.1l-2.8 1.4l-10.9 2.2l-5.8 2.1l-.2 .4l.1 .7l-.5 .3l-6.4 1.5l-.6 .3l.1 .4l1.6 1.1l0 .7l-1.9 1.4l-3.8 1.4l-.2 .4l2 1.1l.4 .3l-.2 .4l-2.4 1.4l-.4 1.1l-1.3 1.4l0 1.1l-.3 .3l-4.1 2.5l-3.2 3.6l-1 3.2l.2 1.8l-1.6 1.8l-.2 .7l.2 1.1l-.4 .7l4 3.2l-.1 .4l-.5 .3l-2.7 1.1l-.3 .4l2.8 1.7l-1.5 1.5l0 .3l1.3 1.5l-1 1.7l.6 .8l2.3 1.4l1.9 2.5l-.1 3.6l.3 1l.7 1.5l1.7 1.4l.1 .4l-1.5 1.4l0 .3l1.3 1.5l-1.5 1.4l-.3 .7l1.3 2.2l3.4 3.5l.7 1.1l1 3.2l-.4 1.1l-.7 .7" stroke="#ef5811" stroke-width="0.58"/>
<path d="M454.5 16.5l.2 6.8l-.3 2.1l.1 6.5l-.6 2.5l.3 2.5l-.8 1l-3.3 2.2l-.9 1.1l.1 .7l1.7 2.5l.1 .7l-.3 .7l-1.1 .7l-4.2 1.8l-1.4 1.8l-2 1.8l0 1.4l1.5 2.1l-.3 .8l-2 1.4l-.6 .7l1.2 1.4l-.5 .4l-2.1 .3l-10.7 1.1l.3 .4l2.3 .7l-.4 .3l-4.3 1.1l3.9 1.1l.5 .3l-4.7 .8l-12.8 1l-5.2 .7l-10.9 2.9l-.6 .4l0 1l-.7 .4l-7.6 2.1l-.2 .4l2.8 1.4l-.5 .4l-5.1 1.1l-2.2 .7l-.4 .3l-.3 1.5l-1.3 .7l-7.9 2.1l-12.2 3.9l-8.4 2.2l-.2 .3l1.4 1.1l.1 .4l-3.5 1.8l-.3 .3l.4 1.1l-2.4 .7l-6.5 1.1l-1.9 .7l-.3 .7l2.5 1.8l-.3 .7l-3 1.4l-6.1 1.8l-.5 1.1l-1.1 .7l-6.1 1.8l0 .3l4.1 1.5l0 .3l-4.8 1.8l.8 1.8l-2.2 1.4l-1.3 1.8l-2.6 1.8l.2 1.4l1.7 1.8l-1.1 .7l-3.2 1.1l-.1 .4l2.3 1.4l-1.6 1.1l-.5 .7l-.1 .7l.5 1.4l-.2 2.2l1.2 2.1l-.2 .7l-1.7 2.2l-.2 .7l.6 .7l2.6 1.4l-1.1 1.8l1.8 1.8l.2 2.9l.6 1.7l-1.4 1.8l-.2 .8l.7 .7l3.1 1.8l.5 .7l-1.7 1.8l1.6 1.7l.4 1.1l-.3 .7l-1.8 1.5l.2 .7l1.4 1.4l-.8 1.8l.7 .7l2.9 1.8l.1 .7" stroke="#ed5510" stroke-width="0.58"/>
<path d="M458.0 16.5l-.3 1.4l.4 5.7l-.4 12.2l-1.1 1.1l-6.7 3.9l-.6 2.9l-1.5 1.7l-.7 1.5l-1.7 .7l-16 3.9l-.6 .4l-.3 1l-2.9 1.5l-.8 1l-.2 .8l.4 .7l2.6 1.4l-.1 .4l-.8 .3l-25.7 4.7l-5.7 1.4l-2.8 1.8l-3.1 1.4l0 .4l1 1l0 .4l-.8 1.1l0 1l-.5 .4l-5.7 1.4l-17.4 2.9l-.8 .3l-1 1.5l-2.1 1.8l.1 .3l2.6 1.4l-.8 .8l-11.6 3.5l-13.2 2.5l-.5 .4l.4 .3l2.6 1.1l.3 1.1l1.5 1.1l-.3 .3l-8.7 1.4l-4.1 1.5l-5.7 1.4l-.1 .4l.4 .3l3 1.4l.2 .8l-.2 .7l-.6 .7l-5 2.5l-1.5 1.1l0 .7l1.3 1.4l.3 .7l-1.6 2.5l-.2 2.5l-1 2.2l-.1 1.4l-2.2 1.8l.3 1.4l-2.5 2.2l-.3 .7l2.6 2.8l-.1 .7l-.8 1.1l0 1.8l.5 1.1l1.9 2.1l.2 .7l-.4 1.5l.5 1l-.1 .7l-2.4 1.8l.5 .7l2.2 1.5l.4 .7l.5 2.5l-.6 1.4l0 .7l1.8 2.9l-.4 2.1l1.2 1.5l1.6 3.2l0 1.8l-.7 1.8l2.1 2.1l-.4 2.1l1.6 2.9" stroke="#ec530f" stroke-width="0.58"/>
<path d="M457.1 16.5l-.3 6.1l.4 2.5l-.3 1.8l.2 2.1l-.6 3.6l-1.3 1l-4.4 2.6l.4 1.4l-.7 1.4l1.1 1.4l-.4 1.1l-2.1 1.4l-1.2 1.8l-5.9 2.9l-2.2 1.4l-1 1.8l-.1 1.4l-.5 .7l-4.5 1.1l-16.8 1.8l-11.4 2.5l-.7 .4l.2 .3l1 .4l8.9 1.4l1.3 .4l-.5 .3l-17.4 2.2l-2.2 .7l.2 1l-.7 .4l-9.2 2.1l-.6 .4l0 .4l.7 .7l0 .3l-2.5 1.5l.9 1l-.5 .4l-4.3 1.1l-.5 .3l1.9 1.1l0 .4l-2.4 1l-.4 .4l.3 .7l-.3 .4l-1 .3l-24.3 3.9l-.7 .4l-.7 1.1l-7.5 2.5l-1 .7l-.5 1.8l-.5 .3l-4 1.5l-.3 .3l1.1 1.1l-.3 .3l-2.6 1.1l-.2 .4l1 1l-.3 .4l-4.7 2.1l-.2 .4l.3 1.1l-.2 .3l-6.4 1.8l-1.6 .7l-.1 .4l.4 .3l1.9 1.1l.2 .7l-.8 1.1l-.6 1.4l-5.3 1.8l-1.3 .7l0 .7l1.1 1.1l.1 .7l-.9 1.1l-.2 1.8l-1.3 2.5l-2.2 2.1l.3 .8l1.3 1l.4 .7l-.6 1.1l-1.5 1.8l1.5 2.1l-.6 1.5l.6 2.5l-.7 2.5l1.6 1.4l.3 .7l-2.2 2.9l2.4 1.8l.1 .3l-.3 .4l-1.4 1l-.1 .4l2.2 2.1l-.2 .8l-2 2.1l-.3 1.1l.6 .7l3.4 1.4l.8 .7l-2 1.8l-.2 .7l.3 .8l1.7 1.7l.7 1.8l1.5 1.5l-.2 .3l-2.2 1.4l-.2 .4l1.6 1.8l1.1 3.2" stroke="#eb500e" stroke-width="0.58"/>
<path d="M472.9 16.5l-.3 1.4l.5 6.1l-.5 2.9l.1 4.6l-2.9 2.5l-2.7 2.9l-.1 .7l.8 1.1l0 .7l-1.3 3.5l-1.8 1.5l-1.9 .7l-4 .7l-38.2 3.9l-3.7 .7l-.4 .4l.1 .4l2 1.4l-1.5 1.4l.6 .4l6.3 1.4l.4 .4l-.4 .3l-8.7 1.8l-.3 .4l.8 .7l-1 .3l-17.1 1.8l-.5 .4l.2 .7l-.5 .3l-2.8 1.1l-.1 .4l.5 .7l0 .3l-.7 .4l-9.7 2.5l-.5 .7l.2 1.1l-1 2.1l-.6 .8l-.8 .3l-3.3 .7l-12.6 1.8l-6.9 1.8l-.8 .4l-.4 1l-.9 .4l-7.9 1.4l-.3 .4l2.7 1l.6 .4l-.1 .4l-11.7 2.1l.3 .4l2.2 .7l.3 .3l-4.1 1.5l1.5 1l-.2 .4l-8.8 1.8l-2.3 .7l-1.3 .7l-.4 .7l2.3 1.8l.4 .7l0 .7l-2.3 2.9l-4.6 2.1l-.3 .4l.1 .3l.8 1.1l-1.8 1.4l-.5 .8l1 1.4l-.1 .7l-2.6 2.5l-2.4 1.8l.2 1.8l-1.8 2.1l-.2 .7l.5 1.5l1.3 1.8l-.2 1.7l.5 1.5l0 1l-.4 .8l-2.2 1.7l-.5 .8l.3 .7l2.5 1.8l-1.2 1.7l0 1.8l-1.3 1.5l-.3 1l2.5 1.8l.6 .7l-1.5 1.8l1.3 1.8l-1.4 1.4l.1 .4l2.5 1.4l.2 .4l-2.4 1.8l-.3 1l1.7 2.5l.2 1.8l2.1 4l0 .7l-1.3 1.4l-.1 .7l2.5 1.8l.6 1.1l.6 2.5l-.2 .7l-.8 .7" stroke="#ea4e0d" stroke-width="0.58"/>
<path d="M458.1 16.5l-.5 8.2l.3 2.2l-.2 5l.4 3.5l-.5 1.8l-2.3 1.8l.1 1.1l-.2 .3l-2.3 1.5l-.8 1.4l-5.1 3.2l-.7 .7l-.6 1.5l-1.5 1.4l.7 2.1l-1.6 2.9l0 1.4l-.8 .7l-3.6 1.5l.1 .3l.9 .7l0 .4l-.4 .3l-5.1 1.1l-12.6 1.4l-2.5 .8l-2.1 1l-1.7 .4l-14.5 1.8l-.6 .3l-.1 .7l-.7 .4l-5.7 1.1l-.4 .3l1.1 .4l6.2 1.1l.6 .3l-2.6 2.2l-2.2 .7l-9.9 2.1l-1.8 1.5l-5.9 1.7l-1.2 1.1l-3.1 1.4l-1.4 1.1l-7.8 1.8l-.3 .4l0 .7l-1 .3l-8.6 1.5l-.1 .3l1 .7l-.3 .4l-4.8 1.4l.1 1.1l-.2 .3l-1.7 .8l-4.5 1.4l-10.6 2.5l-1.4 .7l-1 1.4l-4.1 2.2l0 .7l.9 1.1l-.1 .3l-4.9 2.2l-.4 .7l-.2 2.1l1 1.8l-2.4 1.4l-.4 .8l.6 1.7l-.8 1.1l-.1 .7l.9 1.5l-1.2 .7l-4.2 1.4l-.7 .7l.5 .7l2.9 1.5l.5 .7l-1.3 1.4l-.3 1.4l-2.5 2.5l.5 1.1l2.3 2.1l-.2 .8l-1 1.4l-.1 .7l1.1 2.1l-.2 1.8l1.3 1.8l1 2.2l-.2 2.1l.2 3.6l-.8 2.5l2.3 2.1l-.2 1.5l1 1.7l-.7 1.1l-.1 .7l2.7 2.2l.1 .7l-.6 1.4l.7 1.8l.6 2.5" stroke="#e84b0c" stroke-width="0.58"/>
<path d="M476.9 16.5l-.2 1.1l.3 2.5l-.1 9.6l-.3 2.2l-.3 .3l-3.5 1.1l-.2 .3l.3 1.1l-.5 .4l-2.3 .7l-7.3 1.4l-.2 .4l3.9 1.1l.3 .3l-.4 .4l-1.6 .7l.3 .3l3.3 1.1l.4 .4l-.8 .7l-2.8 1.1l-3.9 .7l-17.8 1.4l-9.4 1.4l-16.8 1.8l-1 .4l-.1 .3l5.1 1.5l-.1 .3l-12 1.8l-3.8 1.8l-5.3 1.8l-.5 .3l-.9 1.5l-3.5 2.1l-.7 2.1l-.5 .8l-8.5 3.5l-.9 .7l.1 1.5l-.4 .7l-4.6 2.1l-.3 1.1l-3.4 .7l-13.7 1.1l-5 .7l-1.4 1.1l-2.8 1.1l-1.1 .7l0 .3l.5 .4l2.9 1.1l.3 .3l-.7 .4l-16.3 2.5l-6.8 2.1l-.4 .4l1 .7l10 3.6l-.3 .3l-5.5 1.4l-2.4 1.1l-7 1.8l-2.3 1.1l-2 1.4l-.2 .7l2 2.5l.1 1.1l-1.8 2.5l-3.5 2.1l-.3 .7l.1 1.8l-4.3 4.3l.1 .7l1.5 1.8l-1.1 1.8l.7 1.4l-.1 .4l-1.1 1.4l1 1.1l0 .7l-1.5 1.8l.5 .7l.7 .4l5 1.8l.1 .3l-.3 .4l-2.5 1l-.6 .4l0 .4l3.5 1.4l.9 .7l-.6 1.4l.8 1.8l-.3 1.8l2.4 3.2l-1 1.8l0 .7l.7 1.8l1.3 2.1l-.2 2.2l.3 1.4l.9 1.1l4.3 2.9l.2 .7l-.3 1l.3 1.5l-1.2 2.1l3.6 3.6l-.5 2.1l.6 .7l.6 .4" stroke="#e7490c" stroke-width="0.58"/>
<path d="M471.1 16.5l.2 8.6l-.4 4.6l.5 4.3l-.2 1.8l-.9 1.1l-5.1 3.2l-.2 .3l.3 1.5l-.4 1l1.1 1.5l-3.9 2.8l-6 1.5l-.6 .3l1.2 1.1l-.3 .3l-6.5 2.9l-5.8 1.1l-16.1 1.8l-3.7 .7l-.2 .3l.8 .4l3.7 1.1l.5 .3l0 .4l-1.6 .7l-7.1 2.1l-3.4 .7l-14.8 2.2l-.5 .3l.7 .4l4.4 1.1l.3 .3l-5.6 2.2l-.2 .3l.2 .7l-.3 .4l-7 1.8l-.6 1.1l-11.3 2.1l-1.3 2.2l.9 1l0 .4l-.5 .3l-4.9 1.5l-4.8 1.8l-15.9 2.1l-2.1 .7l-3.6 2.9l-.8 1l1.1 .8l6.3 1.4l.7 .3l-.2 .4l-3.2 .7l-13.9 1.8l-8.7 2.9l-2.1 1l0 .7l2.2 1.8l-1.1 .7l-4.1 1.5l-2 1.4l0 2.1l1.1 1.5l-.2 .3l-2.1 1.5l-1.1 1.4l-3.2 2.1l-.2 .8l.6 1l.1 .7l-1.4 2.5l.3 1.8l-.8 1.5l-2 2.1l-.3 1.1l.2 1l1.2 2.2l0 .7l-.9 2.1l.5 1.5l-.1 2.1l1 1.4l-.2 .8l-1.1 1.7l0 1.5l.3 1.4l1.5 2.9l-.2 .7l-1 1.4l2.3 2.9l.1 .7l-.7 1.8l1.7 1.8l-1.2 1.7l1.1 1.8l-.9 1.5l1.8 1.7l-.2 .8l-1.2 1.4l-.1 .7l1.1 1.4l2.1 1.1" stroke="#e5470b" stroke-width="0.58"/>
<path d="M455.4 16.5l.3 1.1l-.3 2.5l.5 2.1l-.3 7.5l-.9 1.1l-.2 1.4l-1.5 3.6l-2.9 2.9l-.1 .7l.7 1.4l-.2 .4l-4.2 1.7l-.3 .4l.1 1.1l-3.3 1.8l-.7 .7l-1.2 2.8l2.1 2.2l-.3 .7l-.9 .7l-2.2 1.1l-1.6 .3l-9.8 1.5l-2.8 .7l-.1 .3l2.4 1.1l.3 .4l-3.2 1.7l-2.2 .8l-4.6 .7l-20.7 2.1l-5.3 1.1l-.7 .7l.3 1.1l-2.5 1.4l-.1 .4l.9 1l.4 1.1l1.7 1.1l0 .3l-8.9 1.8l-.3 1.1l-1.1 .4l-9 1.4l-.5 .3l1.1 1.1l-1.5 1.1l-.2 .3l.2 .8l-1 .7l-19.1 4.6l-.7 .4l.2 .3l3.1 1.1l.3 .4l-5.9 1.7l-1.9 1.5l-1 .3l-11 1.8l-1.6 .4l-1.6 .7l-.3 .7l.2 .7l2.3 1.4l0 .4l-5.7 2.1l-.3 .4l1 1.4l-.2 .4l-3.9 1.8l-1.5 1l-.2 .8l.7 1.7l-1 2.5l.3 1.8l-5.3 4.3l-.7 1.1l.3 3.9l-.8 1.8l1.3 1.4l0 .4l-3.7 1.8l.4 .7l2.5 1.4l.7 .7l-.1 .8l-1.7 1.4l.5 .7l1.6 1.1l.1 .3l-2.3 1.8l.5 .7l1.5 1.1l.3 .7l-1.5 2.5l.8 1.4l.2 1.8l1.4 2.9l-.3 2.1l1.5 1.8l2.1 1.8l.3 .7l-2 2.9l0 5l-1.3 2.1l1.1 1.5l3.3 2.1" stroke="#e4450a" stroke-width="0.58"/>
<path d="M467.8 16.5l.2 5.4l-.3 3.2l.3 2.8l-.6 5l-.7 .7l-3.1 1.8l-.8 2.2l-2.3 1.4l.1 1.4l-3.4 1.8l-1.4 1.8l-2.1 .7l-5.6 1.1l-.6 .4l.9 1l-.6 .4l-11.5 2.1l-1.5 .7l-.6 1.1l-.6 .4l-8.7 2.1l-.7 .4l-.7 .7l-1 .3l-12.5 1.8l-.5 .4l.2 .7l-.3 .4l-3.7 1.4l-3 2.1l-6.2 1.8l-.4 .4l-.1 1l-2.9 1.5l-.3 .3l.2 1.1l-.4 .4l-2.3 .7l-9.2 1.8l-.5 .3l.4 1.1l-.2 .7l-5.6 1.8l.4 .4l3.6 1l-.8 .4l-13 1.8l-.4 .3l.6 1.1l-.7 .7l-14 3.9l-.5 .4l.5 .7l-.1 .4l-1 .3l-7.7 1.5l-.6 .3l-.5 1.1l-4.1 1.8l-3 2.8l-1 1.5l-.1 1.7l-1.4 .8l-4.9 1.4l-2.5 1.4l-.4 .7l.3 .4l1.6 1.1l.3 .7l-.9 1l-.2 1.1l-3.2 1.8l-1.1 2.5l-2.1 2.2l-.4 1l.7 1.8l-.1 .7l-2.4 1.8l-.7 1.4l1.4 2.2l-.3 1.1l.6 1.7l-.5 1.8l1.3 2.2l2.5 1.8l-.3 .7l-1 1l-.3 .8l.4 2.1l-.4 1.8l2.1 1.8l.1 .3l-1.5 1.5l0 .3l3.1 1.4l.3 .4l-2.1 1.4l-.1 .4l2.5 1.8l-.9 1.8l.8 1.8l.4 2.8l2.4 2.2l.7 1l.2 4.3l1.1 3.2l-1.5 2.2l1 .7l3.1 .7" stroke="#e2430a" stroke-width="0.58"/>
<path d="M458.2 16.5l.3 7.1l-.2 2.2l-.6 1.8l.5 1.4l-.6 .7l-2.9 1.4l-2.1 1.8l.2 .4l2.7 1.4l.2 1.5l1.2 1l-.1 .4l-4.8 2.1l-.6 .7l-.4 1.1l-4 1.8l-3 2.1l-2.1 2.5l-2.3 1.8l-.2 .4l.2 1.1l-.7 .7l-4.4 1l-10.5 1.5l-.5 .3l.2 .7l-.5 .4l-4.6 1.1l-2.8 1.4l-8.1 1.4l-.8 .4l-.1 .7l-.4 .4l-13.9 2.1l-2.6 .7l-1.6 1.1l-1 .3l-7.5 1.5l-.3 .3l1 .7l.1 .4l-3.5 1.4l2.4 1.8l.4 1.5l-.3 .3l-3.5 .7l-14.4 1.5l-1.1 .3l.1 .7l-.6 .4l-3.6 1.1l.5 .3l7.9 1.4l.1 .4l-.7 .4l-7.1 1.4l-22.5 2.8l-2.7 .8l-.4 .3l1.5 .7l7.2 1.5l1 .3l.3 .4l-.1 .3l-5 2.2l-7.2 1.8l-1.5 .7l.4 .7l2.5 1.4l.5 .7l-.7 .7l-2.4 1.5l-1.1 1.4l-3.3 1.8l-.4 1.4l-.5 .7l-5.2 3.2l.1 .4l1.5 1.4l-.8 2.9l.5 2.5l-.6 .7l-2.2 1.4l-.7 .8l1.4 1.7l-.1 .8l-.8 1l.1 .4l1.4 1.4l-1 1.4l.8 2.9l-1.5 2.1l.3 .8l1.8 1.7l-1.1 3.3l1.7 2.1l-1.1 2.5l1.5 2.1l-.3 .8l-1 1l0 .4l2.7 1.8l0 2.1l1.4 2.2l-.3 2.1l-.8 1.4l-.1 .8l1.8 1.7l1.8 2.9l.1 .7l-.8 1.1l-.1 .7l2.7 2.5l-.3 1.1l-2.1 1.4" stroke="#df3f08" stroke-width="0.58"/>
<path d="M463.7 16.5l.1 5l-.2 1.8l.3 5.3l-.5 .8l-4.1 1.7l-.5 .8l1.6 1.4l-.1 1.8l2.1 2.5l0 1.1l-1.4 1l-6.1 2.5l-2.5 .7l-10.6 1.5l-3.4 .7l-.9 .7l-.1 .7l.9 .7l3.6 1.5l.3 .3l-.3 .4l-1 .3l-4.5 .7l-20.7 1.8l-4.1 .7l-.4 .4l.4 .7l-.2 .4l-5.7 1.4l-1.8 .7l-.1 .4l.3 .3l2.8 1.8l0 .4l-.3 .3l-6.5 1.8l-2.7 1.1l-1.2 1.1l.3 1l-.2 .4l-2.4 .7l-22.9 4.3l-.7 .7l.5 1.4l-1.5 1.1l-.1 .4l3.5 1l.7 .4l-.5 .4l-8.8 1.4l-.7 .3l-.6 .8l-1.1 .3l-9.2 1.4l-8.4 1.8l-.8 .4l0 .3l3.3 1.1l.8 .4l0 .3l-4.1 2.2l-8.7 1.8l-2 .7l-.3 .3l.1 .4l1.2 1.1l-1.5 1.4l0 .3l1.7 1.5l.3 .7l-1.4 .7l-5 1.4l-1.6 1.5l-3.2 1.4l-1.8 1.4l-.3 .7l.2 .4l1.7 1.4l0 .4l-1.8 1.8l.8 1.4l-1.2 .7l-2.7 1.1l-.3 .3l1.3 1.5l-.5 1.8l.3 1.4l-3.9 2.1l.3 .7l1.3 1.1l-.1 .7l-1.3 1.5l-.2 .7l.9 2.1l-.8 1.8l1.6 1.4l0 .4l-2.6 1.8l.7 .7l2.5 1.4l.3 .7l-.3 .7l-1.8 1.8l0 3.2l.6 2.5l-.1 .8l-1 1.7l1.3 2.5l-1.4 2.9l1.3 2.9l-.9 1.8l-.1 .7l1.5 1.8l-.5 .7l-2.1 1.4l-.3 .7l.8 .7l2.8 1.5l-.1 .3l-.6 .4l-3.5 1.4l-.4 .7l.4 .7l2.9 2.2l.1 .7l-1 .7" stroke="#dd3d08" stroke-width="0.58"/>
<path d="M456.7 16.5l.3 1.1l-.6 2.8l.3 6.5l-.3 3.2l-.6 1.8l-2 2.1l-.1 1.8l-1.1 1.8l1.7 1.8l.4 .7l-1.4 1.1l-4.9 1.7l-1 1.5l-2.5 1.4l.1 .7l1.3 1.4l-.5 1.1l-1.1 1.1l-1.5 .7l-6.2 1.8l-5.9 .7l-14 1.1l-3 .3l-2.9 .7l-.1 .4l.7 .4l4.4 1l1.4 .7l-.5 .4l-6.2 1.4l-.1 .4l2.7 1.1l-.7 .3l-16.9 2.5l-.8 .4l-.1 1l-.4 .4l-4.2 2.1l-6.9 1.5l-.2 .3l5.1 1.1l1 .4l-.2 .3l-8.9 2.2l-.6 .3l-.3 1.1l-.5 .4l-4.7 2.1l-8.7 1.8l-.1 .3l1.2 .8l-.2 .3l-10.4 1.4l-1.6 .4l-2.5 1.1l-9.7 2.1l-.5 .4l.2 .3l2.7 1.1l.4 .4l-.1 .3l-3.7 1.4l-8.1 1.8l-1 .7l.2 .8l-.3 .3l-4.4 1.8l0 .4l1.6 1.4l-.2 .7l-1.1 1.1l0 .3l1.4 1.1l0 .4l-2.5 1.4l-.8 1.1l-2.3 1.4l0 1.4l-1.6 1.4l-.5 1.8l-2.8 2.2l-.3 1.8l-1.5 1.8l.2 .7l1.4 1.4l0 .7l-2.4 1.8l0 1.8l-1.1 1.8l-.2 1.4l-1.3 1.8l.5 1.1l2.6 1.7l.7 .8l-.2 .7l-2 2.1l.3 .7l1.4 1.5l-.4 .7l-1.4 1l-.3 .8l0 2.8l1.4 1.4l.3 .8l-1.4 3.2l-.2 3.2l1 2.5l-.2 5.4l-.1 1l-1.2 2.2l-.2 1l.3 3.6l1.1 1.1l1.6 .7" stroke="#dc3b07" stroke-width="0.58"/>
<path d="M471.6 16.5l.2 5.4l-.5 3.2l.5 2.8l-.3 5l.4 2.5l-1.2 1.8l-1.8 1.8l-.7 1.1l-2.3 1.8l1.2 2.1l-.4 1.1l-.9 .7l-11.4 4.3l-7.8 1.4l-2.5 .7l-.3 .4l.6 .3l5.6 1.5l-.2 .3l-5.2 2.2l-7.9 1.8l-6.3 2.5l-16 2.8l-1.1 1.1l-.9 .3l-6.1 1.5l.3 .3l1.7 .7l-.1 .4l-9.8 1.8l-2.1 1.4l-4.7 1.5l-3.6 1.4l-.5 .3l.3 .4l6.6 1.4l-.5 .4l-6.9 1.4l.7 1.1l-.7 .3l-14.2 2.5l-.2 .4l.7 .4l5.2 1.4l-.4 .3l-5.4 .8l-12.8 1l-1.6 .4l-2.1 1.1l-10.3 1.7l-.5 .4l.2 .4l2.2 1l-.2 .4l-5.1 1.4l-2.8 1.4l-4 1.1l-1.5 .7l.7 .7l3.5 1.8l.3 .7l-.5 .8l-2.1 1l-8.3 2.2l-2.2 1l.8 1.5l-.8 1.4l.1 .4l1.3 .7l3.4 1l.5 .4l-.2 .4l-9.3 2.5l-1.7 .7l-.1 .3l1.8 1.5l.1 .3l-2.2 1.8l-.5 1.8l.1 1.4l-3.7 1.8l1.1 .7l3.5 1.5l1 .7l0 .7l-.5 1.4l2.2 3.6l-.4 .7l-1.3 1.1l-.2 1l1.6 4l.3 1.8l.7 .7l2.9 1.8l0 .3l-.6 1.1l.5 1.4l-1.4 1.4l.1 .4l2.8 1.8l2.7 3.6l-.4 1.8l-.7 1.4l.6 .7l2.5 1.4l-1.6 2.2l2 2.8l-.2 1.8l.2 .7l1.8 1.1" stroke="#da3907" stroke-width="0.58"/>
<path d="M452.7 16.5l0 9.3l-1.8 2.1l-.2 .7l.8 1.5l-.2 .3l-3 1.5l2.9 1.4l-.2 .3l-5.3 2.6l-3 1l-1.1 1.8l-1.2 .7l-10.3 1.5l-2.7 .7l.6 .3l6.5 1.5l1.3 .7l-.5 .3l-4.5 1.1l-3.5 1.4l-1.7 .4l-34.2 5l-.8 .3l.2 .4l2.8 1.1l.1 .3l-.6 .7l0 .4l1.7 1.1l.1 .3l-.5 .4l-5.2 1.4l-11.1 2.2l0 .3l2.8 1.1l-.1 .3l-3.1 1.1l-.4 .4l.5 1l-1.1 .8l-11.2 2.8l-1.4 .7l-.6 1.1l-7.4 1.8l.3 .7l-.3 .4l-9 1.4l-.8 .4l1 1l-3.5 1.5l4 1.4l-.3 .3l-6.6 1.5l-6.4 2.1l-.4 .4l-.4 1l-.7 .4l-5.1 1.4l-1.1 .7l.5 .8l2.1 1l-.2 .4l-5.1 1.4l-1.2 .7l.1 1.8l-1.4 1.4l-.5 1.5l-1.2 1.8l1.1 3.2l1.6 1.8l0 .7l-1.9 1.4l-1.2 1.8l-2.4 2.1l-.2 .7l.7 1.8l-1.8 2.2l-.3 .7l1.7 2.9l-1.1 1.4l-.2 .7l1.3 1.4l.3 .7l-.4 1.1l-1.6 2.2l-.1 2.5l-.9 2.1l2.2 1.4l.6 .7l-2.3 1.8l-.5 3.2l.1 1.1l1.5 2.5l.1 1.1l-.6 .7l-2 1.1l-.5 .7l2.8 2.1l-.2 2.2l.8 2.1l-.9 1.8l.4 .7l1.4 1.1l0 .4l-.4 .3l-2.5 1.4l1.8 1.8l-2 1.8l-.2 .7l.4 .7l2.5 1.8l.3 .7l-1.3 2.2l-.1 .7" stroke="#d83706" stroke-width="0.58"/>
<path d="M455.0 16.5l.4 1.4l-.1 2.2l.2 2.1l-.4 2.5l.6 2.2l-.8 3.2l-.5 .7l-1.6 1.1l-.6 1.4l-1.8 1.4l-.7 2.5l.4 1.5l-2.8 1.7l0 1.1l-1.4 2.5l-3.8 2.2l-1.5 1.7l-2.1 1.5l-.1 .3l.4 .4l2.4 1.4l-.3 .7l-2.7 1.1l-6.1 1.1l-1.9 .7l-2.2 .3l-18.1 1.1l-7 .7l-.8 .4l1.3 1.1l-.6 .7l-15.5 5.7l-.7 .7l-.2 1.1l-1.3 1l-.1 .4l.9 1.1l-.3 .3l-10.9 2.5l-.4 .4l.3 .4l2.4 1l2.8 1.8l.3 .4l-.2 .3l-.7 .4l-4.9 1.8l-2.9 .7l-21.1 2.1l-2.8 .7l.2 .4l1.5 .7l0 .4l-6.5 1.4l-.5 .4l1.2 1l.1 .4l-1.2 .7l-4.1 1.4l-.5 .4l-.3 1.1l-2.8 1.4l-.2 .3l.2 1.1l-2.7 1.8l-.4 .7l0 1.4l-2.1 1.8l-.4 1.5l-6.9 3.9l-.3 .7l.7 1.8l.1 1.1l-.5 .7l-2.9 1.8l-.4 1.8l-1.4 1.7l.8 1.5l0 .7l-2.7 3.2l.7 1.8l-1 1.4l-.1 1.1l.9 2.1l2.3 2.5l.2 .7l-.9 .8l-3 1.4l.1 .3l3.2 1.5l0 .3l-3.3 1.5l-.3 .3l2.4 1.4l.3 .4l-.2 1.4l2.2 1.5l.1 .3l-.3 .4l-1.6 1l-.1 .4l1.8 1.8l-1.4 1.8l.7 1.4l-.6 1.8l.7 1.8l0 1.1l.6 .7l3.2 1.4l.8 .7l-.1 .7l-1.2 1.8l.2 .7l1 1.1l.2 .7l-2.3 1.8l-.4 .7l.8 2.5l-.1 1.1l-.4 .7" stroke="#d63506" stroke-width="0.58"/>
<path d="M452.0 16.5l-.3 7.1l.1 10.8l-1.7 4.3l.4 1.7l-.4 .8l-2 1l-5.5 1.5l-1.1 .7l.3 1.8l-.9 1.4l-.2 .7l.3 4.3l-1.3 2.1l.8 1.5l-2 .7l-6.9 1.4l-16.9 1.4l-4.8 .7l-.8 .4l-.1 .4l2 1.7l-.7 1.5l-.9 .7l-15.8 3.6l-1.6 .7l.4 .3l7.1 2.2l1 .7l-.1 .4l-4.2 1l-12.9 1.8l-9.6 1.8l-1.9 .7l.1 .7l-.3 .4l-7.5 1.4l-.4 .4l.7 .7l-.7 .3l-12.2 1.5l-3.4 .7l-.6 .3l0 .4l3.4 1.1l.6 .3l-.3 .4l-2.7 1.1l-1.1 1l-4.5 1.5l-.9 1l-1 .7l-6.3 2.2l-.5 .3l0 .4l1 1.1l-.3 .3l-4.7 1.8l.1 .4l1.8 1l.3 .4l-.2 .4l-3.4 1.4l-1.5 1.1l-.7 1.4l.6 1.8l-1.9 1.4l0 1.4l-.8 1.8l-2.6 1.8l-.7 1.8l-2.1 1.4l0 .7l1 1.5l1.6 1.4l0 .7l-4.3 2.5l-1.2 2.2l1 1.4l-.9 2.1l1.5 1.8l.3 .7l-1.5 2.2l3.9 1.8l.1 .3l-2.7 1.4l-.1 .4l3.3 2.1l.5 .8l-.9 2.1l1.4 1.4l.1 .4l-1.3 1.4l1.7 1.8l-1.4 1.8l.2 1.1l.9 1l2.4 1.5l-.5 1.4l2 1.8l-.6 .7l-2 1.1l-.3 .7l1.5 2.1l-.4 1.8l1.1 2.2l-.1 2.1" stroke="#d43305" stroke-width="0.58"/>
<path d="M454.1 16.5l-.2 2.9l.1 2.5l-.3 2.5l.4 8.5l-2.1 4l-.2 1.8l-1.9 1.4l-.1 .3l1.3 1.1l0 .4l-2.8 1.8l-.4 .7l.2 1.8l-.9 2.1l-.7 .7l-3.1 1.8l-2.2 4.6l-.4 2.2l-.8 1.4l.2 .7l1.5 1.5l-.1 .3l-2.5 .7l-13.1 1.8l-14.4 1.4l-8.4 1.8l-1.3 .7l-.1 .4l1.4 1.1l.5 .7l.2 2.9l-.9 .7l-15.5 3.2l-3.8 1.1l-2.3 1l-2.7 1.8l-3.1 1.1l-.3 .3l2.3 1.1l.2 .4l-5.1 1.4l-2 1.1l-13.2 1.8l-1.5 1l-7.7 1.5l-.8 .3l-.1 1.1l-3 1.4l-.2 .4l.6 1l-.2 1.1l.3 .4l3.8 1.4l.2 .4l-2.3 .7l-11.8 1.4l-3.3 .7l-4.8 2.2l-.5 .3l-.5 1.4l-1.9 1.1l-.1 .4l.5 .3l4.5 1.5l.6 .3l.5 .7l-.8 .7l-5.8 1.8l-.3 .4l.5 1.4l-1.2 2.2l1.1 1.8l-1 1.4l.7 1.4l-.1 .4l-.8 .7l-6.3 3.2l2.3 3.2l-.1 .7l-1 1.5l2.7 1.7l1.8 2.9l2.7 2.1l.9 1.1l.2 1.1l-.8 2.5l-.1 1.8l-2.1 1.8l-.3 .7l1 .7l4 1.4l.8 .7l-1 1.5l-.1 2.1l2.7 2.2l0 2.8l2.1 2.2l.1 .3l-.7 1.4l-.1 1.1l-.6 1.8l2.6 2.5" stroke="#d23105" stroke-width="0.58"/>
<path d="M473.1 16.5l-.2 6.8l.4 2.5l-2.3 3.6l.2 .7l1.6 1.8l.2 .7l-.2 .7l-1.5 1.1l-7.1 2.8l-.6 .4l-.5 1.1l-2.6 .7l-12.7 1.4l-4.2 .7l-3.5 1.4l-8.4 1.5l-.1 .3l2.7 1.1l-1.2 .4l-8.1 1l-4.4 1.5l-9.5 1.4l0 .3l1.7 .8l.1 .3l-5.5 1.1l-1.4 .3l-.3 .4l3.1 1.8l.2 .7l-1 .7l-7.5 1.8l-3.4 1.4l-7.9 1.5l-.5 .3l2.2 1.1l-.3 .3l-4.2 1.1l-3.9 1.4l-8.2 1.5l-2.3 .7l-.7 .7l0 1.1l1.2 1l2.9 1.5l0 .3l-8.1 1.8l-2.2 1.1l-12.6 1.8l-3 1.1l-6.3 1.4l-1.6 1.4l-4.9 1.4l-.4 .4l.4 1.1l-.5 .7l-6.1 3.2l-.2 .4l.7 1l-1.6 1.5l.8 1.4l-3.9 1.8l-.7 .7l0 .3l1 1.5l-2.4 1.8l.3 1l-.8 1.5l.2 1.4l-2.3 2.8l-2.6 2.2l-.5 2.1l-1.5 2.2l0 .7l.6 1.4l-1.1 2.2l.1 2.5l-1.4 2.8l1 3.2l1.3 2.2l-.2 .7l-1.6 1.8l2.4 2.5l-1 1.4l0 .7l1.9 1.5l-2.5 1.7l.6 .8l2.2 1l.7 .7l-.5 1.8l1.2 1.8l.2 .7l-.7 2.2l1.5 2.5l-1.2 3.9l.8 .7l2.3 1.1l.8 .7l.1 .7l-1 1.5l-.1 .7l2.1 2.1l-.7 1.4l0 1.5l-1.5 1.8l-.1 .7l.9 .7l2.5 .7" stroke="#d02f05" stroke-width="0.58"/>
<path d="M466.1 16.5l.4 4.6l-.5 2.5l.3 2.9l-.4 2.5l.4 1.4l-.3 2.2l.1 2.1l-.7 1.5l0 1.4l-.5 2.1l-1.7 1.8l.7 1.4l-.2 .4l-4 2.5l-.6 .7l-.5 1.4l-.5 .4l-6.2 1.8l-.3 .3l.3 .4l2 1.4l-.8 .7l-3.5 1.1l-.4 .4l1.9 1l-.1 .4l-10.4 2.5l-9.8 1.4l-3.6 1.5l-10.8 1.4l1.1 .3l9.7 1.1l.9 .4l-9.3 1.8l-6.4 1.7l-.9 .8l.2 1.4l-.6 .7l-3.8 1.4l-1.8 1.1l-3.1 .7l-9.5 1.5l-2.3 .7l-5.5 2.5l-.2 .3l.2 .4l2.1 1.1l.4 .3l-.1 .4l-2 .7l-13.2 3.2l-2.4 1.4l-2.7 1.1l-.3 .4l.3 .7l-.5 .3l-14.7 1.8l-3.4 .7l-.4 .4l1.8 1.1l-.1 .3l-10.4 1.8l-.1 .4l.9 .7l.2 .3l-.3 .4l-2.4 1.1l-4.5 1.4l-1.2 .7l-.5 2.5l-3.1 1.8l.3 .3l2.2 1.1l.2 .4l-2.7 1.4l-.7 .7l.5 .7l1.6 1.1l.1 .4l-.5 1l1.4 1.5l-6.6 2.1l-4.2 2.2l-3 1l-.9 .7l1.8 1.8l-1.1 2.2l1.3 2.1l.1 .7l-.7 .7l-2.8 1.5l0 .3l2.2 1.8l-.2 .7l-1.6 2.2l0 3.9l.4 1.4l1.9 2.9l-.1 .7l-2.3 2.1l-.2 2.5l.6 2.2l.1 2.5l2.2 2.5l-.1 .4l-2 1.4l0 .3l1.2 1.1l.2 .7l-1.7 1.5l-.1 .3l1.8 2.2l-.5 2.5l.2 .7l.9 .7l1.9 .7" stroke="#cc2b04" stroke-width="0.58"/>
<path d="M453.4 16.5l.1 6.1l-.3 3.2l.5 4.3l-.4 2.5l-1 .7l-7.6 1.8l-1.6 1.4l-.3 .7l.2 .7l3 1.5l.9 .7l-.8 .7l-1.8 .7l-2 1.8l-3.5 2.1l-.1 .4l.3 .7l1.9 1.8l0 .7l-.4 .4l-2.8 1l-3.3 .8l-24.1 1.4l-4.1 .7l.4 .7l-.4 .4l-4.8 1l-.6 .4l2.7 1.4l-1.8 1.5l0 1.4l-2 1.4l-.7 1.1l-8 2.1l-1.4 .7l-.9 1.1l-1 .4l-8.5 1.4l-2.7 .7l-2.9 1.4l-5.8 2.2l-4 2.1l-8.7 1.8l-2 1.5l-4.1 1.4l-1.2 .7l-1.6 1.8l-.2 1.4l-3.6 1.4l-.6 .4l-.3 1.1l-.7 .3l-9.7 2.5l-.3 .4l1.2 1.1l.1 .3l-.3 .4l-5.4 2.5l-1.9 1.4l-.5 1.8l-1.5 1.8l-.2 1.8l-1.5 1.7l-.9 4.7l-3.7 1.8l-.1 .3l.4 .4l1.8 1.1l.4 .7l-1.8 2.1l-.7 2.2l-1.9 1.8l0 .3l1.9 1.4l0 .4l-2.1 1.4l-.4 .7l1.2 1.1l3.6 1.8l.2 .4l-.2 .3l-2.5 1.4l-.3 .8l2.2 2.1l.8 1.8l2.2 1.8l-.4 .7l-1.6 1.1l-.2 .3l.7 1.4l-1.5 1.5l-.3 .7l2 2.1l.6 2.5l3.3 1.8l.6 .7l-.7 1.5l-.5 3.2l1 2.8l.2 1.5l1.7 2.1l-.2 .7l-1.3 1.5l.4 .7l1.4 1l.4 .8l0 1.4l-.8 3.2" stroke="#ca2a04" stroke-width="0.58"/>
<path d="M450.5 16.5l-.2 1.1l.4 2.1l-.3 2.2l.1 2.1l-.2 3.6l.3 2.8l-1.4 1.5l-.6 1.7l-1.5 1.8l-.2 .8l.4 1l-.1 .7l-.7 .8l-2.6 1.4l2.4 1.4l-.2 .4l-.9 .3l-3.1 .7l-1.4 .8l-.2 2.1l-1.2 1.4l-.3 .7l1.3 1.8l-.2 1.1l-3.9 1.4l-.4 .4l3.3 1.8l-.8 .7l-3.7 1.4l0 .4l.6 .3l3.2 1.1l.3 .4l-.2 .3l-2.6 1.4l-3 .8l-13.8 1l-5.4 .7l-.3 .4l.2 .7l-.8 .4l-9.4 2.1l-10.1 1.8l-3.7 1.4l-9.5 2.2l-1.5 1.1l-1.2 2.1l-1.8 1.1l-.1 .3l.5 .4l2 1.1l.1 .3l-.4 .4l-2.3 .7l-10.8 1.4l-3.5 .7l-.5 .4l.3 .3l3.5 1.1l.7 .4l-.3 .3l-15.9 3.6l-.9 .4l-.6 1l-.7 .4l-8.6 2.1l-.5 .4l-.1 .3l1.2 1.1l-.5 .7l-7.2 2.2l-.4 .3l0 1.1l-2.7 1.4l-.3 .4l.3 .3l4.5 1.8l-.2 .4l-4.5 1.4l-.5 .4l-.2 1l-.6 .4l-4.5 1.8l0 2.1l-1.7 1.8l-.3 .7l.2 1.5l-1.2 1.4l.2 1.8l-.3 1.1l-4 5l.1 .7l1 1.4l-.5 2.9l1 3.9l-1.3 2.1l1.6 2.2l.1 .7l-1.3 2.1l.7 1.8l-1.3 2.2l.6 2.8l-1 1.8l.4 1.8l-.4 1.8l.9 3.6l1 1.7l-.1 2.9l1.3 2.1l.2 .8l-.3 .7l-2 2.5l0 .7l.6 .7" stroke="#c82803" stroke-width="0.58"/>
<path d="M464.7 16.5l.3 1.8l0 4.6l-.4 2.5l.5 2.5l-.7 2.5l.2 1.1l-.2 1.4l-.5 .7l-3 1.8l-1.6 .8l-5.7 1.4l-2.1 1.1l-2.4 .7l-12.7 2.8l-12.7 2.2l.4 .3l7.2 1.5l.9 1l2.9 1.1l.6 .4l-.1 .3l-2.3 .7l-8.9 1.5l-4.4 1.4l-14.8 1.8l.1 .3l2.8 1.1l-3.6 1.4l0 .4l1.9 1.4l-.1 .4l-.7 .3l-6.9 1.5l-3.2 1.4l-1.6 .3l-13.7 2.2l-5.6 1.8l-9.1 1.4l-.8 .4l-.3 .7l-.6 .3l-3.6 1.1l-.1 .4l3.1 1l.3 .4l-1.9 1.1l.2 .3l3.6 1.1l.6 .4l-.3 .3l-5.2 1.8l-12.8 1.8l-.8 .3l-.1 .8l-.4 .3l-6.1 1.4l-.6 .4l1.1 1.4l-.7 .7l-5.7 2.9l-4 1.1l-1.4 .7l1.7 1.4l-1.1 1.1l0 .3l1 1.1l-.2 .4l-2.4 1.4l0 1.1l-.7 1.4l-1.8 2.1l-3.4 2.2l-1.2 1.4l-1.8 1.1l-.7 .7l2 1.8l-.2 .3l-1.9 1.1l-.4 .4l.1 .3l1.7 1.1l.6 .7l-2.9 2.9l-.4 1.8l-.9 1.4l-.1 .7l.8 2.2l-1.1 2.8l.1 .4l2.1 1l.2 .4l-1.5 1.1l-.3 .3l.2 .4l3.1 1.8l-.1 .3l-1.4 1.5l-.1 1.4l-.8 1.1l0 .7l3.2 1.8l0 1.7l3 1.5l.8 .7l-.6 1.1l-2.2 2.1l1.2 1.8l-.8 1.4l.4 .7l1.9 1.5l.2 2.1l2.7 4.7l-.8 1.7l1.4 1.8l-.3 1.8l1.6 1.8l.3 1.4l.9 1.8l.5 1.8" stroke="#c52603" stroke-width="0.58"/>
<path d="M467.1 16.5l.1 6.8l-.3 1.8l.5 2.5l-.1 1.4l-.6 1.4l-1.6 1.5l-.7 1l-2.6 1.8l.7 1.5l-3.8 3.9l.6 1.4l-.4 .4l-2.3 .7l-9.3 1.8l-11.1 1.4l-7 1.4l-13.4 1.5l-.6 .3l2.6 1.1l0 .3l-1.8 1.1l-.2 .4l.8 .7l2.6 1.1l.1 .3l-2.9 .7l-11.3 1.8l-.9 .4l-.2 .3l.3 .7l-.5 .4l-8.1 1.4l-.7 .4l1.5 1.1l-.1 .3l-2.5 1.1l-1.5 1.8l-2.3 1l-5.4 1.5l-1.9 1l.3 .8l1.9 1l.6 .7l-2 1.8l.3 1.1l-2.5 .7l-21.6 2.2l-8.2 1l-3.2 .8l-.5 .3l0 .4l.5 .3l7.8 1.8l-.6 .4l-9.6 1.8l-1.2 .7l-.7 1l-.7 .4l-4.8 1.4l-.2 .4l1.2 1.4l-.8 1.8l0 1.4l-1.6 .7l-7.9 1.8l-2.3 1.5l-.9 1.4l-1.9 1.8l-1.5 4.3l-3.4 2.1l0 .4l1.4 2.1l.1 1.1l-.6 1.4l.4 1.8l-3.8 2.5l-.2 .7l.7 1.8l0 1.1l-2 3.2l1.1 3.2l-1.1 2.9l-.1 2.1l-.4 1.8l1.6 1.8l-1.3 2.1l1.1 1.8l-.1 2.1l1.1 2.5l-.5 .8l-1.8 1.4l-.6 1.1l.4 1.4l1.8 2.1l.2 .8l-1.7 2.8l1.6 1.8l.1 .7l-1.7 1.8l-.2 .7l2.3 2.2l-.5 .7l-2.3 1.4l.1 .7l1.7 2.5l-.3 1.1l-.8 .7" stroke="#c32503" stroke-width="0.58"/>
<path d="M471.4 16.5l.1 8.2l-.3 3.2l.3 1.5l-1.4 1l-.1 .4l1 1.1l-.1 1l-.7 1.1l-2.3 1.8l-1.1 1.4l-1.9 .7l-4.2 .8l-13.3 1.4l-1.2 .3l-.2 .4l.2 .7l-.7 .4l-6.9 1.4l-6.7 2.1l-.5 .4l.2 .4l1.8 .7l.2 .3l-.9 .4l-8.6 1.4l-2 .7l-.1 .4l.5 .7l-.2 .4l-9.5 1.7l-.5 .4l1.2 1.1l-1 1.4l1.4 1.1l0 .3l-.6 .4l-2.9 .7l-9.1 1.4l-4.1 1.5l-7.6 1.4l-2.4 .7l-1.9 1.1l-9 3.9l-.1 .7l1.3 1.4l.3 .8l-.7 1l-1.2 1.1l-6.1 1.8l-4 1.8l-15.9 3.6l-2.1 .7l-3.7 1.8l-6.2 1.4l-1.3 .7l1.3 1.1l-.4 .3l-4 1.1l-.3 .4l5.1 1.4l.2 .3l-8.5 2.2l-.3 .3l.7 1.1l-1.7 1.4l0 .4l1.7 1.4l0 .4l-1.1 .7l-3.1 1.1l-.4 .3l0 1.1l-3.4 1.8l1.2 1.1l.2 .3l-.3 .4l-3.9 1.8l-1.9 2.1l.2 .7l1.3 2.5l0 .7l-.7 .8l-3 1.4l-.7 .7l1.3 2.1l-.1 .8l-1.1 1.7l1.6 1.8l-.3 1.8l1.3 1.8l-2 1.4l-.5 .7l.4 .8l2.6 2.1l-.2 .7l-1.7 1.4l-.3 .8l2 3.9l-1.1 1.8l-.2 .7l2.9 2.8l-.4 .8l-1.8 1.4l-.3 .7l.3 .7l1.6 1.8l0 1.8l.7 1.8l-.3 1.8l.4 1.4l0 1.1l1.2 2.1l-1.7 2.2l.5 .7l3.5 1.8l.9 1l-.6 .7l-2.8 1.8l-.4 .7l.3 .4" stroke="#c12302" stroke-width="0.58"/>
<path d="M465.6 16.5l.3 2.5l-.1 11.1l-.5 .7l-1.5 1.1l-.3 1.4l-1.4 1.4l-.7 1.8l-1.2 1.8l-2.3 1.8l-.1 .3l.7 1.1l-1.7 1.8l.4 1.1l-.2 .3l-2.2 1.1l-8.1 2.1l-1 .8l-.5 1l-.6 .4l-5 1.4l2.3 1.1l.1 .3l-3.4 1.1l-.4 .4l2.4 1l-.2 .4l-7.8 1.4l-1 .4l-.8 1.4l-2.6 1.1l-4.1 .7l-19.9 2.1l-9.3 2.2l-.7 .3l-.3 1.1l-.7 .4l-9.4 1.8l-.8 .7l.4 1l-.1 1.5l.7 1.4l-.5 .7l-5.4 2.2l-2.7 .7l-14.5 1.8l-10.2 2.1l-2 1.1l-2.4 2.5l-.1 .7l.4 .7l-.4 .4l-8.4 1.4l-2.6 .7l-.4 .4l0 1l-.6 .8l-3.6 1.7l-1.4 1.1l-.4 .7l.7 .7l4.2 1.1l1 .4l.2 .3l-3.5 1.5l-.8 1l-5.7 1.8l-1.8 1.1l1.1 2.5l1.3 1.4l.1 .4l-.8 .7l-3 1.4l-1.6 1.1l-.5 1.1l-.1 1l1.8 2.2l0 .7l-.7 .7l-4.2 2.2l-.7 .7l-.4 1l.3 1.1l2.3 1.8l.3 .7l-2.6 2.2l.6 1.4l-1.4 1.8l.1 .7l1.2 1.8l.3 1l-.2 1.1l-1.3 2.2l.4 1.7l-.2 1.5l1.3 2.1l-1.1 2.2l2.5 3.2l0 1l-.7 2.2l1 1.8l-.1 2.5l2.2 2.5l-.2 .3l-1.9 1.5l-.1 .3l1.7 1.5l-.1 .3l-2.1 1.4l-.1 .4l1.9 2.1l.6 2.2l.5 .7" stroke="#be2102" stroke-width="0.58"/>
<path d="M475.6 16.5l.1 1.1l-.2 2.1l.4 2.2l-.3 5l.4 2.5l-1.8 2.1l-.1 1.8l-1.2 1.4l.2 1.5l-.4 .7l-4.9 2.5l-.1 .7l1 1.1l0 .3l-.3 .4l-2.3 .7l-2.4 .3l-14.8 1.5l.6 .3l4.6 .7l.9 .4l-13.9 1.4l-.9 .4l1.3 .7l.1 .4l-1.4 .3l-7.7 1.1l-6.5 1.4l-7.1 1.1l-1.1 .3l.1 .4l2.7 1.1l-.2 .3l-1.8 1.1l-.6 .7l-3.2 .7l-12.1 1.5l-3.1 .7l-2.1 1l-1.3 1.8l.5 .7l3.5 2.2l.1 .7l-1 .7l-21 4.7l-1.4 1l-2.4 .8l-12.3 1.7l-3.4 .8l-6.2 3.5l-.4 1.5l1.5 1.4l0 .3l-2.2 1.5l-.1 .7l-.4 .3l-8.7 1.8l-2.4 1.5l-5 1.4l0 1.1l-2.3 1.4l0 .3l1.6 1.1l-4.9 1.4l-.6 .4l-.3 1.1l-4.6 1.8l-1 .7l-1.1 1.4l-3.4 1.8l-.2 .3l.2 .8l2 1.4l.5 .7l-.2 2.5l-.9 2.1l-1.1 1.5l-.2 1.4l-1.6 1.4l.1 1.5l-2.1 1.8l.1 .3l2 1.4l0 .4l-1.5 1.4l.2 .4l2.1 1.4l-.5 .7l-1.7 1.1l-.2 .4l.3 1.4l-1.5 1.4l0 .4l1.9 1.8l-1.2 1.7l-.1 .8l.9 1.7l1.8 1.8l.1 .7l-2.8 2.2l-1.2 3.2l2.3 2.9l-.1 .7l-1.7 1.8l-.1 .7l.4 .7l1.8 1.4l.5 .7l-.4 1.5l.2 1.4l-1.8 1.8l-.2 .7l.7 1.4l-.3 1.8l1 2.2l0 1.7l1.4 2.2l.1 .7" stroke="#bc2002" stroke-width="0.58"/>
<path d="M474.7 16.5l0 3.2l.4 1.8l-.5 2.1l.2 1.8l-.2 2.2l.3 2.5l.1 3.5l-.5 2.2l0 2.9l-.9 1.7l-.5 1.8l-2.1 2.2l.6 1.8l-1.7 1.7l-.2 1.8l-.5 .7l-2.9 2.5l-1 1.5l-7.4 2.1l-1.3 .7l-.2 .4l.5 .7l3.7 1.8l.3 .7l0 .7l-.6 .7l-2.3 .7l-8.5 1.5l-10.1 2.1l-19.8 1.8l-.8 .4l2.6 1l.1 .4l-1.3 1.1l.3 .3l3.7 1.8l.1 .7l-.4 1.1l.7 .7l-.2 .4l-4.8 .7l-13.9 1.1l-6.8 1l-1.7 .7l-.6 .8l1.2 1.4l-.3 .3l-5.7 1.5l-.4 .3l.9 1.1l-.9 .7l-11.6 2.5l-3.2 1.1l-.8 1.1l.3 1.4l-.2 .7l-1.2 1.1l-1.4 .7l-5 1.1l-15.1 2.1l-13.2 3.9l-1.9 1.1l.1 .7l.5 .4l6.2 1.8l.7 .3l.1 .4l-1.4 .7l-6.7 2.1l-1.7 1.1l-.7 1.4l-4.6 1.5l-1.4 .7l.6 1.8l-1 2.5l-.7 .7l-3 1.4l.2 1.4l-3.7 2.2l-.7 .7l.6 2.1l-.7 1.8l-3.2 2.5l-.3 .7l.6 1.5l-2.3 2.1l.7 1.8l.3 2.5l-1 2.5l1.1 1.1l.2 .7l-1.6 1.4l-.2 .4l.7 1.4l-1.8 1.8l.1 .4l1.8 1.7l-.5 1.8l-.5 3.2l.9 1.5l.2 1.8l1.8 1.7l-3.1 2.2l.3 .7l1.5 1.4l-.1 .7l-.6 .4" stroke="#b91e02" stroke-width="0.58"/>
<path d="M473.2 16.5l-.1 1.1l.4 2.1l-.6 2.2l.5 3.2l-.5 4.6l-.4 .7l-2.2 1.5l-.6 1.4l-1.6 1.4l1.3 1.5l0 .7l-.9 .7l-2.9 1.4l-.9 1.1l-2.5 .7l-7.6 1.1l-.2 .3l.6 .7l-1 .4l-10.3 1.4l-5.6 1.5l-10.5 2.1l-.6 .4l.2 .3l2 1.1l.1 .3l-.4 .4l-8.4 2.5l-2.2 1.1l-.7 .7l.2 .3l1 .4l3.9 1.1l-.7 .3l-7 1.1l-1.1 .4l0 .7l-.5 .3l-1.8 .4l-13.2 1.8l-14.7 3.9l-1.3 .7l-.2 .4l.2 .3l4.3 1.8l.2 .4l-.7 .3l-6.9 1.5l-.6 .3l-.3 .7l-.4 .4l-1.2 .4l-13.1 2.1l-4 1.1l-.3 .3l.3 1.1l-.4 .4l-3.8 1.4l.2 .3l2.5 1.1l.9 .7l-.4 .7l-2 1.1l-.1 .4l.8 1l-.6 .4l-14.2 2.5l-1 .4l-1 1l-.9 .4l-5.5 1.4l-2.5 2.2l-3.7 1.7l-1.5 1.1l-1.2 1.4l.5 1.8l-.3 .4l-5 2.1l-.2 .4l1.8 1.4l-3.4 2.2l-.5 1.7l.8 1.5l-.9 1.4l.5 .7l2.2 1.5l.1 .7l-.9 2.1l.6 1.8l-.9 .7l-2.8 1.1l-1.1 .7l-.1 1.1l1.1 1.8l0 .7l-1.5 2.5l-.1 .7l.9 1.4l1.5 1.1l.5 .7l-1.8 2.1l.9 1.5l-.5 1.8l1.9 2.1l1.8 3.2l-.5 1.8l1.1 1.8l-.1 1.8l1.5 1.8l.2 1.4l1.7 1.4l.4 .7l-2.1 2.9l1.4 2.1l-.8 2.2l1.1 2.8l1.8 2.9l-.1 2.5" stroke="#b41b01" stroke-width="0.58"/>
<path d="M464.0 16.5l.2 3.6l-.2 8.9l-2.5 1.4l-1 1.5l-1.4 1l-.2 .4l.2 .3l1.2 1.1l-.1 .7l-3.2 2.2l-1.2 1.4l-2 .7l-7.9 1.8l-.5 .4l-.3 .7l-.7 .3l-11 1.8l-.6 1.1l-1.6 .4l-8.3 1l-6.1 1.8l-15.8 2.5l-.8 .4l-1.8 1.8l-.2 .3l.2 .4l2.1 .7l6.4 1.4l.8 .4l-.2 .3l-2.9 .7l-12.6 1.8l-5.5 1.1l-17 6.1l-5.9 1.4l-2.2 1.8l-5.6 1.8l-.5 .3l.4 .4l3.6 1.1l.1 .3l-3.2 1.1l0 .4l3.2 1l.1 .4l-2.7 .7l-8.4 1.4l-6 1.8l-7.9 1.4l-.2 .4l2.1 1.1l-.2 .3l-2.3 1.1l-1.5 1.4l-5.1 2.2l-1.8 1l-.5 1.5l-1 1l-.3 .8l.8 1.7l-.7 1.5l1.2 1.4l-1.5 1.4l.8 1.8l-.7 .7l-3.8 2.2l-1.3 1.4l.1 .7l2.3 2.2l.2 .7l-3 2.1l-.2 1.5l-1 1.7l-.4 1.5l-1.6 1.8l.1 .7l1.6 1.8l.5 1l-1.2 1.8l-.1 2.2l-1.3 2.1l2.7 1.8l.2 .7l-.1 1.8l2.3 2.8l-.1 .8l-2.2 1.4l-.4 .3l.1 .4l3.8 2.1l.3 .8l-.3 1.4l.2 .7l.7 1.1l2.1 2.1l-.2 .7l-1.5 1.5l.2 .7l1 1.1l-.5 1.4l1.1 1.8l-1.5 1.8l.9 .7l3.9 1.4l.7 .7l-.1 .4l-2.1 1.8l.1 .3l1.8 1.4l0 .4l-2.4 1.4l-.2 .4l1 .7l4 1.4l.4 .4l-.1 .3l-.8 .4" stroke="#b21a01" stroke-width="0.58"/>
<path d="M460.5 16.5l-.3 5l.5 2.9l-.4 2.5l.3 2.1l-.6 3.6l-.5 .7l-4.5 3.2l-5 1.8l-7.4 1.8l-.6 .3l1.5 1.1l.1 .4l-1.3 1l.2 .4l3.9 1.4l.6 .7l-.5 1.1l-1.4 1.4l-3.1 1.1l-22.9 5l-.7 .4l.3 .3l1.9 1.1l-1.5 .7l-12.6 2.2l-5.1 1.4l-4.7 3.2l-.1 .4l.4 .3l4.4 1.1l.6 .3l-.7 .4l-5.5 1.1l-4 1.4l-3.2 .7l-17.5 2.5l-7.7 1.8l-.6 .4l-.2 .3l.3 1.1l-.6 .4l-5.8 1.7l-.1 .4l.4 .4l2.7 1l.2 .4l-6.4 1.8l-.4 .3l.5 1.5l-.9 .7l-15.5 3.5l-2 .8l-.3 .3l-.2 1.1l-1.2 1.8l1.7 1.4l.2 .4l-.3 .3l-5.2 1.4l-1.9 1.5l-3.1 1l-.2 .4l1.1 1.1l-.2 .3l-2.3 1.1l-.2 .4l1.7 1.4l.1 .3l-.7 .8l-3 1.4l-.8 1.1l-.9 2.8l.1 .7l1.1 1.5l-.5 2.1l-.3 .7l-2.6 2.2l0 .7l.8 1.8l-1.6 2.8l-.9 3.2l.5 .8l3.2 1.7l.1 .4l-.6 1.1l0 .3l1.6 1.5l-.5 1.4l.6 1.4l-1.2 1.8l3.3 2.1l-2.6 1.5l-.5 .3l.1 .4l2.1 1.4l.6 1.8l3.8 2.9l.1 .7l-.5 1.4l1.4 1.8l-1.2 2.5l-.4 1.8l.6 .7l4 1.8l.2 .3l-.9 1.5l.2 1l.6 .8l2.5 1.7l.6 1.5l0 1l-1 1.8l.4 1.1" stroke="#af1801" stroke-width="0.58"/>
<path d="M463.8 16.5l.2 3.2l-.5 2.2l.5 2.1l-.2 2.9l.2 2.1l-.3 4.6l-.8 .8l-3.1 1.4l-.3 .4l0 1.4l-2.5 1.8l.3 1.4l.9 1.8l-.3 .7l-3.4 2.5l-6.5 2.1l-.2 .4l.3 .4l1.6 1l-.1 .4l-2.1 1.1l-.1 .3l2 1.1l.1 .3l-2.4 .8l-16.8 2.8l-17.3 2.2l-2.8 .7l-2.8 1.4l-1.3 .4l-7.9 1.4l.1 .3l3.9 1.1l-.4 .4l-5.3 1l-1.5 .8l.3 1.4l1.8 1.4l-.1 .4l-9.2 2.1l-.8 1.1l-2.5 1.4l-1 1.5l-1 .7l-6.2 1.8l-.4 .3l.4 1.1l-1.1 .7l-11.4 3.2l-8 1.4l-2.4 .8l-3 1.7l0 .4l.7 .4l5.7 1l.6 .4l-13.3 3.2l-8.8 3.2l-1.4 .7l-2.8 2.2l-.5 1.8l-.4 .3l-5.6 2.9l-.6 1l0 1.8l-2.3 2.2l.2 1.4l-.2 .4l-2.1 1.8l.9 2.8l1.1 1.4l.2 .8l-4.2 2.1l-1.7 1.4l.1 .4l1.6 1.1l.5 .7l-.8 2.5l.1 2.1l.3 .7l-.5 1.1l.1 .4l2.7 1.7l.4 .8l.1 2.8l-1.1 1.4l0 .8l.8 .7l3.9 1.8l0 .3l-2.2 1.4l.1 .4l3.8 1.8l.1 .3l-.8 1.5l.4 1.4l-1.4 1.1l-.4 .7l2.7 1.8l.1 .3l-1.9 1.8l.8 2.5l4.4 3.6l-.2 .7l-2.3 1.8l.2 .7l2.6 2.9l0 .7l-.5 .7" stroke="#ac1701" stroke-width="0.58"/>
<path d="M462.6 16.5l.1 5l.3 2.1l-.4 5l.2 3.6l-.1 .4l-2.4 1l-2.8 2.6l-1.4 3.5l-2.3 1.1l-4.8 1.1l-4.6 1.4l-7 1.4l-2.1 .7l.1 .4l1 .4l5.9 1.4l1.2 .7l-.2 .4l-5.7 1.4l-4.2 1.4l-9.7 1.4l-.3 .4l2.4 1.1l.4 .3l-.1 .4l-2.3 1.4l-2.5 .7l-4.7 .7l-21.1 2.2l-.9 .3l-.2 .4l.1 .7l-.3 .7l.3 .4l5.5 1.4l.5 .4l-.4 .3l-8.5 1.8l-17 2.2l-3.7 .7l-.4 .3l.5 .4l2.4 .7l1.2 .7l-1.5 1.8l-3.3 .7l-9.4 1.1l-1.6 .4l-.3 1l-1.3 .4l-7.1 1.1l-2.8 .7l-1.1 1l.2 1.1l6.3 2.9l.3 .7l-4.2 2.1l-15.8 5.7l-.7 .8l.1 1l-.4 .7l-2.8 1.5l0 .3l1.3 1.1l-.3 .4l-4.9 1.4l-1.1 .7l.5 1.4l-3.1 1.8l-.1 .4l1.2 1l-.1 .8l-3.5 2.1l.1 2.5l1.2 1.8l-.2 1.8l-1.2 1.8l-.2 1.8l-2.1 1.4l-.6 .7l.5 2.1l-1.3 5l.1 .8l1 1.4l.2 .7l-.9 1.8l.3 1.8l-.4 1.8l1.3 1.7l.2 2.2l.8 2.8l.9 1.8l-1.1 1.8l0 .7l1.7 2.9l1.6 1.1l.5 .7l-2.5 1.8l0 .3l.9 1.5l-1.5 1.4l.1 .3l2.8 1.8l-1 2.2l1.8 2.1l1.1 2.9l1 1.4" stroke="#a91601" stroke-width="0.58"/>
<path d="M468.7 16.5l.1 1.1l-.3 2.5l.3 2.1l-.2 4.7l.3 3.2l-.4 1.8l-1.3 1.4l-.2 1.4l-1.8 1.5l-.8 1.4l-3 1.4l-3.7 2.5l1.5 1.4l-.2 .4l-3.2 1.1l-2.1 1l-1.5 .4l-15.3 1.4l-2.5 .4l-4 1.1l-10 1.4l-.6 .3l1.7 1.1l.2 .4l-.3 1l.8 1.1l-.3 .4l-8.4 2.1l-1.7 .7l-1.3 1.1l-5.6 1.4l-.3 .4l.8 .7l-.4 .4l-13.6 1.7l-3.6 .8l-.8 .3l0 .4l1.3 1l-2.6 1.5l-.1 .3l1.9 1.8l.3 1.8l-.6 .7l-6.4 2.2l-10 1.8l-6.5 2.1l-10 1.8l-.3 .3l1.5 1.1l-6.5 1.8l-.3 .4l.1 .3l1.2 1.1l-.6 .3l-8.5 1.5l-.9 .3l1.9 1.1l-.2 .4l-4.9 1l-2 .7l-1 1.1l-2 1.1l0 .3l1.3 1.1l-.1 .4l-1.8 1l.1 1.5l-5.1 1.8l-3.8 2.1l-.4 .7l.4 1.1l-1.5 1.4l2.5 1.4l.7 .8l-.7 .7l-3.7 2.1l-1.2 1.4l.4 .8l2.3 1.4l.4 .7l-.7 .7l-3.6 2.2l-.5 .7l-.1 1.4l-1.3 2.2l.9 2.5l.2 2.1l1.1 2.1l-.6 1.8l-1.9 2.9l.9 1.8l-.4 1.8l1.6 2.1l-2.2 3.2l-.4 1.4l1.9 2.2l.4 1.1l-.4 1l-2.1 2.9l1 3.6l-1.5 4.6l3 2.2l0 .3l-1.5 1.4l.1 .4l2.1 1.8l-.4 .7l-2.1 1.8l.3 .7" stroke="#a71401" stroke-width="0.58"/>
<path d="M476.6 16.5l.3 5.4l-.1 3.2l-.6 3.2l.2 4.3l-1 1.4l-4.9 2.2l0 .3l.7 1.1l-1.8 2.1l.8 1.5l-.2 .3l-2.4 .7l-2.7 .4l-12.7 1.1l-12.2 2.1l-1.1 .4l-.7 .7l2.5 2.1l-1.2 1.8l-1.4 .7l-12.1 2.2l-1.8 .7l-.6 1l-6.5 1.5l-2.7 1.4l-17 2.1l-5.1 1.1l-.4 .4l.6 .7l6.2 2.5l.4 .7l-.4 .4l-2.2 .7l-7.2 1.4l-.9 .4l-1.4 1l-4.9 1.5l-.3 .3l.1 .7l-1.3 .8l-11.5 2.5l-.8 .7l.9 1l.1 .4l-.5 .4l-6.1 1.4l-.8 .3l-.5 1.1l-1 .4l-20.1 3.5l-.7 .4l-.2 1.1l-.4 .3l-5.2 2.2l-.3 .3l.5 1.1l-.3 .4l-4.7 1.4l-1.2 .7l.3 .7l2.8 1.8l-.1 5l-3.4 2.1l-.4 1.8l-3.7 1.5l-1.1 .7l.2 1l-2 1.8l.5 1.1l-.1 .4l-2.4 1.8l-1.1 3.2l-2.1 1.4l-.6 .7l1.6 1.8l.5 4.3l2.5 2.1l-.4 .7l-2 1.1l-.3 .4l0 .3l1.9 1.5l1.4 2.1l2.9 2.1l0 .8l-1 1.7l-1.2 1.5l-.1 .7l2.6 2.5l-.2 1.8l.2 .7l1 1.4l1.7 1.4l0 .8l-1.2 1l-.3 .8l2 2.5l-.4 2.1l.2 1.1l.7 1l2.3 2.2l.4 3.9l1.4 2.5l-.3 1.8" stroke="#a41301" stroke-width="0.58"/>
<path d="M469.9 16.5l.2 5l-.3 1.8l.6 2.1l-.4 2.2l0 6.8l-.5 .7l-2.9 1.8l.1 .7l1.3 1.4l-.1 .7l-.7 1.1l-1.7 1.1l-2.8 .7l-16.8 2.1l-1.6 .4l-.4 .3l1.1 .4l10.9 1.4l0 .4l-2.1 .7l-.1 .4l4.9 1l.1 .4l-2 .3l-17.8 1.5l-15.8 3.2l-.8 .3l.2 .4l8.2 1.8l.8 .3l-.1 .4l-3.2 .7l-24.7 3.6l-3.9 1.1l-.3 .3l1.1 1.1l-.2 .3l-7.4 1.8l-.3 .4l.3 1.1l-.5 .7l-4.6 2.5l-.4 1.1l.6 2.1l1.6 1.4l0 .4l-.6 .3l-6.8 1.5l-26.6 3.9l-5.6 1.1l-3.5 1.4l-3.8 1.1l-.6 .3l.3 1.1l-.4 .4l-3.5 1l-.1 .4l.7 .3l2.9 .8l1.5 .7l-1.3 2.1l-1 .7l-2.2 .7l-10.9 2.2l-2.6 1.1l.1 .7l2.4 1.8l.7 1l-.6 .7l-2.3 1.5l-1.5 1.4l-3.3 1.8l-.1 .3l.9 1.5l-1.6 1.8l1.5 2.5l-.5 2.1l-2 2.2l-1 1.7l-2.8 1.8l-.4 .7l.3 .8l1.8 1.7l-.2 .8l-1.5 1.4l1.6 1.8l-.8 1.8l.9 1.7l-1.2 2.5l.3 2.2l-1.9 2.1l1.9 1.8l-.4 1.8l.8 2.1l-.2 .8l-1.5 1.7l-.2 .8l1.3 2.5l-.4 2.5l.8 1.8l-.9 1.7l.2 1.5l-1.6 1.8l.3 .7l1.9 1.4l.3 1.1l-1.8 2.5l-.3 1.4" stroke="#a11201" stroke-width="0.58"/>
<path d="M466.3 16.5l-.2 1.1l.4 2.5l-.2 2.5l.3 4.6l-.2 3.6l-.6 1.1l-.2 1l-.9 .7l-2.7 1.1l-2.2 1.5l-5.5 1.4l2.9 1.1l-.1 .3l-6.6 1.4l3.7 1.1l.1 .4l-6.8 1.4l-1.4 .7l-.3 .7l-.8 .7l-2.4 .8l-19 2.8l-5.1 1.1l-1.6 .7l-.3 .4l-.2 1l-1.5 .7l-19.8 2.9l-.7 .4l-.1 .3l1.3 .7l4.3 1.5l1.4 2.1l-.1 .4l-3.5 1l-16.6 2.2l-9 3.2l-.9 .7l.4 .7l1.8 1.4l3.3 1.5l.6 .3l-.1 .4l-4 1.1l-15.4 2.1l-4.7 1.1l-.6 .3l.2 .4l2.7 1.4l0 .4l-.4 .3l-21.1 6.1l-.8 .7l1.2 1.5l-1.4 1.4l.7 1.1l-.1 .3l-2.7 1.4l-.4 1.1l-2.6 1.4l-1.7 1.5l-3.1 1l-1.3 .8l0 .3l2.7 1.4l.2 .4l-2.8 1.8l-.1 .7l1.4 1.8l.2 .7l-3.9 2.1l.1 .8l.8 1.4l-.1 .7l-.5 .7l-2.9 2.2l-.2 .7l.3 1.8l-2.2 1.8l.3 .7l2 1.4l.4 .7l-.6 1.4l-1.6 2.5l.1 .8l1.6 2.1l.1 1.1l-2 3.2l.8 1.8l0 .7l-1.8 2.5l.4 .7l1.7 1.4l-.1 .7l-1.6 1.8l-.1 .7l2.6 2.5l-.1 2.2l1.1 2.5l-.5 2.1l.9 1.8l.7 2.5l-.1 .7l-1.5 1.8l-.1 .7l.8 1.5l3 2.5l0 .7l-1.3 2.1l.6 1.1" stroke="#9e1001" stroke-width="0.58"/>
<path d="M460.9 16.5l-.4 3.2l.4 3.2l-.4 2.2l.4 2.1l-.5 3.9l-.7 1.1l-4.4 2.5l-2.7 2.5l-.3 .7l.2 1.8l1.9 1.8l0 .4l-2.8 2.1l-1.5 1.8l-8.5 2.5l-.3 .4l1.4 1l-.4 .4l-9 1.4l-.1 .4l2.2 .7l.3 .3l-5.2 1.5l0 .3l1 .7l-.3 .4l-5.9 1.4l-.9 1.1l-.9 .4l-7.4 1.4l-7 1.8l-8.7 1.4l-2.9 .7l.1 .4l3.7 1.4l-.2 .4l-3.4 1.7l-.7 1.5l-.8 .7l-5.2 1.1l-14.6 1.8l-1.8 .7l-.1 .7l.8 1.1l.1 .7l-2 1l-6.8 1.5l-13.2 1.8l-3.6 .7l-.5 .3l.2 .4l1.1 .3l7.2 1.5l-.6 .3l-4 1.1l-.1 .4l.5 .7l-.5 .3l-6.6 1.5l-7.2 2.5l-1 .7l.4 1l-.4 .4l-2.8 1.4l-2.2 2.2l-6.6 2.1l-.1 .4l.5 .3l2.9 1.1l-.1 .4l-6.2 1.7l-.8 1.5l-2.8 2.5l0 .7l1.5 1.1l.4 .7l-3.4 1.8l-.1 .3l.7 1.5l-1.1 1.4l-.2 1.1l.9 2.5l-.5 .7l-2.5 1.4l-.1 .4l.9 1.4l-1.1 1.4l.7 2.5l-1 2.2l2.3 1.7l.5 .8l.1 1l-1 1.5l-.1 .7l.8 1.8l.5 2.1l1.7 2.5l-.5 1.8l.4 2.1l-1.3 1.5l-.3 .7l4.6 4.3l.3 .7l-.9 1.4l.1 .4l2.5 1.8l-.4 1.7l-.8 1.5l.6 .7l1.6 1.1l.1 .3l-1.1 1.4l.2 .4l2.3 1.4l.7 .7l.1 .8l-.6 2.1" stroke="#980e01" stroke-width="0.58"/>
<path d="M467.5 16.5l-.2 3.2l.3 6.4l-.4 2.9l.3 2.5l-.9 1.1l-1.2 .7l-8.6 1.8l-3.4 1.1l-5.7 1l-1.6 .7l.3 1.1l-1 1.1l7.6 2.1l.1 .4l-.2 .3l-1.1 .8l-2.8 1l-3.2 .7l-23.1 2.2l-4.9 1.4l-10.6 2.2l-1.3 .7l.8 1.8l-.4 1l-3.8 2.2l-1.5 1.4l-1.4 .7l-9.2 2.2l-.5 .3l-.2 1.1l-6.1 2.5l-14.4 1.8l-.8 .3l1 .7l.1 .4l-6.5 1.4l.2 .4l1.5 .3l11.1 1.5l1.5 .3l0 .4l-12.9 1.8l-6.3 1.8l-7 2.8l-.2 .4l.6 .3l2.9 1.1l-.6 .4l-9.4 1.8l-5.8 1.4l-6.4 2.5l-1.7 1.1l0 .7l1.1 .7l6.5 2.1l.7 .4l.1 .3l-6.4 2.2l-7.8 1.8l-1.9 1l-.9 2.9l.5 1.8l-3.1 2.5l-.8 1.4l0 2.5l1.5 3.2l-.6 .8l-2.8 1.4l0 .7l1.3 1.8l.1 .7l-.5 .7l-2.8 1.8l-.5 1.1l2.1 2.1l-.3 .7l-1.2 1.1l-.1 .7l1.2 2.5l1.2 1.8l-2.4 1.8l-.1 .3l1.9 1.8l-.2 .7l-1.2 1.5l-.1 1l1.3 2.2l-.1 2.5l3.2 2.5l-1.8 2.5l1.1 2.1l-.7 .8l-2 1l-.2 .4l3.5 1.8l.2 .3l-.6 1.5l.8 1.7l-.8 1.5l2.1 2.1l-1.5 1.8l-.9 2.1l-.1 .8l1.1 1l2.5 1.1" stroke="#950d01" stroke-width="0.58"/>
<path d="M459.8 16.5l-.2 1.8l.2 4.6l-.3 3.6l.3 2.1l-.1 1.5l-.4 .7l-1.7 1.1l1.8 1l.2 .4l-.3 .3l-3.1 1.1l-.4 .4l.1 1.1l-1.9 1.4l.4 1.1l-.2 .3l-4.5 1.8l-2.1 1.8l-2.3 .7l-12.7 2.1l-2.1 1.5l-1.6 .3l-10.1 1.1l-4.1 .7l-.4 .4l-.1 .7l-.6 .3l-7.6 2.2l.1 .3l1.1 .4l5.2 1.1l.6 .3l-.8 1.1l0 .7l.4 .4l4.2 1l.5 .4l-12.4 1.8l-9 2.1l-15.8 2.2l-.6 .3l.1 .4l1 1.4l4 1.4l.5 .4l-.3 .4l-10.7 2.5l-14.7 1.8l-3.2 .7l-.3 .3l.4 .4l3 1.1l1 .7l.5 1l-.6 .8l-14.3 3.9l-12 2.1l-3.1 1.1l-2 1.4l-.2 .7l.2 .4l2.5 1.4l.2 .4l-.9 1.1l.2 .3l1.9 1.1l-.2 .3l-.9 .4l-3.3 1.1l-6.8 3.9l-.6 1.4l0 .7l2.8 1.8l-.2 .4l-3.2 1.4l.1 .4l1.6 1l-.1 .4l-1.5 2.1l-2.5 1.8l.1 2.2l-.7 1.4l-1.7 2.2l-.8 1.7l-.1 1.1l.3 1.8l2.7 2.9l.3 1.7l1.2 1.5l-.6 1.4l.2 .4l2.3 1.7l.1 2.2l1.3 1.8l-1.2 1.8l.3 1l-.2 1.8l2.1 2.9l-.1 1.8l.3 .7l3.7 5.3l-.1 .8l-1.5 1.7l-.1 .8l.5 .7l1.8 1.4l-.2 1.8l1.6 1.8l-.4 .7l-1.8 1.1l-.3 .7l1.1 1l3 2.2l1 2.1l2 1.1" stroke="#920b01" stroke-width="0.58"/>
<path d="M467.6 16.5l-.4 1.1l.6 2.5l-.4 10.3l-.4 1.5l-1.2 1l-.4 .7l1.1 1.8l.2 1.5l-.8 .7l-3 1.1l-1.1 .7l-.3 1l-1.5 1.5l.9 2.1l-.2 .7l-.6 .7l-2.2 .8l-8.7 1.4l-2.6 1.1l-9.3 1.4l0 .3l1.5 .8l-1 .3l-16.5 1.4l-1.2 .4l.7 .7l-.3 .4l-7.1 1.4l-.4 .4l.1 .7l-1.4 1l0 .4l6.9 1.4l.5 .4l-5.9 1.4l-4.2 1.4l-13.4 2.2l-4.8 1.1l-1 .7l1.9 1l.4 .4l-.3 .4l-6.1 2.1l-3.5 1.8l-4.7 1.1l-.7 .3l.4 1.1l-.6 .4l-22 4.2l-1.1 .8l-.9 1.4l-1.1 .7l-6 2.1l-.2 .4l.6 1.1l-.6 .3l-5.6 1.5l-1.5 .7l-.2 .7l2.2 1.8l.9 1.8l-.2 .3l-9.8 2.9l-6.4 3.2l-.5 1.1l.5 2.5l-.9 2.1l.5 1.4l0 1.8l-2.3 1.8l0 .4l1.3 1.4l-2.5 1.8l-1.1 1.8l-1.7 1.4l-.1 .7l.4 1.1l-.2 .3l-3 1.8l-.3 .7l.9 1.1l2.6 1.8l-.1 1.4l1.1 1.5l-.2 .7l-2.3 1.4l0 .4l2.4 1.4l.1 .3l-1.6 1.5l2.1 1.8l-1.3 1.7l.8 .8l2.9 1.4l.8 1.1l.6 1.7l-.7 2.2l1.6 1.8l.3 .7l-1.1 2.5l1.7 1.8l.2 1.8l1.2 1.8l-.7 2.1l2.4 2.1l.1 .8l-.7 1.7l1.5 1.8l-.6 2.2l.1 .7l.6 .7" stroke="#8e0a01" stroke-width="0.58"/>
<path d="M451.9 16.5l.2 2.9l-.3 2.5l0 4.6l.4 2.1l-.3 2.2l.2 4.6l-.4 4.3l-1.2 4.7l-3.1 2.8l-2.9 1.5l.1 .3l1.8 1.1l.6 .7l.1 2.5l-.3 .7l-4.1 1.8l-2 1.8l-.1 .7l1.7 1.4l.4 .7l-.4 .8l-2.2 1.4l-.5 .7l2.6 1.8l0 .3l-.4 .4l-2.2 1.4l1.2 2.2l-.5 .3l-3.4 .4l-13.8 .7l-7.7 .7l-2.8 1.1l-4.6 1.1l-.5 .3l.5 .4l2.9 .7l9.4 1.4l.4 .4l-1 .3l-3.3 .8l-2.5 1l-1.9 .4l-12.2 1.4l-7.1 1.8l-16.4 2.1l-2.7 .8l.1 .3l.6 .4l3.4 1.4l-.3 .4l-3.6 1l.1 .4l6.4 1.4l.2 .4l-1.6 1l1.1 1.1l-.3 .4l-14.5 3.5l-.7 .4l-.2 1.4l-3.7 1.5l-13.4 2.8l-8.2 2.5l-2.9 2.5l.1 .4l1.9 1l.1 .4l-6 2.2l-1.3 2.1l.4 1.1l-.2 .7l-7.1 3.6l-.5 1.4l-.8 1.1l0 .7l2.2 2.5l-2.5 2.1l0 1.8l-.4 1.1l-2.1 1.4l.5 2.5l-1.6 2.1l1.7 1.8l.2 1.5l3.2 1.7l0 .4l-1.1 1.4l3.4 1.8l.1 .4l-.3 .3l-2 1.5l.2 .7l2.2 1.8l.4 .7l-.3 .7l-1.3 1.4l-.2 1.1l3.6 4.6l1.6 3.6l-.3 1.8l.3 .7l2.5 1.8" stroke="#8b0902" stroke-width="0.58"/>
<path d="M462.5 16.5l.4 1.1l-.3 2.8l.4 2.9l-.5 2.1l.1 1.5l-.7 1l.2 1.5l-.4 1l1.1 2.2l-.6 2.1l-1.4 1.8l-.9 2.2l-2.1 1.7l-.9 1.8l-.7 .7l-2.9 1.5l-1.5 1.4l-4.2 1.4l-.2 .4l1.1 1.1l-.3 .3l-4.5 1.4l-4.1 2.2l-.3 .3l.1 .4l1.2 1.1l.2 .7l-.8 1.1l-4.8 1l-12 1.5l-8 1.4l-15 1.8l-3.5 .7l.1 .3l2 .8l.3 .3l-7.7 1.8l-1.6 1.4l-5.4 2.5l-1.3 1.5l-2.1 1l-.3 .4l.1 .7l-.2 .4l-5.4 1.4l-.6 .4l.4 .7l-.2 .3l-9.4 1.8l0 .4l.8 .3l4.6 1.1l.7 .4l-.3 .3l-10.3 1.4l-.6 .4l2.6 1.1l-.4 .3l-5.9 1.5l-4.9 1.7l-6.4 1.8l-.3 .4l1.2 1.1l0 .3l-4.6 2.5l-1.1 1.4l-3.2 1.5l-1.4 1.4l-3.2 1.4l-1.1 1.5l-3.9 2.8l-3.6 1.8l0 .7l1.2 1.1l0 .3l-1.4 1.5l-.2 1.4l-.2 .4l-4.8 2.1l-.9 3.2l1.1 2.5l-1.9 2.2l.8 1.8l-3.1 2.1l2 1.4l.5 .7l-1.2 1.8l-.5 4l1.4 2.5l-.2 1.4l.3 2.1l-.8 1.8l2.5 2.5l-.1 1.1l-1.3 2.5l-.1 1.1l.6 1l1.8 2.2l-1 1.8l0 1l.7 1.5l1.9 2.5l.5 2.5l-.8 2.5l.3 .7l2 2.1l-.3 1.1" stroke="#880802" stroke-width="0.58"/>
<path d="M475.2 16.5l-.2 1.1l.5 2.8l-.3 4.3l.2 6.1l-.7 3.2l.5 2.2l-.4 1.4l.3 1.4l-.7 1.1l-3.6 2.8l-2.2 3.3l-.2 .7l.2 .3l1.6 1.5l-2.3 2.1l.2 .7l.9 1.1l-.1 .3l-3 1.5l-.3 .3l.7 1.1l-.6 .7l-7.6 2.2l-11 2.1l-4.6 1.8l-16.7 1.8l-4.4 .7l0 .3l1.5 .4l11.3 1.4l1.9 .7l-.5 .4l-8.5 1.4l-.6 .4l.1 .7l-1 .4l-11.7 1.4l-5.8 1.1l-1 .7l.6 1.1l-.6 .7l-7.7 1.8l-1.9 1.4l-5.3 1.4l-.8 .4l-1.3 1.4l-2.9 2.1l-6.3 1.8l.1 1.1l-.8 .4l-17.1 2.5l-.1 .3l6.4 1.8l.7 .7l-.2 .7l-2.7 .7l-13.2 1.5l-3.3 .7l-6 2.8l-2.1 1.8l-5.1 1.5l-.5 .3l2 1.1l.1 .3l-2.3 1.1l.2 .4l1.5 .7l-.1 .3l-9.1 1.8l-.2 .4l1.9 1.4l0 1.8l-1.2 .7l-5.8 1.8l-2 1.1l-.4 1.1l1.2 1.7l-1.4 1.8l1.1 1.8l-.7 .7l-3.7 2.2l-.1 1.4l-1.1 1.4l.4 1.5l-1.9 1.7l1.3 1.8l-1.8 1.8l.1 1.4l-.6 1.5l1.9 2.1l-1.3 2.2l1.3 1.7l.3 1.1l-.3 2.9l.4 2.1l-.9 1.8l.3 .7l1.8 1.5l.2 .7l-.3 .7l-2 2.1l.7 1.1l3.1 2.1l.1 .8l-.8 1.7l1.2 2.9" stroke="#850702" stroke-width="0.58"/>
<path d="M475.7 16.5l.2 1.1l-.4 2.8l.3 4.7l-.3 5l.2 2.8l-.3 .7l-.7 .8l-3.9 1.8l-.9 .7l-1.4 3.2l-.1 .7l.6 1.4l-.6 .7l-7.4 1.8l.1 .7l-.5 .4l-14.7 1.8l-.7 .3l2.3 1.5l.2 .3l-.3 .4l-4.4 1.4l-1.3 .7l.2 .4l3.8 1.1l.3 .3l-5.4 .7l-13.2 1.1l-1.8 .4l-1.8 1l-3.8 1.1l.2 .4l2.2 .7l-.1 .3l-16.1 1.8l-.8 .4l.8 1l-.3 .8l-3.5 1.4l-.3 .3l3.4 1.8l.1 .7l-1.1 .8l-2.7 .7l-19.6 2.8l-7.3 1.5l-.4 .3l.1 .4l1.9 1.1l1 1.4l-.1 .7l-1 .7l-5.6 2.2l-3.7 1.7l-8.2 1.5l-9.6 2.5l-.4 .3l1.8 1.1l0 .4l-6.3 1.7l-9.8 4.3l-.3 .7l2.6 1.5l-.1 .3l-2.4 1.1l-.3 .4l.2 .3l3.1 1.4l.4 .4l0 .4l-6 2.1l-.7 .7l.8 1.1l-.2 .3l-5.3 1.8l-1.3 .7l-.7 1.8l-2.4 2.5l-1.2 2.2l-3.6 2.1l-1 1.1l.1 .7l.6 1.4l-1.2 1.5l0 .3l2.1 1.5l.5 .7l-2.3 2.1l-.5 2.2l-1.1 1.7l.2 .8l2.3 1.4l.4 .7l-1.9 2.1l-.8 1.5l.2 1l1.7 1.5l.3 .7l-1.5 2.5l.6 3.6l-1.5 2.1l2.6 2.2l-1.1 2.8l-1.8 1.4l-.4 .8l2.3 1.7l-1.2 1.8l1.2 2.2l0 .7l-2 2.1l.3 .7l1.6 1.5l.4 .7l-.4 .7" stroke="#810602" stroke-width="0.58"/>
<path d="M453.8 16.5l.3 2.1l-.7 6.1l.4 3.6l-.1 8.6l-.6 2.1l-2.4 2.5l.5 1.4l-1.6 1.5l.2 .3l2.3 1.1l.4 .4l-.1 .3l-1.8 1.4l-1.6 2.2l-2.6 1.8l-1.4 1.4l-.3 1.1l.2 6l-4.6 5.8l-2 .7l-11.2 1.8l-1.2 .7l.4 .7l1.5 .7l8 1.4l1.1 .4l.2 .4l-3.1 .7l-22.3 1.8l-5.5 1l-2.4 1.1l-1.3 1.1l-.8 1.4l.1 1.4l-.4 .4l-3.4 .7l-11.4 1.4l-2.9 .7l-3.6 1.5l-.3 .3l.1 .4l1.7 1.4l-.4 .7l-4 2.9l-5.7 1.4l-.3 .4l1.4 1l-3.9 1.5l.1 .3l1.4 .7l0 .4l-6.4 1.4l.2 .4l1.8 .7l-.3 .4l-13.1 1.7l-3.3 1.5l-5.5 1.8l-13 3.2l-5.2 2.1l-.9 .7l.6 1.5l-.4 1.4l.3 .7l4.2 1.8l.5 .4l0 .3l-5 1.8l-.9 .7l-.1 .7l.8 2.2l-.4 1.8l-.8 1l-2.7 1.8l0 .4l1.3 1.4l-1.8 1.1l-.2 .7l1.5 1.8l0 .3l-1 1.5l.1 .3l2.2 1.8l.5 .7l-.3 .7l-1.4 1.1l-.2 .7l2.1 1.4l.5 .8l-.8 2.8l-.9 1.4l0 .8l.7 .7l2.7 1.4l.8 .7l.3 1.1l-.1 .7l-1.6 1.8l.7 .7l2.7 1.4l0 .4l-.7 1.1l.1 .3l3.8 1.8l.1 .4l-.2 1l.5 1.8l-2.3 2.2l.4 .7l2 .7" stroke="#7e0502" stroke-width="0.58"/>
<path d="M464.3 16.5l.3 3.2l-.3 5.7l.2 10.8l-1 1.4l-.3 1.4l-2.4 1.8l-.3 1.8l-1.1 1.8l-1.2 1l-2.6 1.5l-.7 .7l.3 2.5l1.9 1.4l.8 1.1l.3 2.1l-.3 .7l-6.9 2.9l-10 2.5l-5.6 1.8l-.3 .3l-.2 1.1l-.8 .4l-5.9 1.4l-1.8 .7l-.7 .7l.8 1.5l-.3 .3l-3.5 .7l-10.8 1.1l-4.3 .7l-2.1 .7l-2.5 1.8l-7.8 2.2l-.7 .3l-.1 .4l4.9 2.1l.1 .4l-.5 .3l-8.9 3.3l-13.3 3.2l-.4 .3l1 1.1l-.2 .4l-4.5 1.4l-.9 1.1l-.8 .3l-5.9 1.4l-10.8 3.3l-3 1.7l-1.8 2.9l-.2 1.1l-1.1 .7l-3.8 1.1l-10 1.7l-3 1.1l.1 1.1l1.4 1.8l0 .3l-1 .7l-4.8 2.2l-4.1 2.9l-1 1l-.2 1.1l1.9 2.1l-1 1.5l-3.6 2.1l0 .4l1.4 1.8l-.8 1.4l.3 1.8l-.5 2.1l-1.4 1.4l-2.9 1.5l-.6 .7l.3 .7l2 1.4l.4 .7l-1.7 1.8l.2 .7l1 1.1l.3 .7l-.1 .7l-1.3 1.8l-.4 1.1l.1 .7l1 1.4l0 .8l-2.3 2.1l-.4 .7l.5 .7l1.7 1.5l-1.6 2.1l1.9 2.9l.1 1.8l.9 1.7l-.1 .8l-1.4 1.4l0 1.1l.4 1.4l-.7 .7" stroke="#7a0403" stroke-width="0.58"/>
</g>
<g class="t">
<rect x="302.9" y="9.5" width="209.4" height="163.6" fill="none" stroke="#555" stroke-width=".95"/>
<path d="M311.5 173.1v1.5M338.1 173.1v1.5M364.7 173.1v1.5M391.3 173.1v1.5M417.9 173.1v1.5M444.5 173.1v1.5M471.1 173.1v1.5M497.7 173.1v1.5M302.9 16.1h-1.5M302.9 34.9h-1.5M302.9 53.6h-1.5M302.9 72.3h-1.5M302.9 91.1h-1.5M302.9 109.8h-1.5M302.9 128.6h-1.5M302.9 147.3h-1.5M302.9 166.1h-1.5M526.1 32.7h1.2M526.1 68.4h1.2M526.1 104.1h1.2M526.1 139.8h1.2" stroke="#333" stroke-width=".5" fill="none"/>
<text x="311.5" y="178.8" text-anchor="middle">5.1</text>
<text x="338.1" y="178.8" text-anchor="middle">5.2</text>
<text x="364.7" y="178.8" text-anchor="middle">5.3</text>
<text x="391.3" y="178.8" text-anchor="middle">5.4</text>
<text x="417.9" y="178.8" text-anchor="middle">5.5</text>
<text x="444.5" y="178.8" text-anchor="middle">5.6</text>
<text x="471.1" y="178.8" text-anchor="middle">5.7</text>
<text x="497.7" y="178.8" text-anchor="middle">5.8</text>
<text x="301.5" y="18.0" text-anchor="end">0</text>
<text x="301.5" y="36.8" text-anchor="end">250</text>
<text x="301.5" y="55.5" text-anchor="end">500</text>
<text x="301.5" y="74.2" text-anchor="end">750</text>
<text x="301.5" y="93.0" text-anchor="end">1000</text>
<text x="301.5" y="111.8" text-anchor="end">1250</text>
<text x="301.5" y="130.5" text-anchor="end">1500</text>
<text x="301.5" y="149.2" text-anchor="end">1750</text>
<text x="301.5" y="168.0" text-anchor="end">2000</text>
<text x="527.7" y="34.6">200</text>
<text x="527.7" y="70.3">150</text>
<text x="527.7" y="106.0">100</text>
<text x="527.7" y="141.7">50</text>
<rect x="517.2" y="9.3" width="8.9" height="164.2" fill="url(#tb)"/>
<text class="al" x="407.6" y="185.6" text-anchor="middle">dissolved Oxygen(μmol/kg)</text>
<text class="al" transform="translate(287.7 90.3) rotate(-90)" text-anchor="middle">sea water pressure,equals 0 at sea-level(dbar)</text>
<text class="al" transform="translate(541.4 91.4) rotate(-90)" text-anchor="middle">profile number</text>
<text x="275.4" y="16.5" class="lt">(b)</text>
</g>
<path d="M46.8 190.4V354.1M70.7 190.4V354.1M94.6 190.4V354.1M118.5 190.4V354.1M142.4 190.4V354.1M166.3 190.4V354.1M190.2 190.4V354.1M214.1 190.4V354.1M238.0 190.4V354.1M36.3 197.5H245.4M36.3 216.1H245.4M36.3 234.7H245.4M36.3 253.3H245.4M36.3 271.9H245.4M36.3 290.6H245.4M36.3 309.2H245.4M36.3 327.8H245.4M36.3 346.4H245.4" stroke="#cfcfcf" stroke-width=".6" fill="none"/>
<g clip-path="url(#cc)" fill="none" stroke-width=".7" stroke-linejoin="round" stroke-linecap="round">
<path d="M230.0 199.7l-17.8 .4l-16.2 1.1l-19.7 .1l-10.1 1.1l-11.7 0l-11.2 .4l-15.2-.3l-5 .3l-7.3 .9l-3.3 .7l8.8 1.3l19.4 1.9l9 2.1l3.1 1l.5 .9l-3.4 1l-24.6 5.8l-7.3 1.3l-20.1 3.1l-7.6 .9l-27.3 1.7l-11.4 1l-2.2 .3l-.9 .4l1.4 .7l3.3 .9l18.9 3.9l41.9 10.5l9.9 3.9l11.5 3.5l3.2 1.3l21.2 10.5l6.8 3.9l11.3 8.3l13.8 8.9l3.3 2.5l13.7 12.6l8.2 8.7l4.3 6.2l3.1 6.7l2.8 7.1l1.1 3.7l1.4 7.7l.3 3.9l-.2 4.1" stroke="#30123b" stroke-width="0.6"/>
<path d="M230.9 199.5l-7.9 .1l-7.5 .8l-35.5 1.8l-15.4-.1l-33.2 1.6l-15.4 .1l-.8 .2l2.1 .6l8.8 1.2l13.3 2.4l4.7-.1l5.6 .4l6.7 1l4 1l-1.8 1l-11.2 3.3l-9.8 2.4l-3.7 .5l-12 .9l-19.8 4l-15.2 1.9l-36.5 2.3l5.6 1.5l12.9 4.2l20.1 3.6l11 3.8l15.4 3.6l11.3 3.8l15 5.9l9.6 4.4l14 8.4l10.1 5.7l7 4.2l6.3 4.5l8.2 7.1l12.8 10l4.9 5.7l12.8 20.6l1.4 3.6l.6 3.6l.6 11.4l.7 4.3" stroke="#33184a" stroke-width="0.6"/>
<path d="M230.8 199.5l-6.7 .2l-11.1 1l-14.7 .2l-14.3 .7l-15 0l-43.5 2.1l-8-.4l8.7 2.7l4.4 1.7l4.6 2.4l11.6 3.1l1.3 .8l-8.5 2.9l-16.8 2.8l-11.5 1.1l-13.6 1.8l-34.4 2.6l-10.4 1.4l-2.2 .4l-.7 .4l1.4 .7l20.7 5.7l7.2 1.6l9.8 2.9l14.6 3.5l6.2 2.1l15.1 4.2l13.8 4.8l3.3 1.4l8.9 5.2l7.4 3.1l3 1.7l5 3.9l3.1 2l10.7 6l11.5 8.4l12.3 8.2l2.9 2.4l2.4 2.6l5.6 8.2l7.2 8.8l2.1 3.2l1.7 3.5l2.4 6.9l1.3 10.1l.3 7.6" stroke="#351e58" stroke-width="0.6"/>
<path d="M230.9 199.9l-6.8-.2l-7.5 .6l-21.9 .6l-15.2 1.2l-19.1-.3l-17.9 1.1l-21 .6l-5.8 .5l1.5 .7l9 2.5l.4 .8l1.1 .8l18.5 4l3.1 1.3l.6 1.4l-3 1.6l-4.4 1l-14.3 .5l-19.2 2.5l-25.4 3.9l-4.5 .4l-13.7 0l-7.8 .9l-4.3 .9l.1 .5l2.3 .9l8.4 2.5l33.9 7.4l11.2 3.6l13.9 3.8l10.7 3.5l6.6 2.7l6 3.1l9.5 5.3l18.9 11.4l30.1 22.8l3.1 2.7l2.5 2.7l10.3 14.8l3.1 6.2l2.1 6.7l1.3 7.5l2.6 11" stroke="#372466" stroke-width="0.6"/>
<path d="M230.0 199.6l-14.9 1.2l-43.7 1l-20.1 1.2l-12-.3l-25.7 1.5l4 .6l10.2 2.1l4.4 .1l4.4-.5l3.4 0l2.5 1l3.7 .9l7.1-.2l8.3-.7l5.1 0l-.7 1.3l-9.6 4.7l-3.4 .9l-10.5 1.9l-18.1 1.6l-3.9 .7l-13.8 3.5l-12.9 1.5l-11.2 1.7l-28.7 1.2l-2 .3l4.3 1.7l9.2 2.6l20.4 4.3l23.1 5.8l11.5 4l11.7 3.4l6.9 2.8l22.3 11.1l3.2 2.2l5.7 4.5l10.7 6.4l8.9 6.9l9.3 6.7l9.4 7.8l5.7 5.8l2.6 3.3l4.6 6.8l5.3 10.2l1.3 3.8l.8 3.9l1.8 15.5" stroke="#392a73" stroke-width="0.6"/>
<path d="M230.7 199.6l-3.4-.4l-3.6 0l-11.5 1.4l-38.6 1.1l-18.7 1.2l-31.9 .3l-13.7 1.2l15.9 2.5l8.9 3.5l8.6 2.3l5.8 1.9l-.1 .8l-6.7 2.3l-7.3 1.6l-24.2 2.6l-11.6 .5l-11.1 1.7l-12.5 0l-5.3 .3l-14.1 1.7l-2.4 .4l-.8 .4l1.2 .6l16.4 4.1l10.6 3.1l22 5.3l8.1 2.3l11.2 3.5l17 6.1l7 3.3l20.3 11.4l15.6 10.2l11.2 6.7l6.2 4.6l2.5 2.5l7 8l5.4 5.4l5.2 6.4l4.2 6.6l3.7 6.7l1.4 3.7l.9 3.8l1 7.9l-.1 7.1" stroke="#3c3286" stroke-width="0.6"/>
<path d="M231.6 199.4l-16.6 1.4l-34.6 .9l-14.6-.3l-11.8 .9l-11.6 .2l-14.9 1l-12.6 .3l-1 .4l1.7 .6l13.2 1.1l5.6 1.6l4.9 .8l5.8 .6l8.6 .1l1.5 .9l-.7 1.7l-2.1 1.8l-1.6 .9l-9.7 3l-20 3.2l-19.1 2.1l-19.9 2.5l-23.6 1.2l-5.3 .8l-1 .6l1.1 .8l3.2 1l29.3 6.5l14.3 4.3l12.7 2.2l8.9 3.7l12.7 4.2l9.6 4.4l7.5 2.8l3.8 2l9.7 6.8l9.2 5.4l6.7 4.4l9.2 6.8l9.2 7.7l11.5 10.6l4.9 5.6l4.3 6.9l3.5 6.6l3 6.8l.9 3.8l1.3 7.9l.8 7.7" stroke="#3e3891" stroke-width="0.6"/>
<path d="M231.7 199.4l-8.7 .1l-10.1 1.4l-7.4 .5l-19.2-.3l-21.9 .7l-27.6 1.4l-16.6-.1l-3.4 .9l.6 .6l19.3 6.1l10.4 2.2l.2 1.3l-4 1.6l-14.7 3.9l-11.5 .8l-11.4 1.5l-26.5 2.8l-25.9 1.7l-2 .4l-.8 .4l1.1 .7l7.1 2.2l17.3 4.3l17.8 3.8l11.4 3.1l10.2 3.1l21.9 7.6l6.5 2.7l5.9 3l16.4 9.5l8.6 5.9l9.8 5.9l11.7 8.7l9.4 6.5l3 2.5l2.5 2.8l4.1 6.1l2.3 2.9l5 5.9l1.8 3.2l2.4 7.2l.8 3.7l2.5 17.9" stroke="#3f3e9c" stroke-width="0.6"/>
<path d="M231.1 199.3l-27.2 1l-16.6 1.4l-4 .1l-11.2-.4l-8.4 .2l-13.9 1.3l-14.2 .8l-21.4-.3l-.4 .2l2.2 .4l21 1.3l18.5 1.9l4.9 .8l1.8 1.1l-2.1 1.6l-4.2 2.2l-4.3 1.8l-7.4 1.8l-18.4 2.5l-11.1 2.2l-11.7 1.1l-15.4 2.2l-15.5 .8l-9.6 .9l-6.6 .8l-3.6 .9l0 .7l6.2 2.2l28.9 7.8l18.5 5.6l15.3 4l14.6 5.2l7 3.2l7 3.5l12.1 5.3l3.5 2l8.7 6.3l20 12.2l9.5 6.9l8.6 7.5l5.8 6l2.7 3.3l2.3 3.5l1.4 3.4l1.9 7l4.3 10.9l1.1 3.8l.4 3.8l-1 3.8" stroke="#4143a7" stroke-width="0.6"/>
<path d="M230.0 199.4l-7.3 .3l-6.6 .7l-38 1.4l-10.4 .6l-16 .3l-10.3 .8l-16.1-.3l-6.8 .3l-1.3 .4l1.3 .4l13 .8l4.1 1.4l2.1 .3l10 .2l5.2 .5l1.3 1.1l-3.7 1.9l-8.6 2.9l-8.9 4.3l-3.7 .9l-22.5 3.1l-23.4 2.3l-23.7 1.9l-6.5 1.1l-1.3 .7l.2 .7l2.3 .8l20.5 5.1l16.1 3l7.7 1.9l13.5 4.8l14.6 4l3.3 1.2l14 6.1l6.6 3.4l13.3 7.2l19.2 12l15.3 11l5.6 4.7l4.8 5.4l12.1 15.4l3.5 6.2l2.6 7l2.2 11.4l.6 7.6" stroke="#424bb5" stroke-width="0.6"/>
<path d="M230.8 199.2l-10.5 .9l-23.8 1.3l-11.8 0l-38.2 1.6l-21.4 .1l-9.2 .5l.1 .4l3.5 1l11.1 2.1l3 .8l1.2 .9l2.2 .8l12.2 1l4.4 .8l3.9 1.9l.5 .9l-3 1.1l-14 2.6l-12.3 .8l-11 1.7l-14.7 1.8l-15.8 2.9l-4 .2l-24.2 .2l-6.8 .7l-1.7 .4l0 .3l14.9 4.1l13.4 2.9l14.5 4.4l11.3 2.6l15.4 4l14.2 5.2l7.1 2.2l3.4 1.7l6.6 4.6l3.5 2l7.4 3.4l3.2 1.9l6.2 4.4l11.1 6.2l18.3 13.4l6 4.9l2.6 2.8l2.4 2.9l13.5 19.4l2.1 3.4l1.6 3.6l.7 3.9l1.3 15.8" stroke="#4451bf" stroke-width="0.6"/>
<path d="M230.9 199.1l-4.5-.3l-3.9 .2l-6.9 1.1l-6.9 .6l-34.6 1l-19 1l-12.2 .2l-18.1-.2l-12.8 .7l-1.4 .4l1.2 .5l9.8 1.4l15 3.4l10.4 1.5l2.5 .5l-1.5 1.1l-7 3.7l-2.9 1.1l-4.2 .7l-8.5 .8l-33.3 5.8l-7.4 .7l-24.9 1.3l-7.5 .7l-3.3 .6l3.9 1.3l32 8l18.7 5.9l15.8 4.3l13.4 5.2l10.8 3.7l3.2 1.4l9.3 5.5l10.7 5.7l16.3 9.7l16 10.4l6.6 4.8l5.5 5.1l7 8.5l4.5 6.6l2 3.4l3.5 6.9l1.3 3.6l.8 3.6l.9 7.4l0 7.8" stroke="#4456c7" stroke-width="0.6"/>
<path d="M231.2 199.5l-36.7 1.9l-46.6 1l-12.2 .7l-10.6-.1l-8.7 .7l-2 .5l.5 .6l3.9 .5l17.5 1.6l12.4 .3l5.2 .8l5.1 1.3l3 1.5l-1.6 1.4l-5.5 1.4l-11.1 1.8l-6.9 2l-11.2 1.8l-7.4 1.5l-32.8 3.5l-24.3 1.5l-8 1.2l-3.7 1.4l32.4 4.8l27.5 6.9l22.6 7l7.2 2.9l13.8 6.6l3.5 2.1l12.8 8.6l20.5 12.4l6.2 4.7l14.2 13.1l7.8 8.9l4.9 6.5l1.6 3.2l4.1 10.3l2.6 8.2l.9 4.1l0 4l-1.1 3.8" stroke="#455ccf" stroke-width="0.6"/>
<path d="M230.1 200.1l-6.4-.5l-22.9 1.6l-15.4 .1l-19.5 1l-15.5-.1l-12.1 .6l-10.7 .2l-11.9 .8l-3-.2l10.6 1.7l28 3.6l-.8 1.2l-3.9 2.4l-4.4 2.3l-3.9 1.6l-3.6 1l-7.8 1.4l-11.1 2.4l-3.8 .5l-11.5 .6l-6.7 1.1l-8.5 .7l-19.6 .9l-15.6 1.5l-2.2 .3l-.3 .4l20.6 4.4l23.4 5.4l21.4 5.8l15.6 5.1l13.2 5l11.4 5.1l3.3 2l5.9 4.2l14 7.9l12.1 9.1l9.5 6.5l3.1 2.4l5.3 5.6l7.3 8.6l4.6 6l2.1 3.2l3.7 6.9l3.2 7.2l.8 3.5l1.1 7.4l.3 8.2" stroke="#4661d6" stroke-width="0.6"/>
<path d="M230.7 199.8l-22.8 .8l-10.4 .9l-22.8-.1l-8.4 .4l-10.1 .7l-11.2-.1l-9.9 .7l-16.2 .6l-4.5 .5l-.2 .2l3 .6l12.4 1.8l16.2 3.2l2.1 1.3l.1 2l-3.1 1.7l-3.6 1.1l-6.8 1.2l-33.5 4.6l-6.9 .8l-12.8 .7l-26.3 2.1l-2.7 .4l-1.7 .6l.1 .7l6 2l25.8 6.1l32.4 8.9l11.6 3.8l10 3.7l9.9 4.5l17.3 9l9 6.7l12.9 7.8l9.4 6.9l11.2 9.7l3 2.8l5 5.5l4.1 5.7l5.3 10l1.7 3.8l1.2 3.7l1.1 7.4l.6 11" stroke="#4669e0" stroke-width="0.6"/>
<path d="M230.6 199.4l-7.7 .1l-6.9 .8l-11.1 .7l-18.9-.2l-11.2 1l-23.1 .8l-8 1l-4.1 0l-8.7-.8l-13.5 .9l-6.4 0l-.7 .2l2.4 1l13.2 3.3l4.6 1.8l9.4-.4l4.9 .8l1.5 2l-2.9 2.3l-4.1 1.5l-3.5 .6l-8.2 .2l-3.9 .5l-7 1.5l-21.9 3.3l-18.1 1.9l-21.4 1.1l-5.6 .9l-1.1 .5l1 .8l3.1 1.1l13.9 3.9l15.2 3.3l11 3.4l12 2.1l3.4 1.1l9.5 4.1l19.1 5.8l6.9 2.9l10.1 5l8.6 5.5l13.7 7.8l15.8 11l5.3 4.7l9.2 6.8l2.6 2.6l5.5 9.5l5 6.3l2.2 3.3l3.6 7l1.2 3.5l.6 3.4l2 15.1" stroke="#476ee6" stroke-width="0.6"/>
<path d="M231.1 199.5l-8.1-.3l-14.5 1.2l-21.3 1l-18.2 .4l-27.8 1.7l-4.6 .1l-18.7-.4l-4.5 .3l.5 .4l6.8 1.4l4.1 .3l21.2 .5l7.4 1.1l4 .9l2.1 1.1l-1.2 1.6l-3.7 1.7l-4.6 1.3l-13.8 2.7l-25.4 4.2l-15.8 3.1l-8.4 1l-31.9 2.7l-2.1 .2l-.3 .5l6.4 2.1l5.2 1.3l16.6 3.1l31.4 7.1l29 10.7l3.5 1.5l17.5 9.3l6.2 3.7l19.7 13.5l5.9 4.6l11.9 10.4l2.8 2.7l9.6 11.7l2.2 3.2l1.7 3.3l5.3 14.5l1.8 7.3l.4 3.9l-.3 4.1" stroke="#4773eb" stroke-width="0.6"/>
<path d="M230.9 199.5l-8.6 .2l-7.7 .6l-29.5 .7l-16.4 .9l-15.6 0l-22.5 1.3l-17.3 .5l.3 .5l3.1 .9l9.9 1.8l19.4 1.3l3.1 .7l3.4 1.4l7 3.5l.7 1.3l-2.9 .9l-8.8 1.1l-18.6 1.9l-15.9 2.8l-15.4 .9l-15.9 2l-24.2 .7l-4.9 .8l-.4 .6l1.7 .9l3.6 1.1l18.2 4.3l11.1 3.7l13.7 2.6l12.4 3.6l7.5 2.4l18 7l10.4 4.6l6.7 3.7l6.9 4.2l22.7 15.2l6.1 4.7l14.9 12.7l7.7 8.9l4.6 6.6l3.6 7.2l2.7 7.3l2.8 18.3" stroke="#4778f0" stroke-width="0.6"/>
<path d="M230.5 199.5l-6.7-.1l-11.5 1.2l-11.7 .3l-10.6 .6l-11.4-.3l-15.6 1.1l-10.8 .2l-11.9 .7l-19-.2l-7.1 .3l-2.2 .3l-.6 .4l8.4 3.9l3.4 .7l8.7 .6l5.2 1.4l9.6 3.9l-.5 1.1l-4.5 1.1l-4.2 .5l-16.2 1.3l-10.1 1.3l-18.6 3.7l-17.8 1.2l-17.5 .2l-8 1.1l2.9 1.1l8.1 2.2l17.4 3.4l6.7 2.1l10.8 2.3l11.1 3.1l11.3 2.8l24.8 8.7l7.2 3l3.2 1.9l11.9 8.2l13.2 8.2l14.6 11l8.6 7.3l12.8 13.5l4.6 6.1l5.7 9.8l1.9 3.6l1.4 3.7l.8 3.8l.6 7.6l-.2 3.6l-.6 3.5" stroke="#4680f6" stroke-width="0.6"/>
<path d="M231.0 199.4l-6.2 .1l-12.6 .7l-11.1 1l-14.9-.1l-15 .8l-10.5 .1l-14.3 .7l-13.8 .3l-4.4 .5l-4.9 1.1l1 .5l3.6 .9l8.1 .7l21 2.9l-.4 1l-13.6 3.9l-6.7 2.5l-11.1 2.8l-7.1 1.4l-33.5 3.5l-27.4 1.4l-4.8 .5l-1.1 .4l.4 .6l6 2.1l28.5 7.1l10.5 3.2l10.6 2.4l29.3 9.5l6.8 3.1l16.2 8.2l6.1 3.8l8.4 5.9l17.3 9.8l2.9 2.1l11.2 9.5l5.6 5.2l11.6 15.1l3.3 6.6l2.6 6.8l2.3 7.2l.7 3.8l.1 3.9l-.8 4" stroke="#4685fa" stroke-width="0.6"/>
<path d="M231.3 199.2l-8.7 .3l-8.1 .9l-7.4 .4l-23.1 .5l-18.8 1.5l-12.5-.8l-3.6 0l-7.2 .7l-23.8 .9l-4.6 .5l.8 .5l4 1l5.6 .9l10.9-.1l7.6 1l10.9 0l4.6 .4l1.3 1l-2.1 1.6l-3 1.5l-3.4 1l-8.9 1.9l-11.3 3.5l-7.7 1.6l-35.7 3.3l-28.3 2.1l-5.1 .9l-1.8 .8l-.5 1l2.1 1.1l4.2 1.1l18 3.2l26.9 6.9l7.7 2.2l10.7 3.6l11.9 3.5l7.4 3l6.4 3l24 13.6l22.4 15.8l12 9.8l2.9 2.7l4.9 5.8l4.7 6.4l4.3 6.7l3.7 7.1l1.5 3.7l.9 3.7l.8 7.6l-.1 7.9" stroke="#458afc" stroke-width="0.6"/>
<path d="M231.4 199.5l-8.5 0l-31 1.9l-15.2-.1l-16.5 1.2l-10.9 0l-19.5 .8l-12.4-.3l-1.5 .1l1 .5l11.4 2.2l23.3 2l3.9 .6l1.8 .8l.5 1.3l-1.5 1.6l-4.5 1.2l-11.9 .6l-2.8 .8l-1.5 1.1l-2.7 1l-8.7 1.4l-11.5 2.3l-19.5 3.2l-17 1.5l-19.4 .1l-3.7 .3l-4.2 .8l.6 .5l16.5 4.1l20.3 4.3l22.2 5.6l15.1 4.8l8.2 2.2l3.6 1.4l9.7 5.4l7.4 3.4l6.8 3.6l13.5 8.2l9.4 6.4l10.5 6.1l6.2 4.6l8.6 7.6l7.9 8.8l7.5 9.8l3.6 6.6l3.1 7.3l1 3.8l1.4 7.8l.9 7.4" stroke="#448ffe" stroke-width="0.6"/>
<path d="M230.8 199.6l-3.4-.4l-3.5 .1l-7.6 1.3l-8.5 .7l-12.2-.4l-25.4 1.4l-15.7 .1l-6.9 .7l-24.2 .4l-9.4-.2l-.5 .1l2.4 .7l9.5 1.8l27.2 1.7l3.3 1.1l-1 2.1l-5.2 2.5l-8.4 2.1l-4.9 1.7l-3.6 .9l-20.8 3.2l-14.5 1.4l-11.5 2.1l-4.7 .3l-19.1 .1l-6.9 .5l-3.2 .6l3.9 1.9l13.5 5l3.9 1.2l15 3.7l13.8 4.5l18.7 4.8l13.3 5.2l8.4 2.5l3.6 1.6l8.9 5.3l7 3.4l3.5 2.2l6.6 4.8l9.9 5.6l3.1 2.1l14.6 11.3l9.3 7.8l6.1 5.8l2.5 3l2.1 2.9l2.8 6.1l4 10.8l1 3.7l1.5 7.3l.3 3.7l-.3 3.6" stroke="#4294ff" stroke-width="0.6"/>
<path d="M231.5 200.0l-6.9-.3l-12 1l-23.1 .9l-18.5 .1l-13.8 .9l-12.5-.3l-13.5 1.4l-10.1 .3l16.7 1.1l17.2 3.2l2.9 1l-.8 1.5l-5.3 2l-14.4 3.6l-11.8 3.8l-7.7 1.3l-18.9 2l-20 1.5l-23.1 .2l-4.3 .3l.2 .4l5.1 2.3l8.5 3l12.3 2.9l7 2.1l15.5 3.2l17.4 5.6l10.5 3l7.3 2.5l7.2 3.1l12.6 7.2l10.4 4.8l7.1 4.1l3.1 2.3l7.9 6.4l8.9 5.9l9.5 7.4l5.6 5.1l2.5 2.6l4.6 5.8l5.5 8.8l5.3 10.3l1.4 3.6l.9 3.5l1.2 7.3l.7 8" stroke="#3e9bfe" stroke-width="0.6"/>
<path d="M231.8 199.7l-8.7-.1l-46.8 2.5l-11.8-.2l-15.2 1.2l-22.9 .3l-10.5 .6l-.8 .2l14 3l4.4 .7l5.1-.2l12.5 4.5l8.2 2.5l-.1 1l-4.1 1l-5 .7l-27.3 1.6l-19.3 3.1l-29.9 3l-10.1 .6l-11.5 .1l-1.7 .4l0 .7l1.9 1.1l3.6 1.3l9.1 2.8l16.1 4.2l18.6 5.3l11.7 2.4l3.6 1.1l25.7 9.9l21.1 10.1l9.7 6l17.7 10.2l12.2 8.5l6.3 4.8l2.6 2.6l4.4 5.7l8.5 10.3l1.7 3.4l6.7 22.4l.4 3.9l-.8 3.6" stroke="#3ba0fd" stroke-width="0.6"/>
<path d="M231.9 199.8l-12 .5l-11.8 .1l-35.4 1.8l-20.5 .2l-12.9 1.4l-23.2-.1l-1.1 .3l1.4 .5l8.3 1.6l14.5 2.2l9.3 1.1l15.9 4.3l-22.6 3.5l-15.5 3l-39.4 4.2l-32.9 1.9l-5.1 1l-.9 .6l1.6 .9l14.3 3.5l12.8 3.8l8 1.9l10 3.5l15.6 4.8l26.5 8.7l3.5 1.4l10 5.3l11.6 5.2l14.5 7.9l3.6 2l8.9 6.2l7.9 4.3l3.6 2.3l2.9 2.5l13.6 14l2.3 3l4 6.6l3.7 7.4l1.4 3.9l.7 3.8l.8 7.7l1.2 7.8" stroke="#38a5fb" stroke-width="0.6"/>
<path d="M231.3 199.8l-17.4 1l-19.7 .5l-14.8 .7l-42.3 1.1l-16.2 .9l-2.4-.2l8.5 1.2l3.4 .9l4.7 2.5l10.8 2.6l5.6 1.8l1 1.6l-4.9 1.2l-12.8 1.4l-15.4 2.6l-10 2l-22.5 3.6l-14.7 .3l-12.7 1.1l-9.9 .5l-.4 .3l12.5 5.4l4.4 1.6l37.1 10.6l3.6 1.1l12.4 5.1l11 3l7.6 2.5l16.4 8.2l13.1 7.3l20.2 10.3l6.8 3.7l2.9 2l8.1 6.5l5.8 5.1l2.7 2.8l4.9 5.9l4 5.9l3.4 6.6l1.6 3.5l1.1 3.7l1 7.5l.5 10.5" stroke="#35abf8" stroke-width="0.6"/>
<path d="M231.7 199.6l-11.7 .1l-20.9 1.9l-12.2-.3l-9 .6l-16.6 .5l-10.6-.1l-17.4 1.3l-11 .2l-.3 .4l12.9 2.4l6.6 2.3l3.8 1.1l5 .7l3.3 1.3l-1.4 2.5l-4.4 2.4l-3.9 .8l-10.9 .5l-19.4 2.4l-18 3.7l-3.4 .4l-38.2 2.8l-4.4 .8l-.4 .6l1.6 .9l3.3 1l13.9 3.5l10.6 3.7l13.6 4.4l14.5 4.2l10.3 3.9l10.7 3l17.5 6.8l7.1 3.2l11.9 7l16.7 8.2l13.1 7.4l11.3 8.6l6 4.8l5.7 5.9l2.1 3.1l4.4 9.4l3.7 6.9l1.3 3.5l1.5 17.6" stroke="#2fb2f4" stroke-width="0.6"/>
<path d="M232.2 199.4l-42.7 2.5l-61.8 1.5l-2.1 .3l.3 .4l2.9 .7l31.1 4.7l3.4 .8l2 .9l-.4 .8l-11.3 3.7l-3.7 1l-11.7 1.3l-12.3 2.1l-11.2 1l-26.9 4.1l-10 .6l-23.9 .7l-5.8 .8l-1.3 .4l.3 .6l2.4 .9l14.1 3.8l11.5 3.8l16.5 4.2l10.8 3.9l15.2 4.6l13 5l12 3.9l3.4 1.5l13.8 7.5l12.1 6l5.5 3.9l3 1.8l12.2 4.3l3.6 1.9l3.1 2.2l5.1 4.6l11.7 11.5l4.6 5.6l1.7 2.9l5.7 11.5l1.9 3.9l1.3 3.7l1.5 7.2l.2 3.8l-.1 4.1" stroke="#2cb7f0" stroke-width="0.6"/>
<path d="M232.8 200.1l-7.8-.1l-10.6 .8l-11.3 .1l-14.8 .9l-14.7 .6l-43.4 1.1l-2.3 .4l.9 .7l4.1 1l12.8 2.9l8.7 .9l3.5 1l1.3 1.9l-1.8 1.9l-4 1.2l-9.9 2.2l-25.1 3.7l-19.2 1.7l-10.9 1.5l-19.7 1.1l-18.5 2.8l.2 .3l10.2 3.8l23.5 7.7l10.8 3.2l10 3.5l11 2.6l13.4 5.4l15 5.2l6.7 3.2l12 7.1l21.4 10.4l6.2 3.5l17.7 12.4l2.8 2.8l6.3 9.5l4.8 5.9l2 3.1l1.6 3.2l2.3 6.8l3.1 18.6" stroke="#28bceb" stroke-width="0.6"/>
<path d="M232.8 199.8l-26.6 1l-21.2 1.5l-15.1-.3l-10.8 .8l-6.9 .1l-19.8 .9l-6.4 .7l-.2 .3l8.2 .2l2.7 .3l11.6 3.5l5.3 1.9l0 1.6l-4.1 1.3l-32.4 7.1l-14.6 2l-14.8 2.5l-27.5 2.3l-7.2 .8l-4.1 .9l-.8 .6l.4 .6l5.3 1.6l25.2 5.4l24.9 7.9l38 13l7.3 3.2l9.7 5.8l19.4 10.3l13.6 5.8l3.1 1.6l6.1 4.4l8.4 7.7l7.4 8.3l4 6l7.3 13.3l1.4 3.4l1.1 7l.9 11.5" stroke="#25c0e7" stroke-width="0.6"/>
<path d="M232.9 200.0l-20.2 .8l-15.2 1.2l-24 .1l-7.1 .4l-35 .9l-6 .5l.3 .3l15.2 2.3l3.2 1.4l2.1 1.6l3.7 1l12.1 .8l4.2 .8l2.1 1.2l.1 1.7l-3.1 1.6l-4.9 .9l-12.1 .3l-28.3 2.3l-31 4.8l-3.9 .5l-20.6 .7l-8.9 .7l-7.1 .8l-2.2 .5l-.8 .6l.8 .8l2.7 1l26.7 7.2l18.1 7l11.5 2.8l11.1 3.9l11.1 3.1l3.7 1.4l29.2 13.3l17 8.9l11.2 5.2l3 2l15.6 12.5l6 5.5l2.4 2.9l3.8 6.5l6.6 14.3l1.5 3.8l2.1 7.7l.4 3.8l-.3 3.6" stroke="#20c7df" stroke-width="0.6"/>
<path d="M232.3 199.6l-14.1 1l-15.8 .3l-14.7 1l-15.7 0l-11.3 1.2l-3.6 .1l-7.6-.4l-5 .3l-9.6 1.1l8-.7l4 .1l12 3.1l4.6 .5l4.5 0l-1.7 .5l-6.8 3.2l-5.2 1.7l-9.6 2.4l-8.5 2.6l-16.4 2.7l-13.8 2.8l-23.5 2.8l-31.5 1.9l-4.2 .7l-.3 .6l1.6 .7l12.1 3.5l12.1 4.3l26.2 7.3l13.5 4.8l18.2 5.7l7.6 2.8l10.6 4.7l23.1 12.5l17.8 7.3l7.1 3.9l3.2 2.1l5.4 4.7l11 10.7l2.4 3.1l5.1 10l4.2 6.6l1.4 3.5l.6 3.7l.8 15.4" stroke="#1ecbda" stroke-width="0.6"/>
<path d="M232.2 199.7l-22.9 .8l-17.9 1.1l-15.9 .1l-6.2 .6l-12.7 0l-11.5 1.6l-4.9 .1l-9.6-.5l-2.7 .2l-.2 .4l3.3 .5l8.1 .5l5 1.9l4 1.1l13.7 1.8l4.3 1.1l-.9 .9l-16.1 2l-4.3 1l-7.8 3l-3.7 1l-7.9 1.5l-16.1 2.3l-17.1 3.2l-9.1 .6l-23.8 .4l-7.3 .5l-2.6 .5l6.9 3.2l23.8 9.3l14.7 4.2l14.2 4.6l11.3 3.4l3.6 1.2l10.4 4.4l11 3.9l9.7 4.6l16.3 8.8l18.4 8.1l6.3 3.7l9.1 6.7l5.4 4.8l2.5 2.7l2.3 3l6 9.9l6.5 9.4l1.4 3.4l.5 3.7l.2 11.9l.6 3.9" stroke="#1bd0d5" stroke-width="0.6"/>
<path d="M233.0 199.6l-7.7-.5l-10.9 1.1l-25.1 1.7l-18.6 .3l-10.5 .7l-11 .2l-22.1 .9l20.1 .7l3 .4l1.3 1.1l-3.4 4.8l-.8 2.4l-1.7 1.4l-3.3 1.1l-8.1 1.6l-7.8 1.1l-3.9 .9l-7 2.3l-3.5 .8l-11.3 1l-10.9 1.5l-34.2 1.3l-2.9 .4l-2.6 .9l25.7 10.8l7.3 2.3l14.6 3.8l12.6 4.6l28.8 9l8.9 4.8l11 5l9.3 5.1l13 6.4l9.7 5.1l6.2 3.7l5.5 4.4l8.1 8l6.8 8.3l3.7 6.1l4.9 9.8l1.4 3.6l2.5 11l.3 3.6l-.1 3.4" stroke="#1ad4d0" stroke-width="0.6"/>
<path d="M233.3 199.7l-15.8 1l-15.2 .2l-19.9 1.3l-26.1 .2l-27.5 1.6l-1.1 .3l2.2 .6l11.9 2.6l11.1 .4l5.1 .5l4.2 1.4l3.1 1.8l1.6 1.7l-1.6 1.2l-20.4 2.4l-10.2 2.6l-14.4 1.9l-10.1 2.3l-3.7 .5l-24 1.9l-26.3 .1l-6.6 .4l-3.5 .6l.3 .4l15.4 5.3l12 4.6l3.5 1.1l10.8 2.6l15.2 5.4l15 4.3l17.2 6.4l11.3 4.9l27.8 14.1l7.5 3.3l7.2 2.9l3.4 1.6l3.1 1.9l12.2 8.9l3.1 2.8l2.8 3.1l4.6 6.4l5.2 9.3l4.4 7.1l1.8 3.6l.9 3.6l.5 3.5l.2 7.5l-.2 3.9" stroke="#18d7ca" stroke-width="0.6"/>
<path d="M233.2 200.0l-3.3-.4l-3.8-.1l-16.9 1.4l-17 .5l-14.8 1.1l-12.6-.2l-29.3 1.2l-9.8 .8l-2.2 .4l.3 .3l9.9 1.1l4.8 1l9.1 2.7l2.9 1l7.8 3.6l.5 1.2l-3.8 .9l-10.3 1.4l-7.7 .8l-14.9 .8l-14 3.1l-18.8 2.2l-18.2 1.5l-21.3 .7l-1.7 .3l-.3 .5l1.8 .9l12.9 4.7l11.1 4.5l33.6 10l35.9 12l3 1.6l9.3 5.6l7.1 3.3l9.9 5.1l14.7 6.3l12.9 7.4l6.1 4.6l4.8 5.1l11.2 15.5l3.8 6.3l3.1 6.8l1 3.8l1.3 7.8l.1 3.8l-.3 3.5" stroke="#18ddc2" stroke-width="0.6"/>
<path d="M234.0 200.0l-9.5-.2l-15 1.2l-10.8 .2l-16.6 .9l-14.9 0l-12 .9l-21.5 .6l-6.7 .6l-1 .3l13.2 .4l10.3 1.3l11 .8l2.1 .6l-2.6 1.8l-5 2l-4.7 1.4l-7.9 2l-10.7 3.2l-14.4 2.8l-15.7 3.4l-16.5 1.6l-30.4 1.2l-8.7 .6l-3.3 .7l.5 .6l2.4 1l27.8 8l3.6 1.2l10.2 4.4l11.7 3.6l10 3.4l12.4 3.6l13.3 5.3l11.7 4.2l7.6 3.4l9.6 5.5l17.3 8.2l11.1 4.7l9.5 5.2l7.1 4.7l3.2 2.7l2.7 3l6.8 9.2l6.1 9.9l1.7 3.7l1.1 3.6l.6 11l.8 3.9l1.4 4.3" stroke="#18e0bd" stroke-width="0.6"/>
<path d="M233.3 199.4l-34.5 2.3l-19.6 .3l-22.1 1.2l-18.1-.2l-7.3 .7l-1.6 .4l1.5 .7l4.5 .7l5.4 .4l11-.6l3.1 .2l9.3 1.8l3.4 1.1l-.6 1.6l-12.9 3.7l-8.6 3.2l-11.1 2.6l-18.5 3.2l-3.8 .4l-7.7 .2l-4 .3l-11.9 1.7l-22.9 .8l-13.2 1l-3.2 .6l.3 .5l1.8 1.1l7.5 3.1l20.1 6.8l18.6 5.3l14.3 4.9l10.6 3.3l18 6.8l13.9 6.2l20.5 10.5l16.9 8.1l6.7 4l6 4.8l8.6 8.5l5.5 6.1l4 5.8l3.3 6.8l3 7.4l1 3.7l1.2 7.3l.3 3.6l-.1 3.5" stroke="#19e3b9" stroke-width="0.6"/>
<path d="M233.1 200.3l-7.9-.2l-15.4 .8l-39.4 1.5l-19.1 1.1l-21 0l-.7 .3l2.1 .6l12.2 2.5l15.9-.1l5.1 .9l4.2 1.6l1.6 1.8l-.6 1.3l-2.1 1l-3.3 .7l-17.2 3l-12.2 2.5l-7.9 1.2l-11 .9l-11.8 1.5l-49.4 3.6l-5.9 .9l-1.4 .6l0 .7l1.9 1l7.8 2.7l24 7.4l15 5l11.6 3.4l10.9 3.9l12.3 3.3l21 9.2l13.6 7.5l24.4 11.7l10 5.9l7.2 4.9l3.1 2.8l2.6 2.8l6.4 9.2l8.3 13.6l1.5 3.6l.8 3.7l1.3 16" stroke="#1ce6b4" stroke-width="0.6"/>
<path d="M232.5 199.5l-22.7 1.3l-20.5 .5l-10.7 1l-23.4 .3l-25.3 1.8l12.9 1.9l10.9 2.6l13.1 1.6l4.9 1.2l1.2 1.3l-2.7 1.4l-4.7 1.2l-12.4 2.4l-4.1 .4l-12.1 .1l-11.3 1.9l-7.8 .9l-15.5 3l-7.5 .7l-12.8 1.7l-20.5 .1l-15 .5l-1.4 .3l.2 .6l6.5 2.4l15 4.3l18.1 5.8l15.1 5.4l18.8 5.2l15.5 5.5l13.6 5.8l9.9 5.8l3.7 1.9l18.5 7.9l17.6 9.5l3.1 2l5.6 4.8l5.4 5.7l2.6 3.2l4.5 6.7l7.8 13.5l1.9 3.6l1.3 3.8l.9 3.8l.5 3.9l.1 3.8l-.6 3.7" stroke="#20eaac" stroke-width="0.6"/>
<path d="M232.9 200.2l-7.5-.8l-3.8 .1l-21.9 2.3l-11.4-.1l-15.6 .4l-14.9 1.3l-11.5-.3l-21.5 .5l-.4 .3l2.2 1.2l4.1 1.8l3.7 1.2l7 .6l3.9 .9l4 1.6l4.5 2l2.8 1.8l-1.3 1.3l-4.6 1.2l-8.3 1.2l-3.9 .4l-11.2 0l-3.6 .4l-33.2 5.6l-13.5 1l-19.3 .6l-6.4 .8l-2.9 1l.4 .4l2.1 .7l20.8 5l33.7 9.3l20.8 6.5l7.5 2.6l7.2 3.2l23.7 11.8l9.1 5.3l14.9 6.9l6.1 3.6l6.2 4.6l3 2.6l2.8 2.7l4.8 5.4l6.5 8.8l10.2 16.2l1.6 3.4l1 3.4l.5 3.6l.2 3.7l-.2 4l-.8 4.1" stroke="#25eca7" stroke-width="0.6"/>
<path d="M233.3 199.8l-8.1-.1l-11 .9l-11 .3l-11.5 .8l-14.9-.1l-23.7 1.6l-19.9 .1l-3 .2l-1.4 .5l2.7 .5l9.9 .9l7.4 0l3.3 .4l4.3 1.2l4.4 1.6l2.4 1.5l-1.8 1.7l-10.9 2.5l-10.1 3.1l-18.5 3.7l-4 .5l-12.1 .6l-19 2.2l-28.1 1.6l-7.1 .8l-3.3 .8l0 .5l1.7 .8l7 2.6l18.4 4.9l11.7 4.4l23.4 6l14.3 5.4l10.5 3.4l17.5 7.5l16.6 9.3l14.5 6.8l5.7 3.3l9.1 6.2l2.9 2.5l7.5 8.1l6.1 6l2.4 3l8.2 15.9l1.4 3.6l3.6 18" stroke="#2aefa1" stroke-width="0.6"/>
<path d="M233.0 199.8l-7.4 0l-15.1 1.3l-19 .3l-15 1.1l-14.3 .2l-10.9 .8l-18.4 .2l-2.9 .4l-1.2 .5l9.6 .4l7.9 2.1l11 .8l2 .9l-2.7 2.9l-5.4 2.7l-4.9 .8l-4.2 .4l-9.4 2.1l-12.7 1.9l-13.7 3.9l-7.7 1.2l-8 .7l-12.9 1.7l-4.6 .1l-14.2-.5l-11 .8l-1.6 .3l-.5 .3l.7 .7l2.3 1l3.6 1.2l18.3 4.8l14 4.8l14.6 4.2l10.3 3.7l13.8 4.2l13.5 5.4l8.4 2.5l3.6 1.4l8.5 5.3l6.9 3.9l6.7 3.2l18.1 7.7l9.3 5.1l5.7 4.2l5.3 4.9l4.7 5.7l9.2 12.4l1.7 3.3l4.6 10.6l2.3 7l.7 3.5l.1 3.6l-.8 3.8" stroke="#2ff19b" stroke-width="0.6"/>
<path d="M233.0 199.8l-19.6 .6l-11.3 1.5l-4 .2l-12.5-.7l-14.7 1.1l-11.8 0l-32.7 1.7l7.9 .6l12.1-.2l3.5 .3l17.3 3l1 1.4l-2.9 2.4l-6 2.4l-6 1.3l-8.3 1.1l-10.4 2.1l-34.2 5.1l-15.8 1.9l-33 2.4l-2.4 .4l-1.3 .5l.3 .8l2.4 .9l18.7 3.1l19.5 5.1l18.4 6.2l15 3.7l10.2 4.6l11.6 4.2l17.6 8.6l7.3 4.1l9 5.8l14.1 6.7l3.5 2.1l3.3 2.3l5.6 4.8l5.3 5.4l5.9 6.4l2.5 3.4l10 16.2l1.5 3.6l.8 3.9l.4 8.2l-.5 7.7" stroke="#35f394" stroke-width="0.6"/>
<path d="M232.3 199.6l-4.2 .4l-19.3 .6l-12.6 1l-7.8 0l-12.1 .6l-11.4 .1l-13.3 .9l-14.1 .2l-13.7 .7l-.8 .1l22.4 2.2l7.1 1.5l13.3 3.8l4.1 1.4l1.7 1.4l-2.2 .9l-13.5 1.1l-6.8 1.2l-13.8 1.5l-23.1 3.2l-16.4 1.7l-8.3 .8l-40.5 2l-1.5 .2l-.1 .3l9.8 3.7l14.8 4l11.6 3.8l35.3 10.2l10.6 4.4l12.2 3.5l3.6 1.6l10.8 5.7l17.4 9.8l26.8 11.5l3.4 2.1l2.8 2.6l5.1 6.2l8.4 9l2.5 3l2.1 3.1l1.8 3.5l4.6 11.7l4.3 19.3" stroke="#3ff68a" stroke-width="0.6"/>
<path d="M233.2 200.0l-7.2-.2l-8.5 .3l-18.5 1.6l-31.4 .1l-11.1 1.3l-17.4 .1l-11.6 .9l-1.2 .5l2.6 .8l10.4 1.4l11.6 2.4l11.1 1.5l3.2 1.4l0 1.5l-3.8 1.3l-8.8 1.7l-6.4 .9l-11.6 2l-11.8 1.5l-10.7 2.2l-19.5 2.9l-3.8 .4l-19.1 .2l-13.9 .7l-3.3 0l-3.3-.4l10.1 5l12.2 4.8l18.1 5.9l15.4 4.4l28.7 9.8l21.1 8.9l16.1 9l14 6l12.9 7.5l6.4 5.1l8.1 8l4.6 5.8l4.6 6.9l5.5 10l1.5 3.4l1.1 3.5l1.3 7.5l.3 3.9l-.3 4" stroke="#46f884" stroke-width="0.6"/>
<path d="M232.6 199.8l-3-.5l-3.4-.1l-15.4 1.7l-11.2 .1l-29.1 1.4l-11.4 .1l-27.8 1.4l.4 .6l8.1 2.2l9.4 1.2l10.1 .7l-.2 .7l-4.5 1.9l-8.1 4.2l-3 1l-14.6 3l-21.4 3.9l-11.1 .7l-13 1.8l-23.9 1l-9.7 .2l-3.3 .6l.1 .6l5.3 2.4l13.7 4.3l10.5 3.9l14.6 4.2l10.3 3.8l17.7 5l11 3.8l17 7.1l9 5.6l3 1.5l10.6 4l14 7l10.3 3.6l3.3 1.5l3.2 1.8l8.7 6.9l5.2 5l9.5 12l2.1 3.1l3 6.4l2.1 6.8l1.8 10.5l.7 8" stroke="#4ef97d" stroke-width="0.6"/>
<path d="M232.8 199.8l-7.4-.2l-13.8 1.1l-40.9 1.7l-22.5 .3l-16 1.5l-.1 .5l3.3 1l2.8 1.4l1.1 1.2l3.6 1.1l11.5 2.1l2.9 1.6l.1 1.8l-3.3 1.7l-4.4 1.1l-21.8 2.7l-15.6 1.5l-9.6 1.7l-3.5 .4l-11.7 .3l-23.3 1.5l-14.8 .4l-1.5 .1l-.3 .2l7.5 4.6l8.3 4l4.3 1.9l14.7 5.1l12.8 5.5l3.4 1.1l18.7 5l20.3 7.1l12.6 6.5l17.5 7.7l15.4 7.7l10.5 4.7l6.4 3.6l6 4.2l2.6 2.4l2.3 2.5l10.5 15l4 6.3l1.7 3.3l1.2 3.4l.7 3.6l1.1 7.4l.4 7.6" stroke="#55fa76" stroke-width="0.6"/>
<path d="M232.5 199.8l-7.7-.1l-10.7 .9l-31.7 1l-12.7 1l-10.8 .2l-7.2 .7l-18.7-.4l-7.2 .5l-.7 .4l9.1 1.4l3.6 1l4.3 2.3l9.7 2.2l4.1 1.3l-1 1.7l-5.1 1.8l-7 1.5l-25 3.4l-10 2.5l-3.9 .7l-51.2 3.3l-3.8 .5l-.2 .5l4.5 2l7.8 2.9l23.3 7.8l10.8 3.3l9.2 3.7l11.8 3.6l10.2 3.9l10.2 3.3l21.3 9.3l11.6 7l6.7 3.2l14.3 6.4l6.7 3.5l3.2 2l5.6 4.7l10.5 10.7l4.8 5.8l1.8 3.1l8.3 24.4l.6 3.9l-.1 4.2" stroke="#61fc6c" stroke-width="0.6"/>
<path d="M232.4 199.9l-6.8-.3l-15.4 1.6l-18.1 .9l-11.5-.7l-4 .2l-7.9 1l-3.8 .3l-11.1-.4l-25.6 1.3l-3.1 .8l6.9 .4l4 .7l19.4 6.3l.5 1.2l-1.9 1.8l-3.5 1.6l-5.4 1.9l-7.6 1.7l-4.7 .6l-10.9 .6l-18.9 2.2l-14.8 .4l-13.7 1.2l-14.4 .9l-8 1.1l-3.6 1l.6 .4l16 3l20 4.9l11 3.3l11.5 3l20.1 6.8l10.4 4.7l10.9 4.3l16 9.2l18.1 9.4l15.3 9.4l6.2 4.3l2.7 2.4l5 5.4l4.6 6.1l13.5 19.4l1.4 3.4l.4 3.4l0 11.2l.5 4.4" stroke="#69fd66" stroke-width="0.6"/>
<path d="M232.2 200.0l-6.7-.2l-11 .9l-14.4 .4l-30.3 1.6l-11.7-.3l-11.6 1.1l-16.3 .2l-.7 .3l12.2 3.4l9.3-.1l3.1 .9l3.2 1.7l1.7 2.1l-2 2.1l-4.4 1l-4.5 .2l-4.1 .6l-7.5 1.7l-12.5 1.5l-17.1 2.8l-11.1 1.1l-12.1 1.8l-23.5 1.1l-7.3 .9l-3.7 .8l-.4 .5l1.1 .7l2.8 .9l13.6 3.7l11.2 3.8l10.8 3.1l17.5 6.1l22 6.4l7.4 2.7l6.9 3.2l16.1 8.4l16.2 9l10.7 4.5l3.1 1.6l12.7 7.8l6.3 4.6l5.3 4.9l4.9 5.8l2.3 3.1l4.1 6.3l3.3 6l3 6.8l2.5 11.7l.7 7.3" stroke="#71fe5f" stroke-width="0.6"/>
<path d="M233.6 199.9l-7.4-.2l-14.8 1.2l-17.9 .3l-11.2 1.4l-13.8-.6l-10.9 .7l-10.6 .3l-13.1 .9l-1.7 .5l2.6 .3l8.5 0l3.4 .4l4 .9l3.2 1.1l.3 1.1l-5.9 4.3l-3.2 1.8l-3.8 1.2l-11.3 3l-6.9 1.3l-6.3 .6l-11.2 1.6l-10.7 1l-10.5 1.4l-22.6 1.2l-11 1.8l7.1 1.1l20.6 4.7l17.3 4.6l10.6 2l23.6 8l9.5 4.1l6.8 3.2l25.1 14.1l8.9 5.7l12.4 7.2l8.9 6.3l8.2 7.4l7.6 8l6.2 8.5l3.2 6.2l2.7 6.8l1 3.5l2.6 17.9" stroke="#79fe59" stroke-width="0.6"/>
<path d="M233.0 200.0l-19.5 .4l-13.6 .9l-8.9 0l-13.1 1.2l-8.4-.5l-10.1 .2l-29.9 1.4l-2.3 .3l.9 .5l23.1 3.1l9.6 1.5l2.4 .6l-.5 1l-2.7 2.3l-3.6 2.4l-3.9 1.1l-4.2 .5l-15.9 .4l-13.2 1.9l-15.3 1.5l-15.3 2.7l-30 2.5l-2.9 .5l-1.8 .6l-.2 .7l2.2 .7l3.9 .6l10 1.2l7.9 1.3l10.3 2.8l14.2 3.1l18.7 5.6l13.2 5.4l14.7 5.5l3.1 1.8l8.4 6.3l6.6 3.8l8.4 6.3l11.7 5.4l3 2.1l7.5 7.1l8.9 7.4l5.2 5.3l4.7 6l5.4 8.8l4.7 6.8l2.2 3.6l1.5 3.7l.4 3.5l.1 10.8l.3 3.7" stroke="#80ff53" stroke-width="0.6"/>
<path d="M233.5 199.6l-11.2 .3l-26 2.1l-25.5 .8l-10.6-.2l-20 .6l-4.8 .3l-4 .7l-2.6 .9l-.2 .6l7.5 1.2l20.5 4.8l.3 1l-4.1 1.2l-8.4 1.6l-13.8 3.4l-10.6 1.8l-10.2 .5l-12.4 1.2l-22.9 1l-9.5 .7l-10.9 1.5l-3 .9l.7 .6l6 1.8l13.9 2.9l25.1 5.9l17.3 5.7l9.9 2.9l14.6 5.4l6.1 2.7l10 5.5l24.7 14.7l18.4 11.6l9.4 6.7l4.6 4.2l4.9 5.5l2.5 3.3l2 3.2l3 6.2l5.5 9.4l1.5 3.5l.9 3.6l1.2 7.5l.3 7" stroke="#8bff4b" stroke-width="0.6"/>
<path d="M233.3 200.1l-3.6-.5l-3.7-.1l-15.4 1.5l-17.5 .7l-13.7 .2l-18.7 1l-10.6 .3l-16.3 1l20.7 .7l3.2 .9l1.2 1.4l-1.8 2.3l-3.5 1.8l-3.3 1.2l-6.1 3.7l-3.5 1.2l-18.7 3l-18.2 1.7l-13.9 .2l-12.4 1.4l-17.8 1.1l-4.5 .6l-.6 .3l3.7 1l39.7 6.3l3.4 .8l23.7 7.2l3.6 1.3l19.7 8.9l5.8 3.6l8.9 6.4l12.5 7.8l17.4 11.8l12 9.2l5.5 5.1l4.7 5.6l4.1 5.7l5.3 9.3l5.9 9.6l1.3 3.3l.6 3.4l1.3 14.1" stroke="#92ff47" stroke-width="0.6"/>
<path d="M232.4 199.8l-6.7-.4l-11.5 1l-18.8 1l-19.5 .1l-11.7 .8l-18.6 .4l-13.6 .8l-3.5 .4l-2.1 .5l1.7 .6l10.2 0l7.8 1.2l15.1 .6l2.7 .9l-1.1 1.6l-3 2.2l-3 2l-3 1.2l-15.4 3.4l-11.5 1.4l-14.9 2.2l-53.8 3.4l-2.9 .4l-1.7 .5l-.2 .6l1.8 .8l3.2 .7l17.9 2.8l3.7 .8l29.2 7.6l17.8 5.3l7.2 2.5l7.2 3.1l16.5 9.4l6.5 4.2l11.1 8.1l14.4 8.2l3.3 2.2l8.2 6.9l9.1 6.8l2.8 2.7l2.5 3l6 9l6.1 10l1.9 3.8l1.3 3.6l.4 3.6l.6 14.7" stroke="#99fe42" stroke-width="0.6"/>
<path d="M233.0 200.1l-4.7-.4l-4-.1l-13.5 1.6l-55.2 1.4l-28.5 1.4l.2 .4l3 1.4l3.3 1l8-.1l3.8 .9l8 4.2l4.5 1.1l.8 .6l-18.2 3.8l-20.9 2.6l-21.9 2.1l-33.7 2l-7.1 .7l-4 .8l.7 .5l2.7 .5l40.5 7.1l27.7 8.3l20.2 8.2l7.2 3.8l6.4 3.9l11.2 8.4l13.6 7.9l6 4.3l7.2 6l13.3 9.8l5 5l4.6 5.8l12 19.4l1.2 3.4l.6 10.7l.4 4.1l.9 4.3" stroke="#9ffd3f" stroke-width="0.6"/>
<path d="M232.4 199.6l-22.9 .7l-26.5 1.5l-23.8 .5l-10.7 1l-12.7-.4l-15.9 .8l4 .3l12.7 1.7l10.4 .3l4.2 .4l7.9 1.3l1.1 .5l-7.1 3.1l-4.8 1.6l-4.2 .9l-3.8 1.1l-5.9 2.7l-3.2 .8l-16.4 1.6l-17.9 1l-15.6 1.7l-23.1 1.5l-3 .5l-1.6 .6l.4 .7l2.5 .9l18.9 3.8l9.8 2.8l15.6 3.7l14.9 3.9l3.6 1.2l10.3 4.4l10.7 3.5l17.4 9.8l12.5 8.4l15.8 9.2l7 4.5l9.8 6.8l5 4.2l10.3 10.9l2.7 3.2l4.5 6.5l4.1 6.8l1.7 3.6l1.1 3.5l.3 3.6l.3 14.8" stroke="#a7fc3a" stroke-width="0.6"/>
<path d="M232.0 199.9l-8.1 .2l-8.1 .6l-38.8 1.2l-15.8 .2l-35.1 1.8l-5.7-.2l12.9 1.3l14.3 1l17.8 2.3l-5.3 1.4l-9.3 4.1l-18.3 4.4l-7.5 1.2l-22.7 2l-15.8 .5l-14.9 1.4l-14 .4l-3.4 .4l-2.2 .5l-.8 .6l1.1 .6l2.8 .6l31 5.3l12.3 2.5l18 5.2l18.3 6.6l7.1 3.1l14.6 7.9l11.9 8.7l23.9 14.6l3.3 2.2l15 11.8l2.8 2.7l11.9 15.9l1.7 3.3l4 10.8l2 7.6l.6 4l0 4.2l-.9 4.3" stroke="#acfb38" stroke-width="0.6"/>
<path d="M231.6 199.3l-7.3 0l-11.5 1l-33.4 1.2l-11.4 .6l-36.5 .7l-8.7 .8l-2.5 .5l-1 .6l1.9 .5l8.6 .4l2.7 .8l1.8 1.6l1.8 1.2l9.8-.8l5.7 1.8l1.9 3.1l-2.8 2.4l-4.9 1.4l-13.7 3.2l-23.5 1.5l-40.3 1.5l-9 1.1l-3.3 .6l-3.1 1.1l1 .5l2.8 .5l18.4 2.7l10.9 2.5l25.2 6.4l10.6 3.7l11.3 3.3l17 8.2l3.2 1.9l8.7 6.4l16.3 9.5l6.1 4.3l8.6 6.6l12.8 8.5l2.6 2.5l2.4 2.7l9.3 12l4.4 6.4l1.8 3.3l3 6.6l1.2 3.4l2.3 10.5l.5 3.8l.1 4" stroke="#b1f936" stroke-width="0.6"/>
<path d="M230.7 199.6l-5.7-.1l-23.8 1.7l-16.4 .3l-7.1 .7l-22.3-.2l-15.7 1.1l-15.6-.2l-4.2 .2l-2.4 .5l.4 .8l3.9 1.2l5.5 1.2l13.1 1.8l2.7 1.1l1.3 1.8l3.1 1.5l12.2 0l1.7 .9l-3.5 1.7l-5.5 1.5l-5 .8l-30.2 2.2l-11.6 1.3l-8 .6l-11.6 1.5l-18.7 1.1l-7.9 .8l-4.7 .8l.1 .5l2.4 .6l18.3 2.8l23.8 5.4l13.1 4.4l19.1 5.7l6.8 2.5l7.3 3.4l3.7 2.1l11.2 7.8l7 4.1l9.5 6.4l13 7.5l13.9 8.5l2.8 2.2l2.4 2.4l10.2 12l2.3 3.2l5.5 9.6l4.8 6.7l1.6 3.5l.6 3.7l.6 15" stroke="#b7f735" stroke-width="0.6"/>
<path d="M231.6 199.3l-6.7-.2l-7.5 .9l-7.6 .5l-19.1 .3l-18 1.1l-13.7 .2l-12 .9l-17.1 .2l-6.9 .6l-1.4 .2l6 1l18.2 1.2l4.1 .6l1.6 1.1l-1.1 1.9l-2.7 2.3l-3.2 1.6l-6.4 .7l-4.1 .9l-10 3.5l-6.7 1.7l-12.1 1.4l-6.9 1.1l-11.1 1l-29.5 .9l-2.9 .4l1.1 .5l6.9 1.7l24.5 4.8l18.4 3.9l21.1 6.5l8.8 4.4l10.9 4.3l15.6 9.6l9.5 6.3l9.5 5.7l7.8 6.3l9.7 5.9l7.5 7.2l6.3 4.8l2.7 2.5l2.2 2.9l11.8 19.2l1.7 3.2l1 3.4l1.2 10.5l.7 3.8l1.2 3.9" stroke="#bef434" stroke-width="0.6"/>
<path d="M231.6 199.9l-4.3-.5l-4.1-.1l-7.8 .9l-11.4 .5l-15.5-.4l-11.2 1.5l-12.2 .2l-11.2 .9l-11.2-.2l-15.1 .4l-12.4-.1l13.5 3.6l3.1 .5l11.2-.1l12.7 .6l3.2 .8l-1.7 1.2l-5.1 1.7l-9.1 2.2l-13.6 5l-8.4 1.9l-47.1 4.4l-18.2 .9l-2.1 .3l-.3 .4l5.3 1.2l25.9 3.3l8.1 1.5l7.6 2l19.9 5.8l9.2 3.8l11.8 4.3l3.3 1.7l25.7 16.2l24.4 14.3l3.2 2.2l7.5 7.2l6.8 5l3.2 2.8l2.6 3l2.2 3.2l11.9 20l1.7 3.6l.8 3.6l.6 3.7l.4 7.7l-.1 4.1" stroke="#c3f134" stroke-width="0.6"/>
<path d="M231.4 199.5l-7.6-.4l-31.3 2.2l-10.7 .2l-14.9-.2l-15 1l-33.9 1l-2.1 .5l-.1 .7l3.8 .6l5.6 .5l12.3 .6l9.7 3.1l1.7 1l-.3 1.2l-2.5 1.6l-4 1.5l-13 2.7l-9.9 2.6l-18.1 1.7l-11.8 1.7l-3.9 .4l-13.8 .2l-9.2 .7l-10.9 1.7l3 .8l18.6 3.5l26.1 5.8l28.9 9l10.2 3.6l3.3 1.5l6.9 3.8l25.8 15.6l19.7 12.7l5.9 4.1l8.6 6.8l5.4 5.1l4.5 6l5.8 9.4l7.6 10.1l1.3 3.5l.1 3.6l-.5 7.5l.2 3.7l1.1 3.8" stroke="#c8ef34" stroke-width="0.6"/>
<path d="M230.9 199.5l-3.5-.3l-3.8 .2l-8 1.2l-4 .2l-18.6-.1l-38.5 1.7l-18.7 .1l-15.6 .9l-12.1-.2l18.6 3l3.8 1l1.9 1.6l1.1 1.8l2.8 .7l5.7-.8l-.9 1.6l-3 2.2l-3.4 1.5l-11 2.6l-4 .6l-20.4 1.7l-17.8 2.9l-24.9 1.7l-2.9 .6l-1.1 .7l.5 .7l2.3 .5l12.4 1.4l21.1 3.3l12.9 4.6l15.7 3.9l10.9 3.7l10.5 4.3l6.7 3.3l23.1 13.7l9 6.3l10.1 5.3l7.3 4.2l8.9 6.5l8.5 7.5l2.6 2.8l11.5 15.6l3.6 6.7l2.4 6.9l1.7 10.4l.8 7.7" stroke="#cdec34" stroke-width="0.6"/>
<path d="M230.9 199.3l-3.8-.4l-3.7 0l-7.1 1.2l-11.1 .7l-18.6 .2l-16.5 .9l-30.7 .2l-14.7 1.1l-13.5 .2l-.5 .6l3.2 1.2l9.4 2.3l5.4 2.4l9.2 1.1l3.1 .7l-1.2 1.5l-4.6 1.7l-15.3 3.7l-15.5 1.7l-17.5 3.3l-7.8 .7l-14.1 .6l-11.8 1.3l12.3 1.8l11.8 2.3l11.5 1.3l3.9 .7l7.4 2.1l27.8 9.2l13 5.4l9.6 4.9l30.6 19.5l10.4 5.5l3 2.1l14 11.1l5 5.4l7 8.6l2.1 3l6.8 12.3l1.7 3.3l1.3 3.6l2 11.1l.2 6.7" stroke="#d2e935" stroke-width="0.6"/>
<path d="M231.4 199.9l-3.7-.7l-4 0l-8.3 1.1l-15.8 .5l-11 1l-11.2-.8l-3.8 .1l-7.8 1l-3.8 .1l-7.6 0l-10.7 .4l-30.8 .4l-.6 .2l4.9 2l3.7 1.4l3.6 .9l13.1 1.8l8.2 1.8l3.5 1.1l1.7 1.3l-1.8 1.2l-21.5 3l-25 2.4l-9.7 1.7l-22 2.7l-4.9 .5l-11.8 .2l-2.2 .5l-.8 .8l1.2 .8l3 .5l9.6 1l10.8 1.7l17.8 3.9l15 3.9l22.6 7.5l16.8 7.7l3.7 1.9l12.1 8.3l13.5 8l6.2 4.2l13.3 7.3l7.9 7.3l6.9 5.1l3 2.6l4.8 5.7l6.7 10l5.2 9.9l1.6 3.3l1.2 3.5l1.7 7.4l.1 4.1l-.7 4.3" stroke="#d9e436" stroke-width="0.6"/>
<path d="M231.0 199.1l-3.5-.3l-3.8 .2l-8 1.1l-26.6 1.4l-12 0l-29.7 1.1l-38.9 .5l.3 .4l6.8 2.6l16.8 5.8l3.1 2.6l9.3 2.5l1.4 .8l-3.3 .5l-5.4 .1l-17.9-.1l-13.6 .5l-18 3.3l-27.1 3l-5.8 1l-1.4 .5l.1 .4l2 .4l18.2 1.3l8.2 1.1l17.9 3.4l11.4 2.7l10.3 3.1l7.5 2.7l17.7 7.9l3.2 1.6l2.8 1.8l4.9 4.1l3.1 2.2l7.1 4.3l8.5 6.4l13.8 8.7l6.4 4.6l8.1 7.2l12.8 14.2l2.2 3.2l5.3 9.5l4.3 6.7l1.5 3.5l.9 7.3l.2 11.5" stroke="#dde037" stroke-width="0.6"/>
<path d="M229.9 199.3l-3.7-.6l-3.6-.1l-7.2 1.1l-24.9 1.2l-41 1.2l-15.7 .1l-23.2 1.2l9.3 3.4l5.7 3.3l3.9 1.9l11.9 4l-14.3 2.3l-21.5 2.1l-21.8 2.9l-27.5 2l-2.6 .5l-1.3 .6l.4 .6l2.4 .5l17.5 2l14.6 3.2l10.5 2l18.2 5.2l15.9 5.4l6.6 3.1l20.1 10.8l9.9 6.2l11.9 8.5l12 7.1l15 11.1l6 5l2.6 2.7l4.2 5.8l4.8 9.6l6 9.9l1.2 3.4l.4 3.4l.1 14.9" stroke="#e1dd37" stroke-width="0.6"/>
<path d="M230.7 199.7l-4.1-.6l-3.7-.1l-7 1.1l-3.4 .1l-11-.1l-12.9 1.1l-15.8-.2l-9.8 .7l-15.3 .5l-9.7 .9l-13-.5l-20.1 .7l-1.4 .2l-.1 .3l5.4 2.2l8.7 2.3l10.8 4.4l.2 .7l-13.4 4.2l-17.7 2.8l-13.2 2.7l-9.4 1.1l-15.9 1l-1.5 .6l0 .7l1.9 .8l15.5 2.4l17.7 3.3l7.4 1.7l23.8 7.2l14.3 4.9l5.8 2.9l11.7 7.1l11.6 8.1l21.3 13.3l22.9 17.6l2.6 2.5l4.1 5.3l11.2 18.7l1.6 3.2l1.1 3.2l.5 3.2l1.5 14.5" stroke="#e5d938" stroke-width="0.6"/>
<path d="M230.5 199.7l-4.5-.9l-3.8-.1l-6.3 1.2l-7.2 .5l-35.6 1.2l-14.4 0l-23.2 1.3l-27.6 .7l5 .9l6.5 2l11 1.2l5.2 .8l4.1 1.2l3.3 1.1l1.9 1.1l.3 1.3l-1.6 1.6l-3.6 1.4l-16.2 2.9l-30.7 2.7l-11.4 1.8l-19.2 1l-7.4 .7l-1.5 .4l.4 .5l2.5 .6l37.4 6.7l14.1 4.2l10.9 2.8l6.4 2.2l24.9 10.9l3.4 1.9l28.1 18.6l16.8 10l10.9 9.3l5.5 5.5l11.9 15.6l1.9 3.1l3.2 6.5l1.2 3.4l.7 3.6l.7 7.5l-.1 3.8l-.6 4" stroke="#ebd339" stroke-width="0.6"/>
<path d="M229.8 199.0l-3.8-.7l-3.7 .1l-7.2 1.5l-7.5 .6l-15.9 .3l-13.5 .7l-19.7 .2l-14.3 1l-18-.5l-4.5 .2l-7.4 .8l-2.5 .7l15.4 2.7l14.4 3.3l3.8 1.2l.5 .9l-8.1 2.1l-7.9 2.7l-22.7 1.9l-3.6 .7l-10.5 3l-3.3 .5l-12.8 1.2l-19.3 1l-6.1 1.3l-1.5 .6l-.1 .4l15.1 1.9l12.8 2.1l10.1 2l30.2 6.9l6.9 2.5l17.8 7.9l10.1 5.1l6.1 3.7l9.1 6.7l10.1 5.8l18.8 12.3l11.8 9.3l2.8 2.4l2.5 2.6l10.7 16l4 6.7l1.7 3.4l1.2 3.3l.5 3.4l.5 7l0 7.8" stroke="#eecf3a" stroke-width="0.6"/>
<path d="M229.5 199.1l-2.9-.6l-3.6 0l-8.3 1.4l-12.1 .7l-25.9 1l-11 .1l-15.7 .7l-31.2 .4l-8.4 .3l-4.3 .8l-.6 .4l1.7 .8l9.9 .3l4.3 .8l7.8 2.5l9 1l5 .9l3.2 1.1l-.2 .8l-45.6 8.8l-15.1 2.5l-8.7 .4l-18.7-.1l-3 .1l-3.3 .8l1 .4l2.9 .6l14.8 2.2l15.6 3.4l11.3 1.4l4 .9l28.6 9.1l11 5.2l16.4 9.2l6.3 4.1l12.5 8.7l9.8 6.3l6.2 4.5l18.6 14.6l2.6 2.7l2 2.7l7.9 13.2l4.3 6.5l1.8 3.2l1.3 3.5l.8 7.6l.2 11.7" stroke="#f1cb3a" stroke-width="0.6"/>
<path d="M230.2 199.3l-4.1-.6l-4 0l-7.7 1.1l-15.2 1.3l-14.9-.2l-28.6 1.4l-24.2 .2l-26.9 1.1l7.4 .4l8.2 1.2l8 1.9l2.9 .9l1.6 .9l3.2 .8l10.2 1.8l1.8 .8l-1.7 .8l-18.8 2.8l-5.8 1.1l-10.4 2.7l-3.8 .7l-42.4 4.5l-8.6 1.1l-3.1 .9l19.4 2.1l20.7 3.3l7.1 1.5l19 5.2l17.5 7.1l7.1 3.3l6.5 3.7l19.9 13.5l16.9 9.2l18.5 13.4l6.6 5.6l2.8 3.1l10.6 14.9l3.8 7.1l3.4 7.5l1 3.5l1.4 7.2l.2 3.9l-.1 4.3" stroke="#f4c73a" stroke-width="0.6"/>
<path d="M230.0 199.4l-4-.5l-3.9 0l-7.6 1.2l-10.6 .6l-34.7 1.1l-26.2 .6l-14 0l-14.7 1.4l-3.6-.2l-2.4-.5l7.9 1.8l3.9 2.1l2.6 2l3.7 1.1l4 .6l6.6 2.1l14.7 3.1l-1.8 .3l-11.4 .7l-15.4 1.9l-14.7 1.2l-18.9 3.1l-18.2 1.3l-17.4 2.6l2.5 .7l3.3 .4l14.7 .5l4.1 .6l11 2.8l14.2 2.6l15.9 3.9l21.4 8.9l3.3 1.6l6.1 3.8l5.8 4.2l17.5 10.4l9.4 6.5l9.1 7.1l9.8 6.7l2.8 2.4l6.7 8l8.2 8.9l4.4 6.6l5 10.4l1.2 3.7l.6 3.7l1.5 14.7" stroke="#f6c33a" stroke-width="0.6"/>
<path d="M229.7 199.6l-7.3-.3l-7.6 .8l-7.4 .2l-10.8 .7l-22.5 0l-25.8 1.5l-30.4 .7l-14.1 .1l-.2 .1l14.2 1.4l2.8 .5l4.9 2.6l4.6 1.4l10.8 1.4l0 .3l-4.5 1l-11 3.1l-3.8 .6l-6.3-.1l-7.7 1.3l-3.5 .9l-10.8 3.6l-7 1.7l-22.7 2l-7.6 1.2l-1.9 .4l-.2 .4l15.4 1.4l12.5 1.9l11.6 1.3l3.7 .8l10.2 3.3l14.7 3.8l3.8 1.3l9.7 4.7l9.8 4.1l3.5 1.8l6.7 4.1l15 10.5l10 5.3l6.6 4l15.6 11l8.7 7.4l5.1 5.4l8.8 12.3l2.1 3.2l1.6 3.2l3.9 9.9l3 11.2l.4 3.8l-.4 3.8" stroke="#f9bc39" stroke-width="0.6"/>
<path d="M230.6 199.1l-4-.6l-4 .1l-7.6 1.6l-3.8 .4l-3.8 .1l-11.9-.4l-33.7 1.5l-15-.1l-11.1 1.2l-4.7 .1l-16-.3l-7.6 .7l-1.5 .3l.3 .1l11.8 .7l2.9 1.3l3.3 2.2l3.8 1.8l4.2 .7l8.1 .1l2.3 .8l-.1 1.6l-2.8 1.7l-4.3 .8l-8.3 .6l-11.2 2.2l-7.7 .8l-18.5 3.2l-8.1 1l-23 2.1l-4.9 .8l-.2 .3l20.5 1.4l26.7 4.4l7.9 1.6l4 1.1l13.2 5.8l15.2 5l3.4 1.5l2.9 1.8l15.1 10.9l17.4 9.9l3.2 2.1l15.2 11.2l16.4 15l5 6.3l10.8 19.8l1.4 3.6l2.4 18.2" stroke="#fbb838" stroke-width="0.6"/>
<path d="M231.0 199.1l-4.5-.7l-4.2 0l-7.9 1.3l-24.7 1.8l-15.2-.5l-8.1 .3l-9.7 .9l-11.7 .4l-27-.2l-14 1.4l6.5 .8l3.7 .8l6.8 2.6l3.8 1l7.7 1.2l.9 .8l-2 1.3l-7.4 2.8l-13.7 4.1l-6.9 1.1l-11.6 .8l-39.8 6.7l14.3-.1l12.2 .4l11.5 1.5l15.1 2.4l6.9 2.1l13.6 5.2l10.9 3.8l17 8.4l2.9 2.1l4.1 4.7l2.7 2.1l10.9 5.7l6.4 4.3l9 6.6l8.2 6.8l6.4 4.7l3.1 2.6l2.6 2.7l8.6 11.7l7.4 9l3.8 6.7l1.5 3.5l.9 3.3l1.5 18.3" stroke="#fcb336" stroke-width="0.6"/>
<path d="M230.2 199.7l-4.1-.5l-3.8 .1l-7.4 1l-14.9 .8l-16.4-.1l-31.4 1.1l-10.3 .6l-14.6-.1l-13.5 .7l-9.9 0l-.9 .3l1.8 .6l9.3 1.4l7.2 .5l3.7 .8l7.8 2.7l9.3 2.9l2 1.1l-2.4 1.1l-5.6 1.1l-9.2 1.2l-14.3 .2l-4.2 .4l-7.1 1.3l-15.4 4.1l-4.2 .7l-31 2.8l.7 .3l3.1 .5l19.4 2.7l19.3 4l7.3 1.9l25.6 7.6l6.9 2.6l6.8 3.2l14.4 7l6.9 4l14.9 10.7l30 18.8l5.6 5.1l8.3 8.7l2.3 3.2l1.8 3.5l3.1 7l3.6 7l1.4 3.5l.8 3.5l.8 7.3l0 7.4" stroke="#fdae35" stroke-width="0.6"/>
<path d="M229.4 199.3l-4.4-.7l-3.8 0l-6.7 1.3l-3.3 .3l-15.3 .5l-18.3 1.4l-12.6-.8l-4 .2l-10.5 1l-21.1 .5l-13.9-.2l-11.1 .5l-.8 .2l6.7 1.8l14.2 3.1l18.5 6.6l-.6 .6l-8.8 1.3l-6.9 1.5l-3.7 .6l-12.2 .6l-31 3.3l-23.6 1.4l-2.8 .5l-1.1 .6l.6 .6l2.3 .7l16 2.5l20.3 4.1l22.3 5.6l10.9 3.5l17.3 7.2l16.6 9.6l10.6 8l17.9 9.9l7.1 4.2l6.2 4.6l10.8 9.8l5.3 5.7l4.7 6.2l5.5 9.9l4.2 6.8l1.5 3.5l1.3 7.2l.3 7.7l-.2 4" stroke="#fea732" stroke-width="0.6"/>
<path d="M230.0 199.5l-3.5-.6l-3.7 0l-8.1 1.2l-16.8 .2l-14 1.3l-15.1-.3l-15.8 .8l-25.7 .6l-15.1 0l-6.1 .4l-1.4 .2l.4 .4l3.1 1l19 3.2l14.7 4.1l3.2 1.1l1.3 1.2l-2.3 1.1l-22.3 3.7l-15.9 1l-15.1 1.9l-24.3 1.7l-8.5 1.4l-6.7 1.5l.4 .5l2.4 .4l18.7 1.8l4.2 .7l11.3 2.7l10.4 2.1l19.7 5.4l14 5l7.4 3.4l9.2 5.7l11.4 6l39.3 24.7l6.3 4.8l7.2 7.8l5.8 5.5l2.7 3.3l2.1 3.5l8.4 17.5l1.1 3.7l1.3 7.6l.3 3.7l-.3 3.7" stroke="#fea130" stroke-width="0.6"/>
<path d="M229.8 199.5l-3.1-.5l-3.4 0l-7.2 .9l-15.5 .4l-33 1.4l-11.9-.1l-32.9 1.5l-11 .2l-1.1 .4l1.8 .7l4.7 .5l4.1 .1l3.4 .7l8.3 4l5.1 .4l4.3-.6l1.3 .3l-5.8 3.9l-2.4 1l-18.4 4.5l-7.1 1.4l-11 .8l-14 2.4l-19.8 .8l-8.6 .6l-3.8 .7l.6 .5l2.4 .7l21.3 2.5l17.5 3.1l8.3 1.9l21.6 6.5l7.1 2.8l15.7 7.5l6.9 4l8.8 6l15.7 9.5l8.8 7l9.4 6.7l5.6 4.4l2.6 2.4l13.2 13.9l2.2 3l5 9.5l4.4 6.8l1.4 3.5l1.9 18.4" stroke="#fe9b2d" stroke-width="0.6"/>
<path d="M230.4 199.7l-3.7-.5l-3.9-.2l-7.8 .9l-19.1 1l-22 0l-37.4 2.2l-19.2-.3l-13.2 .9l14.7 1.8l4.5 1l3.1 1.6l1.7 1.9l3.6 1.3l8.5 .5l-1.1 .6l-13.9 2.7l-15 4.3l-22 4.4l-8 .7l-27.1 .9l-2.1 .2l-.6 .4l1.2 .6l2.9 .6l18.4 3.1l14.9 3l8.1 2l32.3 9.9l6.7 2.4l6.2 2.7l7.1 3.8l9.4 5.8l10.5 6.1l11.8 8.2l13 7.9l3.1 2.3l8.3 7.5l6.1 4.5l2.7 2.5l12 15.3l1.7 3.2l1.2 3.5l2.3 7l1.9 6.9l.7 3.6l.2 3.8l-.5 4" stroke="#fe962b" stroke-width="0.6"/>
<path d="M229.9 199.1l-2.9-.9l-3.8 0l-8.9 1.6l-8.2 .8l-33.5 .4l-14.3 .9l-14.9 .3l-23.6 1.2l-16.7-.4l-1.5 .3l-.2 .4l2.6 .8l5.5 .9l16.1 3.8l5.5 1.4l3.2 1.2l2 1.3l.8 1.5l-2.9 1.2l-21 3.3l-16.5 2.1l-10.4 1.1l-14.7 1.1l-12.7 1.8l-9.9 .8l-.3 .3l14 2.4l17.2 2l18.8 4.2l11.8 2.2l3.6 1.2l27.6 11l17 9.4l6.2 3.8l12.4 8.7l13.1 7.9l12.4 9l5.7 4.9l7.3 8l4.6 5.9l4.5 6.9l3.5 6.9l1.4 3.5l1.1 3.5l3 18.6" stroke="#fe9029" stroke-width="0.6"/>
<path d="M230.4 199.5l-3.4-.5l-3.7 0l-7.7 1l-43.2 1.3l-14.5 1l-31.9 .2l-11.7 .7l-1.2 .2l4.8 1.6l4.1 1.8l4.3 3.4l3.3 1.1l7 1.3l1 .9l-2 1.3l-20.9 5.1l-3.7 .6l-11.6 .8l-10.3 1.7l-7.4 .9l-22.2 .4l-5 .5l-.5 .4l5.2 1.5l20.8 3.7l21.3 4.4l10.2 3l20 7l10.2 4.2l6.5 3.3l6.2 3.7l14.3 9.9l13.6 7.5l3.4 2.1l14.1 10.3l12.7 11.9l2.3 2.7l10.7 14.7l3.6 6.7l2.5 6.8l2.1 10.3l.7 7.8" stroke="#fc8725" stroke-width="0.6"/>
<path d="M229.5 199.3l-2.9-.4l-3.5 .1l-8.2 1.3l-4.2 .2l-64.6 1.5l-16.9 1l-15.4-.3l-4.2 .2l-8 1l-.7 .2l5.8 1.3l4 1.3l11.2 2.2l6.8 2.4l4.9 1.2l6.2 .9l-8.3 2.4l-11.3 2l-7 .5l-8-.1l-3.6 .8l-6.8 2.8l-3.5 1.1l-3.5 .6l-28.3 1.8l-5.4 .8l-.5 .4l4.1 1l18.5 2.4l11.3 2.5l29.6 7.7l17.7 6.3l7.4 3l7.2 3.7l11.3 7.9l6.9 4.5l27.1 15.7l2.9 2.1l5.7 4.7l5.9 5.1l5.6 5.3l4.8 5.7l4.1 6.2l8.2 13.9l1.3 3.5l.3 3.5l.2 7l.9 7.7" stroke="#fb8122" stroke-width="0.6"/>
<path d="M230.2 199.5l-6.7-.2l-7.9 .9l-26.3 .3l-13.9 1.2l-14.4-.1l-11.8 1l-4.1 0l-10.2-.6l-14.2 .9l-11.8-.1l5.7 1.1l3.7 1.2l5.1 3.1l10 .6l3.9 .8l-.4 1.6l-3.1 1.8l-3.1 1.4l-3 1l-12.6 2.3l-9.5 2.8l-3.7 .5l-11.4 .6l-21 2.8l-14.2 .6l-2.6 .2l-1.1 .4l.6 .6l2.4 .8l3.8 .9l14.7 1.7l3.9 .9l6.2 2.3l3.5 .9l7.7 1.2l3.6 .9l10 3.5l10.6 2.5l10.5 3.4l10.3 4.4l9.4 5l15.3 10l15 8.9l10.7 5.6l3.2 2.2l14.1 11.1l6.2 5.2l2.4 2.7l11.7 17.7l2.1 3.3l1.6 3.3l1 3.5l.4 10.8l1 7.4" stroke="#fa7b1f" stroke-width="0.6"/>
<path d="M229.6 199.2l-4.2-.8l-3.7 .1l-6.8 1.8l-7.3 .7l-12.3-.3l-14.8 .7l-15.4 .1l-26 1.1l-20.9 .2l-7.9 .9l-1.7 .4l11.6 1.8l6.2 2.3l12 2.3l5.6 1.5l4.1 1.3l1.3 .8l-2.3 .7l-4.6 .8l-9.2 1.5l-9.5 1.2l-12.5 2.4l-18.8 1.9l-22.8 1.4l-15.7 1.7l-2.1 0l8.6 1.2l19.5 2l18.6 3.3l18.3 4.8l3.7 1.1l18.2 7.2l3.3 1.6l8.6 5.6l6.9 3.6l3.4 2.2l6.4 4.8l13.2 8.5l15.4 11.3l12.1 9.7l5.6 5.4l9.2 12.3l3.6 6.4l3.3 7.2l1.5 3.8l1.7 7.7l.9 7.4l-.3 3.5" stroke="#f9751d" stroke-width="0.6"/>
<path d="M230.5 199.3l-7.5-.2l-7.9 .8l-19.6 1.2l-7.9-.1l-15.2 .5l-10.9 0l-17.9 1.1l-36.3 .5l-1.8 .2l-.8 .4l1.6 .6l4.9 .1l4.4 .4l8.6 1.8l14.1 3.5l1.9 .7l.3 .6l-1.8 1l-7 2.7l-4.3 1l-22.9 3.8l-11.5 3l-3.7 .7l-34.8 2.4l-1.8 .2l-.2 .3l9.6 1.5l14.4 1.1l4 .6l21.6 4.6l11.2 2.8l7.1 2.3l21.2 8.4l6.8 3.4l6.7 4.2l12.2 8.6l26.1 17l3 2.3l5 4.8l3 2.4l7.3 4.9l2.8 2.7l5.4 9.5l4.8 6.5l4.1 6.3l3.3 6.7l.9 3.7l1.2 7.8l0 3.9l-.6 3.9" stroke="#f66c19" stroke-width="0.6"/>
<path d="M229.8 199.5l-7.3-.7l-14.3 1l-11.2 1.1l-17.3 .1l-10.3 .9l-16-.2l-14.6 1l-17.8-.1l-11.7 .8l-.7 .4l10.3 3.1l10 1.9l10.2 2.9l-.3 .7l-11.1 2.2l-9.2 2.4l-14.5 2.6l-14.3 3.2l-21.4 3l-12 .1l-2 .5l-.5 .7l.9 .7l2.1 .5l18.1 1.4l14.3 2.3l7.1 1.5l17.4 4.4l7 2.3l19.9 8.2l9.7 5l9.6 5.8l12.2 8.8l12.7 7.3l9 5.8l5.6 4.2l5.3 4.9l8.7 7.3l2.4 2.7l5.7 9.2l4.5 5.8l2.1 3.2l1.8 3.3l2.7 6.7l1.6 10l.2 3.8l-.3 4.2" stroke="#f46617" stroke-width="0.6"/>
<path d="M229.5 199.4l-3.1-.6l-3.4 0l-7.5 1.3l-15.4 .8l-21.3 .1l-14.5 .9l-14.9 0l-14 .8l-14.4-.1l-8 .5l-1.9 .3l-.4 .4l2.3 1.3l5.1 3.6l3.9 .9l5.3 .4l9.5 .2l1.8 1.3l-1.6 2.5l-4.1 2.2l-4.9 1.1l-21.6 .7l-3.8 .5l-7.4 1.8l-10.2 3l-3.9 .7l-23.2 1.8l-5.4 .9l-1 .6l.9 .5l16.1 1.8l15.1 2.5l25.3 6.5l28.6 9.6l6.3 2.8l8.9 4.8l12.2 8.7l30.2 19.6l15.1 11.2l5.2 4.7l2.1 2.6l4 5.9l4.1 6.6l3.4 6.4l1.3 3.2l.6 3.4l.3 7.2l.4 3.7l1 3.7l1.5 3.7" stroke="#f26014" stroke-width="0.6"/>
<path d="M229.8 199.4l-3.1-.4l-3.6 .1l-7.9 1.1l-15.2 0l-14.7 .9l-10.7 0l-15.2 .8l-14 0l-12.3 .7l-21.9 .4l-2 .4l-.7 .5l2.4 1.1l7.9 2.6l2.8 1.2l5.2 3l4.3 1.5l9.4 1.9l-.2 .5l-13.6 1.5l-8.4 .6l-13.7 1.9l-6.9 .6l-10.7 2.4l-3.7 .5l-13.5 .8l-16 1.9l.8 .4l2.8 .6l24.4 3.7l7.6 1.4l15.6 3.9l11 2.2l3.5 1l17 6.9l8.7 4.1l6.6 3.9l12.6 8.5l22.3 13.5l2.9 2.1l7.9 7.1l9 6.5l2.8 2.3l5.4 5.4l5.3 6l2 3.1l4 9.6l5.2 10.4l1.6 6.1l.4 3.4l0 4l-.4 4.9" stroke="#f05b12" stroke-width="0.6"/>
<path d="M228.5 199.1l-2.8-.3l-3.3 .3l-3.6 .9l-3.8 .5l-3.9 .1l-19.8 0l-21.8 1.1l-15.7-.2l-18 1.3l-19.6-.1l-7 .5l-3.3 .7l1.7 .7l4.8 1.4l4.4 .7l9.4 2.2l16.4 2.5l2.5 1l-2 1l-17.4 4l-3.6 .5l-11.8 .5l-29.7 5.3l-19.1 1.4l-4.8 .8l-.9 .5l.9 .5l2.7 .5l13.6 1.5l4 .8l18.6 3.9l18 4.9l13.9 5.4l14.2 4.7l6.8 3.4l15.3 10.3l16.6 10.2l17.9 11.9l9.1 7l5.9 5.5l9.6 11.1l4.7 6.4l3.2 6.6l2.2 6.9l1.8 11l.3 3.8l-.2 3.9" stroke="#ec530f" stroke-width="0.6"/>
<path d="M229.2 198.7l-3.9-.1l-3.8 .3l-7.5 1.2l-26 1.3l-10.8-.1l-22.1 .4l-22.9 1.5l-22.4 .1l-.8 .2l6.7 1.9l3.1 1.3l2.4 1.5l3.1 1.2l13.1 1.9l5 1l.2 1l-3.4 1.2l-9.3 2.1l-13 1.6l-27 4.4l-7.3 .7l-15.5 .5l-11.2 1.5l-1.6 .4l-.4 .4l3.7 1.1l18.5 3.9l16.7 3.3l21.2 6.2l22 7.3l3.3 1.4l9.5 4.7l6.5 3.7l15 10.3l9.4 5.6l8.3 5.6l13.8 8.3l6.2 4.6l2.7 2.5l7.1 8l4.5 5.7l5.7 9.6l3.3 7l1 3.5l.6 6.8l.4 10.7" stroke="#ea4e0d" stroke-width="0.6"/>
<path d="M227.7 199.2l-3-.7l-3.4 0l-3.7 .8l-3.9 .4l-18.3 1.1l-13.9 .4l-16.2 0l-21.5 1.8l-13.9-.3l-20.5 .3l-1.8 .3l.3 .5l14 2.5l3.1 2l2.4 2.4l4.6 1.4l5.7 .4l2.7 .6l-2 1.1l-4.3 1l-15.4 2l-8.9 1.9l-15.4 2.7l-38.4 3.3l-5.3 .7l-.4 .3l5.1 1l25.6 2.8l22.4 3.9l21.9 6.7l19.6 8.7l19.2 12.1l15.7 10.5l6.4 3.9l3.1 2l9.4 7.2l6.1 4.1l2.6 2.2l2.2 2.5l4.1 5.8l7.4 9l1.8 2.8l5.4 10.1l1.8 3.7l1.3 3.5l2.8 17.8" stroke="#e7490c" stroke-width="0.6"/>
<path d="M228.8 199.2l-4.1-.7l-4 .2l-4 1l-7.9 .6l-11.6 .1l-16 .9l-23.2 .2l-33.4 1.3l-15-.3l-6.5 .6l-1.5 .3l.3 .4l18.3 3.7l12.4 3.6l13.3 3.2l1.9 1.2l-1.6 .8l-4.5 .6l-33.3 2.8l-10.9 1.3l-11.5 2l-24.2 1.8l-7.7 .8l-3.4 .8l19.9 2.5l23.5 4.2l8 1.9l22.4 6.5l7.3 2.4l6.6 2.7l14.2 7.8l10.3 6.2l9.5 6.4l11.6 8.7l10.9 6.8l15.8 12.3l2.6 2.6l6.4 9.2l5.5 6.7l2 3.4l1.5 3.6l2.4 7.2l1.4 7.3l.6 7.6l-.5 4.2" stroke="#e4450a" stroke-width="0.6"/>
<path d="M227.4 199.2l-3.9-.7l-3.4 .2l-3.1 .9l-3.2 .4l-26 .7l-11.2 .7l-10.8-.1l-10.5 1.1l-4.3 .2l-11.6-.2l-18 .5l-12.8-.4l-6.2 .3l-1.6 .4l.2 .6l6.9 2.1l9.7 1.1l4.2 .9l12.6 3.9l1.5 1.6l-2.6 1.4l-19.6 4.4l-19.6 2.7l-29.7 2.9l-7.7 1.2l-2.7 .9l8.3 1.2l13.1 2.9l11.2 1.6l18.6 3.9l7.2 2l10.4 3.8l16.2 6.7l14.3 7l6.3 3.8l11.3 7.7l13.7 7.8l11.8 7.5l15.4 11.4l2.9 2.5l2.2 2.7l4.9 9.1l6.4 9.2l3.7 7l1.2 3.4l.7 3.3l.6 7l0 4l-.5 4.3" stroke="#e14109" stroke-width="0.6"/>
<path d="M227.5 199.7l-3.2-.7l-3.5 0l-3.8 .6l-11.9 .1l-7.7 .8l-14.6 .2l-8.5 .8l-9.6-.3l-23.9 1.2l-13.2-.4l-13.2 1.2l-4.8 0l-.7 .2l2.3 1l11.5 4.2l7.7 3.3l4.9 1.2l9.7 1.8l1.6 .8l-1.9 .7l-4.6 .7l-13.6 1.4l-17.2 .2l-7.7 1l-14.9 2.7l-24 1.9l-10.3 1.2l4.7 .7l8.9 2.3l5 1l12 1.6l10.1 2.5l12.1 2.2l14.2 4.1l10.9 3.9l10 4.1l6.3 3.2l26.2 16.3l25 16.2l9.1 7.2l5 5.1l6.4 8.4l7.9 9.4l2.2 3.4l1.9 3.6l1.4 3.6l1 3.5l1 10.8l.2 7.9" stroke="#dc3b07" stroke-width="0.6"/>
<path d="M226.9 199.4l-4-1.1l-3.6 .1l-3.4 1.1l-9.9 1l-33.3 .8l-18.9 .8l-31.8 .5l-21.7 .7l-.7 .2l2.2 .6l9.2 2.2l3 1.7l.4 1.8l2.6 1.3l7.6 1l6.7 1.7l1.7 1.8l-2.7 1.3l-4.9 .8l-14.7 .4l-11.2 1.4l-15.6 2.8l-30.7 3.5l-.1 .3l43.8 9.3l18.9 5l9.6 3.5l11.5 3.4l18.5 10.3l15.2 10l22 13.5l8.4 6.4l8.2 7l7.3 7.9l4.7 6.2l2.1 3.2l5.8 9.7l1.6 3.4l1.1 3.4l.4 6.8l.2 10.9" stroke="#d83706" stroke-width="0.6"/>
<path d="M226.2 199.7l-3.2-1.2l-3.1 0l-3.3 .9l-6.8 .6l-19 .8l-18.2 0l-17.9 1.4l-22.7 .2l-14.4 .5l-7.8-.2l-4.5 .2l-.2 .4l9.5 2.1l2.1 1.9l.4 2.7l3.1 2.3l12 2.8l1.2 .7l-3.2 .7l-5.1 .4l-20.1 .6l-3.4 .4l-14.8 4.2l-3.4 .6l-16.3 1.8l-15.6 1.1l7.7 1.1l28.9 3.4l24.1 5.7l11.1 3.2l6.9 2.5l15.6 7.2l6.5 3.6l15.1 10.5l15 9.5l9.2 6.6l9.8 6.2l5.3 4.4l4.8 5l2.2 2.6l4.2 5.9l12.1 18.3l1.7 3.1l1.3 3.4l1.4 7.5l.6 7.4l-.2 3.2" stroke="#d43305" stroke-width="0.6"/>
<path d="M227.9 199.0l-3.5-.9l-3.9 .3l-4.1 1.2l-8.3 .6l-14.4 .2l-11.7 .6l-14.8 .2l-15.5 1l-15.6-.1l-19.3 .8l-14.8-.3l-1.9 .3l-.8 .4l6.3 1.6l3.6 1.6l8 2.4l11.2 3.1l6.2 1.1l-.3 .9l-14.6 2.4l-9.4 1.9l-10.8 1.4l-10.8 2.4l-4.3 .7l-31.4 3.8l0 .4l6.3 .8l10.1 .7l12.3 .4l3.6 .5l10.8 2.8l7.4 1.2l7.4 1.7l3.6 1.1l10 3.9l11.8 3.5l2.8 1.5l5.5 3.6l11 5.9l12.7 8.8l25.7 15.7l5.6 4.1l8.1 8l7.9 7.2l2.4 2.8l4.4 6.4l7.9 13.5l1.7 3.3l1 3.4l.9 10.9l1.4 7.4" stroke="#d02f05" stroke-width="0.6"/>
<path d="M226.0 199.2l-4.3-1.1l-3.9 .3l-3.5 1.2l-10.4 .8l-33.4 .7l-28.6 1.5l-17.1-.4l-23.6 .8l-.4 .4l2.4 .5l9.3 1.2l3 .7l12.3 5l5.4 1.1l7.4-.1l.7 .8l-2.9 1.1l-5.7 .7l-9.6 .5l-5.4 1.7l-3.9 .9l-15.4 3.2l-11.1 1.8l-7.7 .8l-20 1.1l-6.8 .7l-1 .5l1 .4l7 1l18.3 1.9l10.7 2.3l11.6 1.3l3.7 .9l10.9 3.5l15.1 4.2l3.5 1.3l6.7 3.2l9.8 5.5l9.9 6.4l8.8 7l14.1 7.5l15.1 10.7l8.7 7.2l13.4 14.5l4.9 6.1l5.6 10l1.7 3.6l1.2 3.5l1.2 10.9l.2 7.8" stroke="#ca2a04" stroke-width="0.6"/>
<path d="M225.7 199.2l-4.1-.6l-3.6 .4l-3.3 1.1l-24.4 .7l-17.7-.2l-18.5 1.3l-17.4 .8l-18.4-.3l-11.9 .4l-1.7 .4l-.5 .3l1.6 .6l5 .5l2.9 1.6l1.4 2.7l3.5 2.6l5.8 1.3l5.2 .7l1.9 .5l-1.5 .8l-3.4 1l-4.1 .8l-12.6 1l-10.3 2.1l-9.8 2.9l-3.6 .5l-23.4 .4l-6.6 .9l-1.9 .6l-.7 .5l1.2 .5l3.1 .7l18.1 2.6l17.3 3.1l24.2 6.6l9.6 3.2l16.8 7l6.5 3.3l6.3 3.9l10.4 8.1l13.3 7.6l6.3 3.9l23 16.5l2.9 2.5l2.5 2.7l2 2.7l4.9 9.2l8.2 12.7l1.5 3.1l.9 3.3l1.7 17.5" stroke="#c52603" stroke-width="0.6"/>
<path d="M225.9 199.3l-3.9-.8l-3.4 .2l-3.3 1.1l-31.8 1.5l-6.1 .2l-16-.2l-16.2 .9l-21 .1l-17 .8l3.3 2.1l2.2 2.1l2.8 1.9l4 1.2l4.4 .6l3 .8l.4 1.8l-2.1 2.5l-3.6 1.5l-3.6 .1l-7.3-.2l-9.8 .9l-7.3 1.1l-10.7 2.7l-4.6 .5l-10.3 .4l-4.5 .5l-7 1.3l-4.2 .4l.1 .2l5.9 1l4.6 .5l12.4 .3l11.1 1.5l11.3 .9l6.1 1.3l20.8 6.3l13.7 5.3l6 3l14 9.7l11.5 8.5l5.7 3.3l11.6 5.7l2.9 2l4.4 4.1l11.8 9.4l7.7 7.3l4.6 5.3l9.4 14.9l1.4 3l2.1 6.5l4.6 10.6l1.2 3.6l.3 3.5l-1.3 3.4" stroke="#c12302" stroke-width="0.6"/>
<path d="M225.9 199.4l-2.9-.8l-3.3 .2l-3.6 1.1l-19.1 .9l-13.8-.2l-7.2 .5l-12.1 .2l-9.6 .8l-10.7-.3l-17.7 .7l-17.2 .2l-5.5 .4l-1.1 .3l1.1 .5l8.6 2.2l3.9 .7l2.7 1.1l1.8 1.8l3.7 2.2l9.7 3.2l-4.8-.6l-4.8 .3l-10.6 2.9l-11.7 2l-14.1 3l-17.2 .9l-12.1 1.5l-4.2-.1l6.3 1.7l4.7 1l20.3 2.9l10.5 2.3l11.1 2.1l7.2 1.9l26.3 9.7l10.2 5l7 4.1l3 2.2l10.1 8.2l9.8 6.1l9.1 6.4l9.5 6.2l17.5 18.2l2.3 2.9l3.8 6.4l6 12.9l1 3.2l1.2 6.7l.9 7.4l0 4.1" stroke="#bc2002" stroke-width="0.6"/>
<path d="M225.1 199.2l-3.1-.8l-3.2 .4l-3.4 1l-11.2 .3l-7.9 .7l-12-.1l-13.5 .9l-7.6-.1l-31.3 .8l-14 .1l-15.4 1l.2 .3l20.6 6.4l13.3 6l-.8 .5l-8.6 .7l-14.7 1.9l-14.5 1.4l-10.5 2.5l-4.2 .3l-23.6 .3l-5.6 .6l-1 .5l.9 .5l2.8 .6l13.1 2.2l11.6 2.5l20 3.2l10.3 2.6l6.7 2.2l17.5 6.7l12.5 5.7l7.2 4.1l9.3 6.7l9.8 5.4l11.9 8.8l12.6 8l5.9 4.8l5.5 4.8l5.1 5.1l7.3 9.2l3.7 6.1l3 7.1l2.5 7.3l1.6 7l.6 3.6l0 3.6l-.7 3.9" stroke="#b71d02" stroke-width="0.6"/>
<path d="M226.2 198.8l-3.8-1.2l-3.6 .4l-3.5 1.4l-10.7 1.1l-10.8-.1l-17.8 1l-11.8-.2l-10.9 .9l-17.5-.1l-30.7 1.3l-3.2-.2l7.6 3l5.7 4.2l4.7 2.1l8.3 1.9l1.6 .8l-2.1 1.1l-4.5 .9l-4.6 .6l-11.9 .9l-16.8 3.9l-3.6 .5l-13.1 .9l-16 .4l-3.4 .5l.1 .5l2 .8l3.8 .9l14.2 2.7l13.7 3.2l11.8 1.9l3.4 .9l5.8 2.1l14.7 4.1l20.1 7.4l3.3 1.6l3.1 1.9l8.6 6.6l15.7 9.9l12.9 6.9l5.4 3.4l15.2 10.7l5.8 4.6l2.6 2.6l2.1 2.9l3.7 6.1l6.5 8.3l1.7 3.2l2.4 7.2l2.7 13.7l.9 7.9" stroke="#af1801" stroke-width="0.6"/>
<path d="M225.8 199.3l-3.4-1l-3.2 .3l-3.1 1.1l-3.3 .2l-22.4 .5l-14 .8l-14.1-.1l-18.3 .5l-17.3 .8l-17 .3l-4.9 .9l-1 .4l4.4 2.5l7 4.9l3.8 1.2l4.2 .6l3.8 1.2l1.2 1.3l-3 .9l-22.9 2.2l-10.6 2.5l-7.7 1.3l-12.4 1.1l-12.4 1.7l-7.8 .8l.7 .4l6.5 1l12.7 .6l18.5 2.2l24.7 5.9l17 5.9l10 4.1l5.8 3.2l8.7 5.2l15.2 10.6l13.4 7.8l8.2 6.4l8.2 5.8l2.7 2.3l10.7 10.8l4.1 5.4l5.4 8.7l5.4 9.5l2.7 6.6l1.5 7.2l.5 3.7l.1 3.7l-.5 3.5" stroke="#a91601" stroke-width="0.6"/>
<path d="M226.0 199.4l-3.3-1.1l-3.7 .4l-4 1.1l-4 .2l-13.6 .1l-16.3 .9l-10.2-.1l-11.5 .8l-22.2 .8l-29.9 .3l-.5 .3l1.9 .7l30.1 9.3l2.3 .9l-1.7 1l-9.5 2.3l-4 .5l-17.4 .8l-18.6 3.2l-7.7 .5l-24 .4l-3.1 .4l-1.8 .6l-.6 .7l.7 .6l2.3 .7l18.5 3.3l14.1 3.3l18.9 3.4l6.8 1.9l17.7 6.3l3.3 1.3l16.8 8.3l3.1 2l5.4 4.3l3.2 2.2l7.3 3.9l9.1 6.2l9.7 5.3l6.2 4.6l16.9 14.6l4.5 5.5l8.4 12.3l4.1 6.7l1.6 3.5l1 3.4l.9 10.8l1.5 7.8" stroke="#a41301" stroke-width="0.6"/>
<path d="M225.3 199.2l-3.6-.8l-3.1 .4l-2.9 1.2l-6.2 .3l-22.3 .3l-15.1 .7l-28.5 .6l-11.6 .6l-23.8 .3l-8.8 .6l-.7 .1l6.2 1.1l12.5 5l9.5 3.1l1.1 1.6l-2.9 1.3l-4.3 .9l-18.2 2.4l-3.6 .8l-10.1 2.9l-22.5 2.2l-12.1 .1l.8 .4l3 .6l28.1 3.7l11.3 2.1l13.4 3.2l21.9 7l9 4.3l9.4 5.3l6.9 4.3l11.3 7.9l28.3 16.8l6.1 4.7l7.8 7.2l9.1 10.8l4.2 5.9l8.7 16.1l1.4 3.3l1.8 10l.7 8.1" stroke="#9e1001" stroke-width="0.6"/>
<path d="M225.8 199.5l-3.8-1.3l-3.4 .4l-3.2 1.2l-6.6 .5l-12.1-.3l-16.1 1.1l-6.8-.1l-12.7 1l-9-.4l-12.4 .8l-40.8 .6l-.4 .2l2 .6l8.7 2.3l4.8 .6l4 1l6.3 2.7l4.6 1.1l9.4 1.7l0 .6l-15 1.8l-5.4 1.6l-15.5 2.6l-18.4 3.6l-8.6 .8l-19.1 .7l-2.4 .1l-.5 .3l38.7 5.5l11.7 2l24.5 7.3l20.4 9.1l3.6 1.7l3.3 2l8.9 7.3l3 2.2l19.1 11.6l12 9.6l6.3 4l2.8 2.4l4.3 6l2.5 3l6.3 5.7l2.3 2.9l1.5 3l2.5 6.7l5.4 10.7l1.6 6.7l.5 3.6l.1 3.9l-.5 4.4" stroke="#950d01" stroke-width="0.6"/>
<path d="M224.8 199.1l-3.5-1.4l-3.2 .4l-3 1.5l-6.3 1.2l-3.6 0l-11.3-.9l-18.4 1.6l-14.9-.3l-18.1 1.4l-16.4-.3l-27.7 1.1l13 4.6l5.5 2.5l7.8 2l2.5 1.2l-1.6 1.2l-16.5 3.3l-6.4 .2l-3.4 .9l-7.2 3.2l-3.6 1.1l-3.7 .4l-29.9 .7l0 .4l2.1 .5l32.2 5.2l9.5 1.8l17.9 4.6l14.6 4.8l16.2 7.2l3.1 1.9l8.2 6.5l3.2 2l25.4 15.2l17.2 12.3l6 4.9l4.8 5.5l10.8 14.4l3.6 6.3l4.3 10.2l2.2 10.3l.2 3.6l-.5 3.7" stroke="#8e0a01" stroke-width="0.6"/>
<path d="M226.4 199.7l-2.7-.7l-3.6 .3l-4.2 1l-15.5-.2l-20.6 1.1l-26.2 .2l-48.6 1.5l.9 .5l10.1 1.9l3 2.1l1.3 2.4l4 1.2l6.9 .7l5 .9l.1 1.3l-4.3 1.1l-19.2 2.3l-26.1 5l-22 3l-10.9 .7l-1.3 .2l.6 .4l6.3 .6l21 .4l11 1.9l18.2 3.8l10.7 3.1l10.2 3.7l15.8 7.2l6.1 3.7l24.2 17l8.9 5.6l6.2 4.3l7.7 6.9l8.8 7l5.6 5.3l2.2 3l1.9 3l6.7 12.6l6.6 9.2l1.4 3.3l.5 7.2l-.1 11.1" stroke="#880802" stroke-width="0.6"/>
<path d="M226.7 199.1l-4.1-1.3l-3.8 .4l-3.7 1.2l-3.7 .4l-7.4 .5l-11.3 .4l-7.6 .7l-16.6-.3l-14.2 .7l-12.1 .1l-17.8 1l-14-.2l-9.6 .3l-1.1 .2l1.4 .6l4 1.2l3.5 .6l5.7 3.4l6.1 1.6l7.4 1l4.5 1.3l2.4 1.6l2.8 1.1l2.5 .2l-5.1-.1l-5.9 .5l-10.7 1.5l-7.6 .3l-27.2 3.6l-18.8 1.8l-4 .7l-7.7 2l.1 .4l2.4 .4l23.3 2.7l22.9 4.2l6.8 1.8l24.8 8.6l11.4 5.1l6.2 3.3l21.5 14.7l6.5 3.9l10.5 5.8l3.2 2.1l12.7 8.4l3.4 2.5l3.1 2.9l2.7 3l2 3l3.1 5.9l2 3.1l5.1 6.5l2 3.2l3 6.4l1.3 3.3l.8 3.4l1.3 7.5l.1 4l-.5 4.3" stroke="#810602" stroke-width="0.6"/>
<path d="M225.6 199.1l-3.3-1.5l-3.6 .3l-3.8 1.1l-11.6 1.1l-14.5 .2l-16 .9l-11.5-.2l-10.4 1l-11.4 .5l-22.8 .4l-12.5-.3l-2.6 .2l-1.1 .4l.7 .7l3.4 1.1l5.2 2.8l3.8 1l10.8-.1l4.3 1.2l3.5 3l3.7 2.3l2.4 .9l-14.1 1.8l-12.8 .5l-13.9 2.7l-15.7 2.2l-4.5 .4l-17.7 .8l-6.9 1l12.6 2.2l17.4 1.7l19.2 3.5l21 6.2l9.9 3.7l13.9 6.5l6.9 4l16 10.5l9.5 6.6l9.2 6l6.2 4.6l11.6 9.7l5.2 5.1l2.2 2.7l11.8 15.7l2 3.3l2.9 6.3l1.1 3.4l1.2 7.1l.4 7.8l-.5 4.1" stroke="#7a0403" stroke-width="0.6"/>
</g>
<g class="t">
<rect x="36.3" y="190.4" width="209.1" height="163.7" fill="none" stroke="#555" stroke-width=".95"/>
<path d="M46.8 354.1v1.5M70.7 354.1v1.5M94.6 354.1v1.5M118.5 354.1v1.5M142.4 354.1v1.5M166.3 354.1v1.5M190.2 354.1v1.5M214.1 354.1v1.5M238.0 354.1v1.5M36.3 197.5h-1.5M36.3 216.1h-1.5M36.3 234.7h-1.5M36.3 253.3h-1.5M36.3 271.9h-1.5M36.3 290.6h-1.5M36.3 309.2h-1.5M36.3 327.8h-1.5M36.3 346.4h-1.5M259.0 214.3h1.2M259.0 242.7h1.2M259.0 271.1h1.2M259.0 299.5h1.2M259.0 327.9h1.2" stroke="#333" stroke-width=".5" fill="none"/>
<text x="46.8" y="359.8" text-anchor="middle">3.50</text>
<text x="70.7" y="359.8" text-anchor="middle">3.75</text>
<text x="94.6" y="359.8" text-anchor="middle">4.00</text>
<text x="118.5" y="359.8" text-anchor="middle">4.25</text>
<text x="142.4" y="359.8" text-anchor="middle">4.50</text>
<text x="166.3" y="359.8" text-anchor="middle">4.75</text>
<text x="190.2" y="359.8" text-anchor="middle">5.00</text>
<text x="214.1" y="359.8" text-anchor="middle">5.25</text>
<text x="238.0" y="359.8" text-anchor="middle">5.50</text>
<text x="34.9" y="199.4" text-anchor="end">0</text>
<text x="34.9" y="218.0" text-anchor="end">250</text>
<text x="34.9" y="236.6" text-anchor="end">500</text>
<text x="34.9" y="255.2" text-anchor="end">750</text>
<text x="34.9" y="273.8" text-anchor="end">1000</text>
<text x="34.9" y="292.4" text-anchor="end">1250</text>
<text x="34.9" y="311.1" text-anchor="end">1500</text>
<text x="34.9" y="329.7" text-anchor="end">1750</text>
<text x="34.9" y="348.3" text-anchor="end">2000</text>
<text x="260.6" y="216.2">100</text>
<text x="260.6" y="244.6">80</text>
<text x="260.6" y="273.0">60</text>
<text x="260.6" y="301.4">40</text>
<text x="260.6" y="329.8">20</text>
<rect x="250.3" y="190.2" width="8.7" height="164.4" fill="url(#tb)"/>
<text class="al" x="140.8" y="366.6" text-anchor="middle">dissolved Oxygen(μmol/kg)</text>
<text class="al" transform="translate(21.1 271.2) rotate(-90)" text-anchor="middle">sea water pressure,equals 0 at sea-level(dbar)</text>
<text class="al" transform="translate(274.3 272.4) rotate(-90)" text-anchor="middle">profile number</text>
<text x="10.0" y="198.2" class="lt">(c)</text>
</g>
<path d="M317.2 190.2V354.0M340.8 190.2V354.0M364.5 190.2V354.0M388.1 190.2V354.0M411.8 190.2V354.0M435.4 190.2V354.0M459.0 190.2V354.0M482.7 190.2V354.0M506.3 190.2V354.0M302.0 197.5H511.4M302.0 216.6H511.4M302.0 235.7H511.4M302.0 254.8H511.4M302.0 273.9H511.4M302.0 293.0H511.4M302.0 312.1H511.4M302.0 331.2H511.4M302.0 350.3H511.4" stroke="#cfcfcf" stroke-width=".6" fill="none"/>
<g clip-path="url(#cd)" fill="none" stroke-width=".7" stroke-linejoin="round" stroke-linecap="round">
<path d="M486.1 197.2l-1.4 1.9l-8.1 .6l-27 .3l-8.7 .8l-30.7 .7l-11 .8l-41.3 1l-21.7 1.2l-7.8 .8l-6.5 1l-5.9 1.6l-.9 .9l1 1.2l8.2 5.3l4.6 3.9l4.1 4.1l5 6.4l13.5 24.1l1.1 2.5l1.8 7.5l3.7 10.6l1.2 2.1l3.5 4.5l1.3 2.6l.9 2.7l.7 5.5l.4 14.1l1.7 24.6l-.8 13.6l.1 2.7" stroke="#30123b"/>
<path d="M467.5 197.4l.2 2.7l-1.8 2l-15.1 .5l-7.7-.2l-10.8 .7l-40.6 .8l-8.7 .7l-26 .1l-9.7 1l-8.2 .2l-13.6 1.3l-6.3 .9l-2.7 .8l-1.3 .8l.6 1.1l2 1.2l6.3 2.6l2.5 1.5l5.1 5.5l6 5.8l1.4 2.1l3.4 6.6l5.3 9.4l2.1 4.6l3.8 9.8l3.4 12.4l2.9 7.3l.5 2.5l.4 5.2l1.3 7.9l.7 7.8l1.1 7.9l.1 7.4l2.1 13.2l-.1 5l-1 10.7" stroke="#321543"/>
<path d="M466.1 197.3l-1.4 1.7l-20.3 .9l-18.5 .3l-10.6 .7l-7.6 0l-8.1 .5l-7.1-.1l-10.7 .7l-12.7 .1l-34.4 1.5l-12.4 2l-3.2 .9l-2.5 1.1l-1.1 1.1l.7 1.2l1.8 1.3l7.9 4.5l4 3.4l5.1 5.4l6.1 8.1l2.7 4.8l4.5 9.2l6.6 17.1l3.1 9.9l3.6 6.9l2 7l1.3 8l.2 12.9l1.2 10.3l.4 12.7l-.4 10.5l.2 2.6l.7 2.6" stroke="#33184a"/>
<path d="M473.3 197.1l.5 2.4l-2.2 1.1l-10.6 .7l-11.3 0l-10.3 .5l-7.1 0l-8.5 .7l-13.7 0l-15.1 .8l-42.5 1.1l-26.6 1.9l-6.7 1.3l-2.6 .9l-.8 1l1 1.1l7.7 4l4.9 3.2l2.2 1.7l1.7 1.9l3.1 3.9l3.7 4.1l1.7 2.2l1.2 2.3l3.7 9.8l4 7.3l.9 2.4l4.1 12.4l2.1 7.9l2.8 7.6l1 5.2l.1 10.5l.8 5.2l1.9 7.7l.2 2.6l.3 8l1 13.4l.2 13.1" stroke="#351e58"/>
<path d="M463.8 197.4l1 2.4l-2 1.1l-8.1 .3l-7.2-.2l-13.3 1l-10.5-.1l-12.4 .4l-8.1-.1l-10.1 .7l-27.9 .5l-12.4 1.1l-7.6 0l-8.3 .9l-7.4 0l-8.6 1.6l-3 .8l-1.6 1l.6 1.1l7.6 4.6l2.2 1.8l11 10.7l1.7 2l8.3 15.7l2.9 7.2l5.4 17.1l3 7l3.2 15.1l.7 5.2l.2 7.2l1.6 8l.3 10.1l1.4 10.2l0 15.3" stroke="#36215f"/>
<path d="M480.1 197.2l-2.1 1.5l-2.8 .2l-10.8-.1l-13.4 .9l-8.1 0l-15.8 .5l-29.5 1.3l-30.1 .6l-34.7 1.9l-7.8 1.1l-6.4 1.7l-2.1 .9l-.2 1l1.3 1.3l8.2 4.8l4.7 3.6l8.2 10l1.5 2.1l2.6 4.4l3.6 7.5l4 7.4l1 2.5l3.2 10l2 10.6l3.5 7.3l.6 2.5l.8 10.7l1.7 8.1l.2 8.2l1.8 7.5l.4 2.7l.2 5.5l-.2 7.9l.5 8.2l-.1 5.5" stroke="#38276d"/>
<path d="M484.5 197.2l-.9 2.5l-2.5 .7l-5 .3l-11.5 .1l-13.3 .7l-18.8 .3l-14.7 .7l-29.7 .7l-11.3 .7l-10.7-.1l-11.1 .7l-8.5 .1l-7.6 .7l-8.5 .1l-11.6 2.5l-2.8 .8l-1.4 .9l.7 1.1l8.4 4.8l2.2 1.9l3.6 4.1l9.8 13.1l2.8 4.9l8.9 16.8l2 5l2.8 10.3l4.3 7.5l.7 2.5l.9 7.9l2.7 16.8l.2 7.9l1.2 10.7l.1 8.2l1.1 8.9l.1 2.6l-.3 2.4" stroke="#392a73"/>
<path d="M461.5 197.3l.4 2.7l-1.6 1.9l-17.9 .6l-27.3 .4l-8.1 .5l-7.8 0l-7.7 .5l-6.8-.1l-18.2 .9l-13.1 .1l-18.1 1l-13.3 1.7l-3.3 .6l-1.9 .8l.1 .9l1.6 1.1l10.8 5.8l4 3.3l6.5 7.6l2.9 4l7.6 16.2l4.5 14.5l1.8 10l1 2.4l4.2 6.4l2.9 15l.4 5.1l.1 7.7l1.1 10.1l.4 12.9l.8 10.1l-.4 5" stroke="#3a2d79"/>
<path d="M465.6 197.1l.8 2.6l-2 1.4l-21.1 .7l-9.7 .6l-8.5-.1l-10 .4l-13.1 .1l-26.1 1l-10.9 0l-7 .7l-7.8-.1l-23.4 2l-5.6 1l-2.8 .7l-1.6 .9l.1 1l1.4 1.2l7.7 4.3l2 1.6l1.9 1.7l6.9 7.8l3.2 4.2l5.3 9.2l4.7 9.6l3.7 9.5l2.4 9.8l1.1 2.4l5.7 8.9l1.3 4.6l1 5.1l1.3 18.4l1.1 7.6l-.2 7.9l.9 7.5l0 2.5l-1.2 8.1l-.1 2.6l.5 2.6" stroke="#3c3286"/>
<path d="M457.6 197.4l-1.2 1.8l-7.3 .5l-24.2 .6l-7.7 .6l-9.8 0l-10.1 .7l-8.2-.1l-10 .6l-17.2 .1l-6.9 .9l-11.2 0l-9.4 .6l-5.1 .8l-10.7 2.2l-1.8 .8l0 1l1.4 1.3l7.9 4.9l3.8 3.2l7.4 7.1l3.1 4l2.3 3.9l4.4 9.6l7.5 18.5l2.2 9.6l.8 2.1l2.4 4.4l.9 2.5l2.3 12.2l.7 12.8l1.5 7.4l-.3 7.6l1.3 12.3l.2 15.2" stroke="#3d358b"/>
<path d="M460.3 197.1l.1 2.3l-2.3 .6l-73.9 2.1l-8 .5l-6.9-.1l-8.5 .6l-4.4-.1l-7.7 .8l-10 .1l-10.7 1.1l-5.2 .9l-5 1.8l-.8 1l.8 1.2l1.9 1.4l8.5 4.6l4.2 3.4l6.4 6.6l3.5 4.3l2.4 4.4l7.7 18.9l2.4 12.2l1.7 4.7l1.1 2.4l4.9 6.5l1 2.1l1.5 7.3l2 15.2l-.1 12.6l.9 10.5l0 5.1l-.4 7.3l-1.1 7.6" stroke="#3f3b97"/>
<path d="M465.4 197.4l-1.5 1.7l-12.8 .1l-8.3 .5l-15.1 .3l-25.4 1.2l-8.2-.1l-7.5 .5l-31.3 .8l-20.5 1.1l-8.2 1l-5.4 1.1l-5.5 1.9l-1.1 1.1l.4 1.1l1.6 1.3l7.9 4.2l4.1 3.3l3.7 3.8l8.2 9.9l1.2 2.3l1.8 5l1.2 2.4l2.9 4.4l1.1 2.2l1.6 4.9l3.2 7l1.4 4.8l1.6 7.9l3.3 7.2l1 4.8l1.2 10.4l.5 8l1.5 5l.5 2.5l-.4 7.7l1.5 7.4l.1 2.6l-.4 10.2l.4 7.9" stroke="#3f3e9c"/>
<path d="M465.7 197.5l-1.5 1.8l-9.7 .4l-10.8 0l-13.2 1.1l-22.3 .3l-4.5 .3l-8.9 .1l-15.5 .5l-7.9 .6l-22.8 .4l-23.1 2l-6.5 1.4l-2.6 1l-1.1 1.1l.8 1.1l7.6 3.9l2.6 1.5l1.8 1.6l10.2 11.5l5.5 8.7l2.7 4.7l7.6 19.1l2 7.3l3.6 9.7l.7 2.5l.6 7.7l1 7.8l.4 7.5l2.2 10.2l.8 5.1l.9 13l-1 10.5l.1 2.5l.8 2.5" stroke="#4040a2"/>
<path d="M471.0 197.4l.3 2.6l-1.7 1.7l-16.3 .7l-10.6 0l-13 .5l-26.2 .6l-13.2 .6l-10.8 .1l-10.1 .5l-7.9 .1l-16.5 .8l-20.8 1.7l-6.8 1.3l-.8 .8l1.5 1l10.8 4.6l6.7 4.9l3.7 3.7l3.4 4l3 4.2l8.3 19.3l1.5 5.2l1.8 10.2l1.4 5.1l1.1 2.5l3 5l1 2.4l.6 5l1.6 8l.4 7.8l.8 7.9l-.2 7.8l.9 7.8l-.6 13.2l.1 8.3" stroke="#4146ac"/>
<path d="M486.2 197.3l-2.3 .9l-12.7 1l-9 0l-18.9 .6l-11 .9l-24.3 .2l-13 .8l-19.8 .3l-33 1.4l-16.5 1.7l-6.7 1.4l-1.9 .9l.2 1.1l9.3 6.7l8.8 7.1l1.9 2l4.7 6.6l2.6 4.7l4.5 9.8l2.2 5.4l6.7 23.4l3.6 10.4l.3 2.8l-.2 5.2l.2 5.4l2 11.1l-.1 5.5l.3 2.6l1.5 5.3l.2 2.7l-.6 8.2l.8 7.6l-.1 6.1" stroke="#4249b1"/>
<path d="M474.6 197.4l-.3 2.3l-2.5 1l-7.4 .8l-10.9-.2l-7.6 .5l-13.5 0l-13.4 .8l-11.3-.1l-7.4 .7l-26.6 .6l-27.1 .9l-22.1 1.8l-6.4 1.2l-1.8 .8l.3 .9l1.7 1.2l13.1 6.7l2.3 1.6l4.7 5.7l4.3 4.2l1.8 2.1l1.2 2.3l3.2 10.2l4.5 9.8l1.5 5l1.7 7.8l2.6 7.8l1.1 2.3l4.2 6.9l1 2.5l.5 2.7l-.1 5.4l.6 8.1l0 7.7l1.8 13.5l-.9 10.8l.2 13.2" stroke="#434eba"/>
<path d="M470.2 197.5l-1.6 1.8l-75.8 2.6l-10.7 .1l-6.9 .6l-10.7 0l-10.7 .7l-10.3 .1l-18.2 1.7l-6.3 1.7l-2.7 1.2l-.8 1.1l1 1.2l8.2 4.3l2.4 1.6l1.9 1.7l9.6 11.8l3.1 4.3l2.7 4.7l3 7.2l3.5 6.9l6.5 20.5l4.4 8.7l2.1 4.8l.4 2.7l-.2 5.3l2.1 10.6l-.1 12.9l1.3 13.2l-1.2 10.3l.1 2.6l.7 2.8" stroke="#4451bf"/>
<path d="M461.2 197.3l-1.1 1.9l-9.2 1.1l-10.6 0l-20.1 .8l-19.9 .2l-23 1.1l-30.6 .8l-14.4 1.2l-10.8 2l-2.9 .7l-1.9 .8l0 1l1.4 1.3l10.7 7l3.9 3.5l7.2 9.4l3.1 4.4l8.5 18.6l1.5 4.9l4 16.6l3.7 6.8l.7 2.5l.7 10.4l1.4 9.7l2.2 20.2l.5 22.8" stroke="#4456c7"/>
<path d="M460.3 197.5l-.1 2.2l-2.4 .6l-15.5 .5l-10.1 .6l-10.4-.2l-12.1 .9l-25.8 .4l-18.4 .6l-16.3 1l-8.8 .2l-5.1 .4l-12.7 1.7l-5.7 1.4l-1.1 .9l.8 1.1l7.9 4.2l2.7 1.6l2 1.8l8.7 8.8l3.3 4.1l1.2 2.1l4 9.2l4.8 9.2l3.7 11.8l2.2 10.2l1.1 2l3.6 4.1l1.5 2.2l.6 2.4l.5 4.9l1.4 7.7l.1 12.7l1.7 10.2l.2 2.5l-.5 10.3l.2 10.3l-.8 5.1" stroke="#4559cb"/>
<path d="M482.9 197.2l-1.7 1.6l-8.6 .6l-9.8-.1l-14.7 .8l-14.9 .1l-12.1 .9l-24.3 .4l-18.6 .9l-22.1 .5l-10.8 1l-7.6 .1l-5.7 .5l-8.1 1.2l-7 1.6l-1.9 1.1l.5 1.1l8.3 4.9l9.1 7.2l2 1.9l8.3 13.2l3.6 7.6l4.1 7.1l2.1 4.9l1.6 8l1.5 5.5l1.1 2.6l4.3 7.2l.6 2.4l.7 7.9l2.3 13.5l.4 11.1l1.3 8.2l.1 2.6l-.8 8l.9 8l0 2.9l-.5 3" stroke="#455ccf"/>
<path d="M476.1 197.2l-.2 2.4l-2.6 .7l-16.8 .5l-8.4 .5l-10 0l-34.8 1.5l-10.4-.1l-11.2 .7l-13.1 .1l-19 .7l-18.3 1.3l-8.2 1.1l-3.2 .6l-2.3 .8l-.5 1l1.3 1.2l8 4.4l2.3 1.4l3.9 3.3l5.7 5.8l5.1 6.6l2.5 4.7l6 15l5.2 20.6l1.2 2.3l3.6 4.1l1.4 2.2l.6 2.3l1.6 10.8l1.2 13.4l.2 7.8l1 11l-1 13.2l.6 5.2l.6 2.7" stroke="#4661d6"/>
<path d="M461.3 197.2l-.1 2.3l-2.4 .7l-15.1 .7l-23.1 .5l-23.4 1.1l-34.8 .7l-26.6 1.5l-14.6 2l-5.9 1.7l-2.1 1.2l-.3 1.2l6.2 4.9l6.6 7.9l7 10.6l6.4 8.2l3.4 6.5l5.9 8.5l1.4 2.3l1 2.4l2 7.2l1 2.3l3.9 7l.8 2.4l.7 10.1l2.3 10l2.1 22.9l1.3 7.6l.2 2.6l-.6 7.8l.2 2.5l.6 2.4" stroke="#4664da"/>
<path d="M464.7 197.5l-1.1 1.7l-11.2 .6l-9.1 .1l-28.9 1.1l-7.2 0l-10.1 .6l-13.2 .3l-13.1 .7l-12.4-.1l-15 1.1l-7.3 .3l-14.1 1.7l-6 1.5l-1.5 1.1l.5 1.3l1.9 1.7l7 5l5.9 5.4l3.6 4.2l10.2 16.9l6.2 11.3l2.1 7.2l2.8 7.5l1 4.7l2.3 7.5l.5 2.5l.7 7.5l2.6 12.9l.5 10.1l1.6 12.5l.5 15.2l1 5.3" stroke="#4669e0"/>
<path d="M473.7 197.3l-1.8 1.7l-2.9 .2l-13.5 .2l-12.4 .6l-37.5 1.1l-13.5 0l-7.9 .8l-10.3 0l-16.3 1l-13.3 .2l-20.6 2.2l-6.2 1.7l-3 1.2l-1.8 1.1l.2 1.3l7.5 5.1l4 3.7l1.6 2l4.1 6.7l5.2 6.3l7.5 11l7.2 13.9l2.6 7.5l2.2 4.9l4.1 6.5l1.1 2.4l1.3 5.4l1 13.5l1.7 10.4l0 8.1l2.1 23.8l-.4 5" stroke="#466be3"/>
<path d="M470.0 197.4l-.7 1.7l-18.8 .6l-10.5 .8l-10.2 0l-10.4 .6l-26.1 .5l-10.4 .6l-26.3 .6l-23.1 1.5l-5.1 .4l-5.2 .9l-7 1.9l-2.4 1.1l-.4 1l6.5 5.6l5.1 5.9l5.8 8.4l6.7 8.5l5.1 9.1l5.8 8.7l3.2 7.1l3.1 9.5l3.7 7.2l.8 2.5l2.2 13l.7 12.9l2 7.9l.2 2.6l-.5 5.2l.1 2.5l1.3 4.9l.3 2.7l-.4 10.9l.3 2.5" stroke="#476ee6"/>
<path d="M468.5 197.5l-.3 1.9l-2.3 .2l-8.3 .1l-10.4 .7l-7.7-.2l-13.2 .9l-7.4-.1l-7.5 .5l-8.7-.1l-7.1 .5l-13.3 .4l-7.6-.2l-20.6 1.3l-13 .2l-5.1 .5l-16.6 2.5l-3.1 .8l-1.7 1l.4 1.3l7.4 5.1l2 1.8l4.9 5.9l6.1 5.7l1.5 2l1.3 2.2l4.1 9.4l7.3 11.4l2.9 6.8l3.8 12.4l2.6 7.5l1 5l4.4 33.7l.1 10.2l1.2 12.8l.2 5.3" stroke="#4773eb"/>
<path d="M485.5 197.4l-.8 2.4l-2.8 .7l-15.9 .9l-25.4 .5l-13.3 .8l-11.5-.1l-13.8 .7l-13.2 0l-10.7 .6l-24.7 .8l-28.6 2.2l-6.2 1l-3 .7l-2.1 1l-.3 1.1l1.7 1.4l5.4 3.5l5.8 5.6l3.7 4.4l5 6.8l12.6 21.6l3.1 7.5l2.3 8l1.2 2.5l5 6.8l.7 2.4l.5 5.4l1.8 8.6l.6 10.5l1.9 11.3l-.1 5.2l1.1 8.3l0 2.8l-1 8.2l0 2.8l.6 2.8" stroke="#4776ee"/>
<path d="M469.0 197.3l.5 2.6l-1.3 1.9l-15.8 .5l-10 .8l-12.5-.3l-9.4 .6l-19.9 .1l-10.8 .8l-13.5 .2l-31.8 1.2l-23.5 2.1l-6.8 1.4l-2.1 1l-.1 1.2l6.8 4.9l3.6 4l1.7 2.1l4.1 6.7l6.7 8.3l5.7 8.7l4.9 6.5l5.6 11.6l3.8 10.1l2.5 4.6l.7 2.5l.3 2.7l.2 5.5l1.2 10.2l.3 7.9l2.1 10.5l.2 7.7l1.4 7.8l.3 10.8l.3 2.5" stroke="#477bf2"/>
<path d="M461.2 197.1l.8 2.5l-2 1.1l-39.5 1.2l-6.7 .5l-20.3 .3l-10.6 .6l-28.5 .6l-14.9 1l-18 1.6l-3.1 .7l-2.9 1l-1.8 1.2l-.1 1.2l1.7 1.3l5.2 2.9l3.7 3.3l9.7 12.4l12.4 19.5l4.8 8.9l1 2.2l2.1 7.4l2.1 4.8l.6 2.5l.5 7.9l1.2 12.7l3.9 25.3l.3 5.2l0 4.7l1.4 10l.1 5.6" stroke="#467df4"/>
<path d="M468.4 197.4l-1 1.3l-19.2 1l-13-.1l-10.4 .8l-10.9-.1l-9.6 .7l-10.9-.1l-12.8 .9l-10.3 0l-10.7 .6l-10.3 .2l-13.4 1l-12.8 1.7l-5.9 1.5l-2.8 1.2l-1.7 1.3l0 1.3l1.9 1.4l5 2.9l1.8 1.6l3.5 4.1l9.5 12.6l10.1 15.3l6.8 11.5l2.1 4.6l1.4 4.9l3.6 18.2l.1 7.4l2.4 13.1l.6 10.3l1.3 10.3l.8 10.3l.8 5.2l.7 2.6" stroke="#4682f8"/>
<path d="M479.0 197.4l.8 2.4l-2.1 1.4l-11.6 .7l-19.3 .4l-10.2-.1l-13.4 1l-8.5 0l-10.8 .4l-19.1 .3l-10.5 .7l-10.8-.2l-16.5 .7l-10.3 1.2l-13.8 1l-6.1 1.3l-2.6 .9l-1.3 1l.6 1.3l4.7 3.8l4.2 4.2l17.6 24l8.6 14.1l2.7 7l4 7.4l2.3 5l.9 2.6l.6 2.6l.7 11l3.6 21.1l.3 10.8l.9 8.2l.7 13.2" stroke="#4685fa"/>
<path d="M457.9 197.6l-1.3 1.6l-10.4 .5l-9.4 0l-15.4 .9l-27.3 .6l-12.6 .7l-7.8 0l-7.3 .5l-22.4 .6l-7.6 1l-12.9 1.1l-5.4 1.4l-2.1 1l-.7 1.1l.9 1.3l2.1 1.4l6 3l2.3 1.6l8.6 9.1l7.6 10l1.4 2.2l2.9 6.7l4.6 9.2l1 2.4l2.1 6.8l2.4 4.8l.8 2.5l.1 2.4l-.5 5.1l.8 12.6l2.1 12.4l.8 9.7l1.7 7.8l.1 9.9l2.1 12.4l-.1 2.5l-.6 2.4" stroke="#4687fb"/>
<path d="M474.8 197.3l-.7 2.2l-2.4 .4l-10.3 .4l-13.7 .1l-7.9 .7l-7.9-.1l-21.2 .9l-11.5 0l-10.1 .6l-24.7 .6l-9.5 .8l-16.2 .4l-19.5 2.6l-3.3 .8l-2 1l.2 1.1l2 1.4l6.2 3l2.7 1.6l5.7 5.4l3.5 4l4.2 6.7l3.5 4.5l3.1 4.9l1.1 2.5l2.3 6.9l3.6 7.4l2.7 7.2l2.3 5.1l.8 2.6l.9 7.7l2.2 10.5l.4 2.6l.4 8.2l1.9 10.3l.4 5.5l-.2 10.5l1.8 13.4l.1 2.8l-.2 2.8" stroke="#458cfd"/>
<path d="M460.9 197.5l.4 2.3l-2.1 1.1l-23.1 .9l-20.7 .4l-9.3 .7l-8.3 0l-7.9 .4l-17.8 .2l-23 .7l-7.9 .8l-7.7 .3l-10 1.3l-5.9 1.1l-2.8 .9l-1.6 .9l.1 1.2l1.7 1.3l4.9 3.2l5.6 5.3l3.7 4.2l3.9 6.3l5 6l3.3 6.6l4.3 7l6.9 13.6l2.7 9.3l2.7 7.3l1.5 5.2l.3 2.6l-.4 7.5l.4 2.6l2.3 7.7l.3 2.5l.5 7.3l1.1 10.5l.8 20.3" stroke="#448ffe"/>
<path d="M452.6 197.4l.3 2.2l-1.7 1.7l-7.4 .4l-10 0l-11.7 .8l-12.5 .6l-27.8 .4l-14.6 .7l-10.5 .1l-22.1 1.3l-7.7 .6l-5.1 .8l-5.3 1.4l-2.7 .9l-1.7 1l.1 1.1l6.4 4.6l5.5 5.7l3 4l5.7 8.5l4.7 5.9l2.5 4.1l4.5 6.2l7.6 15.4l4.7 16.8l.5 7.7l1.6 7.3l.6 7.3l1.9 12.5l3 29.8" stroke="#4294ff"/>
<path d="M452.2 197.4l.4 2.2l-1.7 1.7l-22.3 1.2l-12.5 .2l-11.7 .6l-12.1 0l-22.9 1.1l-9.9-.1l-7.6 .6l-9.6 .3l-7.4 .8l-12.8 1l-5.4 1.2l-2.5 .9l-1.2 1l.6 1.3l6.7 5.2l3.5 3.5l13.6 18.3l14.4 25.5l2.9 9.4l1.8 4.6l1.2 5l.3 7.5l1.3 7.4l.1 7.4l2.2 9.8l1.1 7.4l.2 2.3l-.2 10.3l1.7 9.4l.2 2.7" stroke="#4196ff"/>
<path d="M458.3 197.1l-.1 2.6l-2.3 1.1l-9.9 0l-20.3 .6l-32.8 1.3l-10.3-.1l-12.2 .8l-9.4 0l-13.3 .7l-7.1 .9l-8.2 .2l-7.2 .8l-8.1 1.7l-2.5 .9l-.8 1l1.1 1.4l7.6 4.9l2.1 1.6l1.9 1.8l3.4 3.9l6.3 10.2l6.2 8.4l1.4 2.3l3.6 9.2l5.2 8.9l.9 2.4l3.1 11.9l2 17.5l2.4 10.3l.4 7.5l1.6 7.8l0 7.3l.9 7.7l.2 7.4l.8 4.8" stroke="#4099ff"/>
<path d="M479.3 197.4l.7 2.5l-2.2 1.3l-70.8 2.5l-21.3 .2l-11 .5l-16 .3l-13.4 1.2l-11.6 .4l-9.9 .8l-6.7 1.2l-3 .9l-1.6 1.1l.6 1.3l4.9 3.9l3.7 4.1l7.3 11.1l8.8 11l9 13.7l2.6 4.4l1 2.3l3.1 10.3l3.9 7.7l.8 2.6l.3 2.6l.4 8.1l1.2 8l.6 7.9l2.3 13.4l.5 5.3l.3 13.5l1.2 5.4" stroke="#3d9efe"/>
<path d="M465.4 197.2l-2 1.6l-5.1 .4l-28.1 .6l-8.1 .8l-7-.1l-10.2 .6l-10.7 0l-7.4 .4l-18.1 .4l-38.3 2.1l-7.5 1.2l-6.1 2.2l-2.1 1.3l-.4 1.2l1.4 1.3l4.9 3.1l2 1.8l5.2 5.5l9.5 12.3l1.3 2.1l4.3 8.9l5.6 9.2l3.3 7.3l4.8 14.4l2 20.3l1.5 10l1.1 10.4l1.9 7.6l.2 2.5l0 7.5l1.2 7.7l.3 5.3" stroke="#3ba0fd"/>
<path d="M478.9 197.4l-.5 2.6l-2.6 .8l-12.9 .2l-26.7 1.3l-8.8-.2l-23.9 1l-27.3 .3l-24.1 1.2l-7.6 0l-19.4 1.9l-6 1.1l-3 .9l-1.8 .9l0 1.1l7.1 4.4l5.9 5.3l3.8 4l3.7 4.8l4.9 8.9l4.6 7l2.6 4.7l6.1 14.9l2.2 7.8l1.7 7.8l1 10.9l1.7 10.7l.2 5.2l.3 2.6l1.4 5.4l.3 2.7l-.3 5.2l.1 2.7l1.8 8l-.1 7.9l.6 5.9" stroke="#38a5fb"/>
<path d="M476.7 197.0l-1.7 1.4l-5.2 .4l-21.2 .4l-40.2 1.7l-13 .1l-27.2 1.1l-13.4 .1l-13.5 1.1l-7.4 .3l-11.2 1.8l-5.9 1.7l-2.3 1.1l-.8 1.3l.9 1.4l4.7 3.6l4 3.7l1.8 2l4.6 6.4l7.3 8.6l3 4.5l5.8 11.3l4.6 7.3l2 4.9l2 7.4l1 2.5l3.9 7.5l.8 2.5l.5 2.5l-.3 11l.5 5.1l3.2 18.7l.2 2.7l-.5 10.5l1.2 8.2l.3 5.2" stroke="#37a8fa"/>
<path d="M465.8 197.3l.6 2.5l-1.3 2l-2.1 .2l-7.4 .5l-13.9 0l-7.4 .6l-7.7-.3l-11 .9l-7.9 0l-31.3 1l-10.6 .1l-25.7 1.2l-18.6 1.5l-6.1 1.5l-2.4 .9l-.8 1.1l1.3 1.2l4.4 3.3l8.2 10.2l6 8.6l5.5 8.7l5.9 8.4l7.2 11.6l2.3 4.8l1.1 4.7l.9 2.4l3.4 7.3l1.3 4.9l0 7.7l1.3 8l.9 12.6l3.6 26.4l-.1 5.3" stroke="#35abf8"/>
<path d="M473.5 197.2l-.7 2.3l-2.4 .5l-5.1 .3l-58.6 2l-13.4 .1l-14 .7l-7.4-.1l-10.5 .8l-9.9 .1l-16.4 1.1l-13.8 1.7l-6 1.7l-2.2 1.2l-.5 1.2l1.6 1.3l5.8 3l1.8 1.7l17.3 23.6l6.5 11.4l5.5 12l3.9 10.1l4.2 7.2l.8 4.9l0 8.2l1.7 7.7l2.1 15.7l.3 21.6l.7 5.2l.6 2.6" stroke="#31aff5"/>
<path d="M461.1 197.2l.1 2.5l-1.6 1.9l-2.2 .3l-4.5 .2l-7.5-.2l-23.3 1.3l-7.1-.2l-15.9 .5l-12.4 .7l-13.4 0l-14.7 .8l-13.5 .2l-18.1 1.7l-10.6 2.1l-2.3 .7l-.5 .9l1.5 1.1l5.7 2.8l2.5 1.5l1.9 1.7l4.4 5.8l5.3 6.3l4.8 8.6l8.4 13.5l3.3 6.8l1.6 4.6l4.2 14.9l2.6 15.3l.6 10.1l1.6 7.3l1.6 13.2l1.4 22.7" stroke="#2fb2f4"/>
<path d="M483.9 197.0l-1.7 2.4l-2.8 .3l-16.2 0l-14.2 1.1l-10.4-.3l-8 .9l-8.7 0l-23.9 .9l-13.6 0l-30.5 1.2l-22.1 1.2l-5.6 .7l-5.4 1.3l-5.4 1.9l-1.1 1.1l.9 1.1l7.5 4.9l4.1 3.7l3.8 4.1l6.9 8.9l2.8 4.5l3.2 6.9l7.4 12.1l2.2 5l2.4 7.5l1.8 8l4.3 32.6l1.1 5.4l.4 2.8l.3 13.3l1.7 16.7" stroke="#2cb7f0"/>
<path d="M470.3 197.3l-.4 2.5l-2.7 .8l-23.7 .8l-21 .4l-10.7 .8l-28.5 .4l-41.7 1.6l-18.5 1.9l-6 1.1l-3.3 .9l-2.3 1.1l-.5 1.4l12.7 17.5l6.7 8l3 4.1l6 6.1l1.7 2.2l9.9 18.1l3.8 9.8l1.3 5l1 10.7l3 17.9l1.5 12.9l2.2 23.6" stroke="#2ab9ee"/>
<path d="M458.7 197.1l-1.2 1.9l-2.6 .2l-43.5 1.4l-7.7 .5l-9.6-.1l-11.1 .9l-8.8-.1l-41.1 1.9l-5.1 .6l-7.1 1.6l-5.3 1.9l-2.6 1.3l-1.6 1.5l.2 1.5l9.2 9.4l3.1 4.2l5.1 8.2l5.4 5.8l3.4 4l4.2 6.1l7 10.6l2.2 4.5l5 17l-.1 7.4l.2 2.6l3.7 17.5l.7 9.9l1.5 5.1l.4 2.5l0 7.7l1.3 7.5l.1 2.4l-.2 2.4" stroke="#27bee9"/>
<path d="M455.1 197.5l.9 2.4l-1.2 2l-2.4 .3l-25.4 .7l-10.4 0l-7 .6l-13 0l-14.8 .9l-10.2-.1l-40.3 1.9l-16 2.6l-2.6 .8l-1.4 1l.5 1.6l4.4 6.7l25 31.8l8.2 13.2l3.2 6.7l3.5 9.3l.5 2.4l1.3 14.5l2 7.5l.5 2.7l.8 10.2l1 7.3l.2 10.4l1.4 7.1l.2 2.4l-.1 2.7" stroke="#25c0e7"/>
<path d="M466.2 197.1l-.8 2.2l-2.3 .5l-20.7 .6l-10 .7l-10.4 .1l-13.1 .6l-17.8 .4l-10.2 .5l-7.7 0l-26.3 .9l-21.3 2l-7.5 1.5l-3.1 .9l-2.3 1.2l-1 1.5l1 1.7l3.9 4l8.7 12.8l8.3 9.9l4.8 8.6l6.3 6.5l1.4 2.1l3.6 9.3l4.2 9.2l1.4 5.3l1.4 7.7l.6 7.7l1.7 10.2l1.5 15.5l2.2 10.4l.3 2.7l.4 10.2l.4 2.5" stroke="#23c3e4"/>
<path d="M456.9 197.2l-.5 2.3l-2.4 .8l-7.3 .4l-10.7 0l-20.1 1.1l-7 0l-8 .6l-10.6-.3l-14.7 .8l-12.6 .1l-20 .9l-15.2 1.4l-5 .8l-8.1 2.3l-2.5 1.2l-1.3 1.2l.6 1.4l4.7 3.5l1.5 1.7l7.3 10.5l4.8 5.7l9.2 12l7.6 10.7l6.8 13.2l3.3 14.6l1.3 15.4l2.7 14.6l1.2 12.9l1.6 12.2l.3 7.7" stroke="#20c7df"/>
<path d="M453.4 197.1l.6 2.3l-2.1 .9l-5.4 .3l-25.4 .6l-22.8 1.1l-19.6 .2l-12.1 .6l-15.7 .3l-11.6 .8l-17.6 2.3l-5.9 1.4l-3.1 1l-2.2 1.1l-.6 1.2l9.2 9.9l1.5 1.9l3.4 6.4l5.4 5.8l4.1 6.1l5 5.7l7.7 10.6l5.2 10.7l5.1 11.9l.7 2.2l.2 2.4l-.3 5l.3 2.5l1.4 7.7l2.9 24.7l.4 7.7l1.7 9.4l.5 5.3" stroke="#1fc9dd"/>
<path d="M476.7 197.3l.7 2.5l-2.2 .6l-30.8 1.2l-11.3-.2l-24.3 1.3l-16.2 .1l-18.6 .6l-13.1 .9l-11.1 0l-18.9 1.4l-8.1 .9l-5.9 1.2l-3.1 .9l-2.5 1.1l-1.1 1.2l1.1 1.6l2.4 2.1l1.8 2.2l10.6 15.7l7.2 8.2l8.2 10.6l3.9 6.9l3.5 4.6l1.4 2.3l2.3 7.4l3.8 7.8l.7 2.4l1 10.6l1.6 10.8l1.1 10.6l1.3 7.9l.7 11.1l1.5 13.1" stroke="#1ccdd8"/>
<path d="M480.2 197.4l.5 2.7l-2 1.5l-14.3 .2l-18.1 .9l-8.1-.1l-21.6 .9l-27.2 .4l-13.4 .6l-22.3 .4l-22.1 1.7l-7.7 .4l-6.1 1.3l-3.3 1l-2.2 1l-.1 1l3.7 4.4l2.7 4.6l5.4 6.7l2.5 4.8l1.5 2.2l5.5 5.8l10.1 13.5l5.5 8.9l6.7 14.9l.7 2.6l0 8.1l1.9 13.5l1.9 10.6l1.2 8.1l.4 13.5l2.8 13.7" stroke="#1bd0d5"/>
<path d="M477.5 197.1l.5 2.8l-2.2 1.6l-8.4 .1l-13.1 .8l-14.1 .1l-13.8 .5l-7.6-.1l-27.2 1.1l-11.1 .2l-7.3 .6l-22.6 .3l-15.7 1.1l-13.2 1.6l-6.3 1.3l-3 1l-1.9 1l.5 1.2l4.8 3.6l1.7 2.1l5.6 9.2l3.3 4.6l3.5 4.1l7.7 8.1l3.8 6.7l4.9 6.7l1.5 2.3l5.1 9.6l.9 2.5l.6 2.7l.4 2.8l.7 13.4l2.5 10.7l.7 7.9l1.3 8.3l2.6 23.8l1.2 5.5" stroke="#1ad2d2"/>
<path d="M458.4 197.4l.2 2.7l-1.8 1.8l-7.8-.4l-10.6 .8l-7.3 .1l-7.2 .4l-12.1 .1l-21.6 .8l-19.2 .3l-10.5 .7l-10.1 .2l-16.9 1l-11.1 1.3l-4.7 .9l-3 1l-2.4 1.2l-.6 1.2l1.5 1.6l4.6 3.7l4.1 4.1l1.5 2.1l3.1 6.1l1.3 2l8.4 9.8l4.8 6.3l5.2 8.3l4.4 6.4l1.1 2.3l1.7 4.9l1.2 5l.3 10.1l.5 5l2.2 12.6l1.7 7.4l.4 2.6l.5 10l2.2 10.1l.3 2.6l0 7.5l.5 4.7" stroke="#19d5cd"/>
<path d="M455.4 197.4l0 2.4l-1.2 2.1l-2 .4l-4.5 .2l-8-.1l-9.9 .6l-7.7 0l-32.7 1.1l-28 .5l-9.4 .8l-7.9 .1l-20 1.9l-10.8 2.4l-1.4 .9l.6 1.3l4 3.9l7 10.4l10.3 13.9l8.3 9.7l6.8 10.6l2.2 4.5l3.4 9.5l1 5l1.9 20l2.5 12.4l.2 7.7l2.6 12.3l.3 2.5l0 7.4l.8 5.2" stroke="#18d7ca"/>
<path d="M473.7 197.4l.2 2.6l-1.7 1.8l-45 1.6l-10.5-.1l-21.2 .9l-8.1-.2l-13.5 .9l-7.4-.2l-11.1 .8l-7.3 .1l-23.6 1.9l-9.2 1.7l-2.6 1.1l-.6 1.4l1.1 2.5l1.5 2.6l4.7 6.3l4.5 6.8l5.1 5.7l10.1 12.5l10.9 17.9l2.2 5l1.8 8.1l.5 13.1l2.5 15.4l1.9 7.9l.4 2.7l.1 5.6l.3 2.6l1.7 7.5l.6 8l.5 2.6l.9 2.5" stroke="#18dbc5"/>
<path d="M483.5 197.4l-1.3 1.7l-19.6 1l-15.9 0l-8.3 .8l-11.3-.1l-26.9 1.4l-21.7 .3l-11.5 .7l-8.3-.2l-27.8 1.8l-5.5 .7l-8.1 1.9l-3.2 1.1l-2.4 1.3l-.7 1.4l1.5 1.6l5.1 3.3l3.8 4l3.6 4.6l2.5 4.5l1.6 2.3l6 6.7l4 6.5l6.8 9l1.2 2.2l3.1 7.3l3.4 4.9l1.1 2.6l.2 8.5l.8 5.3l-.1 8.1l.5 2.8l2.1 8l1.1 10.8l1.6 8.3l.4 8.3l2.2 10.4l.1 2.8l-.6 2.9" stroke="#18ddc2"/>
<path d="M483.0 197.1l-2.3 1.7l-3 .2l-15.8 .7l-8.8 0l-11.2 .8l-13.2 .3l-8-.2l-8.3 .8l-10.8 .3l-10.9-.3l-10.7 .9l-10.7 .2l-30.1 1.5l-10.5 1.2l-11.9 1.9l-3 .9l-1.9 1.4l-.1 1.9l5 9.7l5.2 6.8l2.5 4.3l1.6 2l6.2 6l1.6 2l12.6 18l2.6 4.9l3.1 7.4l2.5 4.6l1 2.5l.6 10.9l1.7 8.1l1.6 10.5l2 8.2l2 29.8" stroke="#18e0bd"/>
<path d="M470.6 197.1l0 2.6l-2.3 .7l-10.9 .2l-23.2 1.1l-13.6 0l-10.6 .7l-25.3 .4l-24.7 1l-13.4 .8l-10.5 .2l-5.3 .5l-9.7 1.5l-6.1 1.5l-2.4 1.1l-.6 1.4l1.7 1.8l4.9 4.2l1.7 2.1l6.6 10.7l5.4 6.4l2.8 3.9l8.7 10.7l9.9 18.4l.7 2.5l0 10.7l1.4 15.6l2.5 12.5l.7 8.1l1.5 8l.8 10.1l2.1 10.7" stroke="#19e2bb"/>
<path d="M470.2 197.3l.2 2.2l-2.3 .6l-8.3 .5l-22.4 .5l-8.8 .6l-10.2 .1l-36.4 1l-13.6 .7l-13.5 .1l-20.8 1.3l-7.3 .8l-5.3 1.1l-6.4 1.6l-2.2 1.1l-.5 1.1l10.7 12.1l10.4 15.1l6.9 8.2l3.2 6.8l5.9 6.9l1.3 2.2l.9 2.3l2.5 7.3l.6 2.5l5.4 39.1l2 18.6l1.3 7.4l.4 5l-.3 2.9" stroke="#19e3b9"/>
<path d="M481.1 197.5l.1 2.6l-2.2 1.5l-10.8 .1l-34.5 1.3l-12.4 0l-7.2 .5l-62.4 1.7l-21.9 1.6l-11.5 1.5l-3 .6l-2.3 .9l-.6 1.3l1.5 1.8l2.4 2.1l1.6 2l5.1 8.7l5.6 6.7l13.2 17.6l6.1 9.2l2.3 4.6l2.4 7.7l1.8 8l.9 10.8l.2 8.4l.4 2.8l2.7 7.7l.9 8.3l2.3 13.5l.9 10.5l1.2 5.5" stroke="#1ce6b4"/>
<path d="M481.0 197.3l.6 2.7l-2.4 1.1l-11.4 0l-24.7 1.2l-21.9 .4l-13.1 .8l-35.4 .7l-29.3 1.2l-22 1.8l-7.4 1.5l-2.4 1.2l-.2 1.4l5.5 6.6l5.1 6.6l4.4 6.6l7.7 8.8l4.2 6.2l6.7 8.6l2.6 4.7l4.4 9.9l1.5 5.1l1.8 10.7l1 13.6l3.5 18.7l.8 10.8l2.4 13.3l.3 5.5" stroke="#1de7b2"/>
<path d="M459.8 197.3l.2 2.3l-2.3 .9l-87.2 3l-10.2-.2l-8.4 .8l-6.8 .2l-21 1.8l-7.8 1.8l-2.6 1l-1.8 1.2l-.2 1.2l1.5 1.4l5.1 3l2.1 1.7l1.9 1.8l1.6 2.1l2.7 4.5l4.9 6.7l3.8 5.8l9.8 12.3l9.8 17.6l.7 2.5l.4 10.1l.8 7.7l.1 7.7l2 7.9l.9 7.4l1 5.1l.3 2.6l.1 7.4l2 15.2l.2 5.3" stroke="#20eaac"/>
<path d="M466.3 197.4l.2 2.2l-2.2 .5l-13.7 .6l-18.1 .4l-6.8 .5l-39 1l-11.2 .6l-10.1-.1l-18.1 1.1l-10 .2l-7.8 1.1l-8.6 .9l-6 1.6l-2.3 1.3l-.8 1.4l1.2 1.7l4.4 3.7l5.2 6.4l17.6 24.9l6.7 8.8l2.3 4.4l5.5 11.8l.8 2.6l.8 5.4l1.5 20.4l.3 2.6l1.6 7.7l.6 7.6l1.5 10.4l.8 12.9l1.3 5.1" stroke="#22ebaa"/>
<path d="M471.6 197.3l-.4 2.6l-2.5 .7l-10.1 .1l-12.6 .8l-8.8 .1l-23.6 .8l-10.3 0l-11.7 .7l-7.1-.2l-8.1 .5l-10.8-.1l-17.8 1.4l-8.6 .2l-15 1.5l-5.4 .9l-3.3 .9l-2.8 1.2l-1.6 1.4l.7 1.8l8.9 11.1l6.7 10.7l7.3 7.7l11.2 15.1l2.5 4.5l4.2 9.5l.7 2.4l.8 5.3l.5 13.3l.3 2.5l2.1 8.1l.9 7.6l1.8 5.3l.4 2.7l-.4 7.7l1.7 7.8l1.8 12.7" stroke="#25eca7"/>
<path d="M477.2 197.3l.2 2.6l-2.5 1l-24.5 .6l-18.9 1l-13.1 0l-8.4 .6l-28.7 .3l-11.5 .9l-18.7 .2l-24.4 2l-5.8 .7l-5.9 1.5l-2.5 1.1l-1.1 1.2l.8 1.5l2.2 2.1l1.6 2.1l2.3 4.5l5.5 6.9l3.8 6.4l9.2 10.1l11.1 15.3l2.7 5l5.1 12.5l.4 2.6l-.5 5.4l0 2.7l3.3 13.7l1.4 13.1l.7 10.5l3 21.5" stroke="#2aefa1"/>
<path d="M469.8 197.0l-1.4 1.9l-10.4 .8l-15.5 .7l-7.3-.2l-11.2 .8l-18.5 .3l-15.8 .9l-24.3 .3l-35.9 2.2l-5.1 .7l-5.2 1.3l-6.2 2.3l-2 1.3l-.1 1.4l4.2 4l1.7 2l11.4 17.1l7.6 7.9l3.2 4.2l5.6 6.5l1.3 2.1l7 16.5l1.4 5l1.7 7.7l.5 5.3l-.2 5.2l.3 5.2l2.8 10.2l.7 7.9l2 7.4l.3 13.7l.7 5l.7 2.2" stroke="#2cf09e"/>
<path d="M475.0 197.2l.3 2.6l-2.2 1.2l-7.8 .2l-8.5 .7l-10.4-.2l-13.3 1l-8.6-.1l-21.4 .8l-7.9-.1l-8 .5l-7.3 0l-30 1.3l-10.2 .1l-14.2 1.4l-11.3 2.5l-2.6 .8l-.6 1.1l4.5 3.9l2 2.2l3.3 4.6l7.1 10.9l8.6 10.4l5.4 8.8l5.3 6.4l1.3 2.3l4.1 10l1.6 5l1 5.2l1.9 13.4l.2 7.9l2.8 10.6l.2 2.5l.1 7.9l1.7 10.9l.4 7.8l.5 2.6l1 2.7" stroke="#32f298"/>
<path d="M467.1 197.4l.9 2.5l-1.7 1.6l-8 .4l-8.3 0l-9.7 .7l-12.5 0l-24.2 1l-43.6 .8l-13.2 1l-12.7 .3l-16.6 2.4l-3.1 .8l-1.9 1.1l.1 1.8l1.6 2.7l13.1 17.1l9.6 11.8l10.7 14.9l1.5 2.3l1 2.3l2.3 7.3l2.8 7.3l1.3 5.3l1.7 17.9l2.2 10.1l.3 7.8l1.3 7.9l1.5 12.9l.5 7.7" stroke="#35f394"/>
<path d="M454.1 197.2l.8 2.4l-1.6 1.7l-10.3 .6l-17.6 .6l-9.4-.2l-8.1 .7l-26.8 .6l-27.8 1.3l-10.4 .1l-22.3 2.5l-5.7 1.5l-2.3 1.1l-.8 1.3l1.1 1.5l4.2 3.4l5 5.6l2.9 4.3l3.4 6.2l1.6 1.9l6 5.7l1.7 2l5.7 8l9.6 17.8l1.6 4.9l.7 4.8l.4 4.6l0 7.8l1.3 7.6l.7 7.4l1.8 7.4l.3 2.4l1 9.9l.2 7.7l.4 2.4l2 7.1l.9 5.4" stroke="#3cf58e"/>
<path d="M457.8 197.3l.4 2.2l-2.2 .8l-12.9 1l-12.8-.1l-9.9 .7l-10.8 0l-19 .8l-8.5-.1l-7.2 .5l-12.3 .3l-30.2 1.5l-8 1.1l-5 1l-6 1.8l-1.7 1.2l.4 1.4l4.8 3.7l3.4 3.8l5.7 8.4l6.4 8l10.4 14.2l3.7 6.5l4.1 6.5l2.3 4.6l1.3 4.8l1.2 10.1l1.2 7.3l2.1 15.2l.7 7.4l1.3 7.4l.9 12.7l1.9 9.7l.5 5.4" stroke="#3ff68a"/>
<path d="M485.3 197.5l-1.4 1.3l-36.6 1.4l-7.9 0l-22.1 1l-24.6 .6l-8 .5l-8.4-.2l-13 1.1l-11.9-.1l-18.8 1.3l-7.5 .9l-5.6 1.3l-3.3 1.1l-3 1.3l-1.5 1.5l.7 2l5.9 7.3l3.9 6.7l5.7 6.3l2.7 4.2l5.6 6.3l3.3 4.4l9.2 13.6l3.5 7.3l2.3 7.8l1.8 13.7l3.8 21.6l.9 8.2l.8 13.4l1.8 13.7" stroke="#43f787"/>
<path d="M480.7 197.4l-1.7 2l-10.8-.1l-10.3 .8l-21.7 .7l-8.2 .5l-35.1 .7l-38.2 1.3l-21.2 1.4l-8.1 .9l-5.4 1.1l-6.6 2.1l-1.6 1.3l.4 1.5l4.2 4.3l2.5 4.3l5.2 6.6l4.4 6.5l9.2 10.4l9.4 13.7l2.3 4.5l5.5 12.8l.9 2.7l.3 2.6l-.3 5.2l.2 2.7l1.2 5.6l.6 7.9l2.8 13.7l.3 10.2l3.3 21.8" stroke="#4af880"/>
<path d="M485.3 197.3l-1.6 2.1l-2.5 .2l-16.1 .6l-8 0l-11.2 .8l-10.8-.1l-10.9 .7l-8.9 0l-8.3 .4l-21.7 .4l-11.3 .9l-13 .1l-22.8 1.2l-10.5 1.1l-8 1.2l-3.4 .9l-2.9 1.2l-1.6 1.4l.7 2l9.8 13.8l13.7 17.3l8.2 11.5l4.2 7l4.3 10.1l5 6.8l1.2 2.4l.8 5.3l1.6 14l.9 13.5l2 11l.9 22" stroke="#4ef97d"/>
<path d="M483.2 197.3l0 2.5l-2.5 .9l-24.7 1l-8.3 0l-10.5 .7l-14.1 0l-21.7 1l-24.9 .8l-7.4-.1l-27 1.1l-8.9 .8l-10.5 1.3l-6.2 1.3l-2.6 .9l-1.2 1.1l1.1 1.6l4.2 4.2l9.1 13.6l5.6 6.6l4 6.3l5.7 6.6l1.5 2.3l2.4 4.8l4.6 7.1l2.3 4.9l.9 2.6l1 5.4l2 16.3l.4 8.1l2.8 13.3l1.8 16.6l.5 11l1.1 5" stroke="#55fa76"/>
<path d="M462.5 197.3l1.1 2.6l-1.3 1.8l-43.9 1.6l-15.8 0l-30.6 .9l-7.6 .5l-10.5 .1l-32.7 2.3l-6.1 1.7l-2.3 1.2l-.4 1.3l4.8 6l11.9 16.9l8.5 9.9l8.2 13.1l5.1 8.9l1 2.4l1.4 4.9l3 7.2l.5 2.5l1 10.3l3.2 17.5l1.1 18.2l2.2 12.9l.1 4.8" stroke="#59fb73"/>
<path d="M473.8 197.1l-1.6 2l-2.6 .2l-16.1 0l-7.9 .7l-11 .2l-10.4 .7l-10.3-.1l-36.9 1.8l-10.8 0l-13.6 .5l-21 1.4l-13.4 2.2l-3.2 1l-2.6 1.3l-1.2 1.4l.9 1.7l4.1 4.2l9.5 13.4l6.5 8.1l5.8 8.4l6.7 8.5l4.3 6.6l2.4 4.8l1.7 4.9l2.5 10.4l.9 15.8l.8 5.2l2 7.7l.8 13.4l1.9 10.6l.8 7.7l1 5.1" stroke="#5dfc6f"/>
<path d="M466.3 197.4l.2 2.4l-2 1.6l-23.2 .9l-8.1 0l-9.6 .8l-14.1-.3l-9.3 .6l-31.4 .7l-7.9 .9l-10.1-.3l-10.4 1.1l-15.7 1l-8.5 2l-3.1 1l-1.9 .9l.4 1.3l4.5 3.9l3.7 4.2l5.6 8.5l6.6 8.6l3.8 5.8l7 8.5l1.5 2.2l3.3 6.9l2.8 4.4l1.1 2.3l1 5.3l.9 2.6l2.6 4.7l.7 2.4l.2 7.8l1.7 13.1l1.4 7.5l1.9 13.2l.8 10l1.4 7.8l.2 5.3" stroke="#65fd69"/>
<path d="M481.4 197.2l-1.7 2.2l-2.7 .2l-29.9 .7l-11.1 .6l-15.8 .3l-19.2 1.1l-10.8-.2l-10.6 .7l-21.9 .4l-13.5 .9l-8.5 .2l-13 1.8l-2.9 .7l-6.9 2.3l-2 1.3l0 1.2l5.2 3.4l1.8 2.1l8.5 13.7l4.8 6.2l7.6 8.6l11.8 18.5l2.7 4.9l.7 2.4l.2 5l.6 2.7l1.7 5.7l.3 2.7l-.4 5.4l.5 5.4l3 10.8l.7 8l1 5.4l.2 2.6l-.5 5.4l0 2.8l2.2 11.3l.2 2.7" stroke="#69fd66"/>
<path d="M476.9 197.3l-.5 2.1l-2.5 .4l-26.8 1.1l-16 .3l-10.5 .6l-11.7 0l-19.1 .5l-55.5 2.4l-13.8 1.8l-3 .7l-3 1.1l-2.2 1.2l-.6 1.4l1.5 1.6l4.9 3.9l1.8 2.1l7 11.1l13.6 17.1l2.8 4.4l3.6 6.9l4.5 7l1.2 2.5l.9 2.6l.6 2.6l.7 8.1l2.3 12.9l.8 8l1.5 7.8l-.1 5.2l.2 2.7l1.2 5.6l.4 2.7l0 7.8l2.8 13.6" stroke="#71fe5f"/>
<path d="M460.1 197.3l-1.5 2.1l-2.5 .2l-12.8 0l-33.4 1.4l-6.6 0l-8.4 .5l-20.2 .2l-7.8 .7l-19.8 .5l-15.2 1.1l-7.6 1.2l-5.2 1.1l-2.9 1l-2.5 1.3l-1.5 1.4l-.2 1.4l3.1 3.8l5.6 8.8l7.8 9.7l13.8 18.2l6.9 10.6l3.9 9.4l1.6 4.8l.9 4.9l1.1 12.9l1.6 9.6l.9 7.8l1.4 7.2l1.5 12.8l.7 10.6l1.2 4.6" stroke="#75fe5c"/>
<path d="M482.6 197.3l-1.7 1.7l-13.1 .7l-13.9 .2l-10.7 .8l-8.5-.2l-13.2 .6l-8.8 0l-13.1 .7l-24.8 .6l-30.2 1.3l-18.6 1.7l-8.1 1.9l-2.9 1l-2.3 1.4l-.9 1.6l1 2.3l2.9 4.5l10 13.6l12 14.7l7.8 10.9l2.6 4.8l9.2 19.8l.5 2.6l.3 8.5l1.6 8.1l1.1 10.7l1.9 13.2l.8 16.6l.7 5.2" stroke="#79fe59"/>
<path d="M477.3 197.1l.2 2.8l-2.3 1.2l-32.8 .8l-10.3 .9l-13.1-.2l-21.7 1.1l-8.3-.1l-16.3 .3l-21 1.1l-8.2 .1l-11.3 1.3l-10.4 .7l-3 .6l-3.3 .8l-2.6 1.1l-1.3 1.2l.8 1.7l2 2.3l4 6.7l1.6 2.3l7.1 8.5l5.1 6.6l5.3 6l4.3 6.5l5.5 6.4l1.3 2.3l7.4 17.6l1.4 5.1l.9 8.1l.3 8.1l.3 2.6l1.9 7.8l0 5.6l.3 2.6l1.7 5.1l.4 2.7l0 8.5l.9 7.6l.3 5.3" stroke="#80ff53"/>
<path d="M471.0 197.3l.5 2.4l-2.3 1.4l-10.6 .6l-12.7-.1l-15.8 1l-13.6 0l-10.7 .6l-10 0l-15.7 .7l-32.1 .9l-25.8 2.1l-5.9 1.3l-2.7 1.1l-1.2 1.3l.6 2l2.9 4.6l8.9 10.5l14.7 18.7l8.1 13.6l7.6 16.9l.9 2.4l.5 2.5l.4 10.5l4.1 23.4l1.1 12.9l2.3 12.9l.3 5.6" stroke="#84ff51"/>
<path d="M485.1 197.3l-.5 2.1l-11.1 1.1l-8.3 .1l-8.6 .5l-7.7-.3l-11.2 .7l-28 .6l-8.4 .6l-21.3 .3l-45.3 2.1l-7.9 .9l-11.5 2.5l-3.2 1.1l-1.8 1.3l.5 1.7l4 4.7l6.1 9l8.5 11.1l5.6 6.3l9.6 13.2l1.3 2.3l4.5 10.4l1.4 2.5l5.6 6.8l.9 2.2l.7 8l3.6 24.9l.5 11.1l1.5 8.2l0 8.3l.6 5.4" stroke="#8bff4b"/>
<path d="M453.1 197.3l1.2 2.6l-1.4 2l-13.3 .3l-17.4 .9l-6.4-.1l-24.1 .8l-33 .6l-24.5 1.4l-7.7 .8l-10.1 1.9l-3.2 .8l-2.5 1l-.7 1.2l6.8 5.3l1.6 2l6.9 10.6l6.2 8.1l6.3 7.3l3.8 6l6.5 8.6l2.5 4.5l1.9 6.8l.9 2.4l4.3 6.7l.8 2.2l.4 2.4l.8 7.6l1.2 7.5l2.4 17.6l.4 7.2l1.3 10l-.3 7.8l.5 5" stroke="#8fff49"/>
<path d="M465.3 197.5l-.9 1.5l-11 .6l-7.5-.1l-10.3 .7l-7.6-.2l-22.9 1.3l-11.1-.1l-9.7 .7l-13.6 .2l-9.9 .6l-12.4 .2l-10.5 .7l-15.8 2l-2.7 .6l-2.7 .9l-2.2 1.1l-1.5 1.3l0 1.5l1.3 2.1l11.3 15.1l9.6 12l6.1 8.3l7.9 13.2l3.2 9.6l5.3 9.5l.5 2.4l.7 9.8l3.3 23.5l.4 7.6l1.2 7.2l0 10.8l.4 2.6l1 2.3" stroke="#96fe44"/>
<path d="M481.7 197.2l-.8 2.5l-2.5 .4l-19.2 .3l-19.1 .9l-16.6 .2l-10.9 .6l-35.4 .8l-7.4 .5l-11.8-.2l-5.2 .6l-8.8 .3l-7.5 .9l-6.1 .1l-5.6 .7l-11 3.1l-2.4 1.1l-.8 1.4l5.3 6.1l3 4.4l5.6 9.6l1.8 2.1l6.1 6l13.2 17.4l2.6 4.9l8.2 17.3l.8 2.5l.3 2.7l.1 8.3l2.6 7.9l.6 2.8l2.1 27.2l2 16.3" stroke="#99fe42"/>
<path d="M482.4 197.4l.5 2.8l-2.4 1l-13.9 .1l-65.4 2.3l-16.9 0l-13.9 .8l-23.9 .8l-24.9 2.2l-6.9 1.3l-2.5 1.1l-.6 1.3l5.9 5.5l4.9 6.7l4.1 7l1.7 2l4.1 4l1.6 2.2l2.4 4.6l1.7 2.3l4.2 4.4l1.7 2.2l6.3 11.5l2.3 5.2l2.7 7.8l1.4 5.2l2.2 21.8l2.5 10.8l.3 2.8l.1 8.3l2.4 21.8" stroke="#9cfe40"/>
<path d="M498.9 197.5l-5.6-.1l-43.7 2.2l-12.9-.2l-12.5 1l-14.1 .2l-17.3 .8l-11.1 0l-11.1 .8l-11.8-.1l-22.4 1.5l-12.1 1.4l-6.3 1.5l-3.3 1.2l-2.7 1.5l-1.3 1.6l.8 1.7l5.2 3.6l3.6 4.2l3.7 4.7l6.2 9.4l5.5 6.8l10.3 13.8l4.4 7.6l4.1 10.7l2.5 5.4l.9 2.7l.3 2.7l.1 8.4l2.1 11.7l.9 11l1.5 8.8l.8 14.6l1.1 8.4" stroke="#a1fd3d"/>
<path d="M475.5 197.4l.6 2.9l-.5 2.3l-2.5 .7l-38.5 1.2l-10.7-.1l-26.4 1.3l-8.8-.1l-21.4 .4l-27.1 1.1l-16.4 1.4l-6 .8l-5.7 1.5l-.7 .8l1.4 1l5.8 2.4l2.1 1.5l3.3 3.9l6.2 9.5l6.2 6.5l1.5 2.1l3.2 6.9l4.7 7.1l7.2 14.4l4.5 12.7l1.9 11.1l2.5 23.9l2.4 16.3l-.2 10.6l.6 5.6" stroke="#a4fc3c"/>
<path d="M486.9 197.3l-1 2.2l-2.7 .3l-30.6 1.2l-27.5 .5l-28 1.3l-11.4-.2l-13.3 .4l-8.9 .8l-8.1 .1l-16.8 .9l-16.8 1.6l-5.7 1.7l-2.9 1.3l-1.8 1.3l.1 1.3l5 3.4l3.5 4l5.9 9.5l7.4 8.5l5.8 9.3l10.3 14l1.3 2.5l2.2 7.3l1.1 2.7l3 5.1l1.2 2.5l.5 2.5l1.3 13.9l2 8.3l.4 2.6l-.3 8.4l1.8 10.9l.3 5.8l0 8.3l.9 5.5" stroke="#a9fb39"/>
<path d="M475.9 197.3l-1.7 .8l-16.3 1.2l-11-.3l-10.1 .9l-10.8-.1l-13.5 .9l-39.8 1l-12.5 .6l-17.2 .5l-18 1.9l-8.7 2.5l-2.4 1.2l-1.5 1.3l.1 1.5l1.6 2l7.5 8.5l7.7 10.7l8.4 10.4l5.6 9.1l4.6 6.7l2.4 4.8l3.2 10l2.1 5l.5 2.6l-.2 5.3l.2 2.7l4 20.9l.6 8l1.4 7.7l1.5 15.7l.2 5.9" stroke="#acfb38"/>
<path d="M475.8 197.2l.2 3l-.7 2.5l-2.5 .8l-8 .3l-22.4 .2l-36 1.2l-10.4 0l-36.2 .9l-8.1 .7l-8.1 .2l-19.4 1.4l-9.8 1.2l-2.6 .8l-.5 1l7.2 5.6l4 4.3l6 9.3l6.5 8.8l5.2 6.4l7.9 11.6l1.3 2.4l2.9 7.7l1.2 2.5l1.5 2.3" stroke="#affa37"/>
<path d="M475.8 197.5l-2.3 1.2l-10.8 0l-9.1 .6l-10.3 .1l-27 1.2l-8.9-.1l-7.7 .6l-30.4 .6l-19.5 .8l-10.1 1l-9 .4l-5.7 .7l-5.1 1.3l-5.9 2.3l-2.2 1.3l-.8 1.3l1.5 1.3l5.7 3l3.9 3.9l5.2 6.7l12.4 17.7l4.5 6.7l8.4 14.9l1.3 2.5l.7 2.5l.2 2.3" stroke="#b4f836"/>
<path d="M493.2 197.5l-2.5 1.2l-23.4 1.3l-14.9 .3l-13.5 .9l-12-.1l-20.5 1.1l-11.9 0l-16.9 .8l-14.6 0l-14.6 1.2l-11.5 .1l-9 1l-5.5 .9l-6.5 1.7l-2.6 1.2l-.9 1.3l1.6 1.6l5.6 3.9l2 2.2l19 26.1l8.7 14.8l5.1 13.5" stroke="#b7f735"/>
<path d="M484.1 197.4l.8 2.8l-1.6 2.1l-2.9 .2l-37.2 1.4l-12 .1l-16.6 .9l-28.1 .1l-10.9 .6l-11.6 .1l-12 .9l-17 .5l-5.9 .5l-11.4 1.6l-3.4 .6l-2 .8l.4 1.2l4.9 3.6l1.7 1.9l5.5 6.9l8 11.6l7.6 9.1l4.2 7.3l5.1 7.1l2.2 5.1l2.6 8.3" stroke="#bcf534"/>
<path d="M475.6 197.1l-2.1 1.4l-10.8 .2l-10.9 .8l-23.7 .4l-27.4 1.3l-21.3 .4l-7.6 .5l-21.7 .5l-13.9 .8l-5.1 .5l-7.9 1.3l-6.5 1.6l-2.6 1.1l-1.5 1.4l.2 1.8l2.4 5.3l7.8 10.9l7.1 8.6l10.8 15.1l5.3 6.9l1.4 2.3l1 2.4l2.5 7.4l1.3 2.6" stroke="#bef434"/>
<path d="M497.1 197.5l-53 2.2l-23.5 .4l-40.7 1.6l-15.1 .3l-30.1 1.5l-5.9 .6l-5.4 .9l-5.8 1.8l-3 1.4l-2.1 1.6l-.3 1.7l4.1 4.4l4.6 7l7.7 9.4l8.8 11.8l4.1 7.3l5.3 7.5l6.1 13.7" stroke="#c3f134"/>
<path d="M488.6 197.2l-2.8 .6l-33.7 1.6l-8.8 0l-11.6 .8l-7.8-.2l-20.4 1.1l-11.3 .1l-11.9 .7l-13.6-.1l-21.3 1.1l-12.9 1l-8.9 1.1l-6.2 1.4l-3 1.2l-1.9 1.5l0 1.6l6.3 6.8l5.1 6.5l4.9 7l5.9 6.9l1.5 2.2l2.6 4.6l5 7.5l2.6 4.7l4.9 10.1l1.8 5.6" stroke="#c6f034"/>
<path d="M497.7 197.3l-40.6 1.9l-15.6 .1l-14.5 1l-17.7 .5l-8.4-.2l-8.5 .6l-27.3 .7l-14.2 .7l-24.2 1.8l-5.8 1.2l-6.3 2.3l-1.6 1.2l.8 1.6l5.6 4.6l2.3 2.3l7.5 9.2l9.9 14.5l4.3 7.1l5.2 7.8l2.8 5.2l3.4 11.1" stroke="#c8ef34"/>
<path d="M492.1 197.4l-2.7 1.4l-8.2 .5l-55 1.9l-35.1 .8l-11.1 .6l-8.8-.1l-5.5 .6l-8.7 .1l-8.9 .8l-8.7 .3l-17.5 1.6l-6.2 1.6l-2.9 1.4l-1.6 1.6l.7 2l5.7 7.1l25.5 34.8l3 4.8l2.7 5l2.2 5.5l.9 3" stroke="#cdec34"/>
<path d="M481.2 197.4l-2.5 1.1l-13.5 .2l-86.4 3.1l-14 0l-13.6 .7l-17.2 1.2l-5.2 .5l-8.5 1.6l-6.5 2.3l-2 1.3l0 1.5l5 3.5l2.5 2l1.9 2.2l3.4 4.2l9.8 13.6l7.4 9l9.5 16.8l2.2 5.1l.6 2.6l.3 2.5" stroke="#d0ea34"/>
<path d="M480.1 197.5l-.9 2.1l-2.6 .2l-13.7 0l-16.5 .9l-11.4 .2l-21.2 .9l-9.4 0l-13.4 .6l-16.7 .2l-22.1 .9l-8.5 .9l-10.9 .5l-8.1 .9l-6 1.3l-3.1 1l-2.3 1.2l-.7 1.3l1.3 1.6l5.1 3.7l2.2 2l1.9 2.1l4 7.1l9.2 11.1l11.9 18.6l1.2 2.6l4.8 12.8" stroke="#d4e735"/>
<path d="M500.1 197.4l-1.7 2.6l-2.5 1.7l-2.7 1.1l-8.3 1.5l-12 1l-95.2 2.2l-12 .7l-12-.3l-11.6 1.3l-15.1 .5l-13.6 1.3l-.9 .6l5.6 3.3l2.6 1.9l1.9 2l11.2 14.8l8.3 12.2l3.2 5.2l2.1 5l5.7 10.5l.9 2.9l.3 3" stroke="#d7e535"/>
<path d="M488.0 197.1l-1.7 1.5l-14.7 .9l-52.9 1.8l-9.1 0l-8.3 .6l-36.7 .8l-16.9 .8l-22.7 1.8l-5.7 1.4l-3 1.1l-2.1 1.3l-.3 1.5l1.4 2.2l3.6 4.8l11.6 13.5l4.1 6.8l6.9 9.6l9.6 16.8l2 5.2l.3 2.9" stroke="#d9e436"/>
<path d="M500.6 197.5l-5.9 0l-12 .8l-21.5 .5l-14.3 .8l-21 .2l-24.2 1.1l-11.8 .1l-14.5 .9l-15.6-.1l-8.5 .9l-12.1 .5l-14.9 1.7l-6.1 1.5l-3.3 1.4l-2.2 1.6l0 1.7l5.3 3.8l2.4 2.1l2 2.2l1.8 2.4l4.3 7.3l6.1 7.2l5.1 7.4l5.6 7.3l2.9 5.2l3.9 8l2.1 5.5l.5 2.8" stroke="#dde037"/>
<path d="M498.8 197.2l-3.5 .4l-11.8 .3l-11.7 .7l-11.7 .2l-15.1 .9l-14.4-.1l-27.5 1.3l-35.3 1.2l-11 0l-24.4 1.7l-11 1.8l-3.8 1l-3.3 1.3l-2 1.6l.2 1.7l5 4l6.5 6.8l6.5 9.3l8.9 12.2l4.7 7.5l5.5 10.4l2.3 5.4l1.8 5.6" stroke="#dfdf37"/>
<path d="M492.3 197.2l-.8 2.1l-2.7 .5l-6.2 .4l-69.6 2.4l-42 1l-34.6 1.7l-15.1 1.6l-6.4 1.7l-2.7 1.3l-1.1 1.5l1.4 1.5l5.3 3.4l1.8 2l8.4 12.6l5.5 6.5l4.6 7.2l7.8 9.7l3.2 5.1l5.1 12.9" stroke="#e3db38"/>
<path d="M482.8 197.3l-1.1 1.6l-11 1.3l-9-.1l-7.8 .6l-11.5 0l-10.4 .5l-31.5 .9l-9.7 .6l-19.5 .2l-8.9 .6l-10.9 0l-25.9 2.5l-5.6 .9l-3.4 .8l-2.9 1.1l-1.3 1.3l.8 1.7l13 18.7l9 10.6l8 11.5l4.5 7.1l3.9 7.4l.8 2.7l.5 2.8" stroke="#e5d938"/>
<path d="M486.2 197.1l-.8 2.4l-2.7 .4l-13.9 .3l-17.2 .9l-12.2 .2l-19.1 .8l-12 0l-26.9 1.3l-12.9-.1l-13 .4l-13.4 .8l-12.3 1.4l-5.4 .3l-5.9 1l-3.2 1l-2.3 1.3l-.2 1.7l6.3 6.9l1.7 2.2l4 6.6l12.7 15.8l4.3 7.3l6.6 9.4l5.6 13.4" stroke="#e7d739"/>
<path d="M492.4 197.4l.5 2.8l-2.5 1.3l-3.1 .5l-46.5 2l-26.1 .3l-14.1 .7l-9.9-.2l-10.9 .7l-25.4 .5l-21.1 1.1l-15.3 1.9l-2.4 .6l-.1 .9l7.8 5.1l3.9 3.9l9.7 11.2l3.3 4.8l8.2 15.3l2.7 8l3.7 8l.7 2.8l.2 2.8" stroke="#ebd339"/>
<path d="M498.3 197.1l-14.4 1.1l-11.9 .2l-12.1 .7l-14.4 .3l-20.6 .8l-9.3-.1l-8.7 .6l-21.1 .6l-11.7 .8l-23.7 .4l-14.7 1.4l-9 .4l-5.4 1.3l-6.4 2.4l-1.9 1.4l.4 1.5l5.2 3.8l4.1 4.4l7.9 9.6l4.6 7.1l5.7 7.5l3.8 7.4l5.1 7.8l2.3 5.5l2.8 8.6" stroke="#ecd13a"/>
<path d="M492.7 197.6l.4 2.9l-.5 2.4l-3 1.6l-3.1 1l-10.9 1.5l-39 .5l-11.3 .6l-11.7-.3l-29.3 1.2l-15.2 .2l-8.9 .5l-8.5 0l-23.3 1.6l-13.3 .4l-1 .3l8.7 2.8l2.8 1.4l4.3 3.7l6.5 7.4l8.6 15.2l6.3 13.2l3 8l2.7 8.7" stroke="#efcd3a"/>
<path d="M479.4 197.5l-1.6 2.2l-2.7 .1l-24.8 .5l-19.3 .6l-10.8 .7l-12 0l-9.8 .6l-11.3 0l-36.6 1.3l-16.4 1.3l-7.9 1l-5.8 1.1l-6.4 2.1l-1.6 1.1l.7 1.1l5.5 2.7l2 1.9l3 4.2l5.9 6.8l5.8 9.3l6.8 9l8.2 14.3l4.8 13.1" stroke="#f1cb3a"/>
<path d="M494.2 197.3l-2.1 1.3l-18.2 1.2l-19.6 .7l-12.5 .1l-57.8 2l-17.7 .2l-14.8 1.1l-11.2 .4l-5.4 .6l-9 .5l-3 .4l-7.2 2.2l-2.5 1.3l-.4 1.3l2.1 1.6l6.2 3.8l1.8 2l2.4 4.4l1.6 2.3l6.8 7.1l3.4 4.6l9 14.7l3.1 5.6l2.3 5.1l3.8 10.6" stroke="#f4c73a"/>
<path d="M497.0 197.4l.3 3l-2.5 1.9l-2.8 1.4l-2.9 .8l-12 1.2l-41 1.4l-9.2-.3l-8.6 .5l-7.7-.2l-25.4 1.1l-20 .2l-23.4 1l-25.2 1.7l-2.5 .4l.2 .7l6.7 3l2.7 1.8l2 2l7.2 9.2l4.4 7.5l6.9 10l5.8 10.2l3.6 8.2l1.5 5.7l.4 2.8" stroke="#f5c53a"/>
<path d="M490.5 197.3l-.8 2l-2.5 .4l-14.3 .8l-27 .7l-10.1 .6l-12 .2l-14.9 .7l-32.1 .6l-40.1 1.7l-14.6 2l-6.7 1.6l-2.1 1.2l0 1.3l2.2 1.5l5.9 3.3l4.2 4l1.9 2.3l4.2 7.2l5.9 6.8l10.8 17.6l2.2 5l5.2 13.7" stroke="#f6c33a"/>
<path d="M481.0 197.4l1 5.6l-1 2.4l-2.6 .4l-36.9 1.1l-8.9-.1l-8.9 .4l-22.9 .2l-13.6 .7l-11.3-.1l-11.8 .7l-7.8 .1l-9.1 .5l-8.8 0l-25.2 2l.8 .8l6.6 3l2.7 1.7l2.1 2l1.5 2.1l4.2 7l7.4 9.3l3.6 7.6l4.3 6.9l1.3 2.5l4.5 10.4l3.1 8.2" stroke="#f8be39"/>
<path d="M498.2 197.3l-56.2 2.2l-11.3 .7l-14.8 .1l-67.9 2.4l-23.7 2l-7 1.5l-3.1 1.4l-1.6 1.6l.5 1.8l11.3 11.2l1.9 2.3l12.9 19.2l3.7 4.5l1.6 2.5l3.7 8.2l4.2 7.8l2.5 5.9" stroke="#f9bc39"/>
<path d="M497.4 197.7l-3.1 .5l-20.5 1l-8.5 0l-9.3 .6l-14.9-.1l-14 1.5l-15.4-.2l-29 1.1l-12.5 .1l-26.4 1.2l-20.8 2.1l-6.9 2.1l-2.5 1.3l-.5 1.3l1.8 1.4l6.2 3.1l2.2 1.8l11.3 13.8l8 12.4l8 15.9l5.1 13.9" stroke="#fbb838"/>
<path d="M478.0 197.4l1.2 3.2l.5 2.8l0 2.4l-2 2l-37 .9l-30.9 .2l-30.9 1l-31.5 .6l-31.5 1.9l9.4 2.5l2.5 1.2l6.1 5.2l4.1 4.3l1.6 2.3l3.1 7.8l4.7 7.5l6.6 15.8l1.7 5.4l2 8.3" stroke="#fbb637"/>
<path d="M493.7 197.3l.2 3l-1.8 2l-2.6 1.2l-2.7 .7l-9.1 1l-6.1 .4l-19.7 .3l-12.3 .6l-8-.1l-35.7 .9l-11.6-.1l-32.6 1l-14.8 1l-8.1 .9l-10.2 .4l-3.5 .3l-1.6 .5l1.2 1l6.6 3.1l2.3 1.7l2 2l5.2 7l6.4 9.7l5.3 7.4l8.7 15.5l1.8 5.2l2.1 8.7" stroke="#fcb336"/>
<path d="M488.3 197.4l.5 6.2l-.5 2.3l-2.7 1.3l-2.9 .6l-8.3 .5l-14.4 .1l-11.6 .7l-23.4-.6l-11.9 .9l-57.6 1l-38.2 2.3l-.1 .3l9 2.4l2.3 1.1l2.1 1.6l6.7 6.7l3.9 5l11.6 23.6l1.5 5.1l1.6 8.3l2.1 5.7" stroke="#fdae35"/>
<path d="M491.6 197.1l1 2.8l-2.1 1.5l-2.7 .6l-12 1.1l-28.5 1l-15.1 0l-11.2 .7l-52.4 1.1l-19.5 .7l-23.5 1.9l-7.7 1l-1.8 .6l.8 .7l9.9 4.4l2.5 1.7l6.1 5.8l5.5 6.9l5.2 10.1l6.6 16l.9 2.7l1.8 8.7l.9 2.9l1.2 2.8" stroke="#fdac34"/>
<path d="M492.9 197.2l.6 3l-1.4 2.3l-2.8 1.4l-3 .9l-2.9 .4l-20.9 1l-13.5 0l-24.4 .6l-8 0l-12.4 .6l-44.2 .8l-8.4 .5l-9 .2l-8.9 .9l-15.7 1.1l-3 .3l-.9 .4l9.1 3.4l2.5 1.6l5.5 6.4l4.5 4.8l1.8 2.4l9.8 17.6l2.7 5.3l2.3 5.5l5 13.8" stroke="#fea732"/>
<path d="M494.5 197.4l-2.6 .5l-5.8 .3l-29.4 .6l-11.9 .9l-38 1l-8.7 .6l-8.8-.1l-8.8 .5l-8.3 0l-29.7 1.3l-16.5 1.7l-6.6 1.7l-3.6 1.3l-2.6 1.3l-.7 1.3l6.5 5.7l6.1 6.7l3.8 4.5l7.1 9.6l4.2 7.2l5.2 7.8l2.5 5l5.1 7.4l1.4 2.7l.9 2.7l0 3" stroke="#fea431"/>
<path d="M478.3 197.1l.1 2.8l-1.6 2l-2.3 .3l-35.9 1.2l-13.1-.1l-16.8 .4l-11 1l-19.3 .1l-10.7 .4l-8.5-.2l-16.2 1l-19.2 1.8l-7 1.3l-1.9 .9l.8 1.1l5.7 3l2.5 1.7l6.2 5.7l4 4.5l11 18.4l4.8 9.8l2.2 5.1l2.2 7.7l2.1 5.2" stroke="#fe9e2f"/>
<path d="M486.4 197.5l-2.2 1.7l-11.2 1l-11.3 0l-19.8 1.1l-10.8 0l-15 .7l-22.6 .2l-10.9 .7l-28.4 .7l-20.4 1.2l-8.3 1.1l-8.8 1.9l-2.9 1.1l-1.7 1.3l.6 1.6l5.3 3.5l2.1 1.8l3.8 4.3l7.8 12l11.8 16.3l2.7 4.5l2.5 4.9l6 13.5" stroke="#fe9b2d"/>
<path d="M488.9 197.2l1 2.9l-1.7 2.1l-6.5 1.1l-25.6 .8l-11.4 .6l-8.2-.1l-14.7 .2l-37.4 1.3l-26.4 .5l-8.2 .5l-9.2 .1l-19.9 1.9l-3.4 .6l-2.2 .9l.3 1l2.4 1.3l6.5 2.7l2.3 1.6l9.3 10.9l4.2 7.2l5.7 7.6l7.1 18.4l3.5 11.2" stroke="#fe992c"/>
<path d="M490.5 197.4l1.3 2.9l-.1 2.5l-2.9 1.5l-3.3 .9l-6 .7l-23.3 .3l-11.7 .8l-11.2-.1l-31.9 .7l-8.7 0l-9.2 .6l-8.9-.1l-11.3 .6l-11.7 0l-8.1 .7l-9.3 .4l-16.5 1.3l-1.7 .4l1 .6l9.8 3l2.6 1.3l4.4 3.7l4.2 4.8l3.7 4.7l2.9 4.5l6.2 13.5l1 2.7l2.3 8.1l3.2 8.2l2 5.9" stroke="#fe932a"/>
<path d="M494.9 197.5l.4 3l-1.6 2l-2.5 1.4l-2.8 1l-12.5 1.7l-8.8 .2l-8.2 .6l-8.3-.5l-15.1 .6l-15-.2l-11.7 .7l-9-.2l-20.6 1l-20.4 .2l-21.2 .9l-10.8 1l-10.6 .5l-1.5 .4l1.2 .8l6.3 2.7l2.5 1.5l2.2 1.8l4.3 4.2l3.8 4.7l4.3 7.3l3.7 5l1.6 2.6l2.8 8.2l4.3 8l2.5 8.2l1.1 2.9l1.5 2.9" stroke="#fe9029"/>
<path d="M488.6 197.6l-1.5 2.2l-2.8 .4l-39.6 1.5l-14.3 .1l-11.3 .8l-71.5 1.9l-20.4 1.7l-9.5 1.6l-3.3 1l-1.7 1.2l.9 1.3l5.9 3.4l2.3 1.8l1.7 1.9l18.6 25.6l3.5 7.4l5.4 10l4 11.2" stroke="#fd8a26"/>
<path d="M482.3 197.3l.7 8.6l-1.7 1.8l-12.1 .9l-10.5-.2l-12.2 .7l-14.5-.2l-16.7 .6l-11.6 0l-7.9 .5l-28.8 .2l-19.4 .7l-14.8 1.2l-16.4 .6l7.2 1.8l3 1.2l2.3 1.4l4.5 3.8l4.3 4.7l1.8 2.5l1.4 2.3l4.5 9.9l4.3 8l1.1 2.6l2.3 8.1l3.3 7.8l1.6 5.7" stroke="#fc8725"/>
<path d="M497.2 197.3l-14.2 .9l-9.4 .1l-9.1 .9l-9-.2l-8.2 .7l-12.6 .1l-37.3 1.4l-15.6 .2l-14.3 1l-14.7 .2l-17.8 1.1l-8.8 1l-6.1 1.2l-3.5 1.1l-2.9 1.4l-1.4 1.5l.9 1.7l5.3 3.9l1.8 2.1l5.1 7.2l7.8 9.1l6.7 10.1l5.5 7.1l1.5 2.4l2.5 5.2l5.3 13.9" stroke="#fc8423"/>
<path d="M499.0 196.9l-2.1 2.1l-2.9 1.1l-6 1.2l-6 .7l-23.7 1.2l-9.2-.2l-11.7 .3l-15.2 .8l-34.4 .6l-15.5 .7l-26.7 .6l-21.2 1.7l-10 1.8l-2.5 .9l-.1 1.2l5.9 3.9l2.3 2.1l1.8 2.4l6.3 9.8l9.3 11.6l3.5 4.8l3.1 5l8.4 15.7l1.2 2.8l.7 3" stroke="#fb7e21"/>
<path d="M494.3 197.6l.3 2.9l-.8 2.3l-5.3 2.9l-2.8 .7l-5.9 .8l-53.8 1.5l-15-.1l-9.1 .4l-9.1-.2l-8.6 .4l-9.3 0l-8.9 .6l-32.9 1.2l-19.6 1.2l8 2.8l2.6 1.2l4.5 3.4l4.3 5.1l9.9 15.2l2.9 5.3l8.8 18.7l2.1 5.8l.7 2.9" stroke="#fa7b1f"/>
<path d="M487.8 197.4l.7 6.1l-.4 2.3l-2.6 1.4l-2.9 .7l-3 .2l-23.5 .7l-23 .2l-8.6-.2l-26.8 1l-22.9 .2l-37.5 1.5l-21.2 1.2l-.5 .4l9.1 2.6l2.6 1.2l2.2 1.6l2.1 2l5.5 7.1l7.5 12.4l3.6 8l4.8 7.9l1 2.7l1 8.3l.9 2.8l1.8 2.7" stroke="#f9751d"/>
<path d="M481.9 197.4l0 6l-.8 2.2l-2.4 .3l-5.6 0l-19.8 .9l-42.8 .9l-13.8-.2l-31.6 1.3l-8 0l-17.4 .8l-23.9 2l-.5 .4l8.5 2.9l2.9 1.5l2.2 1.5l4.2 3.6l2.1 2.2l3.6 4.6l8.2 14.7l2.7 7.7l4.9 10.9l1.6 5.3l.7 5.8" stroke="#f8721c"/>
<path d="M497.3 197.2l-.4 2.9l-2.6 1.7l-2.6 1.3l-2.7 .6l-8.7 .9l-15 .6l-60.9 1.3l-26.3 1l-5.6-.2l-9.4 .6l-9.2 .1l-20.1 1l-15.6 1.7l-.8 .5l7.9 3.5l2.8 1.5l5.2 3.7l4.5 4.2l3.4 4.5l5.2 10.3l2.3 5.5l3.4 11.2l3.8 10.9l1.4 6.1" stroke="#f66c19"/>
<path d="M499.9 197.4l-.2 2.5l-5.6 3.8l-3.2 1.2l-3 .8l-7.9 1.2l-9.3 .6l-15 0l-29.6 .9l-47.8 .5l-23.3 1.1l-9.8 .1l-14.5 1.3l-16.1 .6l.1 .4l6.8 2l3.3 1.4l2.4 1.6l2.1 2.1l3.9 5l9.8 15l4.4 8.2l7 16.2l1.7 5.6l.4 2.7" stroke="#f56918"/>
<path d="M498.7 197.2l-.1 2.4l-2.3 1.7l-2.7 1.4l-6.1 1.4l-9 1.2l-21.1 .5l-10.6 .6l-12.6-.2l-23.5 .7l-29.1 .6l-30 1l-21 1.1l-12.7 1.5l-1.1 .5l1.5 .8l10.4 3.4l2.7 1.5l2.5 1.8l2 2.3l3.4 5l5.2 6.9l1.4 2.6l3.1 8.4l5.8 13.9l3.3 14.4" stroke="#f46617"/>
<path d="M498.3 197.1l-3 1.7l-3.3 .6l-20 1.8l-24.2 .5l-26.4 1.1l-29.4 .4l-9.1 .5l-8.6-.1l-8.7 .7l-23.3 .6l-18.4 1.9l-10.2 2.5l-1.6 1.1l.7 1.2l5.5 3.8l3.9 4.3l1.8 2.3l6.8 9.9l5.9 7.1l3.5 4.8l9.1 14.9l5.7 13.9" stroke="#f26014"/>
<path d="M485.2 197.3l-2.3 1l-19.7 .8l-11.1 .2l-27.6 1.3l-17.4 .1l-13.9 .9l-14.2-.1l-11.3 .8l-16.3 .4l-19.6 1.4l-5.5 .7l-6.1 1.1l-3.2 .8l-2.2 1.1l-.6 1.5l1.5 1.9l5 4.2l1.9 1.9l4.9 6.3l6 6.5l3.5 4.8l9.4 17l6.1 12.6l1.9 5.2l.5 2.4" stroke="#f15d13"/>
<path d="M492.4 197.6l-.2 5.7l-2.5 1.7l-2.6 .9l-2.7 .6l-8.3 1.1l-12.3-.2l-102.1 2.2l-41.4 2l-3.4 .3l-1.7 .4l1.2 .8l7 2.4l2.5 1.4l1.7 1.8l12.3 16.3l3.2 5.3l7.7 15.6l1.1 2.7l2.4 8.4l1.1 2.7l1.5 2.7" stroke="#ef5811"/>
<path d="M501.2 197.7l-1.5 1.8l-4.8 3.5l-2.4 1.3l-5.5 1.9l-6 .9l-12.1 .8l-20.6 0l-50.2 1.1l-11.8-.1l-14.7 .9l-17.9 0l-30.5 1.9l-3.4 .4l-1.7 .4l.9 .7l9.4 2.9l2.7 1.4l2.6 1.8l2.2 2.2l7.9 11.7l2.8 5.5l3.6 8.2l3.3 11.1l3 8.6l.6 2.9l.3 2.9" stroke="#ed5510"/>
<path d="M486.4 197.2l.6 2.7l-1.6 1.9l-8.4 1.2l-8.9 .1l-11.1 .6l-11.4 .1l-40.9 1.3l-10.3 0l-14.6 .8l-14.5 .4l-11.3-.2l-25.8 2.1l-9.3 1.1l-3 .6l-1.2 .8l1.1 1.1l10 3.9l2.3 1.5l9.3 10.8l1.7 2.4l2.5 4.9l4.7 7.5l1.1 2.6l5.7 13.4l4.2 13.4" stroke="#ec530f"/>
<path d="M494.1 197.1l.6 3.5l-1.2 2.4l-2.5 1.5l-2.8 .9l-2.8 .4l-20.8 1.5l-29.5 .1l-12.4 .5l-14.2-.1l-23.2 .9l-24 .2l-14.5 .9l-12.1 .2l-8.5 1.1l-10.5 .7l-.9 .3l9.1 2.7l2.7 1.4l2 1.7l1.8 2.1l7.6 9.7l4.7 7.6l9.1 18.5l3.2 8.3l2.2 8.2" stroke="#ea4e0d"/>
<path d="M484.0 197.5l.7 3.2l.3 2.8l-.5 2.4l-2.8 1.1l-3.2 .2l-36.9 1.1l-34.8 .4l-32.7 .9l-10.9 0l-9.3 .5l-11 .2l-11.8 1.1l-16 .4l-4.3 .4l4.9 2.4l2.4 1.7l1.9 2l10.4 14.6l9.1 11.6l8.8 14.6l4.6 10.6l1.5 2.8" stroke="#e84b0c"/>
<path d="M491.5 197.2l-.2 5.6l-1.8 2l-2.4 1.2l-2.5 .7l-2.8 .4l-25.9 .9l-21.2 .2l-11.5 .6l-26.2-.1l-11.7 .7l-12-.1l-17.1 1l-9.2-.2l-11 1l-8.6 .2l-10.5 1l-.9 .3l8.6 2.8l2.5 1.2l4.1 3.4l4.4 4.7l2 2.6l3.8 7.3l5.2 8l5.9 16l4.4 13.8" stroke="#e5470b"/>
<path d="M484.2 197.4l.1 2.6l-2.4 1.3l-24.7 1.2l-25.6 .4l-14.2 .8l-8.5-.1l-39 1.3l-19.9 .4l-11.1 .9l-11.4 .5l-9.3 1.6l-2.9 .8l-1.6 .9l.6 1.2l4.6 4.3l16.7 22.3l4.3 7.5l8.1 11.7l1.3 2.5l4 10.6l1.3 2.5" stroke="#e4450a"/>
<path d="M492.3 197.2l0 6l-.8 2.4l-2.3 1.7l-2.5 1.3l-5.8 .8l-29.9 1.1l-25.6-.1l-13.1 .4l-7.9-.1l-8.9 .4l-24.4 .1l-10.8 .8l-18.2 .4l-25 1.4l-.3 .3l13.3 1.9l2.1 1l4.2 3.8l4.5 5.2l3.1 5l3.7 7.7l3.7 11.1l2.7 5.7l1 2.7l2.2 11.4l1 3.2" stroke="#e2430a"/>
<path d="M500.6 197.2l-.9 2.7l-2.7 2.1l-2.1 2.2l-2.1 1.7l-5.4 2.1l-3.2 .8l-6.1 .9l-8.4 .5l-18.4 .4l-30.6-.3l-5.6 .5l-8.5-.1l-8.7 .5l-9.4-.2l-8.6 .6l-10.5-.1l-4.3 .5l-11.9 .1l-12.5 .7l-12.2 .2l-12.5 1l.4 .3l9.4 1.6l2.2 1.2l2.1 1.8l3.9 4.8l6 10.2l5.3 8.1l3.5 8l3.4 5.5l1.1 2.8l1.4 8.6l1 2.7l1.9 2.7" stroke="#df3f08"/>
<path d="M477.7 197.3l.6 2.8l-1 2.3l-2.9 .6l-9 .5l-18.7 .2l-11.6 .7l-7.8-.4l-8.4 .6l-36.3 .9l-8.1-.1l-8.2 .7l-11.4 .3l-30.4 1.7l-5.6 .7l-6.1 1.5l-1.2 .9l1.4 1.5l2.6 2l3.9 4.4l9.2 13.7l5.3 6.4l10.4 13.4l2.8 4.8l3.9 9.8l2.7 5.5" stroke="#dd3d08"/>
<path d="M478.4 197.3l0 5.7l-.8 2.2l-2.5 .5l-11.5 .7l-10.9 0l-10 .5l-59.1 .8l-15.8 .7l-11.3 .1l-30.5 1.9l-6.8 .6l-2.1 .5l.2 .7l9.3 3.3l2.6 1.3l2.2 1.6l1.8 2l8.1 10.8l4.2 7.6l3.7 7.6l.9 2.5l2.2 7.9l4.7 10.4l.5 2.6l-.3 2.6" stroke="#da3907"/>
<path d="M476.1 197.2l.4 8.2l-2.1 1.4l-33.8 1.2l-7.9-.4l-8.2 .7l-8.7-.3l-7.9 .4l-11.1 .1l-26.9 .9l-19 .3l-11.6 .7l-8.3 0l-12.5 1.8l-.7 .4l8.5 1.7l3.2 .9l2.3 1.2l2.1 1.6l4.3 3.9l6 6.6l2.6 4.7l6.2 15.1l1.4 5.2l4.2 19.2" stroke="#d83706"/>
<path d="M483.5 197.3l.2 3.1l-.4 2.4l-2.6 1.3l-14 .7l-9.2-.1l-9.5 .5l-29.2 .5l-13.9 .8l-11.6-.2l-13.2 .4l-8.7 .6l-13.7 .1l-16.9 .8l-18.4 1.7l-3.2 .5l-1.3 .5l1.1 .7l9.4 3.1l2.6 1.3l6.8 5.3l4.3 4.4l1.8 2.2l2.7 4.5l6.1 15.7l5.3 18.7l1.2 5.9" stroke="#d43305"/>
<path d="M489.2 197.1l1.5 3.2l-.6 2.4l-2.9 1l-3.3 .5l-14.1 .8l-17.5 .3l-20.9 .8l-13.6-.1l-11.5 .6l-31.8 .3l-20.1 .7l-11.3 1l-11.8 .6l-13.1 1.4l-.8 .6l11.2 3.8l5.2 3.1l2.5 1.9l2.2 2.3l7.3 9.1l1.4 2.3l1 2.7l2 8.3l4.5 11l2.6 11.3l.9 2.7l1.3 2.7" stroke="#d23105"/>
<path d="M499.5 197.2l-.7 2.4l-4.9 3.4l-2.6 .9l-5.7 1.3l-9.2 1.2l-6.1 .3l-23.5 .1l-32.8 .9l-44.2 .7l-26.7 1.1l-25.3 2l-.9 .5l1.7 .8l10.5 3.3l2.3 1.2l4.5 3.6l2.2 2.4l3.7 5.1l4.5 7.4l2.5 5.5l2 8.4l2.5 5.4l1 2.9l1.9 9l1.1 2.9l1.6 2.7" stroke="#d02f05"/>
<path d="M486.3 197.3l.9 3.4l.2 3l-.1 2.5l-1.9 2l-3 .7l-16.8 1l-9.5-.3l-13.7 .1l-12.1 .7l-6.1-.3l-22.3 0l-11.5 .9l-11.2-.1l-31.5 .9l-17.3 .9l-12.3 1.1l6.2 1l3.2 .8l2.4 1.1l4.8 3.3l4.2 4.7l1.7 2.5l3.4 7.2l4.9 8.1l2.7 8.2l4.2 10.7l1.3 5.4l.9 5.8" stroke="#cc2b04"/>
<path d="M474.8 197.3l0 2.5l-1.2 2.2l-2.5 .4l-8 .5l-14.2 .2l-8.3 .6l-12.6 .4l-11.2 0l-26.3 .8l-8.4 0l-8.2 .7l-8-.2l-10.8 .7l-13.5 .4l-19.7 1.9l-3.1 .4l-1.5 .7l.7 .8l2.2 1.3l8.9 4.6l4.5 3.2l3.6 4l6.2 8.6l2.7 4.8l2.1 5l3.2 9.9l3 7.8l3.4 13.1" stroke="#ca2a04"/>
<path d="M496.6 197.6l.4 2.8l-4.7 3.2l-2.5 1l-11.9 1.8l-20.7 .6l-11.4 .6l-9-.2l-8.6 .4l-8.9-.2l-18.3 .3l-17.6 .7l-25.7 .5l-12 .9l-11.6 .2l-16.1 1.6l.1 .5l9.2 2.7l2.7 1.3l2.3 1.5l4.4 3.8l3.8 4.4l1.4 2.5l7.7 16.1l7.4 19.1l1.5 5.6l.4 3.2" stroke="#c52603"/>
<path d="M497.7 197.4l-1.8 1.9l-2.8 .8l-14.7 1.5l-14.9 .4l-11.3 .7l-11.8-.1l-8.8 .6l-23.2 .3l-23.6 1l-16.7 .2l-38.3 2.1l-6.8 .9l-3.3 .8l-2 .7l.3 1l8.7 4.8l8.1 5.2l4.5 4.1l3.4 4.5l4.8 10.4l6 16.3l4.4 17" stroke="#c32503"/>
<path d="M493.4 197.1l.7 2.9l-.1 2.6l-2.6 2l-2.8 1.8l-2.9 .9l-2.8 .4l-5.5 0l-11.9 .9l-5.6-.2l-9.1 .4l-11.1-.3l-12.4 .7l-20.8 .1l-14.1 .6l-23.9 0l-24.1 1.3l-10.4 .2l-16.3 1.3l-.5 .3l9.2 2.1l3 .9l2.3 1.3l2.3 1.7l2.2 2.1l6.1 7.7l1.6 2.3l2.6 4.9l6.6 16.5l1.6 5.6l1.6 8.4l2.2 6" stroke="#c12302"/>
<path d="M478.6 197.4l.6 2.6l-1.3 2.2l-8.8 .9l-11 0l-7.5 .4l-22.7 .6l-27.4 .3l-8.4 .6l-11.4 0l-27.8 1.1l-31.2 2l-3.3 .6l-1.5 .9l.9 1l11.9 4.5l2.4 1.5l2.1 1.6l3.9 3.9l3.6 4.1l3.3 4.4l3.7 7.4l3 7.9l3.4 13l2.7 8.4l1 5.2" stroke="#bc2002"/>
<path d="M485.4 197.3l.1 2.8l-2.5 1.2l-13.7 .3l-11.6 .6l-8.4 .1l-8.1 .5l-22.8 .5l-9.2 .6l-31.1 .3l-7.9 .7l-8.5 0l-17.1 .6l-13.6 1.1l-10.3 1.4l-2.8 .6l-.8 .8l1.2 1l12 5l4.9 3.5l4.6 4.3l5.1 6.5l2.6 4.7l2.6 7.9l3.2 8.3l2 8l2.8 8.3l.6 2.9l0 2.9" stroke="#b91e02"/>
<path d="M493.6 197.2l.8 3.4l.2 2.7l-2.4 1.8l-2.8 1.4l-2.9 .9l-12 1.7l-5.6 .2l-8.5-.3l-35.4 .5l-14.4 .6l-8.9-.2l-29.8 1l-8.3-.2l-7.8 .8l-9.6 0l-11.8 1l-15.9 .4l-.5 .2l9.1 2l3.1 1l4.8 3l4.6 4.1l2 2.2l2.8 5l6.2 16.5l4.1 8.6l.8 2.9l.6 8.2l.8 2.8l1.7 3" stroke="#b41b01"/>
<path d="M484.0 197.5l.2 2.7l-1.7 2.1l-2.7 .2l-36.4 1.3l-19 .1l-14.8 .9l-13.7-.2l-11.3 .7l-14.7 .3l-13.4 .7l-13.8 .1l-20.3 2.3l-3.5 .6l-1.8 .7l.8 .8l9 3.8l2.5 1.4l4.6 3.5l4.4 4l1.9 1.9l3.3 4.4l3 5.2l2.2 5.2l2.8 10.6l2.9 8.1l1.5 8.2l.8 2.6l1.3 2.5" stroke="#b21a01"/>
<path d="M496.1 197.4l-1.4 2.2l-2.8 1l-2.7 .7l-5.3 .7l-15.3 1.1l-11.1 0l-32.1 .7l-50.3 1.4l-20.7 1.2l-11 .1l-17.8 1.4l-7.4 1.3l-1.5 .7l1 .8l9.9 3.8l2.9 1.6l8.8 7.7l3.9 4.5l1.5 2.5l3.9 7.8l3.3 8.2l5.1 17l1.6 8.6" stroke="#ac1701"/>
<path d="M490.0 197.3l-.2 2.5l-2.7 1.1l-5.9 .5l-34.5 1l-7.9 .7l-8.4-.1l-11.8 .7l-11.7 0l-8.4 .5l-11.6 .1l-10.6 .5l-14.5 0l-28.9 1.7l-12.5 1.9l-2.5 .7l-.3 .7l1.7 1.1l6.3 2.9l3 1.6l2.3 1.8l6.5 5.9l3.9 4.3l1.7 2.3l2.7 4.9l3.6 8.1l5.4 15.9l1.5 5.6l1.6 8.2" stroke="#a91601"/>
<path d="M489.6 197.1l.9 3.4l.1 2.7l-1.6 2.3l-3 1.1l-3.2 .6l-11.1 .6l-23.6 .3l-11.2 .7l-12.2-.3l-8.5 .5l-12-.3l-11.6 .6l-11.7 0l-20.3 .8l-7.9 0l-12.2 1.1l-18.9 .6l-5.3 .7l.8 .6l2.7 .7l8 1.7l3 .9l2.3 1.3l2 1.7l4 4.6l7.8 12.3l2.9 5.6l2.2 8.2l4 11.1l2.5 11.3" stroke="#a71401"/>
<path d="M491.4 197.2l0 6.2l-.4 2.4l-2.3 1.6l-2.6 1.1l-6 .9l-26.3 .9l-14.6-.3l-12.2 .7l-8.4-.3l-9 .4l-26.5 .3l-17.4 .6l-11.6 0l-35.8 1.9l-.2 .3l11.9 2.2l2.3 1.2l2.2 1.7l4.4 4.4l5.9 7.3l2.6 5l6 16.8l3.2 11.3l1.8 8.8" stroke="#a11201"/>
<path d="M497.9 197.4l-1.2 2.2l-4.8 2.6l-2.3 .6l-5.4 .9l-15.5 1.3l-17.2 .5l-8.6-.1l-5.7 .3l-9.8-.1l-29 1.1l-11.3-.1l-8.7 .4l-12.2 .2l-41.4 2.3l-6.3 .8l-.3 .8l2 1l7.3 2.6l3.1 1.5l2.4 1.6l4.1 3.9l7.3 9l1.7 2.4l2.3 5.7l6.1 19.4l3.2 14.3" stroke="#9e1001"/>
<path d="M494.3 197.1l.5 3l-2.1 2l-2.7 1.3l-2.8 .8l-8.1 1.1l-20.8 .7l-15.6-.1l-8.3 .5l-8-.2l-12.4 .7l-12-.1l-10.9 .6l-29.6 .4l-8.7 .8l-11.6 .2l-19.1 1.6l-5.4 .8l.3 .6l9.5 3l3 1.4l2.4 1.6l2.2 1.9l4.1 4.4l5.4 7l2.8 5.1l2.2 5.5l6.5 19.4l3 11.5" stroke="#980e01"/>
<path d="M479.5 197.0l.8 6.9l-.4 4.7l-2.7 1l-16.7 .5l-23.1 .4l-13.7-.1l-37.2 .8l-39.6 1.1l-19.8 1.1l-9.8 .1l10 1.8l3.4 .8l2.6 1l2.2 1.4l2.1 1.8l6.1 6.9l3.2 4.8l2.2 5l3.5 10.8l2.9 10.8l2.9 8.5l1.3 5.6" stroke="#950d01"/>
<path d="M493.6 197.2l.3 6l-1.7 2.1l-2.4 1.7l-2.7 1.3l-5.6 .9l-20.4 .8l-8.4-.2l-9.9 .5l-23.2 0l-8.6 .4l-8.9-.1l-20.1 .9l-12.3-.2l-8.8 .7l-19.8 .4l-11.7 .8l-10.6 .4l-.4 .4l8.8 1.6l2.8 .7l2.4 1.1l5.1 3.9l2.4 2.4l3.8 5l4.3 7.4l1.4 2.8l.9 2.7l1 5.6l.8 2.7l2.7 5.5l1.1 2.8l2.2 11.5l.9 2.7" stroke="#920b01"/>
<path d="M489.8 197.4l.7 2.8l-2.1 1.7l-2.8 .5l-11.6 .9l-12.2-.2l-7.6 .7l-49.4 1l-20 .9l-12-.1l-39.4 1.9l-9.3 1.1l-7 1.2l-.7 .7l8.4 3.4l3.1 1.5l2.2 1.5l11.5 9.9l1.9 2.4l1.1 2.3l3.7 10.5l4.8 11.1l1.3 5.5l1.1 8.3l.7 2.8l1.2 2.8" stroke="#8b0902"/>
<path d="M483.2 197.4l-.1 5.9l-.4 2.2l-2.5 .7l-11.1 .9l-8.2-.1l-11.5 .6l-28.4 .2l-14.4 .4l-8.8-.1l-13.9 1l-11.4-.5l-8 .7l-28.9 1.1l-17.9 1.5l-.5 .4l8 2.5l3.1 1.1l2.5 1.3l4.8 3.6l2.3 2.1l3.6 4.4l1.4 2.4l6.4 13l2.2 8l5.2 13.5l1.3 5.4l.3 2.9" stroke="#880802"/>
<path d="M494.5 197.3l-.4 2.7l-2.7 1.3l-2.8 .7l-5.5 .6l-46.5 1.6l-32.2 .5l-17.9 .8l-10.8 0l-14.9 .7l-11.3 .2l-17.8 1.4l-9.9 1.1l-3 .5l-.9 .8l1.4 .9l9.6 3.8l2.8 1.4l5.1 3.5l4.3 3.9l3.5 4.6l1.6 2.6l2.4 5.3l3.1 11l4.3 11.1l1.6 5.6l1.4 8.5" stroke="#810602"/>
<path d="M487.2 197.0l.4 3.1l-1.7 2.1l-5.6 .8l-37.1 1.5l-19.4-.2l-19.6 1l-23.1 .2l-8.2 .7l-12.5-.2l-27.3 1.6l-13.5 1.5l-1.9 .5l.7 .9l11.3 5.2l4.8 3.2l4.9 4l3.3 4.2l4.1 7.2l5.5 13.6l4.6 16.2l1.8 8.2" stroke="#7e0502"/>
<path d="M477.2 197.1l1 3.3l.4 2.6l-1.5 2.1l-30.6 1.1l-55.6 .7l-22.1 .9l-13.6 .2l-24.7 1.5l-11.3 1.5l-.9 .5l1.1 .8l9.1 3.2l5.2 2.8l2.2 1.7l3.9 3.9l4.8 6.6l2.6 5.1l1 2.6l6.1 18.6l1.3 5.1l2.3 10.7" stroke="#7a0403"/>
<path d="M470.2 207.0l-74.8 3.5l-23.8 1.8l-20.8 .6l-6.3 .8l-2.7 1.4l-5.3 3.4l.1 2.3l1.9 2.7l1.3 2.6l8.6 19.2l.9 2.9l2.8 14.6l.4 5.9l.1 9l.3 3l2.3 8.8l2.5 11.7l.2 3l-1.4 9l-.3 3l-.2 11.9l.4 6l2.4 11.9M469.3 207.0h1.8M466.9 207.1h1.8M464.5 207.2h1.8M462.1 207.3h1.8M459.7 207.5h1.8M457.3 207.6h1.8M454.9 207.7h1.8M452.5 207.8h1.8M450.1 208.0h1.8M447.7 208.1h1.8M445.3 208.2h1.8M442.9 208.3h1.8M440.5 208.5h1.8M438.1 208.6h1.8M435.7 208.7h1.8M433.3 208.9h1.8M430.9 209.0h1.8M428.6 209.1h1.8M426.2 209.2h1.8M423.8 209.3h1.8M421.4 209.4h1.8M419.0 209.5h1.8M416.6 209.6h1.8M414.2 209.7h1.8M411.8 209.8h1.8M409.4 209.9h1.8M407.0 210.0h1.8M404.6 210.1h1.8M402.2 210.2h1.8M399.8 210.3h1.8M397.4 210.4h1.8M395.0 210.5h1.8M392.6 210.7h1.8M390.2 210.8h1.8M387.8 210.9h1.8M385.4 211.1h1.8M383.0 211.3h1.8M380.6 211.5h1.8M378.2 211.8h1.8M375.8 212.0h1.8M373.4 212.2h1.8M371.1 212.3h1.8M368.7 212.4h1.8M366.3 212.4h1.8M363.9 212.5h1.8M361.5 212.5h1.8M359.1 212.6h1.8M356.7 212.6h1.8M354.3 212.7h1.8M351.9 212.8h1.8M349.5 212.9h1.8M347.1 213.1h1.8M344.7 213.5h1.8M342.5 214.3h1.8M340.4 215.5h1.8M338.4 216.8h1.8M336.3 218.1h1.8M335.7 220.0h1.8M336.7 222.2h1.8M337.9 224.2h1.8M339.0 226.3h1.8M340.0 228.5h1.8M341.0 230.7h1.8M342.0 232.9h1.8M343.0 235.1h1.8M344.0 237.2h1.8M345.0 239.4h1.8M346.0 241.6h1.8M346.9 243.8h1.8M347.7 246.1h1.8M348.4 248.4h1.8M348.8 250.7h1.8M349.2 253.1h1.8M349.6 255.5h1.8M350.1 257.8h1.8M350.7 260.2h1.8M351.1 262.5h1.8M351.4 264.9h1.8M351.5 267.3h1.8M351.6 269.7h1.8M351.6 272.1h1.8M351.6 274.5h1.8M351.6 276.9h1.8M351.8 279.3h1.8M352.2 281.7h1.8M352.7 284.0h1.8M353.4 286.3h1.8M354.0 288.6h1.8M354.6 290.9h1.8M355.1 293.3h1.8M355.6 295.6h1.8M356.2 298.0h1.8M356.6 300.3h1.8M356.9 302.7h1.8M356.9 305.1h1.8M356.7 307.5h1.8M356.2 309.8h1.8M355.7 312.2h1.8M355.5 314.6h1.8M355.4 317.0h1.8M355.4 319.4h1.8M355.4 321.8h1.8M355.3 324.2h1.8M355.2 326.6h1.8M355.2 329.0h1.8M355.2 331.4h1.8M355.5 333.7h1.8M355.9 336.1h1.8M356.3 338.5h1.8M356.8 340.8h1.8M357.3 343.2h1.8M357.8 345.5h1.8" stroke="#920b01" stroke-width=".55"/>
<path d="M357.4 262.0l0 1.8l.7 3.7l2.2 7.4l2.2 5.6l1 7.4l1.9 9.3l1.9 7.5l.7 9.5l-.6 3.8l0 1.9l2.6 5.7l0 1.8l-.7 3.8l-.1 1.9l.7 1.9M356.5 262.0h1.8M356.6 264.4h1.8M357.0 266.8h1.8M357.7 269.1h1.8M358.4 271.3h1.8M359.1 273.6h1.8M359.8 275.9h1.8M360.7 278.2h1.8M361.5 280.4h1.8M362.0 282.8h1.8M362.1 285.2h1.8M362.5 287.5h1.8M363.0 289.9h1.8M363.6 292.2h1.8M364.0 294.6h1.8M364.4 296.9h1.8M364.9 299.3h1.8M365.5 301.6h1.8M366.2 303.9h1.8M366.6 306.3h1.8M366.8 308.7h1.8M366.9 311.1h1.8M367.0 313.4h1.8M366.9 315.8h1.8M366.5 318.2h1.8M366.7 320.6h1.8M367.8 322.7h1.8M368.8 324.9h1.8M369.1 327.2h1.8M368.7 329.6h1.8M368.4 332.0h1.8M368.8 334.3h1.8" stroke="#920b01" stroke-width=".55"/>
</g>
<g class="t">
<rect x="302.0" y="190.2" width="209.4" height="163.8" fill="none" stroke="#555" stroke-width=".95"/>
<path d="M317.2 354.0v1.5M340.8 354.0v1.5M364.5 354.0v1.5M388.1 354.0v1.5M411.8 354.0v1.5M435.4 354.0v1.5M459.0 354.0v1.5M482.7 354.0v1.5M506.3 354.0v1.5M302.0 197.5h-1.5M302.0 216.6h-1.5M302.0 235.7h-1.5M302.0 254.8h-1.5M302.0 273.9h-1.5M302.0 293.0h-1.5M302.0 312.1h-1.5M302.0 331.2h-1.5M302.0 350.3h-1.5M525.0 196.4h1.2M525.0 219.1h1.2M525.0 241.7h1.2M525.0 264.4h1.2M525.0 287.1h1.2M525.0 309.8h1.2M525.0 332.4h1.2" stroke="#333" stroke-width=".5" fill="none"/>
<text x="317.2" y="359.7" text-anchor="middle">5.1</text>
<text x="340.8" y="359.7" text-anchor="middle">5.2</text>
<text x="364.5" y="359.7" text-anchor="middle">5.3</text>
<text x="388.1" y="359.7" text-anchor="middle">5.4</text>
<text x="411.8" y="359.7" text-anchor="middle">5.5</text>
<text x="435.4" y="359.7" text-anchor="middle">5.6</text>
<text x="459.0" y="359.7" text-anchor="middle">5.7</text>
<text x="482.7" y="359.7" text-anchor="middle">5.8</text>
<text x="506.3" y="359.7" text-anchor="middle">5.9</text>
<text x="300.6" y="199.4" text-anchor="end">0</text>
<text x="300.6" y="218.5" text-anchor="end">250</text>
<text x="300.6" y="237.6" text-anchor="end">500</text>
<text x="300.6" y="256.7" text-anchor="end">750</text>
<text x="300.6" y="275.8" text-anchor="end">1000</text>
<text x="300.6" y="294.9" text-anchor="end">1250</text>
<text x="300.6" y="314.0" text-anchor="end">1500</text>
<text x="300.6" y="333.1" text-anchor="end">1750</text>
<text x="300.6" y="352.2" text-anchor="end">2000</text>
<text x="526.6" y="198.3">175</text>
<text x="526.6" y="221.0">150</text>
<text x="526.6" y="243.6">125</text>
<text x="526.6" y="266.3">100</text>
<text x="526.6" y="289.0">75</text>
<text x="526.6" y="311.6">50</text>
<text x="526.6" y="334.3">25</text>
<rect x="516.2" y="190.1" width="8.8" height="164.4" fill="url(#tb)"/>
<text class="al" x="406.7" y="366.5" text-anchor="middle">dissolved Oxygen(μmol/kg)</text>
<text class="al" transform="translate(286.8 271.1) rotate(-90)" text-anchor="middle">sea water pressure,equals 0 at sea-level(dbar)</text>
<text class="al" transform="translate(540.3 272.3) rotate(-90)" text-anchor="middle">profile number</text>
<text x="275.4" y="198.2" class="lt">(d)</text>
</g>
</svg>
</body></html>
